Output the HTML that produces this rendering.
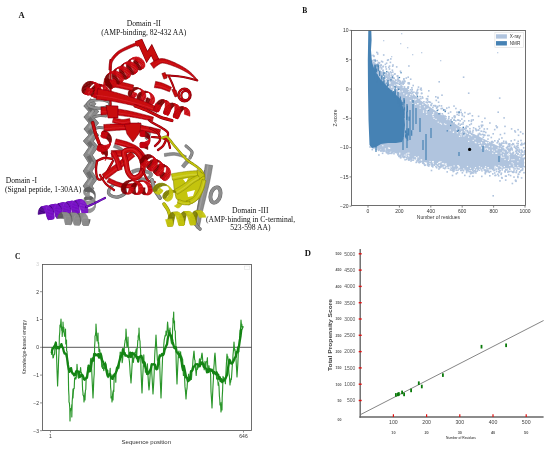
<!DOCTYPE html>
<html><head><meta charset="utf-8"><style>
html,body{margin:0;padding:0;background:#fff;}
svg{display:block;}
</style></head><body>
<svg width="550" height="449" viewBox="0 0 550 449">
<rect width="550" height="449" fill="#fff"/>
<g font-family="Liberation Sans, DejaVu Sans, sans-serif"><polygon points="369.0,58.0 372.0,62.0 380.0,70.0 390.0,78.0 400.0,84.0 410.0,91.0 420.0,100.0 430.0,107.0 440.0,114.0 450.0,120.5 460.0,127.0 470.0,132.0 480.0,137.0 490.0,142.0 500.0,147.0 510.0,153.0 518.0,156.0 524.0,158.0 524.0,167.0 520.0,167.0 510.0,168.0 500.0,169.0 490.0,169.5 480.0,170.0 470.0,170.0 460.0,169.5 450.0,168.0 440.0,166.0 428.0,163.0 415.0,159.5 404.0,156.0 392.0,152.0 380.0,149.5 370.0,146.0" fill="#b0c4de"/><rect x="382.5" y="65.5" width="1.6" height="1.6" fill="#b0c4de"/><rect x="459.4" y="124.4" width="1.6" height="1.6" fill="#b0c4de"/><rect x="443.5" y="109.0" width="1.6" height="1.6" fill="#b0c4de"/><rect x="386.8" y="59.5" width="1.6" height="1.6" fill="#b0c4de"/><rect x="435.9" y="107.5" width="1.6" height="1.6" fill="#b0c4de"/><rect x="517.4" y="140.5" width="1.6" height="1.6" fill="#b0c4de"/><rect x="477.1" y="135.1" width="1.6" height="1.6" fill="#b0c4de"/><rect x="520.1" y="144.0" width="1.6" height="1.6" fill="#b0c4de"/><rect x="507.4" y="145.5" width="1.6" height="1.6" fill="#b0c4de"/><rect x="489.1" y="122.2" width="1.6" height="1.6" fill="#b0c4de"/><rect x="427.2" y="95.6" width="1.6" height="1.6" fill="#b0c4de"/><rect x="513.6" y="146.3" width="1.6" height="1.6" fill="#b0c4de"/><rect x="415.4" y="161.6" width="1.6" height="1.6" fill="#b0c4de"/><rect x="403.1" y="156.6" width="1.6" height="1.6" fill="#b0c4de"/><rect x="475.0" y="170.3" width="1.6" height="1.6" fill="#b0c4de"/><rect x="486.8" y="169.5" width="1.6" height="1.6" fill="#b0c4de"/><rect x="500.9" y="142.4" width="1.6" height="1.6" fill="#b0c4de"/><rect x="391.9" y="151.6" width="1.6" height="1.6" fill="#b0c4de"/><rect x="504.2" y="125.6" width="1.6" height="1.6" fill="#b0c4de"/><rect x="431.1" y="163.4" width="1.6" height="1.6" fill="#b0c4de"/><rect x="397.1" y="153.7" width="1.6" height="1.6" fill="#b0c4de"/><rect x="457.1" y="169.3" width="1.6" height="1.6" fill="#b0c4de"/><rect x="501.1" y="137.2" width="1.6" height="1.6" fill="#b0c4de"/><rect x="465.9" y="170.8" width="1.6" height="1.6" fill="#b0c4de"/><rect x="377.6" y="67.0" width="1.6" height="1.6" fill="#b0c4de"/><rect x="399.2" y="81.4" width="1.6" height="1.6" fill="#b0c4de"/><rect x="388.8" y="65.3" width="1.6" height="1.6" fill="#b0c4de"/><rect x="500.9" y="176.8" width="1.6" height="1.6" fill="#b0c4de"/><rect x="402.3" y="80.3" width="1.6" height="1.6" fill="#b0c4de"/><rect x="377.2" y="148.2" width="1.6" height="1.6" fill="#b0c4de"/><rect x="460.6" y="169.6" width="1.6" height="1.6" fill="#b0c4de"/><rect x="450.3" y="119.1" width="1.6" height="1.6" fill="#b0c4de"/><rect x="446.0" y="107.3" width="1.6" height="1.6" fill="#b0c4de"/><rect x="452.3" y="169.1" width="1.6" height="1.6" fill="#b0c4de"/><rect x="372.2" y="59.7" width="1.6" height="1.6" fill="#b0c4de"/><rect x="484.1" y="117.5" width="1.6" height="1.6" fill="#b0c4de"/><rect x="510.2" y="148.2" width="1.6" height="1.6" fill="#b0c4de"/><rect x="423.1" y="101.0" width="1.6" height="1.6" fill="#b0c4de"/><rect x="453.9" y="168.1" width="1.6" height="1.6" fill="#b0c4de"/><rect x="484.5" y="172.0" width="1.6" height="1.6" fill="#b0c4de"/><rect x="484.5" y="172.9" width="1.6" height="1.6" fill="#b0c4de"/><rect x="408.5" y="83.0" width="1.6" height="1.6" fill="#b0c4de"/><rect x="409.8" y="89.0" width="1.6" height="1.6" fill="#b0c4de"/><rect x="465.1" y="126.6" width="1.6" height="1.6" fill="#b0c4de"/><rect x="437.8" y="101.4" width="1.6" height="1.6" fill="#b0c4de"/><rect x="382.9" y="54.2" width="1.6" height="1.6" fill="#b0c4de"/><rect x="431.9" y="164.3" width="1.6" height="1.6" fill="#b0c4de"/><rect x="399.8" y="154.4" width="1.6" height="1.6" fill="#b0c4de"/><rect x="392.0" y="71.3" width="1.6" height="1.6" fill="#b0c4de"/><rect x="404.1" y="80.8" width="1.6" height="1.6" fill="#b0c4de"/><rect x="388.7" y="68.2" width="1.6" height="1.6" fill="#b0c4de"/><rect x="506.3" y="169.1" width="1.6" height="1.6" fill="#b0c4de"/><rect x="452.5" y="168.1" width="1.6" height="1.6" fill="#b0c4de"/><rect x="460.4" y="111.6" width="1.6" height="1.6" fill="#b0c4de"/><rect x="514.5" y="153.7" width="1.6" height="1.6" fill="#b0c4de"/><rect x="379.2" y="64.6" width="1.6" height="1.6" fill="#b0c4de"/><rect x="405.9" y="158.6" width="1.6" height="1.6" fill="#b0c4de"/><rect x="410.3" y="157.9" width="1.6" height="1.6" fill="#b0c4de"/><rect x="426.8" y="163.2" width="1.6" height="1.6" fill="#b0c4de"/><rect x="490.7" y="141.1" width="1.6" height="1.6" fill="#b0c4de"/><rect x="438.0" y="165.7" width="1.6" height="1.6" fill="#b0c4de"/><rect x="518.7" y="151.3" width="1.6" height="1.6" fill="#b0c4de"/><rect x="488.4" y="171.5" width="1.6" height="1.6" fill="#b0c4de"/><rect x="472.1" y="175.5" width="1.6" height="1.6" fill="#b0c4de"/><rect x="454.0" y="115.2" width="1.6" height="1.6" fill="#b0c4de"/><rect x="419.4" y="161.1" width="1.6" height="1.6" fill="#b0c4de"/><rect x="491.0" y="141.4" width="1.6" height="1.6" fill="#b0c4de"/><rect x="452.4" y="170.7" width="1.6" height="1.6" fill="#b0c4de"/><rect x="468.9" y="124.0" width="1.6" height="1.6" fill="#b0c4de"/><rect x="480.6" y="124.5" width="1.6" height="1.6" fill="#b0c4de"/><rect x="505.0" y="168.9" width="1.6" height="1.6" fill="#b0c4de"/><rect x="387.1" y="151.6" width="1.6" height="1.6" fill="#b0c4de"/><rect x="411.1" y="87.0" width="1.6" height="1.6" fill="#b0c4de"/><rect x="394.2" y="73.1" width="1.6" height="1.6" fill="#b0c4de"/><rect x="480.9" y="125.9" width="1.6" height="1.6" fill="#b0c4de"/><rect x="436.5" y="106.4" width="1.6" height="1.6" fill="#b0c4de"/><rect x="412.6" y="159.3" width="1.6" height="1.6" fill="#b0c4de"/><rect x="453.3" y="115.4" width="1.6" height="1.6" fill="#b0c4de"/><rect x="509.0" y="168.4" width="1.6" height="1.6" fill="#b0c4de"/><rect x="466.1" y="169.7" width="1.6" height="1.6" fill="#b0c4de"/><rect x="433.5" y="164.4" width="1.6" height="1.6" fill="#b0c4de"/><rect x="439.1" y="165.8" width="1.6" height="1.6" fill="#b0c4de"/><rect x="423.9" y="164.5" width="1.6" height="1.6" fill="#b0c4de"/><rect x="477.3" y="129.4" width="1.6" height="1.6" fill="#b0c4de"/><rect x="436.5" y="164.9" width="1.6" height="1.6" fill="#b0c4de"/><rect x="392.2" y="64.2" width="1.6" height="1.6" fill="#b0c4de"/><rect x="522.4" y="154.1" width="1.6" height="1.6" fill="#b0c4de"/><rect x="399.9" y="155.3" width="1.6" height="1.6" fill="#b0c4de"/><rect x="496.4" y="142.0" width="1.6" height="1.6" fill="#b0c4de"/><rect x="441.1" y="165.9" width="1.6" height="1.6" fill="#b0c4de"/><rect x="510.4" y="140.1" width="1.6" height="1.6" fill="#b0c4de"/><rect x="456.2" y="111.4" width="1.6" height="1.6" fill="#b0c4de"/><rect x="512.8" y="167.1" width="1.6" height="1.6" fill="#b0c4de"/><rect x="472.0" y="131.2" width="1.6" height="1.6" fill="#b0c4de"/><rect x="390.8" y="152.6" width="1.6" height="1.6" fill="#b0c4de"/><rect x="449.8" y="111.2" width="1.6" height="1.6" fill="#b0c4de"/><rect x="497.7" y="168.3" width="1.6" height="1.6" fill="#b0c4de"/><rect x="402.1" y="156.0" width="1.6" height="1.6" fill="#b0c4de"/><rect x="471.1" y="172.4" width="1.6" height="1.6" fill="#b0c4de"/><rect x="483.0" y="134.1" width="1.6" height="1.6" fill="#b0c4de"/><rect x="398.2" y="153.6" width="1.6" height="1.6" fill="#b0c4de"/><rect x="476.3" y="170.3" width="1.6" height="1.6" fill="#b0c4de"/><rect x="376.7" y="63.2" width="1.6" height="1.6" fill="#b0c4de"/><rect x="440.7" y="105.1" width="1.6" height="1.6" fill="#b0c4de"/><rect x="387.7" y="150.6" width="1.6" height="1.6" fill="#b0c4de"/><rect x="514.6" y="131.2" width="1.6" height="1.6" fill="#b0c4de"/><rect x="369.7" y="54.7" width="1.6" height="1.6" fill="#b0c4de"/><rect x="466.6" y="169.2" width="1.6" height="1.6" fill="#b0c4de"/><rect x="431.4" y="163.3" width="1.6" height="1.6" fill="#b0c4de"/><rect x="498.7" y="142.7" width="1.6" height="1.6" fill="#b0c4de"/><rect x="403.7" y="155.5" width="1.6" height="1.6" fill="#b0c4de"/><rect x="407.1" y="86.6" width="1.6" height="1.6" fill="#b0c4de"/><rect x="482.4" y="130.7" width="1.6" height="1.6" fill="#b0c4de"/><rect x="477.9" y="129.4" width="1.6" height="1.6" fill="#b0c4de"/><rect x="388.3" y="73.8" width="1.6" height="1.6" fill="#b0c4de"/><rect x="482.5" y="136.4" width="1.6" height="1.6" fill="#b0c4de"/><rect x="493.6" y="168.7" width="1.6" height="1.6" fill="#b0c4de"/><rect x="380.2" y="150.0" width="1.6" height="1.6" fill="#b0c4de"/><rect x="435.1" y="165.8" width="1.6" height="1.6" fill="#b0c4de"/><rect x="380.0" y="150.1" width="1.6" height="1.6" fill="#b0c4de"/><rect x="411.4" y="88.8" width="1.6" height="1.6" fill="#b0c4de"/><rect x="452.1" y="168.5" width="1.6" height="1.6" fill="#b0c4de"/><rect x="497.4" y="111.4" width="1.6" height="1.6" fill="#b0c4de"/><rect x="388.3" y="72.4" width="1.6" height="1.6" fill="#b0c4de"/><rect x="416.0" y="93.9" width="1.6" height="1.6" fill="#b0c4de"/><rect x="492.2" y="141.4" width="1.6" height="1.6" fill="#b0c4de"/><rect x="515.8" y="169.8" width="1.6" height="1.6" fill="#b0c4de"/><rect x="399.0" y="155.5" width="1.6" height="1.6" fill="#b0c4de"/><rect x="472.8" y="127.0" width="1.6" height="1.6" fill="#b0c4de"/><rect x="520.8" y="156.1" width="1.6" height="1.6" fill="#b0c4de"/><rect x="380.8" y="67.2" width="1.6" height="1.6" fill="#b0c4de"/><rect x="466.6" y="169.7" width="1.6" height="1.6" fill="#b0c4de"/><rect x="426.7" y="98.1" width="1.6" height="1.6" fill="#b0c4de"/><rect x="410.5" y="158.0" width="1.6" height="1.6" fill="#b0c4de"/><rect x="401.4" y="155.1" width="1.6" height="1.6" fill="#b0c4de"/><rect x="422.1" y="162.3" width="1.6" height="1.6" fill="#b0c4de"/><rect x="403.1" y="82.4" width="1.6" height="1.6" fill="#b0c4de"/><rect x="458.2" y="112.3" width="1.6" height="1.6" fill="#b0c4de"/><rect x="474.3" y="171.0" width="1.6" height="1.6" fill="#b0c4de"/><rect x="469.2" y="130.2" width="1.6" height="1.6" fill="#b0c4de"/><rect x="377.8" y="61.9" width="1.6" height="1.6" fill="#b0c4de"/><rect x="426.7" y="99.4" width="1.6" height="1.6" fill="#b0c4de"/><rect x="401.3" y="82.0" width="1.6" height="1.6" fill="#b0c4de"/><rect x="502.2" y="142.3" width="1.6" height="1.6" fill="#b0c4de"/><rect x="410.2" y="160.2" width="1.6" height="1.6" fill="#b0c4de"/><rect x="428.7" y="101.3" width="1.6" height="1.6" fill="#b0c4de"/><rect x="458.1" y="114.4" width="1.6" height="1.6" fill="#b0c4de"/><rect x="508.9" y="167.4" width="1.6" height="1.6" fill="#b0c4de"/><rect x="428.1" y="101.0" width="1.6" height="1.6" fill="#b0c4de"/><rect x="493.7" y="169.3" width="1.6" height="1.6" fill="#b0c4de"/><rect x="382.6" y="150.5" width="1.6" height="1.6" fill="#b0c4de"/><rect x="416.1" y="159.4" width="1.6" height="1.6" fill="#b0c4de"/><rect x="398.3" y="153.6" width="1.6" height="1.6" fill="#b0c4de"/><rect x="389.7" y="71.1" width="1.6" height="1.6" fill="#b0c4de"/><rect x="460.5" y="123.4" width="1.6" height="1.6" fill="#b0c4de"/><rect x="478.7" y="132.6" width="1.6" height="1.6" fill="#b0c4de"/><rect x="369.6" y="54.6" width="1.6" height="1.6" fill="#b0c4de"/><rect x="376.9" y="53.2" width="1.6" height="1.6" fill="#b0c4de"/><rect x="477.8" y="115.5" width="1.6" height="1.6" fill="#b0c4de"/><rect x="387.7" y="74.3" width="1.6" height="1.6" fill="#b0c4de"/><rect x="504.9" y="179.3" width="1.6" height="1.6" fill="#b0c4de"/><rect x="427.4" y="163.4" width="1.6" height="1.6" fill="#b0c4de"/><rect x="426.5" y="101.5" width="1.6" height="1.6" fill="#b0c4de"/><rect x="386.0" y="150.4" width="1.6" height="1.6" fill="#b0c4de"/><rect x="462.4" y="121.8" width="1.6" height="1.6" fill="#b0c4de"/><rect x="486.0" y="170.1" width="1.6" height="1.6" fill="#b0c4de"/><rect x="429.6" y="101.6" width="1.6" height="1.6" fill="#b0c4de"/><rect x="491.3" y="140.7" width="1.6" height="1.6" fill="#b0c4de"/><rect x="377.8" y="61.8" width="1.6" height="1.6" fill="#b0c4de"/><rect x="514.4" y="167.8" width="1.6" height="1.6" fill="#b0c4de"/><rect x="431.5" y="164.5" width="1.6" height="1.6" fill="#b0c4de"/><rect x="423.4" y="163.2" width="1.6" height="1.6" fill="#b0c4de"/><rect x="391.8" y="76.5" width="1.6" height="1.6" fill="#b0c4de"/><rect x="397.1" y="79.2" width="1.6" height="1.6" fill="#b0c4de"/><rect x="494.0" y="140.0" width="1.6" height="1.6" fill="#b0c4de"/><rect x="466.7" y="129.8" width="1.6" height="1.6" fill="#b0c4de"/><rect x="397.8" y="79.9" width="1.6" height="1.6" fill="#b0c4de"/><rect x="369.8" y="145.8" width="1.6" height="1.6" fill="#b0c4de"/><rect x="375.3" y="148.6" width="1.6" height="1.6" fill="#b0c4de"/><rect x="513.2" y="169.3" width="1.6" height="1.6" fill="#b0c4de"/><rect x="373.8" y="147.0" width="1.6" height="1.6" fill="#b0c4de"/><rect x="370.9" y="146.0" width="1.6" height="1.6" fill="#b0c4de"/><rect x="485.0" y="131.7" width="1.6" height="1.6" fill="#b0c4de"/><rect x="468.4" y="170.9" width="1.6" height="1.6" fill="#b0c4de"/><rect x="501.4" y="169.1" width="1.6" height="1.6" fill="#b0c4de"/><rect x="447.7" y="112.5" width="1.6" height="1.6" fill="#b0c4de"/><rect x="399.6" y="80.5" width="1.6" height="1.6" fill="#b0c4de"/><rect x="416.8" y="96.4" width="1.6" height="1.6" fill="#b0c4de"/><rect x="493.9" y="172.2" width="1.6" height="1.6" fill="#b0c4de"/><rect x="478.7" y="169.3" width="1.6" height="1.6" fill="#b0c4de"/><rect x="505.7" y="147.0" width="1.6" height="1.6" fill="#b0c4de"/><rect x="388.0" y="150.9" width="1.6" height="1.6" fill="#b0c4de"/><rect x="517.8" y="173.4" width="1.6" height="1.6" fill="#b0c4de"/><rect x="470.5" y="123.1" width="1.6" height="1.6" fill="#b0c4de"/><rect x="382.5" y="71.1" width="1.6" height="1.6" fill="#b0c4de"/><rect x="394.8" y="79.3" width="1.6" height="1.6" fill="#b0c4de"/><rect x="373.2" y="55.6" width="1.6" height="1.6" fill="#b0c4de"/><rect x="481.9" y="124.5" width="1.6" height="1.6" fill="#b0c4de"/><rect x="388.0" y="66.5" width="1.6" height="1.6" fill="#b0c4de"/><rect x="497.2" y="140.1" width="1.6" height="1.6" fill="#b0c4de"/><rect x="495.0" y="174.5" width="1.6" height="1.6" fill="#b0c4de"/><rect x="441.6" y="107.6" width="1.6" height="1.6" fill="#b0c4de"/><rect x="375.8" y="64.3" width="1.6" height="1.6" fill="#b0c4de"/><rect x="443.2" y="115.8" width="1.6" height="1.6" fill="#b0c4de"/><rect x="434.6" y="105.2" width="1.6" height="1.6" fill="#b0c4de"/><rect x="388.5" y="73.2" width="1.6" height="1.6" fill="#b0c4de"/><rect x="381.8" y="61.1" width="1.6" height="1.6" fill="#b0c4de"/><rect x="416.1" y="160.2" width="1.6" height="1.6" fill="#b0c4de"/><rect x="371.4" y="60.2" width="1.6" height="1.6" fill="#b0c4de"/><rect x="461.0" y="118.3" width="1.6" height="1.6" fill="#b0c4de"/><rect x="380.6" y="68.1" width="1.6" height="1.6" fill="#b0c4de"/><rect x="484.8" y="170.5" width="1.6" height="1.6" fill="#b0c4de"/><rect x="505.0" y="149.6" width="1.6" height="1.6" fill="#b0c4de"/><rect x="427.1" y="164.7" width="1.6" height="1.6" fill="#b0c4de"/><rect x="448.0" y="117.9" width="1.6" height="1.6" fill="#b0c4de"/><rect x="371.8" y="146.5" width="1.6" height="1.6" fill="#b0c4de"/><rect x="385.0" y="66.1" width="1.6" height="1.6" fill="#b0c4de"/><rect x="509.7" y="148.8" width="1.6" height="1.6" fill="#b0c4de"/><rect x="377.1" y="64.1" width="1.6" height="1.6" fill="#b0c4de"/><rect x="401.1" y="83.0" width="1.6" height="1.6" fill="#b0c4de"/><rect x="505.2" y="140.7" width="1.6" height="1.6" fill="#b0c4de"/><rect x="438.8" y="166.6" width="1.6" height="1.6" fill="#b0c4de"/><rect x="515.7" y="150.9" width="1.6" height="1.6" fill="#b0c4de"/><rect x="448.0" y="115.9" width="1.6" height="1.6" fill="#b0c4de"/><rect x="416.5" y="89.7" width="1.6" height="1.6" fill="#b0c4de"/><rect x="497.9" y="170.6" width="1.6" height="1.6" fill="#b0c4de"/><rect x="521.0" y="169.4" width="1.6" height="1.6" fill="#b0c4de"/><rect x="387.3" y="152.1" width="1.6" height="1.6" fill="#b0c4de"/><rect x="469.8" y="170.4" width="1.6" height="1.6" fill="#b0c4de"/><rect x="450.4" y="119.0" width="1.6" height="1.6" fill="#b0c4de"/><rect x="512.5" y="151.9" width="1.6" height="1.6" fill="#b0c4de"/><rect x="374.3" y="59.3" width="1.6" height="1.6" fill="#b0c4de"/><rect x="451.7" y="174.7" width="1.6" height="1.6" fill="#b0c4de"/><rect x="467.9" y="170.1" width="1.6" height="1.6" fill="#b0c4de"/><rect x="380.8" y="60.5" width="1.6" height="1.6" fill="#b0c4de"/><rect x="402.0" y="81.4" width="1.6" height="1.6" fill="#b0c4de"/><rect x="462.2" y="123.3" width="1.6" height="1.6" fill="#b0c4de"/><rect x="391.0" y="152.0" width="1.6" height="1.6" fill="#b0c4de"/><rect x="389.7" y="77.1" width="1.6" height="1.6" fill="#b0c4de"/><rect x="464.1" y="111.8" width="1.6" height="1.6" fill="#b0c4de"/><rect x="410.5" y="157.8" width="1.6" height="1.6" fill="#b0c4de"/><rect x="515.2" y="180.5" width="1.6" height="1.6" fill="#b0c4de"/><rect x="459.8" y="109.2" width="1.6" height="1.6" fill="#b0c4de"/><rect x="484.0" y="134.4" width="1.6" height="1.6" fill="#b0c4de"/><rect x="387.4" y="151.0" width="1.6" height="1.6" fill="#b0c4de"/><rect x="515.8" y="149.5" width="1.6" height="1.6" fill="#b0c4de"/><rect x="488.2" y="134.7" width="1.6" height="1.6" fill="#b0c4de"/><rect x="421.0" y="92.5" width="1.6" height="1.6" fill="#b0c4de"/><rect x="505.1" y="169.0" width="1.6" height="1.6" fill="#b0c4de"/><rect x="472.8" y="172.2" width="1.6" height="1.6" fill="#b0c4de"/><rect x="377.8" y="66.6" width="1.6" height="1.6" fill="#b0c4de"/><rect x="489.9" y="170.7" width="1.6" height="1.6" fill="#b0c4de"/><rect x="381.3" y="150.2" width="1.6" height="1.6" fill="#b0c4de"/><rect x="406.2" y="156.1" width="1.6" height="1.6" fill="#b0c4de"/><rect x="503.3" y="117.1" width="1.6" height="1.6" fill="#b0c4de"/><rect x="492.4" y="133.0" width="1.6" height="1.6" fill="#b0c4de"/><rect x="385.5" y="68.2" width="1.6" height="1.6" fill="#b0c4de"/><rect x="408.5" y="157.2" width="1.6" height="1.6" fill="#b0c4de"/><rect x="465.8" y="171.7" width="1.6" height="1.6" fill="#b0c4de"/><rect x="431.1" y="102.8" width="1.6" height="1.6" fill="#b0c4de"/><rect x="470.2" y="171.4" width="1.6" height="1.6" fill="#b0c4de"/><rect x="437.2" y="109.1" width="1.6" height="1.6" fill="#b0c4de"/><rect x="468.0" y="120.0" width="1.6" height="1.6" fill="#b0c4de"/><rect x="395.1" y="79.7" width="1.6" height="1.6" fill="#b0c4de"/><rect x="393.8" y="73.3" width="1.6" height="1.6" fill="#b0c4de"/><rect x="422.1" y="161.2" width="1.6" height="1.6" fill="#b0c4de"/><rect x="378.1" y="154.2" width="1.6" height="1.6" fill="#b0c4de"/><rect x="485.7" y="171.0" width="1.6" height="1.6" fill="#b0c4de"/><rect x="495.8" y="170.6" width="1.6" height="1.6" fill="#b0c4de"/><rect x="447.2" y="167.0" width="1.6" height="1.6" fill="#b0c4de"/><rect x="435.0" y="96.0" width="1.6" height="1.6" fill="#b0c4de"/><rect x="378.7" y="148.6" width="1.6" height="1.6" fill="#b0c4de"/><rect x="428.0" y="90.0" width="1.6" height="1.6" fill="#b0c4de"/><rect x="457.8" y="168.5" width="1.6" height="1.6" fill="#b0c4de"/><rect x="420.1" y="160.9" width="1.6" height="1.6" fill="#b0c4de"/><rect x="497.3" y="140.9" width="1.6" height="1.6" fill="#b0c4de"/><rect x="474.1" y="169.2" width="1.6" height="1.6" fill="#b0c4de"/><rect x="387.6" y="73.9" width="1.6" height="1.6" fill="#b0c4de"/><rect x="372.4" y="146.7" width="1.6" height="1.6" fill="#b0c4de"/><rect x="442.7" y="167.3" width="1.6" height="1.6" fill="#b0c4de"/><rect x="407.5" y="82.8" width="1.6" height="1.6" fill="#b0c4de"/><rect x="416.9" y="91.9" width="1.6" height="1.6" fill="#b0c4de"/><rect x="381.8" y="152.5" width="1.6" height="1.6" fill="#b0c4de"/><rect x="456.4" y="113.7" width="1.6" height="1.6" fill="#b0c4de"/><rect x="425.4" y="101.4" width="1.6" height="1.6" fill="#b0c4de"/><rect x="513.2" y="171.2" width="1.6" height="1.6" fill="#b0c4de"/><rect x="426.5" y="101.9" width="1.6" height="1.6" fill="#b0c4de"/><rect x="473.4" y="169.4" width="1.6" height="1.6" fill="#b0c4de"/><rect x="500.6" y="172.4" width="1.6" height="1.6" fill="#b0c4de"/><rect x="520.8" y="177.1" width="1.6" height="1.6" fill="#b0c4de"/><rect x="385.8" y="62.4" width="1.6" height="1.6" fill="#b0c4de"/><rect x="455.1" y="107.7" width="1.6" height="1.6" fill="#b0c4de"/><rect x="432.8" y="104.9" width="1.6" height="1.6" fill="#b0c4de"/><rect x="385.3" y="73.9" width="1.6" height="1.6" fill="#b0c4de"/><rect x="390.4" y="72.0" width="1.6" height="1.6" fill="#b0c4de"/><rect x="440.4" y="107.8" width="1.6" height="1.6" fill="#b0c4de"/><rect x="398.2" y="153.7" width="1.6" height="1.6" fill="#b0c4de"/><rect x="521.5" y="154.9" width="1.6" height="1.6" fill="#b0c4de"/><rect x="498.4" y="138.4" width="1.6" height="1.6" fill="#b0c4de"/><rect x="505.7" y="142.6" width="1.6" height="1.6" fill="#b0c4de"/><rect x="456.6" y="171.9" width="1.6" height="1.6" fill="#b0c4de"/><rect x="444.6" y="109.5" width="1.6" height="1.6" fill="#b0c4de"/><rect x="393.2" y="152.9" width="1.6" height="1.6" fill="#b0c4de"/><rect x="405.4" y="156.3" width="1.6" height="1.6" fill="#b0c4de"/><rect x="469.6" y="131.0" width="1.6" height="1.6" fill="#b0c4de"/><rect x="403.8" y="80.1" width="1.6" height="1.6" fill="#b0c4de"/><rect x="483.5" y="134.7" width="1.6" height="1.6" fill="#b0c4de"/><rect x="445.2" y="116.0" width="1.6" height="1.6" fill="#b0c4de"/><rect x="517.0" y="175.6" width="1.6" height="1.6" fill="#b0c4de"/><rect x="514.1" y="146.6" width="1.6" height="1.6" fill="#b0c4de"/><rect x="444.7" y="166.3" width="1.6" height="1.6" fill="#b0c4de"/><rect x="471.4" y="171.7" width="1.6" height="1.6" fill="#b0c4de"/><rect x="388.7" y="150.7" width="1.6" height="1.6" fill="#b0c4de"/><rect x="421.5" y="96.1" width="1.6" height="1.6" fill="#b0c4de"/><rect x="407.9" y="159.1" width="1.6" height="1.6" fill="#b0c4de"/><rect x="478.9" y="127.6" width="1.6" height="1.6" fill="#b0c4de"/><rect x="471.6" y="115.0" width="1.6" height="1.6" fill="#b0c4de"/><rect x="519.8" y="131.2" width="1.6" height="1.6" fill="#b0c4de"/><rect x="465.8" y="125.3" width="1.6" height="1.6" fill="#b0c4de"/><rect x="470.8" y="119.3" width="1.6" height="1.6" fill="#b0c4de"/><rect x="429.0" y="163.9" width="1.6" height="1.6" fill="#b0c4de"/><rect x="497.8" y="175.0" width="1.6" height="1.6" fill="#b0c4de"/><rect x="486.5" y="128.1" width="1.6" height="1.6" fill="#b0c4de"/><rect x="508.5" y="149.8" width="1.6" height="1.6" fill="#b0c4de"/><rect x="417.7" y="86.3" width="1.6" height="1.6" fill="#b0c4de"/><rect x="451.4" y="169.3" width="1.6" height="1.6" fill="#b0c4de"/><rect x="402.9" y="156.5" width="1.6" height="1.6" fill="#b0c4de"/><rect x="388.4" y="152.6" width="1.6" height="1.6" fill="#b0c4de"/><rect x="397.0" y="75.2" width="1.6" height="1.6" fill="#b0c4de"/><rect x="398.2" y="153.8" width="1.6" height="1.6" fill="#b0c4de"/><rect x="451.5" y="117.2" width="1.6" height="1.6" fill="#b0c4de"/><rect x="453.0" y="170.4" width="1.6" height="1.6" fill="#b0c4de"/><rect x="418.8" y="161.0" width="1.6" height="1.6" fill="#b0c4de"/><rect x="512.2" y="152.7" width="1.6" height="1.6" fill="#b0c4de"/><rect x="441.2" y="94.4" width="1.6" height="1.6" fill="#b0c4de"/><rect x="416.9" y="159.5" width="1.6" height="1.6" fill="#b0c4de"/><rect x="390.0" y="58.1" width="1.6" height="1.6" fill="#b0c4de"/><rect x="462.5" y="126.8" width="1.6" height="1.6" fill="#b0c4de"/><rect x="499.6" y="133.8" width="1.6" height="1.6" fill="#b0c4de"/><rect x="427.0" y="162.5" width="1.6" height="1.6" fill="#b0c4de"/><rect x="435.8" y="106.6" width="1.6" height="1.6" fill="#b0c4de"/><rect x="407.4" y="76.4" width="1.6" height="1.6" fill="#b0c4de"/><rect x="469.1" y="112.7" width="1.6" height="1.6" fill="#b0c4de"/><rect x="514.8" y="179.4" width="1.6" height="1.6" fill="#b0c4de"/><rect x="417.7" y="159.7" width="1.6" height="1.6" fill="#b0c4de"/><rect x="372.3" y="54.6" width="1.6" height="1.6" fill="#b0c4de"/><rect x="481.9" y="133.6" width="1.6" height="1.6" fill="#b0c4de"/><rect x="461.6" y="172.0" width="1.6" height="1.6" fill="#b0c4de"/><rect x="407.3" y="86.7" width="1.6" height="1.6" fill="#b0c4de"/><rect x="494.2" y="174.7" width="1.6" height="1.6" fill="#b0c4de"/><rect x="397.1" y="81.1" width="1.6" height="1.6" fill="#b0c4de"/><rect x="411.0" y="90.4" width="1.6" height="1.6" fill="#b0c4de"/><rect x="465.3" y="127.5" width="1.6" height="1.6" fill="#b0c4de"/><rect x="451.4" y="169.4" width="1.6" height="1.6" fill="#b0c4de"/><rect x="457.5" y="168.5" width="1.6" height="1.6" fill="#b0c4de"/><rect x="513.8" y="139.2" width="1.6" height="1.6" fill="#b0c4de"/><rect x="445.1" y="166.9" width="1.6" height="1.6" fill="#b0c4de"/><rect x="465.5" y="169.2" width="1.6" height="1.6" fill="#b0c4de"/><rect x="480.4" y="130.4" width="1.6" height="1.6" fill="#b0c4de"/><rect x="424.7" y="164.3" width="1.6" height="1.6" fill="#b0c4de"/><rect x="489.0" y="175.0" width="1.6" height="1.6" fill="#b0c4de"/><rect x="444.3" y="115.3" width="1.6" height="1.6" fill="#b0c4de"/><rect x="437.2" y="97.2" width="1.6" height="1.6" fill="#b0c4de"/><rect x="464.0" y="174.6" width="1.6" height="1.6" fill="#b0c4de"/><rect x="408.1" y="65.2" width="1.6" height="1.6" fill="#b0c4de"/><rect x="452.4" y="168.1" width="1.6" height="1.6" fill="#b0c4de"/><rect x="419.7" y="88.5" width="1.6" height="1.6" fill="#b0c4de"/><rect x="382.4" y="69.6" width="1.6" height="1.6" fill="#b0c4de"/><rect x="511.5" y="149.2" width="1.6" height="1.6" fill="#b0c4de"/><rect x="420.6" y="89.3" width="1.6" height="1.6" fill="#b0c4de"/><rect x="469.8" y="173.0" width="1.6" height="1.6" fill="#b0c4de"/><rect x="390.5" y="74.3" width="1.6" height="1.6" fill="#b0c4de"/><rect x="520.2" y="139.7" width="1.6" height="1.6" fill="#b0c4de"/><rect x="412.4" y="84.7" width="1.6" height="1.6" fill="#b0c4de"/><rect x="505.2" y="142.1" width="1.6" height="1.6" fill="#b0c4de"/><rect x="468.8" y="175.6" width="1.6" height="1.6" fill="#b0c4de"/><rect x="475.1" y="172.1" width="1.6" height="1.6" fill="#b0c4de"/><rect x="483.4" y="169.3" width="1.6" height="1.6" fill="#b0c4de"/><rect x="408.3" y="82.1" width="1.6" height="1.6" fill="#b0c4de"/><rect x="439.8" y="165.4" width="1.6" height="1.6" fill="#b0c4de"/><rect x="416.6" y="92.8" width="1.6" height="1.6" fill="#b0c4de"/><rect x="461.5" y="114.7" width="1.6" height="1.6" fill="#b0c4de"/><rect x="486.9" y="134.7" width="1.6" height="1.6" fill="#b0c4de"/><rect x="388.2" y="74.9" width="1.6" height="1.6" fill="#b0c4de"/><rect x="395.9" y="66.1" width="1.6" height="1.6" fill="#b0c4de"/><rect x="382.2" y="65.9" width="1.6" height="1.6" fill="#b0c4de"/><rect x="517.3" y="128.9" width="1.6" height="1.6" fill="#b0c4de"/><rect x="453.2" y="105.3" width="1.6" height="1.6" fill="#b0c4de"/><rect x="399.5" y="82.8" width="1.6" height="1.6" fill="#b0c4de"/><rect x="450.4" y="167.5" width="1.6" height="1.6" fill="#b0c4de"/><rect x="384.6" y="63.6" width="1.6" height="1.6" fill="#b0c4de"/><rect x="455.4" y="169.3" width="1.6" height="1.6" fill="#b0c4de"/><rect x="522.9" y="147.0" width="1.6" height="1.6" fill="#b0c4de"/><rect x="421.2" y="160.6" width="1.6" height="1.6" fill="#b0c4de"/><rect x="417.6" y="161.3" width="1.6" height="1.6" fill="#b0c4de"/><rect x="444.4" y="109.9" width="1.6" height="1.6" fill="#b0c4de"/><rect x="399.5" y="82.5" width="1.6" height="1.6" fill="#b0c4de"/><rect x="473.0" y="170.8" width="1.6" height="1.6" fill="#b0c4de"/><rect x="487.5" y="170.8" width="1.6" height="1.6" fill="#b0c4de"/><rect x="449.9" y="119.8" width="1.6" height="1.6" fill="#b0c4de"/><rect x="515.7" y="152.3" width="1.6" height="1.6" fill="#b0c4de"/><rect x="478.2" y="125.7" width="1.6" height="1.6" fill="#b0c4de"/><rect x="469.1" y="127.9" width="1.6" height="1.6" fill="#b0c4de"/><rect x="520.9" y="154.0" width="1.6" height="1.6" fill="#b0c4de"/><rect x="506.7" y="145.9" width="1.6" height="1.6" fill="#b0c4de"/><rect x="502.7" y="145.5" width="1.6" height="1.6" fill="#b0c4de"/><rect x="444.0" y="167.8" width="1.6" height="1.6" fill="#b0c4de"/><rect x="400.1" y="82.8" width="1.6" height="1.6" fill="#b0c4de"/><rect x="416.4" y="159.7" width="1.6" height="1.6" fill="#b0c4de"/><rect x="433.6" y="164.0" width="1.6" height="1.6" fill="#b0c4de"/><rect x="462.6" y="169.7" width="1.6" height="1.6" fill="#b0c4de"/><rect x="374.1" y="62.6" width="1.6" height="1.6" fill="#b0c4de"/><rect x="495.3" y="168.6" width="1.6" height="1.6" fill="#b0c4de"/><rect x="409.0" y="158.7" width="1.6" height="1.6" fill="#b0c4de"/><rect x="435.9" y="166.9" width="1.6" height="1.6" fill="#b0c4de"/><rect x="408.0" y="157.4" width="1.6" height="1.6" fill="#b0c4de"/><rect x="501.3" y="177.3" width="1.6" height="1.6" fill="#b0c4de"/><rect x="379.7" y="66.2" width="1.6" height="1.6" fill="#b0c4de"/><rect x="467.9" y="92.4" width="1.6" height="1.6" fill="#b0c4de"/><rect x="406.2" y="87.9" width="1.6" height="1.6" fill="#b0c4de"/><rect x="400.1" y="156.8" width="1.6" height="1.6" fill="#b0c4de"/><rect x="407.6" y="86.1" width="1.6" height="1.6" fill="#b0c4de"/><rect x="420.7" y="92.7" width="1.6" height="1.6" fill="#b0c4de"/><rect x="459.3" y="120.0" width="1.6" height="1.6" fill="#b0c4de"/><rect x="391.6" y="69.4" width="1.6" height="1.6" fill="#b0c4de"/><rect x="462.8" y="76.4" width="1.6" height="1.6" fill="#b0c4de"/><rect x="408.4" y="158.5" width="1.6" height="1.6" fill="#b0c4de"/><rect x="467.1" y="125.9" width="1.6" height="1.6" fill="#b0c4de"/><rect x="500.3" y="173.6" width="1.6" height="1.6" fill="#b0c4de"/><rect x="404.3" y="159.0" width="1.6" height="1.6" fill="#b0c4de"/><rect x="392.2" y="74.5" width="1.6" height="1.6" fill="#b0c4de"/><rect x="439.4" y="166.5" width="1.6" height="1.6" fill="#b0c4de"/><rect x="499.2" y="180.1" width="1.6" height="1.6" fill="#b0c4de"/><rect x="504.2" y="170.9" width="1.6" height="1.6" fill="#b0c4de"/><rect x="393.0" y="77.6" width="1.6" height="1.6" fill="#b0c4de"/><rect x="474.8" y="127.9" width="1.6" height="1.6" fill="#b0c4de"/><rect x="413.1" y="91.4" width="1.6" height="1.6" fill="#b0c4de"/><rect x="511.6" y="182.7" width="1.6" height="1.6" fill="#b0c4de"/><rect x="403.0" y="78.3" width="1.6" height="1.6" fill="#b0c4de"/><rect x="505.6" y="142.1" width="1.6" height="1.6" fill="#b0c4de"/><rect x="377.9" y="149.6" width="1.6" height="1.6" fill="#b0c4de"/><rect x="514.8" y="180.0" width="1.6" height="1.6" fill="#b0c4de"/><rect x="427.6" y="163.1" width="1.6" height="1.6" fill="#b0c4de"/><rect x="518.1" y="150.3" width="1.6" height="1.6" fill="#b0c4de"/><rect x="520.4" y="149.5" width="1.6" height="1.6" fill="#b0c4de"/><rect x="381.1" y="149.3" width="1.6" height="1.6" fill="#b0c4de"/><rect x="438.1" y="168.2" width="1.6" height="1.6" fill="#b0c4de"/><rect x="401.5" y="81.2" width="1.6" height="1.6" fill="#b0c4de"/><rect x="517.5" y="146.8" width="1.6" height="1.6" fill="#b0c4de"/><rect x="372.2" y="61.4" width="1.6" height="1.6" fill="#b0c4de"/><rect x="389.6" y="61.6" width="1.6" height="1.6" fill="#b0c4de"/><rect x="458.3" y="111.0" width="1.6" height="1.6" fill="#b0c4de"/><rect x="382.1" y="69.7" width="1.6" height="1.6" fill="#b0c4de"/><rect x="447.9" y="167.5" width="1.6" height="1.6" fill="#b0c4de"/><rect x="508.8" y="145.9" width="1.6" height="1.6" fill="#b0c4de"/><rect x="408.5" y="156.9" width="1.6" height="1.6" fill="#b0c4de"/><rect x="435.5" y="99.6" width="1.6" height="1.6" fill="#b0c4de"/><rect x="430.3" y="104.7" width="1.6" height="1.6" fill="#b0c4de"/><rect x="518.3" y="148.6" width="1.6" height="1.6" fill="#b0c4de"/><rect x="517.1" y="176.6" width="1.6" height="1.6" fill="#b0c4de"/><rect x="434.3" y="104.8" width="1.6" height="1.6" fill="#b0c4de"/><rect x="420.1" y="97.9" width="1.6" height="1.6" fill="#b0c4de"/><rect x="432.0" y="166.0" width="1.6" height="1.6" fill="#b0c4de"/><rect x="481.2" y="170.0" width="1.6" height="1.6" fill="#b0c4de"/><rect x="409.9" y="78.4" width="1.6" height="1.6" fill="#b0c4de"/><rect x="373.0" y="62.0" width="1.6" height="1.6" fill="#b0c4de"/><rect x="384.1" y="72.5" width="1.6" height="1.6" fill="#b0c4de"/><rect x="415.2" y="92.3" width="1.6" height="1.6" fill="#b0c4de"/><rect x="493.9" y="128.8" width="1.6" height="1.6" fill="#b0c4de"/><rect x="503.8" y="132.6" width="1.6" height="1.6" fill="#b0c4de"/><rect x="387.5" y="59.0" width="1.6" height="1.6" fill="#b0c4de"/><rect x="472.4" y="119.1" width="1.6" height="1.6" fill="#b0c4de"/><rect x="517.4" y="142.8" width="1.6" height="1.6" fill="#b0c4de"/><rect x="369.3" y="146.2" width="1.6" height="1.6" fill="#b0c4de"/><rect x="385.6" y="72.6" width="1.6" height="1.6" fill="#b0c4de"/><rect x="516.0" y="152.3" width="1.6" height="1.6" fill="#b0c4de"/><rect x="508.5" y="148.8" width="1.6" height="1.6" fill="#b0c4de"/><rect x="378.8" y="62.0" width="1.6" height="1.6" fill="#b0c4de"/><rect x="408.1" y="159.1" width="1.6" height="1.6" fill="#b0c4de"/><rect x="391.9" y="65.4" width="1.6" height="1.6" fill="#b0c4de"/><rect x="472.0" y="169.9" width="1.6" height="1.6" fill="#b0c4de"/><rect x="477.5" y="133.5" width="1.6" height="1.6" fill="#b0c4de"/><rect x="428.0" y="165.2" width="1.6" height="1.6" fill="#b0c4de"/><rect x="499.3" y="145.0" width="1.6" height="1.6" fill="#b0c4de"/><rect x="396.5" y="75.2" width="1.6" height="1.6" fill="#b0c4de"/><rect x="385.8" y="152.0" width="1.6" height="1.6" fill="#b0c4de"/><rect x="437.1" y="96.6" width="1.6" height="1.6" fill="#b0c4de"/><rect x="481.0" y="175.6" width="1.6" height="1.6" fill="#b0c4de"/><rect x="377.8" y="149.3" width="1.6" height="1.6" fill="#b0c4de"/><rect x="421.9" y="97.2" width="1.6" height="1.6" fill="#b0c4de"/><rect x="455.0" y="119.9" width="1.6" height="1.6" fill="#b0c4de"/><rect x="430.7" y="169.7" width="1.6" height="1.6" fill="#b0c4de"/><rect x="371.5" y="148.8" width="1.6" height="1.6" fill="#b0c4de"/><rect x="372.9" y="55.0" width="1.6" height="1.6" fill="#b0c4de"/><rect x="475.2" y="128.9" width="1.6" height="1.6" fill="#b0c4de"/><rect x="374.2" y="58.9" width="1.6" height="1.6" fill="#b0c4de"/><rect x="497.1" y="173.4" width="1.6" height="1.6" fill="#b0c4de"/><rect x="407.4" y="87.4" width="1.6" height="1.6" fill="#b0c4de"/><rect x="420.3" y="87.4" width="1.6" height="1.6" fill="#b0c4de"/><rect x="490.5" y="136.7" width="1.6" height="1.6" fill="#b0c4de"/><rect x="455.5" y="173.0" width="1.6" height="1.6" fill="#b0c4de"/><rect x="432.1" y="106.7" width="1.6" height="1.6" fill="#b0c4de"/><rect x="480.2" y="133.9" width="1.6" height="1.6" fill="#b0c4de"/><rect x="511.3" y="148.2" width="1.6" height="1.6" fill="#b0c4de"/><rect x="389.6" y="152.5" width="1.6" height="1.6" fill="#b0c4de"/><rect x="460.0" y="169.6" width="1.6" height="1.6" fill="#b0c4de"/><rect x="461.5" y="113.2" width="1.6" height="1.6" fill="#b0c4de"/><rect x="422.5" y="162.5" width="1.6" height="1.6" fill="#b0c4de"/><rect x="393.3" y="77.5" width="1.6" height="1.6" fill="#b0c4de"/><rect x="470.6" y="120.6" width="1.6" height="1.6" fill="#b0c4de"/><rect x="509.3" y="152.2" width="1.6" height="1.6" fill="#b0c4de"/><rect x="496.2" y="126.8" width="1.6" height="1.6" fill="#b0c4de"/><rect x="419.3" y="95.8" width="1.6" height="1.6" fill="#b0c4de"/><rect x="387.3" y="74.4" width="1.6" height="1.6" fill="#b0c4de"/><rect x="453.3" y="122.2" width="1.6" height="1.6" fill="#b0c4de"/><rect x="487.2" y="138.3" width="1.6" height="1.6" fill="#b0c4de"/><rect x="409.3" y="157.8" width="1.6" height="1.6" fill="#b0c4de"/><rect x="390.6" y="77.1" width="1.6" height="1.6" fill="#b0c4de"/><rect x="516.0" y="145.5" width="1.6" height="1.6" fill="#b0c4de"/><rect x="378.3" y="62.3" width="1.6" height="1.6" fill="#b0c4de"/><rect x="500.0" y="143.8" width="1.6" height="1.6" fill="#b0c4de"/><rect x="517.7" y="134.5" width="1.6" height="1.6" fill="#b0c4de"/><rect x="391.3" y="76.2" width="1.6" height="1.6" fill="#b0c4de"/><rect x="449.7" y="169.1" width="1.6" height="1.6" fill="#b0c4de"/><rect x="475.6" y="129.8" width="1.6" height="1.6" fill="#b0c4de"/><rect x="417.0" y="88.6" width="1.6" height="1.6" fill="#b0c4de"/><rect x="402.9" y="82.1" width="1.6" height="1.6" fill="#b0c4de"/><rect x="506.4" y="147.1" width="1.6" height="1.6" fill="#b0c4de"/><rect x="479.2" y="133.5" width="1.6" height="1.6" fill="#b0c4de"/><rect x="521.1" y="143.8" width="1.6" height="1.6" fill="#b0c4de"/><rect x="372.5" y="147.0" width="1.6" height="1.6" fill="#b0c4de"/><rect x="463.7" y="120.1" width="1.6" height="1.6" fill="#b0c4de"/><rect x="446.4" y="171.1" width="1.6" height="1.6" fill="#b0c4de"/><rect x="457.6" y="123.7" width="1.6" height="1.6" fill="#b0c4de"/><rect x="453.3" y="169.1" width="1.6" height="1.6" fill="#b0c4de"/><rect x="505.4" y="175.4" width="1.6" height="1.6" fill="#b0c4de"/><rect x="457.9" y="119.4" width="1.6" height="1.6" fill="#b0c4de"/><rect x="427.3" y="104.2" width="1.6" height="1.6" fill="#b0c4de"/><rect x="383.6" y="150.2" width="1.6" height="1.6" fill="#b0c4de"/><rect x="403.7" y="155.4" width="1.6" height="1.6" fill="#b0c4de"/><rect x="514.7" y="166.7" width="1.6" height="1.6" fill="#b0c4de"/><rect x="504.7" y="175.3" width="1.6" height="1.6" fill="#b0c4de"/><rect x="475.5" y="170.1" width="1.6" height="1.6" fill="#b0c4de"/><rect x="415.3" y="92.6" width="1.6" height="1.6" fill="#b0c4de"/><rect x="388.8" y="75.8" width="1.6" height="1.6" fill="#b0c4de"/><rect x="498.9" y="97.3" width="1.6" height="1.6" fill="#b0c4de"/><rect x="374.7" y="64.0" width="1.6" height="1.6" fill="#b0c4de"/><rect x="397.3" y="77.1" width="1.6" height="1.6" fill="#b0c4de"/><rect x="403.1" y="78.1" width="1.6" height="1.6" fill="#b0c4de"/><rect x="462.7" y="127.6" width="1.6" height="1.6" fill="#b0c4de"/><rect x="463.8" y="128.2" width="1.6" height="1.6" fill="#b0c4de"/><rect x="385.0" y="72.3" width="1.6" height="1.6" fill="#b0c4de"/><rect x="442.2" y="114.6" width="1.6" height="1.6" fill="#b0c4de"/><rect x="416.2" y="159.3" width="1.6" height="1.6" fill="#b0c4de"/><rect x="380.4" y="64.2" width="1.6" height="1.6" fill="#b0c4de"/><rect x="373.2" y="59.2" width="1.6" height="1.6" fill="#b0c4de"/><rect x="434.8" y="105.0" width="1.6" height="1.6" fill="#b0c4de"/><rect x="415.9" y="91.3" width="1.6" height="1.6" fill="#b0c4de"/><rect x="403.7" y="86.1" width="1.6" height="1.6" fill="#b0c4de"/><rect x="517.7" y="173.5" width="1.6" height="1.6" fill="#b0c4de"/><rect x="383.1" y="149.7" width="1.6" height="1.6" fill="#b0c4de"/><rect x="476.9" y="169.5" width="1.6" height="1.6" fill="#b0c4de"/><rect x="398.5" y="153.7" width="1.6" height="1.6" fill="#b0c4de"/><rect x="411.2" y="159.4" width="1.6" height="1.6" fill="#b0c4de"/><rect x="398.6" y="79.8" width="1.6" height="1.6" fill="#b0c4de"/><rect x="520.8" y="166.5" width="1.6" height="1.6" fill="#b0c4de"/><rect x="501.6" y="145.5" width="1.6" height="1.6" fill="#b0c4de"/><rect x="437.0" y="105.7" width="1.6" height="1.6" fill="#b0c4de"/><rect x="477.7" y="135.1" width="1.6" height="1.6" fill="#b0c4de"/><rect x="484.5" y="169.8" width="1.6" height="1.6" fill="#b0c4de"/><rect x="521.7" y="150.4" width="1.6" height="1.6" fill="#b0c4de"/><rect x="487.8" y="170.3" width="1.6" height="1.6" fill="#b0c4de"/><rect x="458.0" y="122.7" width="1.6" height="1.6" fill="#b0c4de"/><rect x="399.7" y="70.5" width="1.6" height="1.6" fill="#b0c4de"/><rect x="492.4" y="195.0" width="1.6" height="1.6" fill="#b0c4de"/><rect x="462.3" y="169.0" width="1.6" height="1.6" fill="#b0c4de"/><rect x="376.0" y="51.6" width="1.6" height="1.6" fill="#b0c4de"/><rect x="522.1" y="132.9" width="1.6" height="1.6" fill="#b0c4de"/><rect x="496.5" y="126.3" width="1.6" height="1.6" fill="#b0c4de"/><rect x="409.9" y="157.5" width="1.6" height="1.6" fill="#b0c4de"/><rect x="430.3" y="104.1" width="1.6" height="1.6" fill="#b0c4de"/><rect x="492.0" y="168.7" width="1.6" height="1.6" fill="#b0c4de"/><rect x="457.0" y="119.2" width="1.6" height="1.6" fill="#b0c4de"/><rect x="517.1" y="144.7" width="1.6" height="1.6" fill="#b0c4de"/><rect x="465.2" y="127.9" width="1.6" height="1.6" fill="#b0c4de"/><rect x="507.9" y="173.9" width="1.6" height="1.6" fill="#b0c4de"/><rect x="518.2" y="150.7" width="1.6" height="1.6" fill="#b0c4de"/><rect x="374.4" y="59.5" width="1.6" height="1.6" fill="#b0c4de"/><rect x="502.9" y="140.4" width="1.6" height="1.6" fill="#b0c4de"/><rect x="402.4" y="83.5" width="1.6" height="1.6" fill="#b0c4de"/><rect x="384.2" y="72.9" width="1.6" height="1.6" fill="#b0c4de"/><rect x="380.3" y="64.6" width="1.6" height="1.6" fill="#b0c4de"/><rect x="415.9" y="159.4" width="1.6" height="1.6" fill="#b0c4de"/><rect x="514.3" y="167.6" width="1.6" height="1.6" fill="#b0c4de"/><rect x="405.5" y="77.3" width="1.6" height="1.6" fill="#b0c4de"/><rect x="406.3" y="157.3" width="1.6" height="1.6" fill="#b0c4de"/><rect x="495.4" y="125.1" width="1.6" height="1.6" fill="#b0c4de"/><rect x="382.0" y="149.3" width="1.6" height="1.6" fill="#b0c4de"/><rect x="516.4" y="148.5" width="1.6" height="1.6" fill="#b0c4de"/><rect x="439.3" y="112.8" width="1.6" height="1.6" fill="#b0c4de"/><rect x="425.7" y="97.9" width="1.6" height="1.6" fill="#b0c4de"/><rect x="483.5" y="128.2" width="1.6" height="1.6" fill="#b0c4de"/><rect x="407.5" y="82.0" width="1.6" height="1.6" fill="#b0c4de"/><rect x="514.0" y="130.1" width="1.6" height="1.6" fill="#b0c4de"/><rect x="431.0" y="165.2" width="1.6" height="1.6" fill="#b0c4de"/><rect x="385.2" y="150.8" width="1.6" height="1.6" fill="#b0c4de"/><rect x="387.3" y="153.0" width="1.6" height="1.6" fill="#b0c4de"/><rect x="397.2" y="78.4" width="1.6" height="1.6" fill="#b0c4de"/><rect x="513.2" y="176.3" width="1.6" height="1.6" fill="#b0c4de"/><rect x="397.3" y="154.0" width="1.6" height="1.6" fill="#b0c4de"/><rect x="448.2" y="106.6" width="1.6" height="1.6" fill="#b0c4de"/><rect x="422.7" y="161.2" width="1.6" height="1.6" fill="#b0c4de"/><rect x="399.6" y="156.8" width="1.6" height="1.6" fill="#b0c4de"/><rect x="463.4" y="115.7" width="1.6" height="1.6" fill="#b0c4de"/><rect x="509.8" y="174.8" width="1.6" height="1.6" fill="#b0c4de"/><rect x="438.6" y="104.9" width="1.6" height="1.6" fill="#b0c4de"/><rect x="412.0" y="91.8" width="1.6" height="1.6" fill="#b0c4de"/><rect x="438.4" y="81.0" width="1.6" height="1.6" fill="#b0c4de"/><rect x="509.5" y="148.0" width="1.6" height="1.6" fill="#b0c4de"/><rect x="493.2" y="169.8" width="1.6" height="1.6" fill="#b0c4de"/><rect x="403.8" y="156.6" width="1.6" height="1.6" fill="#b0c4de"/><rect x="442.9" y="115.3" width="1.6" height="1.6" fill="#b0c4de"/><rect x="510.8" y="128.1" width="1.6" height="1.6" fill="#b0c4de"/><rect x="467.4" y="113.3" width="1.6" height="1.6" fill="#b0c4de"/><rect x="481.3" y="121.0" width="1.6" height="1.6" fill="#b0c4de"/><rect x="448.0" y="116.0" width="1.6" height="1.6" fill="#b0c4de"/><rect x="378.0" y="67.3" width="1.6" height="1.6" fill="#b0c4de"/><rect x="492.0" y="173.1" width="1.6" height="1.6" fill="#b0c4de"/><rect x="398.1" y="155.6" width="1.6" height="1.6" fill="#b0c4de"/><rect x="440.6" y="165.8" width="1.6" height="1.6" fill="#b0c4de"/><rect x="483.6" y="130.8" width="1.6" height="1.6" fill="#b0c4de"/><rect x="472.3" y="129.6" width="1.6" height="1.6" fill="#b0c4de"/><rect x="508.4" y="170.7" width="1.6" height="1.6" fill="#b0c4de"/><rect x="438.9" y="167.0" width="1.6" height="1.6" fill="#b0c4de"/><rect x="521.9" y="167.7" width="1.6" height="1.6" fill="#b0c4de"/><rect x="453.7" y="116.9" width="1.6" height="1.6" fill="#b0c4de"/><rect x="387.4" y="71.6" width="1.6" height="1.6" fill="#b0c4de"/><rect x="373.4" y="62.7" width="1.6" height="1.6" fill="#b0c4de"/><rect x="418.5" y="98.5" width="1.6" height="1.6" fill="#b0c4de"/><rect x="418.5" y="161.9" width="1.6" height="1.6" fill="#b0c4de"/><rect x="388.2" y="76.2" width="1.6" height="1.6" fill="#b0c4de"/><rect x="391.6" y="77.3" width="1.6" height="1.6" fill="#b0c4de"/><rect x="454.3" y="116.2" width="1.6" height="1.6" fill="#b0c4de"/><rect x="498.6" y="171.6" width="1.6" height="1.6" fill="#b0c4de"/><rect x="462.6" y="169.8" width="1.6" height="1.6" fill="#b0c4de"/><rect x="376.3" y="59.9" width="1.6" height="1.6" fill="#b0c4de"/><rect x="441.5" y="113.0" width="1.6" height="1.6" fill="#b0c4de"/><rect x="512.2" y="165.1" width="1.6" height="1.6" fill="#b0c4de"/><rect x="512.5" y="143.5" width="1.6" height="1.6" fill="#b0c4de"/><rect x="506.8" y="154.1" width="1.6" height="1.6" fill="#b0c4de"/><rect x="500.4" y="143.3" width="1.6" height="1.6" fill="#b0c4de"/><rect x="516.2" y="142.6" width="1.6" height="1.6" fill="#b0c4de"/><rect x="504.9" y="160.5" width="1.6" height="1.6" fill="#b0c4de"/><rect x="518.5" y="150.2" width="1.6" height="1.6" fill="#b0c4de"/><rect x="499.2" y="169.8" width="1.6" height="1.6" fill="#b0c4de"/><rect x="515.3" y="165.1" width="1.6" height="1.6" fill="#b0c4de"/><rect x="515.4" y="163.3" width="1.6" height="1.6" fill="#b0c4de"/><rect x="499.1" y="146.1" width="1.6" height="1.6" fill="#b0c4de"/><rect x="521.2" y="151.1" width="1.6" height="1.6" fill="#b0c4de"/><rect x="513.8" y="163.5" width="1.6" height="1.6" fill="#b0c4de"/><rect x="511.2" y="144.0" width="1.6" height="1.6" fill="#b0c4de"/><rect x="512.8" y="156.3" width="1.6" height="1.6" fill="#b0c4de"/><rect x="505.2" y="155.7" width="1.6" height="1.6" fill="#b0c4de"/><rect x="512.7" y="143.3" width="1.6" height="1.6" fill="#b0c4de"/><rect x="507.6" y="148.3" width="1.6" height="1.6" fill="#b0c4de"/><rect x="510.8" y="147.5" width="1.6" height="1.6" fill="#b0c4de"/><rect x="508.8" y="156.1" width="1.6" height="1.6" fill="#b0c4de"/><rect x="501.5" y="149.5" width="1.6" height="1.6" fill="#b0c4de"/><rect x="512.6" y="160.8" width="1.6" height="1.6" fill="#b0c4de"/><rect x="522.1" y="161.0" width="1.6" height="1.6" fill="#b0c4de"/><rect x="512.4" y="171.6" width="1.6" height="1.6" fill="#b0c4de"/><rect x="523.6" y="157.8" width="1.6" height="1.6" fill="#b0c4de"/><rect x="510.2" y="170.5" width="1.6" height="1.6" fill="#b0c4de"/><rect x="506.9" y="166.9" width="1.6" height="1.6" fill="#b0c4de"/><rect x="502.2" y="147.5" width="1.6" height="1.6" fill="#b0c4de"/><rect x="505.0" y="157.3" width="1.6" height="1.6" fill="#b0c4de"/><rect x="507.2" y="148.5" width="1.6" height="1.6" fill="#b0c4de"/><rect x="499.6" y="144.3" width="1.6" height="1.6" fill="#b0c4de"/><rect x="521.6" y="166.0" width="1.6" height="1.6" fill="#b0c4de"/><rect x="518.5" y="161.2" width="1.6" height="1.6" fill="#b0c4de"/><rect x="512.5" y="156.1" width="1.6" height="1.6" fill="#b0c4de"/><rect x="515.8" y="155.1" width="1.6" height="1.6" fill="#b0c4de"/><rect x="520.8" y="149.4" width="1.6" height="1.6" fill="#b0c4de"/><rect x="509.6" y="165.5" width="1.6" height="1.6" fill="#b0c4de"/><rect x="512.7" y="164.8" width="1.6" height="1.6" fill="#b0c4de"/><rect x="517.1" y="153.5" width="1.6" height="1.6" fill="#b0c4de"/><rect x="508.7" y="144.0" width="1.6" height="1.6" fill="#b0c4de"/><rect x="507.6" y="170.6" width="1.6" height="1.6" fill="#b0c4de"/><rect x="499.1" y="169.8" width="1.6" height="1.6" fill="#b0c4de"/><rect x="520.5" y="165.5" width="1.6" height="1.6" fill="#b0c4de"/><rect x="501.6" y="167.5" width="1.6" height="1.6" fill="#b0c4de"/><rect x="523.6" y="152.0" width="1.6" height="1.6" fill="#b0c4de"/><rect x="501.0" y="147.0" width="1.6" height="1.6" fill="#b0c4de"/><rect x="504.4" y="149.9" width="1.6" height="1.6" fill="#b0c4de"/><rect x="499.2" y="148.7" width="1.6" height="1.6" fill="#b0c4de"/><rect x="507.1" y="164.7" width="1.6" height="1.6" fill="#b0c4de"/><rect x="524.0" y="142.4" width="1.6" height="1.6" fill="#b0c4de"/><rect x="521.8" y="169.1" width="1.6" height="1.6" fill="#b0c4de"/><rect x="523.6" y="157.3" width="1.6" height="1.6" fill="#b0c4de"/><rect x="507.6" y="148.8" width="1.6" height="1.6" fill="#b0c4de"/><rect x="505.1" y="149.8" width="1.6" height="1.6" fill="#b0c4de"/><rect x="504.3" y="154.9" width="1.6" height="1.6" fill="#b0c4de"/><rect x="499.0" y="146.2" width="1.6" height="1.6" fill="#b0c4de"/><rect x="508.9" y="143.0" width="1.6" height="1.6" fill="#b0c4de"/><rect x="519.9" y="163.7" width="1.6" height="1.6" fill="#b0c4de"/><rect x="503.9" y="165.3" width="1.6" height="1.6" fill="#b0c4de"/><rect x="523.5" y="165.9" width="1.6" height="1.6" fill="#b0c4de"/><rect x="505.1" y="160.5" width="1.6" height="1.6" fill="#b0c4de"/><rect x="516.6" y="167.5" width="1.6" height="1.6" fill="#b0c4de"/><rect x="508.0" y="150.0" width="1.6" height="1.6" fill="#b0c4de"/><rect x="508.0" y="143.5" width="1.6" height="1.6" fill="#b0c4de"/><rect x="520.5" y="162.3" width="1.6" height="1.6" fill="#b0c4de"/><rect x="511.6" y="158.8" width="1.6" height="1.6" fill="#b0c4de"/><rect x="523.1" y="143.2" width="1.6" height="1.6" fill="#b0c4de"/><rect x="521.8" y="151.1" width="1.6" height="1.6" fill="#b0c4de"/><rect x="510.8" y="155.5" width="1.6" height="1.6" fill="#b0c4de"/><rect x="505.9" y="153.5" width="1.6" height="1.6" fill="#b0c4de"/><rect x="512.6" y="151.6" width="1.6" height="1.6" fill="#b0c4de"/><rect x="503.2" y="142.4" width="1.6" height="1.6" fill="#b0c4de"/><rect x="506.1" y="157.8" width="1.6" height="1.6" fill="#b0c4de"/><rect x="498.6" y="143.7" width="1.6" height="1.6" fill="#b0c4de"/><rect x="520.9" y="142.5" width="1.6" height="1.6" fill="#b0c4de"/><rect x="499.7" y="152.8" width="1.6" height="1.6" fill="#b0c4de"/><rect x="515.5" y="162.2" width="1.6" height="1.6" fill="#b0c4de"/><rect x="512.1" y="154.8" width="1.6" height="1.6" fill="#b0c4de"/><rect x="507.8" y="143.5" width="1.6" height="1.6" fill="#b0c4de"/><rect x="516.7" y="168.0" width="1.6" height="1.6" fill="#b0c4de"/><rect x="524.1" y="150.5" width="1.6" height="1.6" fill="#b0c4de"/><rect x="509.4" y="149.9" width="1.6" height="1.6" fill="#b0c4de"/><rect x="516.6" y="164.0" width="1.6" height="1.6" fill="#b0c4de"/><rect x="502.1" y="148.6" width="1.6" height="1.6" fill="#b0c4de"/><rect x="522.0" y="160.1" width="1.6" height="1.6" fill="#b0c4de"/><rect x="501.9" y="152.9" width="1.6" height="1.6" fill="#b0c4de"/><rect x="508.8" y="163.4" width="1.6" height="1.6" fill="#b0c4de"/><rect x="519.5" y="166.4" width="1.6" height="1.6" fill="#b0c4de"/><rect x="500.5" y="144.6" width="1.6" height="1.6" fill="#b0c4de"/><rect x="514.8" y="163.2" width="1.6" height="1.6" fill="#b0c4de"/><rect x="499.6" y="157.7" width="1.6" height="1.6" fill="#b0c4de"/><rect x="519.2" y="164.8" width="1.6" height="1.6" fill="#b0c4de"/><rect x="520.5" y="158.5" width="1.6" height="1.6" fill="#b0c4de"/><rect x="509.4" y="160.9" width="1.6" height="1.6" fill="#b0c4de"/><rect x="516.4" y="149.7" width="1.6" height="1.6" fill="#b0c4de"/><rect x="517.3" y="153.1" width="1.6" height="1.6" fill="#b0c4de"/><rect x="524.1" y="149.8" width="1.6" height="1.6" fill="#b0c4de"/><rect x="518.2" y="168.2" width="1.6" height="1.6" fill="#b0c4de"/><rect x="518.2" y="161.7" width="1.6" height="1.6" fill="#b0c4de"/><rect x="520.9" y="143.7" width="1.6" height="1.6" fill="#b0c4de"/><rect x="507.0" y="171.3" width="1.6" height="1.6" fill="#b0c4de"/><rect x="511.3" y="152.8" width="1.6" height="1.6" fill="#b0c4de"/><rect x="503.8" y="151.0" width="1.6" height="1.6" fill="#b0c4de"/><rect x="497.7" y="163.4" width="1.6" height="1.6" fill="#b0c4de"/><rect x="498.0" y="164.6" width="1.6" height="1.6" fill="#b0c4de"/><rect x="498.2" y="146.6" width="1.6" height="1.6" fill="#b0c4de"/><rect x="509.0" y="144.6" width="1.6" height="1.6" fill="#b0c4de"/><rect x="498.5" y="171.4" width="1.6" height="1.6" fill="#b0c4de"/><rect x="522.7" y="161.9" width="1.6" height="1.6" fill="#b0c4de"/><rect x="516.5" y="146.6" width="1.6" height="1.6" fill="#b0c4de"/><rect x="498.3" y="149.7" width="1.6" height="1.6" fill="#b0c4de"/><rect x="510.5" y="165.1" width="1.6" height="1.6" fill="#b0c4de"/><rect x="509.5" y="153.2" width="1.6" height="1.6" fill="#b0c4de"/><rect x="499.2" y="147.2" width="1.6" height="1.6" fill="#b0c4de"/><rect x="508.6" y="150.2" width="1.6" height="1.6" fill="#b0c4de"/><rect x="508.6" y="160.7" width="1.6" height="1.6" fill="#b0c4de"/><rect x="504.4" y="170.9" width="1.6" height="1.6" fill="#b0c4de"/><rect x="511.8" y="171.3" width="1.6" height="1.6" fill="#b0c4de"/><rect x="510.0" y="159.6" width="1.6" height="1.6" fill="#b0c4de"/><rect x="523.8" y="153.4" width="1.6" height="1.6" fill="#b0c4de"/><rect x="516.4" y="165.5" width="1.6" height="1.6" fill="#b0c4de"/><rect x="503.5" y="153.4" width="1.6" height="1.6" fill="#b0c4de"/><rect x="507.1" y="145.9" width="1.6" height="1.6" fill="#b0c4de"/><rect x="505.2" y="150.9" width="1.6" height="1.6" fill="#b0c4de"/><rect x="518.7" y="171.4" width="1.6" height="1.6" fill="#b0c4de"/><rect x="497.4" y="161.5" width="1.6" height="1.6" fill="#b0c4de"/><rect x="514.9" y="150.5" width="1.6" height="1.6" fill="#b0c4de"/><rect x="519.3" y="154.2" width="1.6" height="1.6" fill="#b0c4de"/><rect x="499.3" y="143.8" width="1.6" height="1.6" fill="#b0c4de"/><rect x="515.6" y="171.3" width="1.6" height="1.6" fill="#b0c4de"/><rect x="512.3" y="171.0" width="1.6" height="1.6" fill="#b0c4de"/><rect x="503.1" y="148.5" width="1.6" height="1.6" fill="#b0c4de"/><rect x="520.3" y="152.3" width="1.6" height="1.6" fill="#b0c4de"/><rect x="515.5" y="159.9" width="1.6" height="1.6" fill="#b0c4de"/><rect x="508.2" y="163.6" width="1.6" height="1.6" fill="#b0c4de"/><rect x="515.4" y="171.7" width="1.6" height="1.6" fill="#b0c4de"/><rect x="521.2" y="163.5" width="1.6" height="1.6" fill="#b0c4de"/><rect x="506.5" y="160.8" width="1.6" height="1.6" fill="#b0c4de"/><rect x="504.2" y="170.3" width="1.6" height="1.6" fill="#b0c4de"/><rect x="515.0" y="147.4" width="1.6" height="1.6" fill="#b0c4de"/><rect x="519.0" y="165.1" width="1.6" height="1.6" fill="#b0c4de"/><rect x="523.2" y="171.9" width="1.6" height="1.6" fill="#b0c4de"/><rect x="510.5" y="146.5" width="1.6" height="1.6" fill="#b0c4de"/><rect x="501.0" y="142.8" width="1.6" height="1.6" fill="#b0c4de"/><rect x="501.4" y="164.5" width="1.6" height="1.6" fill="#b0c4de"/><rect x="497.2" y="155.8" width="1.6" height="1.6" fill="#b0c4de"/><rect x="515.3" y="147.9" width="1.6" height="1.6" fill="#b0c4de"/><rect x="514.0" y="162.0" width="1.6" height="1.6" fill="#b0c4de"/><rect x="512.0" y="142.9" width="1.6" height="1.6" fill="#b0c4de"/><rect x="513.8" y="145.3" width="1.6" height="1.6" fill="#b0c4de"/><rect x="498.2" y="168.1" width="1.6" height="1.6" fill="#b0c4de"/><rect x="520.0" y="169.8" width="1.6" height="1.6" fill="#b0c4de"/><rect x="499.9" y="151.5" width="1.6" height="1.6" fill="#b0c4de"/><rect x="502.4" y="152.1" width="1.6" height="1.6" fill="#b0c4de"/><rect x="500.8" y="158.4" width="1.6" height="1.6" fill="#b0c4de"/><rect x="519.0" y="171.0" width="1.6" height="1.6" fill="#b0c4de"/><rect x="518.9" y="156.6" width="1.6" height="1.6" fill="#b0c4de"/><rect x="507.0" y="152.1" width="1.6" height="1.6" fill="#b0c4de"/><rect x="514.0" y="162.5" width="1.6" height="1.6" fill="#b0c4de"/><rect x="506.9" y="160.7" width="1.6" height="1.6" fill="#b0c4de"/><rect x="401.0" y="33.0" width="1.3" height="1.3" fill="#b0c4de" opacity="0.8"/><rect x="383.0" y="40.0" width="1.3" height="1.3" fill="#b0c4de" opacity="0.8"/><rect x="412.0" y="54.0" width="1.3" height="1.3" fill="#b0c4de" opacity="0.8"/><rect x="407.0" y="47.0" width="1.3" height="1.3" fill="#b0c4de" opacity="0.8"/><rect x="377.0" y="52.0" width="1.3" height="1.3" fill="#b0c4de" opacity="0.8"/><rect x="421.0" y="52.0" width="1.3" height="1.3" fill="#b0c4de" opacity="0.8"/><rect x="391.0" y="56.0" width="1.3" height="1.3" fill="#b0c4de" opacity="0.8"/><rect x="400.0" y="43.0" width="1.3" height="1.3" fill="#b0c4de" opacity="0.8"/><rect x="440.0" y="60.0" width="1.3" height="1.3" fill="#b0c4de" opacity="0.8"/><rect x="497.0" y="52.0" width="1.3" height="1.3" fill="#b0c4de" opacity="0.8"/><polygon points="368.3,30.5 371.3,30.5 371.6,40.0 371.0,50.0 371.6,58.0 372.2,63.0 374.0,68.0 377.0,74.0 381.0,80.0 387.0,86.0 394.0,93.0 401.5,100.0 404.0,112.0 405.0,125.0 404.0,137.0 402.0,142.0 396.0,143.0 388.0,143.0 381.0,144.0 376.0,147.0 372.0,148.0 369.5,145.0 368.5,120.0 368.0,90.0 367.8,60.0" fill="#4682b4"/><rect x="383.4" y="72.0" width="1.2" height="12.0" fill="#4682b4"/><rect x="387.4" y="80.0" width="1.2" height="10.0" fill="#4682b4"/><rect x="394.4" y="86.0" width="1.2" height="12.0" fill="#4682b4"/><rect x="397.4" y="92.0" width="1.2" height="12.0" fill="#4682b4"/><rect x="403.4" y="98.0" width="1.2" height="20.0" fill="#4682b4"/><rect x="406.4" y="104.0" width="1.2" height="44.0" fill="#4682b4"/><rect x="409.4" y="110.0" width="1.2" height="30.0" fill="#4682b4"/><rect x="412.4" y="100.0" width="1.2" height="30.0" fill="#4682b4"/><rect x="415.4" y="108.0" width="1.2" height="16.0" fill="#4682b4"/><rect x="425.4" y="134.0" width="1.2" height="26.0" fill="#4682b4"/><rect x="402.4" y="138.0" width="1.2" height="12.0" fill="#4682b4"/><rect x="375.4" y="144.0" width="1.2" height="8.0" fill="#4682b4"/><rect x="482.4" y="146.0" width="1.2" height="6.0" fill="#4682b4"/><rect x="458.4" y="152.0" width="1.2" height="4.0" fill="#4682b4"/><rect x="498.4" y="156.0" width="1.2" height="6.0" fill="#4682b4"/><rect x="422.4" y="140.0" width="1.2" height="10.0" fill="#4682b4"/><rect x="430.4" y="128.0" width="1.2" height="10.0" fill="#4682b4"/><rect x="419.4" y="118.0" width="1.2" height="14.0" fill="#4682b4"/><rect x="386.1" y="70.9" width="1.3" height="1.3" fill="#4682b4"/><rect x="450.0" y="124.8" width="1.3" height="1.3" fill="#4682b4"/><rect x="456.9" y="130.6" width="1.3" height="1.3" fill="#4682b4"/><rect x="391.9" y="76.4" width="1.3" height="1.3" fill="#4682b4"/><rect x="427.9" y="109.3" width="1.3" height="1.3" fill="#4682b4"/><rect x="377.8" y="65.7" width="1.3" height="1.3" fill="#4682b4"/><rect x="385.2" y="82.7" width="1.3" height="1.3" fill="#4682b4"/><rect x="390.3" y="79.2" width="1.3" height="1.3" fill="#4682b4"/><rect x="451.4" y="121.1" width="1.3" height="1.3" fill="#4682b4"/><rect x="463.3" y="133.3" width="1.3" height="1.3" fill="#4682b4"/><rect x="436.6" y="109.9" width="1.3" height="1.3" fill="#4682b4"/><rect x="398.8" y="76.9" width="1.3" height="1.3" fill="#4682b4"/><rect x="438.4" y="113.1" width="1.3" height="1.3" fill="#4682b4"/><rect x="458.4" y="111.6" width="1.3" height="1.3" fill="#4682b4"/><rect x="444.6" y="110.9" width="1.3" height="1.3" fill="#4682b4"/><rect x="442.9" y="109.4" width="1.3" height="1.3" fill="#4682b4"/><rect x="398.7" y="84.1" width="1.3" height="1.3" fill="#4682b4"/><rect x="400.4" y="72.1" width="1.3" height="1.3" fill="#4682b4"/><rect x="462.7" y="126.7" width="1.3" height="1.3" fill="#4682b4"/><rect x="374.5" y="60.4" width="1.3" height="1.3" fill="#4682b4"/><rect x="457.8" y="129.7" width="1.3" height="1.3" fill="#4682b4"/><rect x="398.0" y="88.6" width="1.3" height="1.3" fill="#4682b4"/><rect x="446.6" y="130.2" width="1.3" height="1.3" fill="#4682b4"/><rect x="453.4" y="119.4" width="1.3" height="1.3" fill="#4682b4"/><rect x="416.8" y="95.6" width="1.3" height="1.3" fill="#4682b4"/><rect x="406.1" y="111.5" width="1.2" height="6.7" fill="#4682b4"/><rect x="382.5" y="81.1" width="1.2" height="7.2" fill="#4682b4"/><rect x="377.6" y="64.4" width="1.2" height="6.8" fill="#4682b4"/><rect x="403.8" y="99.6" width="1.2" height="3.7" fill="#4682b4"/><rect x="383.5" y="83.4" width="1.2" height="5.0" fill="#4682b4"/><rect x="400.9" y="106.1" width="1.2" height="6.8" fill="#4682b4"/><rect x="402.1" y="111.3" width="1.2" height="3.3" fill="#4682b4"/><rect x="376.8" y="76.2" width="1.2" height="2.3" fill="#4682b4"/><rect x="374.6" y="66.7" width="1.2" height="4.8" fill="#4682b4"/><rect x="405.7" y="133.7" width="1.2" height="5.1" fill="#4682b4"/><rect x="402.2" y="101.8" width="1.2" height="3.2" fill="#4682b4"/><rect x="408.5" y="116.6" width="1.2" height="4.2" fill="#4682b4"/><rect x="376.4" y="64.3" width="1.2" height="2.9" fill="#4682b4"/><rect x="387.1" y="84.3" width="1.2" height="5.1" fill="#4682b4"/><rect x="406.4" y="128.4" width="1.2" height="6.5" fill="#4682b4"/><rect x="379.1" y="71.0" width="1.2" height="5.0" fill="#4682b4"/><rect x="411.1" y="130.2" width="1.2" height="5.6" fill="#4682b4"/><rect x="375.9" y="68.5" width="1.2" height="3.9" fill="#4682b4"/><rect x="381.2" y="75.4" width="1.2" height="4.3" fill="#4682b4"/><rect x="403.2" y="108.8" width="1.2" height="5.8" fill="#4682b4"/><rect x="406.1" y="115.4" width="1.2" height="4.6" fill="#4682b4"/><rect x="384.2" y="82.2" width="1.2" height="2.6" fill="#4682b4"/><rect x="380.9" y="80.3" width="1.2" height="3.8" fill="#4682b4"/><rect x="404.9" y="130.4" width="1.2" height="2.8" fill="#4682b4"/><rect x="408.0" y="128.2" width="1.2" height="7.4" fill="#4682b4"/><rect x="403.9" y="107.3" width="1.2" height="3.2" fill="#4682b4"/><rect x="404.9" y="134.5" width="1.2" height="3.1" fill="#4682b4"/><rect x="405.5" y="131.2" width="1.2" height="5.4" fill="#4682b4"/><rect x="394.0" y="92.6" width="1.2" height="3.4" fill="#4682b4"/><rect x="375.0" y="66.9" width="1.2" height="4.8" fill="#4682b4"/><rect x="406.8" y="105.6" width="1.2" height="6.5" fill="#4682b4"/><rect x="371.5" y="65.9" width="1.2" height="2.2" fill="#4682b4"/><rect x="373.1" y="73.3" width="1.2" height="5.9" fill="#4682b4"/><rect x="399.7" y="96.5" width="1.2" height="7.2" fill="#4682b4"/><rect x="391.1" y="90.2" width="1.2" height="6.1" fill="#4682b4"/><rect x="393.1" y="91.0" width="1.2" height="6.6" fill="#4682b4"/><rect x="407.1" y="133.1" width="1.2" height="7.6" fill="#4682b4"/><rect x="374.3" y="64.4" width="1.2" height="6.9" fill="#4682b4"/><rect x="376.6" y="74.4" width="1.2" height="6.9" fill="#4682b4"/><rect x="374.7" y="65.1" width="1.2" height="6.8" fill="#4682b4"/><rect x="398.6" y="103.0" width="1.2" height="3.4" fill="#4682b4"/><rect x="376.6" y="79.1" width="1.2" height="3.1" fill="#4682b4"/><rect x="394.7" y="90.3" width="1.2" height="5.4" fill="#4682b4"/><rect x="427.6" y="108.4" width="1.2" height="1.2" fill="#fff" opacity="0.85"/><rect x="513.3" y="159.0" width="1.2" height="1.2" fill="#fff" opacity="0.85"/><rect x="517.3" y="161.1" width="1.2" height="1.2" fill="#fff" opacity="0.85"/><rect x="453.0" y="131.4" width="1.2" height="1.2" fill="#fff" opacity="0.85"/><rect x="484.0" y="145.0" width="1.2" height="1.2" fill="#fff" opacity="0.85"/><rect x="439.7" y="122.7" width="1.2" height="1.2" fill="#fff" opacity="0.85"/><rect x="437.6" y="121.6" width="1.2" height="1.2" fill="#fff" opacity="0.85"/><rect x="389.6" y="82.3" width="1.2" height="1.2" fill="#fff" opacity="0.85"/><rect x="452.7" y="131.8" width="1.2" height="1.2" fill="#fff" opacity="0.85"/><rect x="415.1" y="103.8" width="1.2" height="1.2" fill="#fff" opacity="0.85"/><rect x="474.7" y="141.7" width="1.2" height="1.2" fill="#fff" opacity="0.85"/><rect x="468.1" y="140.8" width="1.2" height="1.2" fill="#fff" opacity="0.85"/><rect x="426.6" y="108.9" width="1.2" height="1.2" fill="#fff" opacity="0.85"/><rect x="408.4" y="90.9" width="1.2" height="1.2" fill="#fff" opacity="0.85"/><rect x="409.8" y="100.1" width="1.2" height="1.2" fill="#fff" opacity="0.85"/><rect x="497.6" y="147.4" width="1.2" height="1.2" fill="#fff" opacity="0.85"/><rect x="464.5" y="134.3" width="1.2" height="1.2" fill="#fff" opacity="0.85"/><rect x="463.3" y="135.4" width="1.2" height="1.2" fill="#fff" opacity="0.85"/><rect x="422.9" y="111.7" width="1.2" height="1.2" fill="#fff" opacity="0.85"/><rect x="445.2" y="123.9" width="1.2" height="1.2" fill="#fff" opacity="0.85"/><rect x="468.9" y="133.7" width="1.2" height="1.2" fill="#fff" opacity="0.85"/><rect x="388.7" y="81.3" width="1.2" height="1.2" fill="#fff" opacity="0.85"/><rect x="487.0" y="148.7" width="1.2" height="1.2" fill="#fff" opacity="0.85"/><rect x="482.2" y="139.7" width="1.2" height="1.2" fill="#fff" opacity="0.85"/><rect x="507.9" y="159.8" width="1.2" height="1.2" fill="#fff" opacity="0.85"/><rect x="502.9" y="154.2" width="1.2" height="1.2" fill="#fff" opacity="0.85"/><rect x="508.2" y="152.9" width="1.2" height="1.2" fill="#fff" opacity="0.85"/><rect x="384.2" y="74.1" width="1.2" height="1.2" fill="#fff" opacity="0.85"/><rect x="415.4" y="98.7" width="1.2" height="1.2" fill="#fff" opacity="0.85"/><rect x="406.3" y="94.3" width="1.2" height="1.2" fill="#fff" opacity="0.85"/><rect x="385.5" y="80.5" width="1.2" height="1.2" fill="#fff" opacity="0.85"/><rect x="403.2" y="93.2" width="1.2" height="1.2" fill="#fff" opacity="0.85"/><rect x="383.0" y="75.8" width="1.2" height="1.2" fill="#fff" opacity="0.85"/><rect x="511.4" y="159.1" width="1.2" height="1.2" fill="#fff" opacity="0.85"/><rect x="493.6" y="150.6" width="1.2" height="1.2" fill="#fff" opacity="0.85"/><rect x="465.5" y="132.1" width="1.2" height="1.2" fill="#fff" opacity="0.85"/><rect x="460.4" y="128.1" width="1.2" height="1.2" fill="#fff" opacity="0.85"/><rect x="492.2" y="152.7" width="1.2" height="1.2" fill="#fff" opacity="0.85"/><rect x="499.6" y="147.8" width="1.2" height="1.2" fill="#fff" opacity="0.85"/><rect x="427.4" y="108.7" width="1.2" height="1.2" fill="#fff" opacity="0.85"/><rect x="395.8" y="87.9" width="1.2" height="1.2" fill="#fff" opacity="0.85"/><rect x="491.6" y="146.3" width="1.2" height="1.2" fill="#fff" opacity="0.85"/><rect x="500.8" y="155.5" width="1.2" height="1.2" fill="#fff" opacity="0.85"/><rect x="398.1" y="90.6" width="1.2" height="1.2" fill="#fff" opacity="0.85"/><rect x="503.6" y="151.5" width="1.2" height="1.2" fill="#fff" opacity="0.85"/><rect x="460.3" y="133.7" width="1.2" height="1.2" fill="#fff" opacity="0.85"/><rect x="465.3" y="131.1" width="1.2" height="1.2" fill="#fff" opacity="0.85"/><rect x="472.6" y="139.8" width="1.2" height="1.2" fill="#fff" opacity="0.85"/><rect x="495.3" y="152.8" width="1.2" height="1.2" fill="#fff" opacity="0.85"/><rect x="425.8" y="111.4" width="1.2" height="1.2" fill="#fff" opacity="0.85"/><rect x="501.4" y="156.8" width="1.2" height="1.2" fill="#fff" opacity="0.85"/><rect x="402.6" y="86.6" width="1.2" height="1.2" fill="#fff" opacity="0.85"/><rect x="471.1" y="135.1" width="1.2" height="1.2" fill="#fff" opacity="0.85"/><rect x="458.9" y="135.8" width="1.2" height="1.2" fill="#fff" opacity="0.85"/><rect x="433.1" y="112.1" width="1.2" height="1.2" fill="#fff" opacity="0.85"/><rect x="443.9" y="123.3" width="1.2" height="1.2" fill="#fff" opacity="0.85"/><rect x="394.2" y="84.6" width="1.2" height="1.2" fill="#fff" opacity="0.85"/><rect x="398.7" y="90.0" width="1.2" height="1.2" fill="#fff" opacity="0.85"/><rect x="496.3" y="149.2" width="1.2" height="1.2" fill="#fff" opacity="0.85"/><rect x="432.0" y="114.1" width="1.2" height="1.2" fill="#fff" opacity="0.85"/><rect x="410.1" y="93.9" width="1.2" height="1.2" fill="#fff" opacity="0.85"/><rect x="426.2" y="109.2" width="1.2" height="1.2" fill="#fff" opacity="0.85"/><rect x="391.4" y="86.5" width="1.2" height="1.2" fill="#fff" opacity="0.85"/><rect x="461.1" y="130.9" width="1.2" height="1.2" fill="#fff" opacity="0.85"/><rect x="390.9" y="86.3" width="1.2" height="1.2" fill="#fff" opacity="0.85"/><rect x="398.4" y="84.8" width="1.2" height="1.2" fill="#fff" opacity="0.85"/><rect x="398.3" y="84.2" width="1.2" height="1.2" fill="#fff" opacity="0.85"/><rect x="506.9" y="154.2" width="1.2" height="1.2" fill="#fff" opacity="0.85"/><rect x="422.9" y="110.4" width="1.2" height="1.2" fill="#fff" opacity="0.85"/><rect x="466.8" y="132.7" width="1.2" height="1.2" fill="#fff" opacity="0.85"/><rect x="440.9" y="123.5" width="1.2" height="1.2" fill="#fff" opacity="0.85"/><rect x="432.6" y="116.0" width="1.2" height="1.2" fill="#fff" opacity="0.85"/><rect x="393.6" y="87.5" width="1.2" height="1.2" fill="#fff" opacity="0.85"/><rect x="488.7" y="149.7" width="1.2" height="1.2" fill="#fff" opacity="0.85"/><rect x="474.4" y="138.2" width="1.2" height="1.2" fill="#fff" opacity="0.85"/><rect x="389.0" y="82.6" width="1.2" height="1.2" fill="#fff" opacity="0.85"/><rect x="486.0" y="142.3" width="1.2" height="1.2" fill="#fff" opacity="0.85"/><rect x="417.3" y="103.1" width="1.2" height="1.2" fill="#fff" opacity="0.85"/><rect x="484.8" y="148.4" width="1.2" height="1.2" fill="#fff" opacity="0.85"/><rect x="397.6" y="84.8" width="1.2" height="1.2" fill="#fff" opacity="0.85"/><rect x="491.9" y="149.6" width="1.2" height="1.2" fill="#fff" opacity="0.85"/><rect x="480.9" y="147.4" width="1.2" height="1.2" fill="#fff" opacity="0.85"/><rect x="511.5" y="162.1" width="1.2" height="1.2" fill="#fff" opacity="0.85"/><rect x="488.8" y="145.7" width="1.2" height="1.2" fill="#fff" opacity="0.85"/><rect x="469.8" y="134.1" width="1.2" height="1.2" fill="#fff" opacity="0.85"/><rect x="486.3" y="147.9" width="1.2" height="1.2" fill="#fff" opacity="0.85"/><rect x="481.0" y="142.2" width="1.2" height="1.2" fill="#fff" opacity="0.85"/><rect x="432.9" y="113.5" width="1.2" height="1.2" fill="#fff" opacity="0.85"/><rect x="384.7" y="82.3" width="1.2" height="1.2" fill="#fff" opacity="0.85"/><rect x="455.9" y="128.5" width="1.2" height="1.2" fill="#fff" opacity="0.85"/><rect x="456.7" y="132.2" width="1.2" height="1.2" fill="#fff" opacity="0.85"/><rect x="433.4" y="117.8" width="1.2" height="1.2" fill="#fff" opacity="0.85"/><rect x="508.7" y="156.4" width="1.2" height="1.2" fill="#fff" opacity="0.85"/><rect x="399.3" y="91.3" width="1.2" height="1.2" fill="#fff" opacity="0.85"/><rect x="519.0" y="158.2" width="1.2" height="1.2" fill="#fff" opacity="0.85"/><rect x="479.8" y="145.2" width="1.2" height="1.2" fill="#fff" opacity="0.85"/><rect x="508.9" y="154.0" width="1.2" height="1.2" fill="#fff" opacity="0.85"/><rect x="392.9" y="89.6" width="1.2" height="1.2" fill="#fff" opacity="0.85"/><rect x="396.3" y="84.0" width="1.2" height="1.2" fill="#fff" opacity="0.85"/><rect x="460.5" y="132.0" width="1.2" height="1.2" fill="#fff" opacity="0.85"/><rect x="485.1" y="141.8" width="1.2" height="1.2" fill="#fff" opacity="0.85"/><rect x="508.0" y="154.4" width="1.2" height="1.2" fill="#fff" opacity="0.85"/><rect x="487.7" y="142.0" width="1.2" height="1.2" fill="#fff" opacity="0.85"/><rect x="446.3" y="118.9" width="1.2" height="1.2" fill="#fff" opacity="0.85"/><rect x="423.9" y="106.2" width="1.2" height="1.2" fill="#fff" opacity="0.85"/><rect x="480.8" y="142.2" width="1.2" height="1.2" fill="#fff" opacity="0.85"/><rect x="387.9" y="86.3" width="1.2" height="1.2" fill="#fff" opacity="0.85"/><rect x="504.4" y="158.9" width="1.2" height="1.2" fill="#fff" opacity="0.85"/><rect x="414.5" y="99.3" width="1.2" height="1.2" fill="#fff" opacity="0.85"/><rect x="411.8" y="94.3" width="1.2" height="1.2" fill="#fff" opacity="0.85"/><rect x="384.6" y="79.0" width="1.2" height="1.2" fill="#fff" opacity="0.85"/><rect x="397.2" y="84.5" width="1.2" height="1.2" fill="#fff" opacity="0.85"/><rect x="500.5" y="152.4" width="1.2" height="1.2" fill="#fff" opacity="0.85"/><rect x="405.7" y="94.9" width="1.2" height="1.2" fill="#fff" opacity="0.85"/><rect x="417.2" y="103.0" width="1.2" height="1.2" fill="#fff" opacity="0.85"/><rect x="419.6" y="105.1" width="1.2" height="1.2" fill="#fff" opacity="0.85"/><rect x="468.0" y="136.6" width="1.2" height="1.2" fill="#fff" opacity="0.85"/><rect x="435.4" y="118.8" width="1.2" height="1.2" fill="#fff" opacity="0.85"/><rect x="502.3" y="150.6" width="1.2" height="1.2" fill="#fff" opacity="0.85"/><rect x="399.1" y="85.0" width="1.2" height="1.2" fill="#fff" opacity="0.85"/><rect x="517.1" y="165.1" width="1.2" height="1.2" fill="#fff" opacity="0.85"/><rect x="412.3" y="102.8" width="1.2" height="1.2" fill="#fff" opacity="0.85"/><rect x="409.1" y="95.7" width="1.2" height="1.2" fill="#fff" opacity="0.85"/><rect x="449.6" y="129.5" width="1.2" height="1.2" fill="#fff" opacity="0.85"/><rect x="385.7" y="78.0" width="1.2" height="1.2" fill="#fff" opacity="0.85"/><rect x="464.0" y="130.1" width="1.2" height="1.2" fill="#fff" opacity="0.85"/><rect x="413.1" y="98.7" width="1.2" height="1.2" fill="#fff" opacity="0.85"/><rect x="503.3" y="156.7" width="1.2" height="1.2" fill="#fff" opacity="0.85"/><rect x="496.1" y="152.8" width="1.2" height="1.2" fill="#fff" opacity="0.85"/><rect x="479.1" y="145.1" width="1.2" height="1.2" fill="#fff" opacity="0.85"/><rect x="475.4" y="142.2" width="1.2" height="1.2" fill="#fff" opacity="0.85"/><rect x="422.2" y="103.7" width="1.2" height="1.2" fill="#fff" opacity="0.85"/><rect x="485.9" y="142.0" width="1.2" height="1.2" fill="#fff" opacity="0.85"/><rect x="508.7" y="158.4" width="1.2" height="1.2" fill="#fff" opacity="0.85"/><rect x="426.1" y="113.7" width="1.2" height="1.2" fill="#fff" opacity="0.85"/><rect x="401.7" y="90.6" width="1.2" height="1.2" fill="#fff" opacity="0.85"/><rect x="392.8" y="89.4" width="1.2" height="1.2" fill="#fff" opacity="0.85"/><rect x="460.6" y="135.4" width="1.2" height="1.2" fill="#fff" opacity="0.85"/><rect x="419.5" y="107.6" width="1.2" height="1.2" fill="#fff" opacity="0.85"/><rect x="478.4" y="142.8" width="1.2" height="1.2" fill="#fff" opacity="0.85"/><rect x="513.1" y="165.4" width="1.2" height="1.2" fill="#fff" opacity="0.85"/><rect x="438.1" y="162.0" width="1.2" height="1.2" fill="#fff" opacity="0.85"/><rect x="496.9" y="167.3" width="1.2" height="1.2" fill="#fff" opacity="0.85"/><rect x="473.8" y="168.7" width="1.2" height="1.2" fill="#fff" opacity="0.85"/><rect x="457.2" y="165.2" width="1.2" height="1.2" fill="#fff" opacity="0.85"/><rect x="389.1" y="147.7" width="1.2" height="1.2" fill="#fff" opacity="0.85"/><rect x="382.2" y="145.1" width="1.2" height="1.2" fill="#fff" opacity="0.85"/><rect x="445.6" y="164.9" width="1.2" height="1.2" fill="#fff" opacity="0.85"/><rect x="480.9" y="167.2" width="1.2" height="1.2" fill="#fff" opacity="0.85"/><rect x="482.3" y="169.2" width="1.2" height="1.2" fill="#fff" opacity="0.85"/><rect x="458.8" y="166.4" width="1.2" height="1.2" fill="#fff" opacity="0.85"/><rect x="510.5" y="167.5" width="1.2" height="1.2" fill="#fff" opacity="0.85"/><rect x="443.4" y="163.4" width="1.2" height="1.2" fill="#fff" opacity="0.85"/><rect x="457.1" y="168.4" width="1.2" height="1.2" fill="#fff" opacity="0.85"/><rect x="463.1" y="168.3" width="1.2" height="1.2" fill="#fff" opacity="0.85"/><rect x="407.4" y="152.6" width="1.2" height="1.2" fill="#fff" opacity="0.85"/><rect x="407.7" y="154.7" width="1.2" height="1.2" fill="#fff" opacity="0.85"/><rect x="485.0" y="166.1" width="1.2" height="1.2" fill="#fff" opacity="0.85"/><rect x="457.5" y="165.0" width="1.2" height="1.2" fill="#fff" opacity="0.85"/><rect x="445.2" y="163.8" width="1.2" height="1.2" fill="#fff" opacity="0.85"/><rect x="494.6" y="165.8" width="1.2" height="1.2" fill="#fff" opacity="0.85"/><rect x="469.9" y="167.8" width="1.2" height="1.2" fill="#fff" opacity="0.85"/><rect x="458.2" y="167.1" width="1.2" height="1.2" fill="#fff" opacity="0.85"/><rect x="484.2" y="167.7" width="1.2" height="1.2" fill="#fff" opacity="0.85"/><rect x="445.3" y="163.2" width="1.2" height="1.2" fill="#fff" opacity="0.85"/><rect x="450.5" y="166.2" width="1.2" height="1.2" fill="#fff" opacity="0.85"/><rect x="495.8" y="167.1" width="1.2" height="1.2" fill="#fff" opacity="0.85"/><rect x="498.3" y="165.1" width="1.2" height="1.2" fill="#fff" opacity="0.85"/><rect x="442.6" y="162.9" width="1.2" height="1.2" fill="#fff" opacity="0.85"/><rect x="384.8" y="148.4" width="1.2" height="1.2" fill="#fff" opacity="0.85"/><rect x="500.4" y="165.9" width="1.2" height="1.2" fill="#fff" opacity="0.85"/><rect x="458.1" y="165.8" width="1.2" height="1.2" fill="#fff" opacity="0.85"/><rect x="474.9" y="167.0" width="1.2" height="1.2" fill="#fff" opacity="0.85"/><rect x="438.9" y="164.6" width="1.2" height="1.2" fill="#fff" opacity="0.85"/><rect x="421.0" y="159.4" width="1.2" height="1.2" fill="#fff" opacity="0.85"/><rect x="440.3" y="161.1" width="1.2" height="1.2" fill="#fff" opacity="0.85"/><rect x="429.4" y="160.9" width="1.2" height="1.2" fill="#fff" opacity="0.85"/><rect x="432.0" y="161.0" width="1.2" height="1.2" fill="#fff" opacity="0.85"/><rect x="512.7" y="163.3" width="1.2" height="1.2" fill="#fff" opacity="0.85"/><rect x="432.8" y="162.6" width="1.2" height="1.2" fill="#fff" opacity="0.85"/><rect x="503.8" y="166.0" width="1.2" height="1.2" fill="#fff" opacity="0.85"/><rect x="476.0" y="169.4" width="1.2" height="1.2" fill="#fff" opacity="0.85"/><rect x="501.3" y="167.1" width="1.2" height="1.2" fill="#fff" opacity="0.85"/><rect x="449.2" y="166.6" width="1.2" height="1.2" fill="#fff" opacity="0.85"/><rect x="438.8" y="161.5" width="1.2" height="1.2" fill="#fff" opacity="0.85"/><rect x="495.9" y="166.7" width="1.2" height="1.2" fill="#fff" opacity="0.85"/><rect x="487.5" y="167.2" width="1.2" height="1.2" fill="#fff" opacity="0.85"/><rect x="432.3" y="161.2" width="1.2" height="1.2" fill="#fff" opacity="0.85"/><rect x="408.2" y="155.5" width="1.2" height="1.2" fill="#fff" opacity="0.85"/><rect x="478.9" y="166.1" width="1.2" height="1.2" fill="#fff" opacity="0.85"/><rect x="387.9" y="147.4" width="1.2" height="1.2" fill="#fff" opacity="0.85"/><rect x="494.4" y="166.9" width="1.2" height="1.2" fill="#fff" opacity="0.85"/><rect x="388.7" y="147.8" width="1.2" height="1.2" fill="#fff" opacity="0.85"/><rect x="414.5" y="156.0" width="1.2" height="1.2" fill="#fff" opacity="0.85"/><rect x="432.7" y="160.9" width="1.2" height="1.2" fill="#fff" opacity="0.85"/><rect x="416.1" y="157.3" width="1.2" height="1.2" fill="#fff" opacity="0.85"/><rect x="453.5" y="165.3" width="1.2" height="1.2" fill="#fff" opacity="0.85"/><rect x="408.4" y="152.6" width="1.2" height="1.2" fill="#fff" opacity="0.85"/><rect x="420.5" y="159.2" width="1.2" height="1.2" fill="#fff" opacity="0.85"/><rect x="415.9" y="159.1" width="1.2" height="1.2" fill="#fff" opacity="0.85"/><rect x="439.2" y="161.9" width="1.2" height="1.2" fill="#fff" opacity="0.85"/><rect x="479.3" y="168.8" width="1.2" height="1.2" fill="#fff" opacity="0.85"/><rect x="399.2" y="152.6" width="1.2" height="1.2" fill="#fff" opacity="0.85"/><rect x="487.6" y="167.0" width="1.2" height="1.2" fill="#fff" opacity="0.85"/><rect x="509.2" y="164.7" width="1.2" height="1.2" fill="#fff" opacity="0.85"/><rect x="466.9" y="165.9" width="1.2" height="1.2" fill="#fff" opacity="0.85"/><rect x="485.0" y="167.8" width="1.2" height="1.2" fill="#fff" opacity="0.85"/><rect x="416.0" y="157.4" width="1.2" height="1.2" fill="#fff" opacity="0.85"/><rect x="448.5" y="166.7" width="1.2" height="1.2" fill="#fff" opacity="0.85"/><rect x="441.8" y="163.1" width="1.2" height="1.2" fill="#fff" opacity="0.85"/><rect x="399.0" y="153.4" width="1.2" height="1.2" fill="#fff" opacity="0.85"/><rect x="404.3" y="154.5" width="1.2" height="1.2" fill="#fff" opacity="0.85"/><rect x="514.6" y="167.1" width="1.2" height="1.2" fill="#fff" opacity="0.85"/><rect x="405.7" y="155.5" width="1.2" height="1.2" fill="#fff" opacity="0.85"/><rect x="446.4" y="166.9" width="1.2" height="1.2" fill="#fff" opacity="0.85"/><rect x="444.1" y="165.8" width="1.2" height="1.2" fill="#fff" opacity="0.85"/><rect x="417.7" y="156.2" width="1.2" height="1.2" fill="#fff" opacity="0.85"/><rect x="405.8" y="153.4" width="1.2" height="1.2" fill="#fff" opacity="0.85"/><rect x="436.9" y="163.0" width="1.2" height="1.2" fill="#fff" opacity="0.85"/><rect x="494.4" y="168.2" width="1.2" height="1.2" fill="#fff" opacity="0.85"/><circle cx="469.6" cy="149.4" r="1.6" fill="#000"/><rect x="351.5" y="30.5" width="174" height="175" fill="none" stroke="#555" stroke-width="0.85"/><line x1="349.5" y1="30.4" x2="351.5" y2="30.4" stroke="#666" stroke-width="0.8"/><text x="348.5" y="32.2" font-size="5" text-anchor="end" fill="#333">10</text><line x1="349.5" y1="59.7" x2="351.5" y2="59.7" stroke="#666" stroke-width="0.8"/><text x="348.5" y="61.5" font-size="5" text-anchor="end" fill="#333">5</text><line x1="349.5" y1="89.0" x2="351.5" y2="89.0" stroke="#666" stroke-width="0.8"/><text x="348.5" y="90.8" font-size="5" text-anchor="end" fill="#333">0</text><line x1="349.5" y1="118.3" x2="351.5" y2="118.3" stroke="#666" stroke-width="0.8"/><text x="348.5" y="120.1" font-size="5" text-anchor="end" fill="#333">−5</text><line x1="349.5" y1="147.6" x2="351.5" y2="147.6" stroke="#666" stroke-width="0.8"/><text x="348.5" y="149.4" font-size="5" text-anchor="end" fill="#333">−10</text><line x1="349.5" y1="176.9" x2="351.5" y2="176.9" stroke="#666" stroke-width="0.8"/><text x="348.5" y="178.7" font-size="5" text-anchor="end" fill="#333">−15</text><line x1="349.5" y1="206.2" x2="351.5" y2="206.2" stroke="#666" stroke-width="0.8"/><text x="348.5" y="208.0" font-size="5" text-anchor="end" fill="#333">−20</text><line x1="368.0" y1="205.6" x2="368.0" y2="207.6" stroke="#666" stroke-width="0.8"/><text x="368.0" y="212.5" font-size="5" text-anchor="middle" fill="#333">0</text><line x1="399.4" y1="205.6" x2="399.4" y2="207.6" stroke="#666" stroke-width="0.8"/><text x="399.4" y="212.5" font-size="5" text-anchor="middle" fill="#333">200</text><line x1="430.8" y1="205.6" x2="430.8" y2="207.6" stroke="#666" stroke-width="0.8"/><text x="430.8" y="212.5" font-size="5" text-anchor="middle" fill="#333">400</text><line x1="462.2" y1="205.6" x2="462.2" y2="207.6" stroke="#666" stroke-width="0.8"/><text x="462.2" y="212.5" font-size="5" text-anchor="middle" fill="#333">600</text><line x1="493.6" y1="205.6" x2="493.6" y2="207.6" stroke="#666" stroke-width="0.8"/><text x="493.6" y="212.5" font-size="5" text-anchor="middle" fill="#333">800</text><line x1="525.0" y1="205.6" x2="525.0" y2="207.6" stroke="#666" stroke-width="0.8"/><text x="525.0" y="212.5" font-size="5" text-anchor="middle" fill="#333">1000</text><text x="438.4" y="219.1" font-size="4.95" text-anchor="middle" fill="#333">Number of residues</text><text transform="translate(336.5,118) rotate(-90)" font-size="5" text-anchor="middle" fill="#333">Z-score</text><rect x="494.9" y="32.4" width="28.5" height="15" fill="#fff" stroke="#ddd" stroke-width="0.6"/><rect x="496" y="34.3" width="10.9" height="4.3" fill="#b0c4de"/><rect x="496" y="41.1" width="10.9" height="4.4" fill="#4682b4"/><text x="509.8" y="38.4" font-size="4.6" fill="#333">X-ray</text><text x="509.8" y="45.2" font-size="4.6" fill="#333">NMR</text></g>
<g font-family="Liberation Sans, DejaVu Sans, sans-serif"><rect x="42.5" y="264.5" width="209" height="166" fill="none" stroke="#555" stroke-width="0.85"/><line x1="40" y1="291.7" x2="42" y2="291.7" stroke="#777" stroke-width="0.8"/><text x="39" y="293.5" font-size="5" text-anchor="end" fill="#333">2</text><line x1="40" y1="319.5" x2="42" y2="319.5" stroke="#777" stroke-width="0.8"/><text x="39" y="321.3" font-size="5" text-anchor="end" fill="#333">1</text><line x1="40" y1="347.3" x2="42" y2="347.3" stroke="#777" stroke-width="0.8"/><text x="39" y="349.1" font-size="5" text-anchor="end" fill="#333">0</text><line x1="40" y1="375.1" x2="42" y2="375.1" stroke="#777" stroke-width="0.8"/><text x="39" y="376.9" font-size="5" text-anchor="end" fill="#333">−1</text><line x1="40" y1="402.9" x2="42" y2="402.9" stroke="#777" stroke-width="0.8"/><text x="39" y="404.7" font-size="5" text-anchor="end" fill="#333">−2</text><line x1="40" y1="430.7" x2="42" y2="430.7" stroke="#777" stroke-width="0.8"/><text x="39" y="432.5" font-size="5" text-anchor="end" fill="#333">−3</text><text x="39" y="265.6" font-size="5" text-anchor="end" fill="#ccc">3</text><line x1="50.5" y1="430.6" x2="50.5" y2="432.6" stroke="#777" stroke-width="0.8"/><text x="50.5" y="437.6" font-size="5" text-anchor="middle" fill="#333">1</text><line x1="243.5" y1="430.6" x2="243.5" y2="432.6" stroke="#777" stroke-width="0.8"/><text x="243.5" y="437.6" font-size="5" text-anchor="middle" fill="#333">646</text><text x="146.3" y="444.1" font-size="6" text-anchor="middle" fill="#333">Sequence position</text><text transform="translate(26,347.3) rotate(-90)" font-size="4.8" text-anchor="middle" fill="#333">Knowledge-based energy</text><rect x="244.6" y="266" width="5.2" height="3.6" fill="none" stroke="#ddd" stroke-width="0.5"/><line x1="42" y1="347.3" x2="251.5" y2="347.3" stroke="#444" stroke-width="0.9"/><polyline points="51.0,354.6 51.4,354.4 51.8,352.2 52.2,353.8 52.6,351.7 53.0,358.0 53.4,357.5 53.8,355.0 54.2,354.7 54.6,354.1 55.0,346.2 55.4,348.5 55.8,341.9 56.2,346.4 56.6,356.9 57.0,370.0 57.4,380.6 57.6,386.0 57.8,380.8 58.2,372.1 58.6,360.1 59.0,352.2 59.4,336.2 59.8,331.8 60.0,325.0 60.2,327.5 60.6,324.9 61.0,319.0 61.0,319.0 61.4,326.9 61.8,330.8 62.0,327.0 62.2,336.4 62.6,329.2 63.0,332.0 63.0,322.0 63.4,329.3 63.8,327.2 64.0,330.0 64.2,332.9 64.6,336.1 64.6,333.0 65.0,335.0 65.4,336.8 65.5,329.0 65.8,343.9 66.2,342.3 66.5,340.0 66.6,350.8 67.0,351.1 67.4,359.3 67.8,362.3 68.2,363.5 68.6,389.7 69.0,396.5 69.0,402.0 69.4,402.9 69.8,408.2 70.0,421.0 70.2,412.7 70.6,408.5 71.0,410.0 71.0,410.0 71.4,409.9 71.8,404.5 71.8,417.0 72.2,401.3 72.6,396.3 73.0,389.1 73.0,398.0 73.4,391.5 73.8,388.3 74.2,388.5 74.6,378.2 75.0,378.7 75.4,377.2 75.8,379.2 76.2,377.9 76.6,374.6 77.0,364.4 77.4,369.4 77.8,373.2 78.2,377.5 78.6,378.2 79.0,373.8 79.4,371.2 79.8,371.6 80.2,372.6 80.6,367.6 81.0,372.1 81.4,372.4 81.8,375.9 82.2,379.3 82.6,389.6 83.0,392.9 83.0,395.0 83.4,395.3 83.8,397.4 84.0,402.0 84.2,399.0 84.6,396.2 85.0,392.9 85.0,400.0 85.4,390.7 85.8,389.4 86.2,376.5 86.6,376.0 87.0,376.6 87.4,372.6 87.8,367.7 88.2,368.0 88.6,369.2 89.0,365.4 89.4,371.3 89.8,366.9 90.2,365.2 90.6,359.0 91.0,358.4 91.4,364.0 91.8,372.3 92.2,381.8 92.6,389.6 93.0,398.0 93.0,398.0 93.4,389.6 93.8,379.3 94.2,373.9 94.6,346.5 95.0,340.4 95.0,336.0 95.4,335.4 95.8,331.9 96.0,324.0 96.2,327.4 96.6,335.4 97.0,340.9 97.0,338.0 97.4,338.7 97.8,338.1 98.0,333.0 98.2,343.2 98.6,342.4 99.0,351.7 99.4,349.0 99.8,349.9 100.2,358.2 100.6,355.8 101.0,359.6 101.4,360.9 101.8,367.0 102.2,364.0 102.6,368.5 103.0,365.5 103.4,368.3 103.8,370.7 104.2,368.1 104.6,365.1 105.0,368.4 105.4,362.1 105.8,366.9 106.2,367.5 106.6,369.5 107.0,374.3 107.4,375.7 107.8,370.2 108.2,377.6 108.6,376.6 109.0,375.3 109.4,374.1 109.8,372.6 110.2,368.3 110.6,387.0 111.0,391.1 111.0,398.0 111.4,396.6 111.8,398.3 112.0,402.0 112.2,398.5 112.6,394.4 113.0,391.7 113.0,400.0 113.4,390.1 113.8,391.8 114.2,373.5 114.6,374.4 115.0,376.6 115.4,373.1 115.8,382.2 116.2,368.6 116.6,367.2 117.0,369.3 117.4,369.7 117.8,367.0 118.2,368.8 118.6,365.5 119.0,368.1 119.4,363.0 119.8,359.0 120.2,352.1 120.6,352.8 121.0,357.4 121.4,352.5 121.8,356.2 122.2,362.7 122.6,359.6 123.0,353.5 123.4,354.7 123.8,353.3 124.2,349.6 124.6,344.0 125.0,342.1 125.0,341.0 125.4,339.6 125.8,336.8 126.0,329.0 126.2,332.1 126.6,341.8 127.0,346.6 127.0,343.0 127.4,342.8 127.8,344.1 128.0,337.0 128.2,347.6 128.6,347.4 129.0,358.5 129.4,361.4 129.8,366.6 130.2,373.6 130.6,377.7 131.0,383.0 131.0,383.0 131.4,377.3 131.8,369.8 132.2,363.3 132.6,353.9 133.0,360.6 133.4,362.4 133.8,358.1 134.2,358.2 134.6,353.2 135.0,352.3 135.4,353.0 135.8,351.3 136.2,348.8 136.6,358.7 137.0,349.9 137.4,347.4 137.5,346.0 137.8,340.2 138.2,340.1 138.2,336.0 138.6,335.1 139.0,332.0 139.0,328.0 139.4,337.3 139.8,340.8 140.0,341.0 140.2,346.3 140.6,350.0 141.0,370.1 141.4,380.1 141.8,389.3 142.0,393.0 142.2,389.2 142.6,379.1 143.0,371.5 143.4,363.2 143.8,354.9 144.2,366.1 144.6,363.2 145.0,363.0 145.4,372.1 145.8,370.5 146.2,370.2 146.6,374.4 147.0,370.0 147.4,363.8 147.8,372.3 148.2,378.9 148.6,385.5 149.0,390.0 149.0,390.0 149.4,386.0 149.8,380.4 150.2,374.1 150.6,368.4 151.0,367.2 151.4,363.6 151.8,373.5 152.2,379.4 152.6,387.1 153.0,394.0 153.0,394.0 153.4,387.6 153.8,381.2 154.2,372.7 154.6,357.9 155.0,350.4 155.4,346.8 155.8,338.7 156.0,335.0 156.2,338.7 156.6,346.2 157.0,353.5 157.4,360.1 157.8,359.8 158.2,362.9 158.6,364.8 159.0,356.1 159.4,354.6 159.8,366.8 160.2,378.9 160.6,387.7 161.0,398.0 161.0,398.0 161.4,389.0 161.8,376.9 162.2,367.3 162.6,357.0 163.0,354.5 163.4,353.8 163.8,344.6 164.2,340.2 164.6,338.1 165.0,336.0 165.0,336.0 165.4,335.1 165.8,335.9 166.0,331.0 166.2,335.4 166.6,334.0 167.0,332.9 167.4,324.5 167.6,322.0 167.8,324.5 168.2,329.0 168.6,334.1 169.0,335.2 169.0,336.0 169.4,330.2 169.8,331.9 170.0,328.0 170.2,333.9 170.6,336.9 171.0,341.0 171.0,340.0 171.4,343.1 171.8,342.0 172.2,344.4 172.6,329.1 173.0,324.0 173.0,318.0 173.4,318.7 173.7,312.0 173.8,318.7 174.2,322.9 174.5,321.0 174.6,329.3 175.0,330.9 175.3,331.0 175.4,337.6 175.8,343.0 176.2,362.7 176.6,374.4 177.0,384.0 177.0,384.0 177.4,374.2 177.8,365.4 178.2,357.9 178.6,352.2 179.0,351.0 179.4,357.8 179.8,353.8 180.2,355.3 180.6,351.9 181.0,359.8 181.4,361.6 181.8,356.7 182.2,358.5 182.6,359.1 183.0,365.6 183.4,375.4 183.8,368.8 184.2,372.3 184.6,378.0 185.0,386.9 185.4,390.4 185.8,396.0 186.0,399.0 186.2,396.2 186.6,390.6 187.0,388.7 187.4,382.6 187.8,381.7 188.2,377.6 188.6,374.2 189.0,380.1 189.4,378.6 189.8,377.5 190.2,376.5 190.6,379.9 191.0,374.8 191.4,379.4 191.8,374.2 192.2,367.8 192.6,366.5 193.0,359.6 193.4,356.6 193.8,352.2 194.0,351.0 194.2,353.0 194.6,359.5 195.0,360.3 195.4,367.7 195.8,370.8 196.2,375.4 196.6,370.3 197.0,366.6 197.4,369.4 197.8,365.6 198.2,368.0 198.6,366.1 199.0,363.9 199.4,359.7 199.8,358.7 200.2,364.5 200.6,359.7 201.0,359.7 201.4,357.1 201.8,354.2 202.0,353.0 202.2,354.1 202.6,359.0 203.0,363.9 203.4,366.8 203.8,363.9 204.2,369.8 204.6,367.6 205.0,361.3 205.4,365.8 205.8,367.5 206.2,362.6 206.6,361.4 207.0,361.4 207.4,357.7 207.8,369.7 208.2,369.7 208.6,369.9 209.0,365.7 209.4,371.3 209.8,369.3 210.2,371.0 210.6,374.3 211.0,391.6 211.4,397.3 211.8,404.0 212.0,408.0 212.2,404.0 212.6,394.4 213.0,386.0 213.4,379.1 213.8,367.9 214.2,363.6 214.6,356.1 215.0,353.0 215.0,353.0 215.4,358.0 215.8,365.4 216.2,371.3 216.6,378.9 217.0,374.6 217.4,379.0 217.8,380.3 218.2,385.3 218.6,382.7 219.0,386.3 219.4,396.0 219.8,400.0 220.0,405.0 220.2,402.4 220.6,405.0 221.0,412.0 221.0,412.0 221.4,406.5 221.8,402.0 222.0,410.0 222.2,397.4 222.6,390.4 223.0,376.4 223.4,377.9 223.8,377.5 224.2,379.7 224.6,381.2 225.0,380.4 225.4,383.7 225.8,375.3 226.2,367.6 226.6,360.5 227.0,354.0 227.0,354.0 227.4,356.9 227.8,356.6 228.2,361.4 228.6,367.1 229.0,373.6 229.4,375.8 229.8,382.3 230.0,385.0 230.2,382.6 230.6,382.1 231.0,378.7 231.4,379.5 231.8,373.3 232.2,367.0 232.6,362.3 233.0,355.1 233.4,351.0 233.8,345.0 234.0,342.0 234.2,345.0 234.6,350.1 235.0,349.5 235.4,355.2 235.8,354.7 236.2,362.8 236.6,369.4 237.0,377.0 237.0,377.0 237.4,370.6 237.8,364.4 238.2,355.4 238.6,345.8 239.0,351.8 239.4,341.0 239.8,334.8 240.0,330.0 240.2,331.3 240.6,327.2 241.0,320.0 241.0,320.0 241.4,324.2 241.8,327.1 241.8,324.0 242.2,327.2 242.5,329.0 242.6,327.5 243.0,327.5 243.0,326.0" fill="none" stroke="#2a962a" stroke-width="1.15" stroke-linejoin="round"/><polyline points="51.0,351.6 51.8,352.1 52.6,348.1 53.4,348.3 54.2,346.5 55.0,345.4 55.8,342.8 56.6,348.5 57.4,347.3 58.2,347.1 59.0,348.4 59.8,346.7 60.6,346.7 61.4,344.2 62.2,346.9 63.0,348.0 63.8,351.4 64.6,353.5 65.4,353.4 66.2,354.3 67.0,357.7 67.8,364.2 68.6,368.6 69.4,371.8 70.2,369.7 71.0,368.1 71.8,371.8 72.6,373.6 73.4,373.7 74.2,375.4 75.0,375.2 75.8,372.4 76.6,370.9 77.4,371.4 78.2,371.5 79.0,372.2 79.8,377.0 80.6,375.4 81.4,375.8 82.2,374.8 83.0,376.1 83.8,378.9 84.6,379.8 85.4,378.4 86.2,378.4 87.0,377.6 87.8,372.1 88.6,365.7 89.4,371.4 90.2,370.9 91.0,367.7 91.8,361.9 92.6,358.4 93.4,360.6 94.2,353.8 95.0,353.8 95.8,355.2 96.6,354.7 97.4,355.5 98.2,354.1 99.0,357.6 99.8,355.0 100.6,353.6 101.4,356.4 102.2,360.7 103.0,361.5 103.8,364.7 104.6,364.5 105.4,364.0 106.2,369.3 107.0,373.3 107.8,376.3 108.6,375.2 109.4,374.2 110.2,374.4 111.0,377.1 111.8,378.5 112.6,378.9 113.4,375.3 114.2,375.7 115.0,374.3 115.8,372.7 116.6,370.9 117.4,368.0 118.2,366.0 119.0,362.7 119.8,359.6 120.6,356.2 121.4,355.9 122.2,354.3 123.0,349.2 123.8,352.3 124.6,352.9 125.4,355.6 126.2,355.4 127.0,355.6 127.8,356.6 128.6,356.9 129.4,356.0 130.2,352.6 131.0,357.0 131.8,353.0 132.6,352.8 133.4,354.3 134.2,354.3 135.0,354.5 135.8,355.7 136.6,357.5 137.4,357.0 138.2,361.6 139.0,357.1 139.8,357.0 140.6,356.0 141.4,355.9 142.2,358.4 143.0,362.6 143.8,361.8 144.6,362.6 145.4,366.9 146.2,369.5 147.0,373.3 147.8,374.0 148.6,373.3 149.4,371.3 150.2,370.1 151.0,368.2 151.8,364.4 152.6,364.3 153.4,364.2 154.2,364.6 155.0,364.7 155.8,368.7 156.6,369.3 157.4,368.7 158.2,363.6 159.0,358.8 159.8,356.3 160.6,356.1 161.4,354.7 162.2,353.9 163.0,355.1 163.8,353.8 164.6,349.9 165.4,348.0 166.2,345.8 167.0,344.4 167.8,338.4 168.6,335.0 169.4,332.8 170.2,334.5 171.0,335.6 171.8,338.2 172.6,341.8 173.4,344.7 174.2,347.8 175.0,348.4 175.8,347.3 176.6,351.8 177.4,352.7 178.2,353.8 179.0,354.8 179.8,354.1 180.6,355.9 181.4,360.0 182.2,366.4 183.0,370.1 183.8,365.8 184.6,369.5 185.4,373.5 186.2,377.6 187.0,377.9 187.8,381.1 188.6,380.8 189.4,379.8 190.2,377.4 191.0,371.1 191.8,371.0 192.6,370.0 193.4,366.8 194.2,366.5 195.0,365.4 195.8,364.2 196.6,364.3 197.4,364.2 198.2,365.1 199.0,364.6 199.8,366.2 200.6,362.7 201.4,364.0 202.2,362.3 203.0,363.8 203.8,366.6 204.6,367.4 205.4,367.9 206.2,368.8 207.0,372.3 207.8,369.6 208.6,372.0 209.4,369.1 210.2,369.4 211.0,370.7 211.8,369.7 212.6,371.2 213.4,373.4 214.2,371.9 215.0,373.5 215.8,374.2 216.6,372.3 217.4,374.6 218.2,374.7 219.0,378.8 219.8,377.3 220.6,381.2 221.4,379.2 222.2,382.1 223.0,381.0 223.8,380.1 224.6,380.0 225.4,378.7 226.2,376.9 227.0,375.1 227.8,369.1 228.6,364.7 229.4,359.7 230.2,360.9 231.0,363.4 231.8,363.5 232.6,362.8 233.4,361.2 234.2,359.2 235.0,357.4 235.8,356.8 236.6,351.8 237.4,352.4 238.2,347.5 239.0,346.1 239.8,340.6 240.6,335.7 241.4,328.5" fill="none" stroke="#148414" stroke-width="2.3" stroke-linejoin="round"/></g>
<g font-family="Liberation Sans, DejaVu Sans, sans-serif"><line x1="360.2" y1="249" x2="360.2" y2="417.8" stroke="#666" stroke-width="1.4"/><line x1="359.4" y1="417" x2="543.6" y2="417" stroke="#666" stroke-width="1.5"/><line x1="360.7" y1="414.5" x2="543.6" y2="320.5" stroke="#666" stroke-width="0.8"/><line x1="358.7" y1="400.5" x2="361.7" y2="400.5" stroke="#e01010" stroke-width="1.4"/><text x="355.3" y="402.3" font-size="5" text-anchor="end" fill="#555">500</text><text x="341.4" y="401.8" font-size="3.6" font-weight="bold" text-anchor="end" fill="#555">50</text><line x1="358.7" y1="384.2" x2="361.7" y2="384.2" stroke="#e01010" stroke-width="1.4"/><text x="355.3" y="386.0" font-size="5" text-anchor="end" fill="#555">1000</text><text x="341.4" y="385.5" font-size="3.6" font-weight="bold" text-anchor="end" fill="#555">100</text><line x1="358.7" y1="367.9" x2="361.7" y2="367.9" stroke="#e01010" stroke-width="1.4"/><text x="355.3" y="369.7" font-size="5" text-anchor="end" fill="#555">1500</text><text x="341.4" y="369.2" font-size="3.6" font-weight="bold" text-anchor="end" fill="#555">150</text><line x1="358.7" y1="351.6" x2="361.7" y2="351.6" stroke="#e01010" stroke-width="1.4"/><text x="355.3" y="353.4" font-size="5" text-anchor="end" fill="#555">2000</text><text x="341.4" y="352.9" font-size="3.6" font-weight="bold" text-anchor="end" fill="#555">200</text><line x1="358.7" y1="335.3" x2="361.7" y2="335.3" stroke="#e01010" stroke-width="1.4"/><text x="355.3" y="337.1" font-size="5" text-anchor="end" fill="#555">2500</text><text x="341.4" y="336.6" font-size="3.6" font-weight="bold" text-anchor="end" fill="#555">250</text><line x1="358.7" y1="319.0" x2="361.7" y2="319.0" stroke="#e01010" stroke-width="1.4"/><text x="355.3" y="320.8" font-size="5" text-anchor="end" fill="#555">3000</text><text x="341.4" y="320.3" font-size="3.6" font-weight="bold" text-anchor="end" fill="#555">300</text><line x1="358.7" y1="302.7" x2="361.7" y2="302.7" stroke="#e01010" stroke-width="1.4"/><text x="355.3" y="304.5" font-size="5" text-anchor="end" fill="#555">3500</text><text x="341.4" y="304.0" font-size="3.6" font-weight="bold" text-anchor="end" fill="#555">350</text><line x1="358.7" y1="286.4" x2="361.7" y2="286.4" stroke="#e01010" stroke-width="1.4"/><text x="355.3" y="288.2" font-size="5" text-anchor="end" fill="#555">4000</text><text x="341.4" y="287.7" font-size="3.6" font-weight="bold" text-anchor="end" fill="#555">400</text><line x1="358.7" y1="270.1" x2="361.7" y2="270.1" stroke="#e01010" stroke-width="1.4"/><text x="355.3" y="271.9" font-size="5" text-anchor="end" fill="#555">4500</text><text x="341.4" y="271.4" font-size="3.6" font-weight="bold" text-anchor="end" fill="#555">450</text><line x1="358.7" y1="253.8" x2="361.7" y2="253.8" stroke="#e01010" stroke-width="1.4"/><text x="355.3" y="255.6" font-size="5" text-anchor="end" fill="#555">5000</text><text x="341.4" y="255.1" font-size="3.6" font-weight="bold" text-anchor="end" fill="#555">500</text><text x="341.4" y="421.3" font-size="3.6" font-weight="bold" text-anchor="end" fill="#555">00</text><line x1="393.4" y1="414.2" x2="393.4" y2="417" stroke="#e01010" stroke-width="1.2"/><text x="393.4" y="423.5" font-size="5.2" text-anchor="middle" fill="#444">100</text><text x="393.4" y="434" font-size="3.8" font-weight="bold" text-anchor="middle" fill="#555">10</text><line x1="426.6" y1="414.2" x2="426.6" y2="417" stroke="#e01010" stroke-width="1.2"/><text x="426.6" y="423.5" font-size="5.2" text-anchor="middle" fill="#444">200</text><text x="426.6" y="434" font-size="3.8" font-weight="bold" text-anchor="middle" fill="#555">20</text><line x1="459.8" y1="414.2" x2="459.8" y2="417" stroke="#e01010" stroke-width="1.2"/><text x="459.8" y="423.5" font-size="5.2" text-anchor="middle" fill="#444">300</text><text x="459.8" y="434" font-size="3.8" font-weight="bold" text-anchor="middle" fill="#555">30</text><line x1="493.0" y1="414.2" x2="493.0" y2="417" stroke="#e01010" stroke-width="1.2"/><text x="493.0" y="423.5" font-size="5.2" text-anchor="middle" fill="#444">400</text><text x="493.0" y="434" font-size="3.8" font-weight="bold" text-anchor="middle" fill="#555">40</text><line x1="526.2" y1="414.2" x2="526.2" y2="417" stroke="#e01010" stroke-width="1.2"/><text x="526.2" y="423.5" font-size="5.2" text-anchor="middle" fill="#444">500</text><text x="526.2" y="434" font-size="3.8" font-weight="bold" text-anchor="middle" fill="#555">50</text><text x="461" y="439.2" font-size="4.4" text-anchor="middle" fill="#222" textLength="30" lengthAdjust="spacingAndGlyphs">Number of Residues</text><text transform="translate(332.2,335) rotate(-90)" font-size="5.2" font-weight="bold" text-anchor="middle" fill="#444" textLength="72" lengthAdjust="spacingAndGlyphs">Total Propensity Score</text><rect x="395.0" y="393.1" width="1.8" height="3.6" fill="#0a7a0a"/><rect x="397.0" y="392.6" width="1.8" height="3.6" fill="#0a7a0a"/><rect x="398.0" y="392.2" width="1.8" height="3.6" fill="#0a7a0a"/><rect x="401.2" y="390.6" width="1.8" height="3.6" fill="#0a7a0a"/><rect x="403.2" y="392.6" width="1.8" height="3.6" fill="#0a7a0a"/><rect x="410.2" y="388.6" width="1.8" height="3.6" fill="#0a7a0a"/><rect x="417.9" y="381.4" width="1.8" height="3.6" fill="#0a7a0a"/><rect x="420.9" y="384.7" width="1.8" height="3.6" fill="#0a7a0a"/><rect x="442.0" y="373.3" width="1.8" height="3.6" fill="#0a7a0a"/><rect x="480.6" y="344.9" width="1.8" height="3.6" fill="#0a7a0a"/><rect x="505.2" y="343.5" width="1.8" height="3.6" fill="#0a7a0a"/></g>
<g font-family="Liberation Serif, DejaVu Serif, serif" fill="#111"><text x="18.5" y="17.8" font-size="8.5" font-weight="bold">A</text><text x="302.3" y="12.7" font-size="7.5" font-weight="bold">B</text><text x="15" y="259" font-size="7.5" font-weight="bold">C</text><text x="304.8" y="256.2" font-size="8.6" font-weight="bold">D</text><text x="143.8" y="25.6" font-size="7.6" text-anchor="middle" fill="#111">Domain -II</text><text x="143.8" y="35" font-size="7.6" text-anchor="middle" fill="#111">(AMP-binding, 82-432 AA)</text><text x="5.7" y="182.6" font-size="7.6" fill="#111">Domain -I</text><text x="4.9" y="191.9" font-size="7.6" fill="#111" textLength="76.4" lengthAdjust="spacingAndGlyphs">(Signal peptide, 1-30AA)</text><text x="250.2" y="213.1" font-size="7.6" text-anchor="middle" fill="#111">Domain -III</text><text x="250.5" y="221.6" font-size="7.6" text-anchor="middle" fill="#111">(AMP-binding in C-terminal,</text><text x="250.4" y="230.3" font-size="7.6" text-anchor="middle" fill="#111">523-598 AA)</text></g>
<defs><filter id="pb" x="-5%" y="-5%" width="110%" height="110%"><feGaussianBlur stdDeviation="0.3"/></filter></defs><g filter="url(#pb)"><path d="M109.00,190.00 C109.83,188.17 112.67,184.67 115.00,184.00 C117.33,183.33 121.33,184.50 123.00,186.00 C124.67,187.50 125.83,191.17 125.00,193.00 C124.17,194.83 120.50,196.67 118.00,197.00 C115.50,197.33 111.50,196.17 110.00,195.00 C108.50,193.83 108.17,191.83 109.00,190.00Z" fill="none" stroke="#5e5e5e" stroke-width="3.30" stroke-linecap="round" stroke-linejoin="round"/><path d="M109.00,190.00 C109.83,188.17 112.67,184.67 115.00,184.00 C117.33,183.33 121.33,184.50 123.00,186.00 C124.67,187.50 125.83,191.17 125.00,193.00 C124.17,194.83 120.50,196.67 118.00,197.00 C115.50,197.33 111.50,196.17 110.00,195.00 C108.50,193.83 108.17,191.83 109.00,190.00Z" fill="none" stroke="#8e8e8e" stroke-width="2.40" stroke-linecap="round" stroke-linejoin="round"/><polygon points="132.50,173.68 132.84,173.57 133.25,173.41 133.68,173.23 134.12,173.05 134.59,172.85 135.09,172.64 135.60,172.44 136.13,172.25 136.67,172.07 137.22,171.91 137.76,171.78 138.30,171.68 138.83,171.62 139.34,171.60 139.84,171.62 140.43,171.69 141.13,171.80 141.91,171.96 142.74,172.15 143.61,172.38 144.49,172.63 145.37,172.90 146.23,173.18 147.04,173.48 147.79,173.78 148.46,174.08 149.03,174.37 149.45,174.62 149.71,174.80 149.75,174.83 149.70,174.69 149.69,174.58 149.69,174.60 149.64,174.75 149.50,174.98 149.29,175.27 149.00,175.59 148.66,175.92 148.27,176.25 147.84,176.57 147.39,176.86 146.93,177.13 146.48,177.35 146.04,177.54 145.66,177.67 145.27,177.75 144.77,177.80 144.18,177.82 143.52,177.80 142.80,177.75 142.05,177.67 141.28,177.57 140.51,177.46 139.75,177.34 139.01,177.21 138.32,177.09 137.67,176.98 137.09,176.88 136.57,176.81 136.16,176.76 135.84,179.24 136.20,179.29 136.66,179.38 137.21,179.49 137.84,179.61 138.54,179.75 139.29,179.90 140.08,180.04 140.89,180.18 141.71,180.30 142.54,180.40 143.35,180.48 144.14,180.52 144.91,180.52 145.64,180.46 146.34,180.33 146.98,180.14 147.60,179.90 148.22,179.61 148.83,179.28 149.42,178.92 149.99,178.52 150.53,178.09 151.03,177.64 151.49,177.16 151.90,176.64 152.25,176.09 152.52,175.46 152.65,174.74 152.58,173.94 152.25,173.17 151.74,172.58 151.17,172.12 150.53,171.71 149.81,171.33 149.02,170.96 148.18,170.60 147.28,170.25 146.36,169.92 145.41,169.61 144.46,169.33 143.53,169.07 142.62,168.84 141.75,168.65 140.93,168.49 140.16,168.38 139.39,168.33 138.61,168.34 137.86,168.41 137.12,168.53 136.41,168.68 135.73,168.86 135.08,169.05 134.45,169.26 133.87,169.47 133.33,169.67 132.84,169.86 132.40,170.03 132.03,170.16 131.75,170.26 131.50,170.32" fill="#8e8e8e" stroke="#5e5e5e" stroke-width="0.55" stroke-linejoin="round"/><polygon points="136.04,125.47 136.22,125.57 136.44,125.70 136.67,125.83 136.92,125.98 137.19,126.13 137.47,126.29 137.77,126.47 138.08,126.65 138.41,126.84 138.74,127.04 139.07,127.24 139.41,127.45 139.75,127.66 140.10,127.88 140.43,128.10 140.76,128.32 141.09,128.55 141.40,128.77 141.70,129.00 142.00,129.22 142.31,129.48 142.66,129.74 143.01,130.02 143.37,130.30 143.74,130.58 144.11,130.87 144.49,131.17 144.85,131.46 145.21,131.76 145.56,132.05 145.90,132.35 146.21,132.64 146.51,132.92 146.77,133.19 147.01,133.45 147.21,133.70 147.38,133.92 147.50,134.11 147.59,134.27 147.63,134.36 147.65,134.41 147.65,134.46 147.65,134.56 147.62,134.70 147.56,134.88 147.46,135.08 147.34,135.30 147.20,135.54 147.03,135.78 146.84,136.03 146.64,136.28 146.44,136.53 146.22,136.77 146.01,137.01 145.81,137.24 145.61,137.46 145.42,137.68 145.25,137.89 145.09,138.11 144.97,138.29 147.03,139.71 147.10,139.62 147.19,139.52 147.32,139.38 147.49,139.21 147.69,139.01 147.91,138.79 148.15,138.55 148.40,138.29 148.65,138.01 148.91,137.72 149.16,137.41 149.41,137.08 149.65,136.74 149.87,136.38 150.07,136.00 150.24,135.58 150.37,135.14 150.45,134.66 150.45,134.15 150.37,133.64 150.22,133.17 150.03,132.75 149.80,132.35 149.54,131.97 149.26,131.59 148.95,131.23 148.63,130.87 148.28,130.51 147.93,130.17 147.56,129.82 147.19,129.48 146.81,129.15 146.43,128.82 146.05,128.50 145.68,128.18 145.31,127.88 144.96,127.59 144.62,127.30 144.31,127.04 144.00,126.78 143.68,126.50 143.34,126.23 143.00,125.96 142.64,125.69 142.29,125.43 141.93,125.17 141.57,124.92 141.21,124.68 140.86,124.44 140.51,124.21 140.18,123.99 139.85,123.78 139.54,123.58 139.24,123.39 138.97,123.21 138.71,123.05 138.48,122.90 138.28,122.76 138.10,122.64 137.96,122.53" fill="#8e8e8e" stroke="#5e5e5e" stroke-width="0.55" stroke-linejoin="round"/><polygon points="113.45,147.40 113.55,147.43 113.66,147.48 113.79,147.52 113.91,147.57 114.05,147.62 114.19,147.67 114.34,147.72 114.50,147.78 114.66,147.84 114.83,147.90 115.00,147.96 115.18,148.02 115.36,148.08 115.54,148.15 115.73,148.22 115.92,148.29 116.10,148.36 116.29,148.43 116.48,148.50 116.66,148.58 116.85,148.65 117.03,148.73 117.21,148.80 117.38,148.88 117.55,148.95 117.71,149.03 117.86,149.10 118.01,149.17 118.14,149.24 118.27,149.31 118.40,149.38 118.52,149.46 118.66,149.54 118.79,149.63 118.93,149.72 119.08,149.82 119.22,149.92 119.36,150.02 119.51,150.13 119.66,150.24 119.80,150.35 119.95,150.46 120.09,150.57 120.23,150.68 120.38,150.80 120.51,150.91 120.65,151.02 120.79,151.13 120.92,151.24 121.04,151.34 121.17,151.44 121.29,151.54 121.41,151.64 121.52,151.73 121.62,151.82 121.73,151.91 121.83,151.99 121.92,152.06 122.01,152.13 122.09,152.19 123.91,149.81 123.85,149.76 123.78,149.71 123.71,149.65 123.62,149.58 123.53,149.50 123.43,149.42 123.32,149.33 123.20,149.23 123.08,149.13 122.96,149.03 122.82,148.92 122.69,148.81 122.54,148.69 122.40,148.57 122.25,148.45 122.10,148.33 121.94,148.21 121.78,148.09 121.62,147.96 121.46,147.84 121.29,147.71 121.12,147.59 120.95,147.47 120.78,147.35 120.61,147.23 120.43,147.12 120.26,147.00 120.08,146.90 119.91,146.79 119.73,146.69 119.55,146.59 119.36,146.50 119.17,146.40 118.98,146.31 118.79,146.22 118.59,146.13 118.39,146.04 118.19,145.96 117.98,145.87 117.78,145.79 117.58,145.71 117.37,145.63 117.17,145.56 116.97,145.48 116.77,145.41 116.57,145.33 116.38,145.26 116.19,145.20 116.01,145.13 115.84,145.07 115.66,145.01 115.50,144.95 115.34,144.89 115.20,144.84 115.06,144.79 114.93,144.75 114.82,144.71 114.72,144.67 114.63,144.64 114.55,144.60" fill="#8e8e8e" stroke="#5e5e5e" stroke-width="0.55" stroke-linejoin="round"/><polygon points="130.03,151.75 130.17,151.82 130.34,151.90 130.52,151.98 130.71,152.07 130.90,152.16 131.11,152.26 131.33,152.36 131.56,152.46 131.79,152.57 132.03,152.68 132.28,152.79 132.53,152.91 132.79,153.03 133.05,153.16 133.32,153.29 133.58,153.42 133.85,153.55 134.12,153.69 134.38,153.82 134.65,153.96 134.90,154.10 135.16,154.24 135.41,154.38 135.65,154.53 135.88,154.67 136.11,154.81 136.32,154.95 136.52,155.08 136.71,155.22 136.88,155.34 137.05,155.48 137.22,155.62 137.40,155.78 137.59,155.95 137.77,156.13 137.96,156.32 138.15,156.52 138.34,156.72 138.53,156.93 138.72,157.14 138.91,157.36 139.10,157.58 139.28,157.80 139.47,158.02 139.65,158.24 139.83,158.46 140.00,158.68 140.17,158.89 140.34,159.10 140.50,159.31 140.66,159.51 140.81,159.70 140.96,159.89 141.10,160.07 141.24,160.24 141.37,160.40 141.50,160.56 141.62,160.70 141.73,160.83 141.84,160.95 144.16,159.05 144.09,158.95 144.01,158.84 143.93,158.71 143.83,158.57 143.72,158.41 143.60,158.23 143.47,158.05 143.34,157.85 143.20,157.65 143.05,157.43 142.90,157.21 142.74,156.98 142.57,156.74 142.40,156.50 142.23,156.26 142.05,156.01 141.86,155.76 141.67,155.51 141.48,155.26 141.28,155.01 141.08,154.76 140.88,154.51 140.67,154.26 140.46,154.01 140.24,153.77 140.03,153.54 139.80,153.31 139.58,153.08 139.35,152.87 139.12,152.66 138.88,152.45 138.63,152.25 138.38,152.06 138.12,151.86 137.85,151.68 137.58,151.49 137.31,151.31 137.03,151.13 136.75,150.95 136.47,150.78 136.18,150.61 135.90,150.44 135.62,150.28 135.33,150.12 135.06,149.96 134.78,149.81 134.51,149.66 134.25,149.52 133.99,149.38 133.75,149.25 133.51,149.12 133.28,149.00 133.06,148.88 132.86,148.77 132.67,148.66 132.49,148.57 132.33,148.48 132.20,148.39 132.08,148.32 131.97,148.25" fill="#8e8e8e" stroke="#5e5e5e" stroke-width="0.55" stroke-linejoin="round"/><polyline points="93.5,101.0 88.8,106.0 93.8,111.5 88.8,117.0 93.8,123.0 88.8,129.0 93.8,135.0 88.3,141.0 93.5,147.0 88.0,155.0 93.0,163.0 87.6,171.0 92.6,179.0 87.6,186.0 91.0,191.0" fill="none" stroke="#5a5a5a" stroke-width="8.0" stroke-linejoin="miter" stroke-miterlimit="2.5"/><polyline points="93.5,101.0 88.8,106.0 93.8,111.5 88.8,117.0 93.8,123.0 88.8,129.0 93.8,135.0 88.3,141.0 93.5,147.0 88.0,155.0 93.0,163.0 87.6,171.0 92.6,179.0 87.6,186.0 91.0,191.0" fill="none" stroke="#8a8a8a" stroke-width="7.2" stroke-linejoin="miter" stroke-miterlimit="2.5"/><line x1="89.1" y1="107.0" x2="93.5" y2="112.5" stroke="#6c6c6c" stroke-width="4.2"/><line x1="89.1" y1="118.0" x2="93.5" y2="124.0" stroke="#6c6c6c" stroke-width="4.2"/><line x1="89.1" y1="130.0" x2="93.5" y2="136.0" stroke="#6c6c6c" stroke-width="4.2"/><line x1="88.6" y1="142.0" x2="93.2" y2="148.0" stroke="#6c6c6c" stroke-width="4.2"/><line x1="88.3" y1="156.0" x2="92.7" y2="164.0" stroke="#6c6c6c" stroke-width="4.2"/><line x1="87.9" y1="172.0" x2="92.3" y2="180.0" stroke="#6c6c6c" stroke-width="4.2"/><line x1="87.9" y1="187.0" x2="90.7" y2="192.0" stroke="#6c6c6c" stroke-width="4.2"/><line x1="93.2" y1="99.8" x2="89.1" y2="104.8" stroke="#a8a8a8" stroke-width="2.0" opacity="0.8"/><line x1="93.5" y1="110.3" x2="89.1" y2="115.8" stroke="#a8a8a8" stroke-width="2.0" opacity="0.8"/><line x1="93.5" y1="121.8" x2="89.1" y2="127.8" stroke="#a8a8a8" stroke-width="2.0" opacity="0.8"/><line x1="93.5" y1="133.8" x2="88.6" y2="139.8" stroke="#a8a8a8" stroke-width="2.0" opacity="0.8"/><line x1="93.2" y1="145.8" x2="88.3" y2="153.8" stroke="#a8a8a8" stroke-width="2.0" opacity="0.8"/><line x1="92.7" y1="161.8" x2="87.9" y2="169.8" stroke="#a8a8a8" stroke-width="2.0" opacity="0.8"/><line x1="92.3" y1="177.8" x2="87.9" y2="184.8" stroke="#a8a8a8" stroke-width="2.0" opacity="0.8"/><ellipse cx="99.00" cy="104.00" rx="11.00" ry="4.20" fill="none" stroke="#5e5e5e" stroke-width="3.10" transform="rotate(0.0 99.00 104.00)"/><ellipse cx="99.00" cy="104.00" rx="11.00" ry="4.20" fill="none" stroke="#8e8e8e" stroke-width="2.20" transform="rotate(0.0 99.00 104.00)"/><path d="M94.00,117.00 C95.00,116.75 98.00,115.67 100.00,115.50 C102.00,115.33 105.00,115.92 106.00,116.00" fill="none" stroke="#5e5e5e" stroke-width="2.90" stroke-linecap="round" stroke-linejoin="round"/><path d="M94.00,117.00 C95.00,116.75 98.00,115.67 100.00,115.50 C102.00,115.33 105.00,115.92 106.00,116.00" fill="none" stroke="#8e8e8e" stroke-width="2.00" stroke-linecap="round" stroke-linejoin="round"/><path d="M94.00,129.00 C94.83,128.75 97.33,127.67 99.00,127.50 C100.67,127.33 103.17,127.92 104.00,128.00" fill="none" stroke="#5e5e5e" stroke-width="2.90" stroke-linecap="round" stroke-linejoin="round"/><path d="M94.00,129.00 C94.83,128.75 97.33,127.67 99.00,127.50 C100.67,127.33 103.17,127.92 104.00,128.00" fill="none" stroke="#8e8e8e" stroke-width="2.00" stroke-linecap="round" stroke-linejoin="round"/><polygon points="84.10,193.66 84.18,193.06 84.10,190.19 84.03,190.96" fill="#5e5e5e" stroke="#5e5e5e" stroke-width="0.5"/><polygon points="84.18,193.06 84.51,192.54 84.42,189.43 84.10,190.19" fill="#5e5e5e" stroke="#5e5e5e" stroke-width="0.5"/><polygon points="84.51,192.54 85.09,192.08 85.00,188.75 84.42,189.43" fill="#5e5e5e" stroke="#5e5e5e" stroke-width="0.5"/><polygon points="85.09,192.08 85.89,191.72 85.79,188.21 85.00,188.75" fill="#5e5e5e" stroke="#5e5e5e" stroke-width="0.5"/><polygon points="85.89,191.72 86.86,191.49 86.76,187.83 85.79,188.21" fill="#5e5e5e" stroke="#5e5e5e" stroke-width="0.5"/><polygon points="86.86,191.49 87.97,191.42 87.87,187.67 86.76,187.83" fill="#5e5e5e" stroke="#5e5e5e" stroke-width="0.5"/><polygon points="87.97,191.42 89.16,191.52 89.05,187.73 87.87,187.67" fill="#5e5e5e" stroke="#5e5e5e" stroke-width="0.5"/><polygon points="89.16,191.52 90.37,191.81 90.27,188.02 89.05,187.73" fill="#5e5e5e" stroke="#5e5e5e" stroke-width="0.5"/><polygon points="90.37,191.81 91.55,192.28 91.44,188.55 90.27,188.02" fill="#5e5e5e" stroke="#5e5e5e" stroke-width="0.5"/><polygon points="91.55,192.28 92.63,192.92 92.53,189.31 91.44,188.55" fill="#5e5e5e" stroke="#5e5e5e" stroke-width="0.5"/><polygon points="92.63,192.92 93.58,193.72 93.48,190.27 92.53,189.31" fill="#5e5e5e" stroke="#5e5e5e" stroke-width="0.5"/><polygon points="93.58,193.72 94.34,194.65 94.25,191.40 93.48,190.27" fill="#5e5e5e" stroke="#5e5e5e" stroke-width="0.5"/><polygon points="94.34,194.65 94.87,195.68 94.79,192.66 94.25,191.40" fill="#5e5e5e" stroke="#5e5e5e" stroke-width="0.5"/><polygon points="94.87,195.68 95.16,196.78 95.08,194.00 94.79,192.66" fill="#5e5e5e" stroke="#5e5e5e" stroke-width="0.5"/><polygon points="84.33,201.60 84.50,201.05 84.41,198.09 84.25,198.89" fill="#5e5e5e" stroke="#5e5e5e" stroke-width="0.5"/><polygon points="84.50,201.05 84.92,200.54 84.83,197.35 84.41,198.09" fill="#5e5e5e" stroke="#5e5e5e" stroke-width="0.5"/><polygon points="84.92,200.54 85.58,200.11 85.49,196.72 84.83,197.35" fill="#5e5e5e" stroke="#5e5e5e" stroke-width="0.5"/><polygon points="85.58,200.11 86.45,199.80 86.35,196.23 85.49,196.72" fill="#5e5e5e" stroke="#5e5e5e" stroke-width="0.5"/><polygon points="86.45,199.80 87.48,199.63 87.38,195.93 86.35,196.23" fill="#5e5e5e" stroke="#5e5e5e" stroke-width="0.5"/><polygon points="87.48,199.63 88.62,199.62 88.52,195.84 87.38,195.93" fill="#5e5e5e" stroke="#5e5e5e" stroke-width="0.5"/><polygon points="88.62,199.62 89.83,199.79 89.72,195.99 88.52,195.84" fill="#5e5e5e" stroke="#5e5e5e" stroke-width="0.5"/><polygon points="89.83,199.79 91.03,200.14 90.93,196.37 89.72,195.99" fill="#5e5e5e" stroke="#5e5e5e" stroke-width="0.5"/><polygon points="91.03,200.14 92.18,200.67 92.08,196.99 90.93,196.37" fill="#5e5e5e" stroke="#5e5e5e" stroke-width="0.5"/><polygon points="92.18,200.67 93.22,201.37 93.13,197.82 92.08,196.99" fill="#5e5e5e" stroke="#5e5e5e" stroke-width="0.5"/><polygon points="93.22,201.37 94.11,202.22 94.01,198.84 93.13,197.82" fill="#5e5e5e" stroke="#5e5e5e" stroke-width="0.5"/><polygon points="94.11,202.22 94.79,203.19 94.70,200.03 94.01,198.84" fill="#5e5e5e" stroke="#5e5e5e" stroke-width="0.5"/><polygon points="94.79,203.19 95.23,204.26 95.15,201.32 94.70,200.03" fill="#5e5e5e" stroke="#5e5e5e" stroke-width="0.5"/><polygon points="95.23,204.26 95.43,205.37 95.35,202.68 95.15,201.32" fill="#5e5e5e" stroke="#5e5e5e" stroke-width="0.5"/><polygon points="89.67,196.30 88.48,196.50 88.38,192.73 89.57,192.50" fill="#8e8e8e" stroke="#8e8e8e" stroke-width="0.45"/><polygon points="88.48,196.50 87.34,196.46 87.24,192.77 88.38,192.73" fill="#8e8e8e" stroke="#8e8e8e" stroke-width="0.45"/><polygon points="87.34,196.46 86.31,196.21 86.21,192.65 87.24,192.77" fill="#8e8e8e" stroke="#8e8e8e" stroke-width="0.45"/><polygon points="86.31,196.21 85.43,195.76 85.33,192.38 86.21,192.65" fill="#8e8e8e" stroke="#8e8e8e" stroke-width="0.45"/><polygon points="85.43,195.76 84.75,195.16 84.66,191.98 85.33,192.38" fill="#8e8e8e" stroke="#8e8e8e" stroke-width="0.45"/><polygon points="84.75,195.16 84.30,194.44 84.22,191.50 84.66,191.98" fill="#8e8e8e" stroke="#8e8e8e" stroke-width="0.45"/><polygon points="84.30,194.44 84.10,193.66 84.03,190.96 84.22,191.50" fill="#8e8e8e" stroke="#8e8e8e" stroke-width="0.45"/><polygon points="95.16,196.78 95.19,198.03 95.11,195.24 95.08,194.00" fill="#8e8e8e" stroke="#8e8e8e" stroke-width="0.45"/><polygon points="95.19,198.03 94.96,199.39 94.87,196.35 95.11,195.24" fill="#8e8e8e" stroke="#8e8e8e" stroke-width="0.45"/><polygon points="94.96,199.39 94.48,200.67 94.39,197.41 94.87,196.35" fill="#8e8e8e" stroke="#8e8e8e" stroke-width="0.45"/><polygon points="94.48,200.67 93.77,201.83 93.67,198.38 94.39,197.41" fill="#8e8e8e" stroke="#8e8e8e" stroke-width="0.45"/><polygon points="93.77,201.83 92.86,202.83 92.76,199.22 93.67,198.38" fill="#8e8e8e" stroke="#8e8e8e" stroke-width="0.45"/><polygon points="92.86,202.83 91.81,203.64 91.71,199.92 92.76,199.22" fill="#8e8e8e" stroke="#8e8e8e" stroke-width="0.45"/><polygon points="91.81,203.64 90.66,204.23 90.56,200.44 91.71,199.92" fill="#8e8e8e" stroke="#8e8e8e" stroke-width="0.45"/><polygon points="90.66,204.23 89.47,204.58 89.36,200.78 90.56,200.44" fill="#8e8e8e" stroke="#8e8e8e" stroke-width="0.45"/><polygon points="89.47,204.58 88.29,204.69 88.18,200.95 89.36,200.78" fill="#8e8e8e" stroke="#8e8e8e" stroke-width="0.45"/><polygon points="88.29,204.69 87.18,204.58 87.08,200.93 88.18,200.95" fill="#8e8e8e" stroke="#8e8e8e" stroke-width="0.45"/><polygon points="87.18,204.58 86.19,204.25 86.10,200.75 87.08,200.93" fill="#8e8e8e" stroke="#8e8e8e" stroke-width="0.45"/><polygon points="86.19,204.25 85.38,203.74 85.29,200.43 86.10,200.75" fill="#8e8e8e" stroke="#8e8e8e" stroke-width="0.45"/><polygon points="85.38,203.74 84.78,203.09 84.70,200.00 85.29,200.43" fill="#8e8e8e" stroke="#8e8e8e" stroke-width="0.45"/><polygon points="84.78,203.09 84.42,202.34 84.34,199.49 84.70,200.00" fill="#8e8e8e" stroke="#8e8e8e" stroke-width="0.45"/><polygon points="84.42,202.34 84.33,201.60 84.25,198.89 84.34,199.49" fill="#8e8e8e" stroke="#8e8e8e" stroke-width="0.45"/><polygon points="95.43,205.37 95.36,206.71 95.28,203.83 95.35,202.68" fill="#8e8e8e" stroke="#8e8e8e" stroke-width="0.45"/><polygon points="95.36,206.71 95.04,208.04 94.95,204.93 95.28,203.83" fill="#8e8e8e" stroke="#8e8e8e" stroke-width="0.45"/><polygon points="95.04,208.04 94.47,209.29 94.38,205.96 94.95,204.93" fill="#8e8e8e" stroke="#8e8e8e" stroke-width="0.45"/><polygon points="94.47,209.29 93.69,210.40 93.59,206.88 94.38,205.96" fill="#8e8e8e" stroke="#8e8e8e" stroke-width="0.45"/><polygon points="93.69,210.40 92.72,211.33 92.62,207.67 93.59,206.88" fill="#8e8e8e" stroke="#8e8e8e" stroke-width="0.45"/><polygon points="92.72,211.33 91.63,212.06 91.53,208.31 92.62,207.67" fill="#8e8e8e" stroke="#8e8e8e" stroke-width="0.45"/><polygon points="91.63,212.06 90.46,212.57 90.35,208.77 91.53,208.31" fill="#8e8e8e" stroke="#8e8e8e" stroke-width="0.45"/><polygon points="90.46,212.57 89.26,212.83 89.15,209.05 90.35,208.77" fill="#8e8e8e" stroke="#8e8e8e" stroke-width="0.45"/><polygon points="89.26,212.83 88.10,212.86 88.00,209.14 89.15,209.05" fill="#8e8e8e" stroke="#8e8e8e" stroke-width="0.45"/><polygon points="88.10,212.86 87.03,212.66 86.93,209.06 88.00,209.14" fill="#8e8e8e" stroke="#8e8e8e" stroke-width="0.45"/><polygon points="87.03,212.66 86.10,212.27 86.01,208.83 86.93,209.06" fill="#8e8e8e" stroke="#8e8e8e" stroke-width="0.45"/><polygon points="86.10,212.27 85.37,211.70 85.28,208.46 86.01,208.83" fill="#8e8e8e" stroke="#8e8e8e" stroke-width="0.45"/><polygon points="85.37,211.70 84.85,211.01 84.77,208.00 85.28,208.46" fill="#8e8e8e" stroke="#8e8e8e" stroke-width="0.45"/><polygon points="164.66,156.49 164.86,156.47 165.09,156.43 165.33,156.40 165.59,156.35 165.87,156.31 166.15,156.26 166.45,156.20 166.77,156.15 167.10,156.09 167.43,156.03 167.78,155.97 168.14,155.91 168.51,155.85 168.88,155.79 169.26,155.74 169.64,155.68 170.03,155.63 170.42,155.58 170.82,155.53 171.21,155.48 171.60,155.45 171.99,155.41 172.38,155.38 172.76,155.36 173.13,155.34 173.50,155.33 173.86,155.33 174.21,155.33 174.55,155.35 174.87,155.37 175.20,155.40 175.54,155.44 175.90,155.49 176.27,155.56 176.66,155.63 177.05,155.71 177.45,155.80 177.86,155.89 178.27,155.99 178.69,156.10 179.10,156.21 179.52,156.33 179.94,156.45 180.35,156.57 180.77,156.69 181.17,156.81 181.57,156.94 181.97,157.06 182.35,157.18 182.72,157.30 183.09,157.42 183.44,157.53 183.77,157.64 184.10,157.74 184.40,157.83 184.69,157.92 184.96,158.01 185.22,158.08 185.45,158.15 185.66,158.20 186.34,155.80 186.16,155.74 185.95,155.68 185.72,155.60 185.47,155.51 185.19,155.42 184.90,155.32 184.58,155.21 184.25,155.09 183.90,154.97 183.54,154.85 183.16,154.72 182.77,154.59 182.37,154.45 181.96,154.32 181.55,154.18 181.12,154.05 180.69,153.92 180.26,153.78 179.83,153.65 179.39,153.53 178.95,153.41 178.51,153.29 178.07,153.18 177.64,153.07 177.21,152.98 176.78,152.89 176.36,152.81 175.94,152.74 175.53,152.68 175.13,152.63 174.73,152.60 174.32,152.57 173.90,152.56 173.49,152.55 173.07,152.55 172.64,152.56 172.22,152.58 171.79,152.60 171.36,152.63 170.94,152.66 170.52,152.70 170.10,152.74 169.68,152.79 169.27,152.84 168.87,152.89 168.47,152.94 168.08,152.99 167.70,153.05 167.33,153.10 166.97,153.15 166.63,153.20 166.30,153.25 165.98,153.30 165.69,153.34 165.41,153.38 165.15,153.42 164.91,153.45 164.70,153.48 164.51,153.49 164.34,153.51" fill="#8e8e8e" stroke="#5e5e5e" stroke-width="0.55" stroke-linejoin="round"/><polygon points="187.59,158.58 187.55,158.63 187.50,158.68 187.44,158.75 187.38,158.81 187.31,158.89 187.23,158.96 187.15,159.05 187.06,159.14 186.97,159.23 186.88,159.32 186.78,159.42 186.68,159.53 186.57,159.64 186.46,159.75 186.35,159.86 186.24,159.98 186.12,160.09 186.01,160.21 185.89,160.34 185.77,160.46 185.65,160.59 185.53,160.71 185.41,160.84 185.29,160.97 185.17,161.10 185.06,161.23 184.94,161.36 184.82,161.49 184.71,161.62 184.60,161.76 184.48,161.89 184.37,162.03 184.25,162.17 184.13,162.32 184.01,162.47 183.89,162.63 183.77,162.78 183.65,162.94 183.52,163.10 183.40,163.26 183.27,163.42 183.15,163.59 183.03,163.75 182.91,163.91 182.79,164.07 182.67,164.23 182.55,164.38 182.44,164.53 182.33,164.68 182.22,164.83 182.12,164.97 182.02,165.10 181.93,165.23 181.84,165.35 181.75,165.47 181.67,165.57 181.60,165.67 181.54,165.76 181.48,165.84 181.43,165.91 184.17,168.09 184.23,168.02 184.30,167.93 184.38,167.84 184.46,167.75 184.55,167.64 184.64,167.53 184.74,167.41 184.84,167.29 184.94,167.16 185.05,167.02 185.16,166.89 185.28,166.75 185.40,166.60 185.52,166.45 185.64,166.31 185.76,166.16 185.89,166.00 186.01,165.85 186.14,165.70 186.26,165.55 186.39,165.40 186.51,165.26 186.63,165.11 186.75,164.97 186.87,164.84 186.98,164.71 187.09,164.58 187.20,164.46 187.31,164.35 187.40,164.24 187.50,164.14 187.60,164.04 187.70,163.93 187.81,163.82 187.92,163.72 188.03,163.61 188.14,163.50 188.25,163.39 188.37,163.28 188.48,163.17 188.60,163.06 188.71,162.95 188.82,162.85 188.94,162.74 189.05,162.64 189.16,162.54 189.27,162.44 189.38,162.34 189.48,162.25 189.58,162.16 189.68,162.07 189.78,161.98 189.87,161.90 189.96,161.82 190.04,161.74 190.13,161.67 190.20,161.60 190.28,161.54 190.35,161.47 190.41,161.42" fill="#8e8e8e" stroke="#5e5e5e" stroke-width="0.55" stroke-linejoin="round"/><path d="M186.00,146.00 C187.00,147.00 191.33,150.00 192.00,152.00 C192.67,154.00 190.33,157.00 190.00,158.00" fill="none" stroke="#5e5e5e" stroke-width="3.10" stroke-linecap="round" stroke-linejoin="round"/><path d="M186.00,146.00 C187.00,147.00 191.33,150.00 192.00,152.00 C192.67,154.00 190.33,157.00 190.00,158.00" fill="none" stroke="#8e8e8e" stroke-width="2.20" stroke-linecap="round" stroke-linejoin="round"/><polygon points="97.14,93.08 97.25,93.12 97.38,93.17 97.51,93.22 97.66,93.27 97.81,93.33 97.97,93.39 98.14,93.45 98.32,93.52 98.51,93.59 98.70,93.66 98.90,93.74 99.10,93.81 99.31,93.89 99.52,93.97 99.74,94.06 99.96,94.14 100.19,94.23 100.41,94.32 100.64,94.41 100.87,94.50 101.10,94.59 101.33,94.68 101.56,94.78 101.79,94.87 102.02,94.96 102.24,95.06 102.47,95.15 102.68,95.25 102.90,95.34 103.11,95.43 103.32,95.52 103.55,95.62 103.78,95.73 104.02,95.84 104.27,95.96 104.52,96.08 104.78,96.20 105.05,96.33 105.32,96.46 105.59,96.59 105.86,96.72 106.13,96.85 106.40,96.98 106.67,97.11 106.94,97.25 107.21,97.38 107.47,97.50 107.72,97.63 107.97,97.75 108.22,97.87 108.45,97.99 108.68,98.10 108.90,98.21 109.11,98.31 109.31,98.41 109.49,98.50 109.67,98.58 109.83,98.66 109.97,98.73 110.10,98.79 111.90,95.21 111.78,95.15 111.64,95.07 111.49,94.99 111.33,94.90 111.15,94.81 110.95,94.71 110.75,94.60 110.54,94.48 110.31,94.36 110.08,94.24 109.84,94.11 109.59,93.98 109.33,93.84 109.07,93.71 108.81,93.57 108.54,93.43 108.27,93.28 108.00,93.14 107.72,93.00 107.45,92.86 107.18,92.72 106.91,92.58 106.64,92.44 106.37,92.31 106.11,92.17 105.85,92.04 105.60,91.92 105.36,91.80 105.12,91.68 104.89,91.57 104.66,91.46 104.43,91.35 104.20,91.24 103.96,91.14 103.73,91.03 103.49,90.92 103.25,90.81 103.01,90.71 102.77,90.60 102.54,90.50 102.30,90.40 102.07,90.30 101.84,90.20 101.61,90.10 101.38,90.00 101.16,89.91 100.95,89.82 100.74,89.73 100.54,89.64 100.34,89.56 100.15,89.48 99.97,89.40 99.79,89.33 99.63,89.26 99.47,89.19 99.33,89.13 99.19,89.07 99.07,89.02 98.96,88.97 98.86,88.92" fill="#8e8e8e" stroke="#5e5e5e" stroke-width="0.55" stroke-linejoin="round"/><path d="M110.50,60.00 C110.50,64.17 110.50,76.50 110.50,85.00 C110.50,93.50 110.50,106.67 110.50,111.00" fill="none" stroke="#7c0006" stroke-width="2.10" stroke-linecap="round" stroke-linejoin="round"/><path d="M110.50,60.00 C110.50,64.17 110.50,76.50 110.50,85.00 C110.50,93.50 110.50,106.67 110.50,111.00" fill="none" stroke="#c8080f" stroke-width="1.20" stroke-linecap="round" stroke-linejoin="round"/><polygon points="111.19,70.14 111.24,69.78 111.27,69.34 111.30,68.85 111.32,68.32 111.35,67.75 111.39,67.15 111.43,66.53 111.48,65.89 111.55,65.24 111.64,64.60 111.75,63.96 111.88,63.35 112.04,62.77 112.22,62.22 112.44,61.72 112.69,61.21 112.99,60.68 113.31,60.14 113.67,59.60 114.04,59.06 114.45,58.51 114.87,57.97 115.32,57.44 115.78,56.91 116.26,56.39 116.75,55.88 117.26,55.39 117.77,54.91 118.30,54.45 118.82,54.01 119.35,53.59 119.91,53.19 120.49,52.81 121.09,52.43 121.71,52.07 122.35,51.71 123.00,51.37 123.67,51.03 124.36,50.69 125.05,50.36 125.75,50.03 126.45,49.71 127.16,49.38 127.87,49.05 128.57,48.72 129.29,48.39 130.05,48.06 130.85,47.71 131.67,47.37 132.52,47.02 133.37,46.68 134.21,46.35 135.04,46.02 135.85,45.71 136.61,45.42 137.33,45.14 137.99,44.89 138.58,44.66 139.10,44.47 139.52,44.30 138.48,41.70 138.07,41.87 137.57,42.07 136.98,42.30 136.33,42.56 135.61,42.84 134.84,43.14 134.03,43.46 133.20,43.80 132.34,44.14 131.48,44.49 130.62,44.85 129.78,45.21 128.95,45.57 128.17,45.93 127.43,46.28 126.72,46.61 126.02,46.95 125.32,47.28 124.61,47.62 123.89,47.96 123.18,48.30 122.48,48.66 121.77,49.02 121.08,49.40 120.39,49.79 119.72,50.19 119.06,50.61 118.41,51.05 117.78,51.51 117.18,51.99 116.60,52.49 116.03,53.00 115.47,53.53 114.92,54.07 114.39,54.63 113.87,55.21 113.37,55.79 112.88,56.38 112.42,56.98 111.98,57.59 111.56,58.20 111.17,58.81 110.81,59.43 110.47,60.05 110.16,60.68 109.89,61.35 109.65,62.06 109.47,62.78 109.32,63.50 109.20,64.23 109.11,64.96 109.04,65.67 108.99,66.36 108.95,67.02 108.92,67.64 108.90,68.22 108.88,68.74 108.86,69.19 108.84,69.56 108.81,69.86" fill="#c8080f" stroke="#7c0006" stroke-width="0.55" stroke-linejoin="round"/><polyline points="136.0,44.0 140.5,42.5 147.0,57.0 151.5,50.0 158.0,63.5" fill="none" stroke="#7c0006" stroke-width="6.0" stroke-linejoin="miter" stroke-miterlimit="4"/><polyline points="136.0,44.0 140.5,42.5 147.0,57.0 151.5,50.0 158.0,63.5" fill="none" stroke="#c8080f" stroke-width="5.0" stroke-linejoin="miter" stroke-miterlimit="4"/><polygon points="153.73,68.45 154.09,68.14 154.56,67.74 155.08,67.30 155.65,66.82 156.26,66.33 156.87,65.84 157.49,65.38 158.07,64.96 158.58,64.63 159.06,64.36 159.57,64.10 160.07,63.84 160.49,63.62 160.85,63.45 161.19,63.31 161.53,63.21 161.91,63.13 162.37,63.08 162.94,63.08 163.63,63.13 164.46,63.26 165.43,63.47 166.51,63.74 167.67,64.07 168.88,64.45 170.12,64.86 171.37,65.29 172.59,65.74 173.78,66.18 174.91,66.61 175.99,67.04 177.08,67.49 178.17,67.97 179.25,68.47 180.32,68.97 181.36,69.48 182.37,69.99 183.33,70.49 184.25,70.97 185.10,71.44 185.89,71.88 186.61,72.30 187.29,72.72 187.92,73.12 188.52,73.53 189.09,73.93 189.66,74.35 190.23,74.78 190.80,75.22 191.39,75.68 191.99,76.18 192.62,76.73 193.26,77.32 193.90,77.92 194.52,78.53 195.11,79.11 195.67,79.65 196.16,80.13 196.59,80.54 196.94,80.84 197.66,80.16 197.39,79.80 197.02,79.35 196.59,78.81 196.10,78.21 195.56,77.56 194.98,76.89 194.39,76.21 193.79,75.54 193.19,74.91 192.61,74.32 192.07,73.78 191.53,73.26 191.00,72.75 190.46,72.25 189.90,71.75 189.31,71.25 188.68,70.74 188.01,70.23 187.28,69.70 186.50,69.16 185.65,68.61 184.74,68.03 183.79,67.44 182.79,66.84 181.76,66.24 180.69,65.64 179.60,65.05 178.50,64.48 177.40,63.92 176.29,63.39 175.16,62.87 173.97,62.34 172.73,61.80 171.46,61.27 170.20,60.76 168.94,60.28 167.72,59.84 166.54,59.45 165.42,59.12 164.37,58.87 163.41,58.69 162.52,58.58 161.67,58.55 160.87,58.59 160.11,58.69 159.41,58.84 158.76,59.02 158.15,59.22 157.58,59.42 156.94,59.64 156.16,59.97 155.34,60.38 154.54,60.83 153.75,61.31 152.99,61.80 152.28,62.27 151.63,62.70 151.07,63.07 150.62,63.35 150.27,63.55" fill="#c8080f" stroke="#7c0006" stroke-width="0.55" stroke-linejoin="round"/><polyline points="152.43,66.61 152.79,66.35 153.25,65.99 153.79,65.57 154.39,65.11 155.03,64.63 155.70,64.14 156.38,63.67 157.04,63.25 157.68,62.88 158.26,62.59 158.82,62.34 159.35,62.11 159.84,61.90 160.31,61.72 160.78,61.58 161.28,61.47 161.82,61.41 162.42,61.39 163.11,61.43 163.91,61.53 164.82,61.71 165.85,61.96 166.96,62.28 168.14,62.65 169.37,63.07 170.62,63.52 171.88,63.98 173.11,64.46 174.30,64.94 175.43,65.40 176.52,65.87 177.62,66.36 178.71,66.88 179.79,67.41 180.86,67.95 181.90,68.49 182.90,69.03 183.86,69.56 184.77,70.08 185.63,70.58 186.41,71.06 187.14,71.52 187.81,71.98 188.44,72.42 189.03,72.86 189.61,73.30 190.16,73.75 190.72,74.21 191.28,74.68 191.85,75.17 192.44,75.70 193.06,76.28 193.68,76.90 194.30,77.54 194.91,78.16 195.48,78.77 196.01,79.33 196.49,79.84 196.89,80.26 197.21,80.59" fill="none" stroke="#ec4a4a" stroke-width="0.60" opacity="0.35" stroke-linecap="round"/><path d="M197.30,80.50 C195.75,80.08 191.22,78.70 188.00,78.00 C184.78,77.30 181.00,76.70 178.00,76.30 C175.00,75.90 172.08,75.75 170.00,75.60 C167.92,75.45 166.25,75.43 165.50,75.40" fill="none" stroke="#7c0006" stroke-width="2.00" stroke-linecap="round" stroke-linejoin="round"/><path d="M197.30,80.50 C195.75,80.08 191.22,78.70 188.00,78.00 C184.78,77.30 181.00,76.70 178.00,76.30 C175.00,75.90 172.08,75.75 170.00,75.60 C167.92,75.45 166.25,75.43 165.50,75.40" fill="none" stroke="#c8080f" stroke-width="1.10" stroke-linecap="round" stroke-linejoin="round"/><polygon points="161.86,73.60 161.87,73.65 161.89,73.70 161.91,73.76 161.93,73.82 161.96,73.88 161.98,73.95 162.01,74.02 162.04,74.10 162.07,74.18 162.10,74.26 162.13,74.35 162.16,74.43 162.19,74.53 162.23,74.62 162.26,74.72 162.30,74.81 162.33,74.91 162.37,75.02 162.41,75.12 162.45,75.23 162.49,75.34 162.53,75.44 162.57,75.55 162.61,75.67 162.65,75.78 162.69,75.89 162.73,76.00 162.77,76.12 162.81,76.23 162.86,76.35 162.90,76.46 162.94,76.58 162.98,76.69 163.02,76.80 163.06,76.92 163.10,77.03 163.14,77.14 163.18,77.25 163.22,77.36 163.26,77.47 163.30,77.57 163.34,77.68 163.38,77.78 163.41,77.88 163.45,77.98 163.48,78.08 163.52,78.17 163.55,78.26 163.58,78.35 163.61,78.44 163.64,78.52 163.67,78.60 163.70,78.67 163.73,78.75 163.75,78.81 163.78,78.88 163.80,78.94 163.82,79.00 163.84,79.05 163.86,79.10 167.14,77.90 167.13,77.85 167.11,77.80 167.09,77.74 167.07,77.68 167.04,77.62 167.02,77.55 166.99,77.48 166.96,77.40 166.93,77.32 166.90,77.24 166.87,77.15 166.84,77.07 166.81,76.97 166.77,76.88 166.74,76.78 166.70,76.69 166.67,76.59 166.63,76.48 166.59,76.38 166.55,76.27 166.51,76.16 166.47,76.06 166.43,75.95 166.39,75.83 166.35,75.72 166.31,75.61 166.27,75.50 166.23,75.38 166.19,75.27 166.14,75.15 166.10,75.04 166.06,74.92 166.02,74.81 165.98,74.70 165.94,74.58 165.90,74.47 165.86,74.36 165.82,74.25 165.78,74.14 165.74,74.03 165.70,73.93 165.66,73.82 165.62,73.72 165.59,73.62 165.55,73.52 165.52,73.42 165.48,73.33 165.45,73.24 165.42,73.15 165.39,73.06 165.36,72.98 165.33,72.90 165.30,72.83 165.27,72.75 165.25,72.69 165.22,72.62 165.20,72.56 165.18,72.50 165.16,72.45 165.14,72.40" fill="#c8080f" stroke="#7c0006" stroke-width="0.55" stroke-linejoin="round"/><path d="M169.00,76.60 C169.50,77.67 171.10,80.87 172.00,83.00 C172.90,85.13 174.00,88.33 174.40,89.40" fill="none" stroke="#7c0006" stroke-width="2.00" stroke-linecap="round" stroke-linejoin="round"/><path d="M169.00,76.60 C169.50,77.67 171.10,80.87 172.00,83.00 C172.90,85.13 174.00,88.33 174.40,89.40" fill="none" stroke="#c8080f" stroke-width="1.10" stroke-linecap="round" stroke-linejoin="round"/><polygon points="154.34,87.68 154.49,87.70 154.66,87.72 154.83,87.74 155.01,87.76 155.19,87.78 155.39,87.80 155.59,87.82 155.79,87.85 156.01,87.87 156.23,87.89 156.45,87.92 156.68,87.95 156.92,87.98 157.16,88.01 157.41,88.04 157.65,88.08 157.90,88.11 158.16,88.15 158.41,88.19 158.67,88.23 158.92,88.27 159.18,88.32 159.43,88.36 159.68,88.41 159.93,88.46 160.18,88.51 160.42,88.57 160.66,88.62 160.89,88.68 161.12,88.74 161.35,88.80 161.60,88.87 161.86,88.95 162.14,89.04 162.43,89.14 162.73,89.24 163.03,89.35 163.35,89.46 163.67,89.57 163.99,89.69 164.32,89.81 164.64,89.94 164.97,90.06 165.30,90.19 165.63,90.31 165.95,90.44 166.27,90.56 166.58,90.69 166.89,90.81 167.19,90.92 167.48,91.04 167.76,91.15 168.03,91.25 168.29,91.35 168.53,91.44 168.76,91.53 168.98,91.61 169.19,91.69 169.37,91.75 169.54,91.81 171.46,87.19 171.32,87.12 171.17,87.04 170.99,86.95 170.80,86.85 170.58,86.75 170.35,86.63 170.11,86.51 169.85,86.38 169.58,86.25 169.29,86.11 169.00,85.97 168.70,85.83 168.39,85.68 168.07,85.53 167.75,85.37 167.42,85.22 167.09,85.07 166.76,84.91 166.42,84.76 166.08,84.61 165.75,84.45 165.41,84.31 165.08,84.16 164.75,84.02 164.43,83.88 164.11,83.75 163.79,83.62 163.48,83.49 163.18,83.38 162.88,83.26 162.59,83.16 162.29,83.06 161.99,82.96 161.69,82.86 161.40,82.77 161.10,82.68 160.80,82.60 160.51,82.52 160.22,82.44 159.93,82.36 159.64,82.29 159.35,82.22 159.08,82.15 158.80,82.08 158.53,82.02 158.27,81.96 158.01,81.90 157.76,81.84 157.52,81.79 157.29,81.74 157.07,81.68 156.86,81.64 156.66,81.59 156.47,81.54 156.29,81.50 156.13,81.46 155.99,81.42 155.87,81.38 155.76,81.35 155.66,81.32" fill="#c8080f" stroke="#7c0006" stroke-width="0.55" stroke-linejoin="round"/><polyline points="154.84,85.30 154.96,85.32 155.11,85.34 155.26,85.37 155.43,85.40 155.61,85.42 155.79,85.45 155.99,85.48 156.19,85.52 156.41,85.55 156.63,85.58 156.85,85.62 157.09,85.66 157.33,85.70 157.58,85.74 157.83,85.78 158.08,85.83 158.34,85.88 158.61,85.93 158.87,85.98 159.14,86.03 159.41,86.08 159.68,86.14 159.95,86.20 160.22,86.26 160.48,86.33 160.75,86.39 161.01,86.46 161.27,86.53 161.53,86.61 161.78,86.68 162.04,86.77 162.31,86.85 162.59,86.95 162.88,87.06 163.18,87.17 163.49,87.28 163.80,87.40 164.12,87.53 164.45,87.65 164.78,87.78 165.11,87.92 165.44,88.05 165.77,88.19 166.10,88.32 166.42,88.46 166.75,88.60 167.06,88.73 167.38,88.86 167.68,88.99 167.98,89.12 168.27,89.24 168.54,89.36 168.81,89.47 169.06,89.58 169.30,89.68 169.53,89.78 169.74,89.87 169.93,89.94 170.10,90.02 170.26,90.08" fill="none" stroke="#ec4a4a" stroke-width="1.25" opacity="0.35" stroke-linecap="round"/><polygon points="171.80,89.40 176.00,90.00 178.00,96.00 175.00,97.00" fill="#c8080f" stroke="#7c0006" stroke-width="0.55" stroke-linejoin="round"/><ellipse cx="184.50" cy="95.00" rx="6.00" ry="6.20" fill="none" stroke="#7c0006" stroke-width="2.40" transform="rotate(0.0 184.50 95.00)"/><ellipse cx="184.50" cy="95.00" rx="6.00" ry="6.20" fill="none" stroke="#c8080f" stroke-width="1.50" transform="rotate(0.0 184.50 95.00)"/><ellipse cx="185.50" cy="95.50" rx="4.20" ry="4.60" fill="none" stroke="#7c0006" stroke-width="2.20" transform="rotate(0.0 185.50 95.50)"/><ellipse cx="185.50" cy="95.50" rx="4.20" ry="4.60" fill="none" stroke="#c8080f" stroke-width="1.30" transform="rotate(0.0 185.50 95.50)"/><polygon points="132.62,97.60 132.15,97.32 129.22,96.13 129.85,96.47" fill="#7c0006" stroke="#7c0006" stroke-width="0.5"/><polygon points="132.15,97.32 131.85,96.84 128.68,95.54 129.22,96.13" fill="#7c0006" stroke="#7c0006" stroke-width="0.5"/><polygon points="131.85,96.84 131.71,96.16 128.32,94.77 128.68,95.54" fill="#7c0006" stroke="#7c0006" stroke-width="0.5"/><polygon points="131.71,96.16 131.74,95.32 128.16,93.85 128.32,94.77" fill="#7c0006" stroke="#7c0006" stroke-width="0.5"/><polygon points="131.74,95.32 131.96,94.37 128.23,92.84 128.16,93.85" fill="#7c0006" stroke="#7c0006" stroke-width="0.5"/><polygon points="131.96,94.37 132.38,93.35 128.55,91.78 128.23,92.84" fill="#7c0006" stroke="#7c0006" stroke-width="0.5"/><polygon points="132.38,93.35 132.98,92.33 129.10,90.74 128.55,91.78" fill="#7c0006" stroke="#7c0006" stroke-width="0.5"/><polygon points="132.98,92.33 133.76,91.35 129.88,89.77 129.10,90.74" fill="#7c0006" stroke="#7c0006" stroke-width="0.5"/><polygon points="133.76,91.35 134.68,90.47 130.87,88.91 129.88,89.77" fill="#7c0006" stroke="#7c0006" stroke-width="0.5"/><polygon points="134.68,90.47 135.73,89.74 132.03,88.23 130.87,88.91" fill="#7c0006" stroke="#7c0006" stroke-width="0.5"/><polygon points="135.73,89.74 136.87,89.20 133.32,87.75 132.03,88.23" fill="#7c0006" stroke="#7c0006" stroke-width="0.5"/><polygon points="136.87,89.20 138.05,88.87 134.70,87.50 133.32,87.75" fill="#7c0006" stroke="#7c0006" stroke-width="0.5"/><polygon points="138.05,88.87 139.24,88.78 136.12,87.51 134.70,87.50" fill="#7c0006" stroke="#7c0006" stroke-width="0.5"/><polygon points="139.24,88.78 140.39,88.95 137.51,87.77 136.12,87.51" fill="#7c0006" stroke="#7c0006" stroke-width="0.5"/><polygon points="140.39,88.95 141.56,89.40 138.74,88.25 137.51,87.77" fill="#7c0006" stroke="#7c0006" stroke-width="0.5"/><polygon points="141.28,101.15 140.88,100.84 137.90,99.63 138.56,100.03" fill="#7c0006" stroke="#7c0006" stroke-width="0.5"/><polygon points="140.88,100.84 140.61,100.32 137.40,99.00 137.90,99.63" fill="#7c0006" stroke="#7c0006" stroke-width="0.5"/><polygon points="140.61,100.32 140.50,99.60 137.07,98.20 137.40,99.00" fill="#7c0006" stroke="#7c0006" stroke-width="0.5"/><polygon points="140.50,99.60 140.57,98.74 136.96,97.26 137.07,98.20" fill="#7c0006" stroke="#7c0006" stroke-width="0.5"/><polygon points="140.57,98.74 140.83,97.77 137.08,96.23 136.96,97.26" fill="#7c0006" stroke="#7c0006" stroke-width="0.5"/><polygon points="140.83,97.77 141.28,96.75 137.44,95.17 137.08,96.23" fill="#7c0006" stroke="#7c0006" stroke-width="0.5"/><polygon points="141.28,96.75 141.92,95.73 138.04,94.14 137.44,95.17" fill="#7c0006" stroke="#7c0006" stroke-width="0.5"/><polygon points="141.92,95.73 142.73,94.77 138.86,93.18 138.04,94.14" fill="#7c0006" stroke="#7c0006" stroke-width="0.5"/><polygon points="142.73,94.77 143.68,93.91 139.89,92.36 138.86,93.18" fill="#7c0006" stroke="#7c0006" stroke-width="0.5"/><polygon points="143.68,93.91 144.75,93.22 141.08,91.71 139.89,92.36" fill="#7c0006" stroke="#7c0006" stroke-width="0.5"/><polygon points="144.75,93.22 145.90,92.71 142.39,91.28 141.08,91.71" fill="#7c0006" stroke="#7c0006" stroke-width="0.5"/><polygon points="145.90,92.71 147.09,92.43 143.78,91.08 142.39,91.28" fill="#7c0006" stroke="#7c0006" stroke-width="0.5"/><polygon points="147.09,92.43 148.27,92.40 145.20,91.14 143.78,91.08" fill="#7c0006" stroke="#7c0006" stroke-width="0.5"/><polygon points="148.27,92.40 149.41,92.61 146.59,91.46 145.20,91.14" fill="#7c0006" stroke="#7c0006" stroke-width="0.5"/><polygon points="149.99,104.70 149.61,104.35 146.59,103.12 147.22,103.57" fill="#7c0006" stroke="#7c0006" stroke-width="0.5"/><polygon points="149.61,104.35 149.37,103.79 146.11,102.45 146.59,103.12" fill="#7c0006" stroke="#7c0006" stroke-width="0.5"/><polygon points="149.37,103.79 149.30,103.04 145.83,101.62 146.11,102.45" fill="#7c0006" stroke="#7c0006" stroke-width="0.5"/><polygon points="149.30,103.04 149.41,102.15 145.76,100.66 145.83,101.62" fill="#7c0006" stroke="#7c0006" stroke-width="0.5"/><polygon points="149.41,102.15 149.71,101.16 145.93,99.62 145.76,100.66" fill="#7c0006" stroke="#7c0006" stroke-width="0.5"/><polygon points="149.71,101.16 150.20,100.14 146.34,98.56 145.93,99.62" fill="#7c0006" stroke="#7c0006" stroke-width="0.5"/><polygon points="150.20,100.14 150.87,99.13 146.98,97.54 146.34,98.56" fill="#7c0006" stroke="#7c0006" stroke-width="0.5"/><polygon points="137.02,93.46 136.76,94.64 132.90,93.06 133.13,91.87" fill="#c8080f" stroke="#c8080f" stroke-width="0.45"/><polygon points="136.76,94.64 136.31,95.68 132.53,94.14 132.90,93.06" fill="#c8080f" stroke="#c8080f" stroke-width="0.45"/><polygon points="136.31,95.68 135.70,96.54 132.06,95.05 132.53,94.14" fill="#c8080f" stroke="#c8080f" stroke-width="0.45"/><polygon points="135.70,96.54 134.98,97.18 131.51,95.76 132.06,95.05" fill="#c8080f" stroke="#c8080f" stroke-width="0.45"/><polygon points="134.98,97.18 134.19,97.58 130.93,96.24 131.51,95.76" fill="#c8080f" stroke="#c8080f" stroke-width="0.45"/><polygon points="134.19,97.58 133.39,97.72 130.36,96.48 130.93,96.24" fill="#c8080f" stroke="#c8080f" stroke-width="0.45"/><polygon points="133.39,97.72 132.62,97.60 129.85,96.47 130.36,96.48" fill="#c8080f" stroke="#c8080f" stroke-width="0.45"/><polygon points="141.56,89.40 142.77,90.15 139.70,88.89 138.74,88.25" fill="#c8080f" stroke="#c8080f" stroke-width="0.45"/><polygon points="142.77,90.15 143.83,91.10 140.52,89.75 139.70,88.89" fill="#c8080f" stroke="#c8080f" stroke-width="0.45"/><polygon points="143.83,91.10 144.68,92.22 141.17,90.78 140.52,89.75" fill="#c8080f" stroke="#c8080f" stroke-width="0.45"/><polygon points="144.68,92.22 145.31,93.45 141.64,91.94 141.17,90.78" fill="#c8080f" stroke="#c8080f" stroke-width="0.45"/><polygon points="145.31,93.45 145.71,94.74 141.91,93.19 141.64,91.94" fill="#c8080f" stroke="#c8080f" stroke-width="0.45"/><polygon points="145.71,94.74 145.86,96.05 141.99,94.47 141.91,93.19" fill="#c8080f" stroke="#c8080f" stroke-width="0.45"/><polygon points="145.86,96.05 145.78,97.31 141.90,95.72 141.99,94.47" fill="#c8080f" stroke="#c8080f" stroke-width="0.45"/><polygon points="145.78,97.31 145.49,98.46 141.64,96.89 141.90,95.72" fill="#c8080f" stroke="#c8080f" stroke-width="0.45"/><polygon points="145.49,98.46 145.00,99.47 141.25,97.94 141.64,96.89" fill="#c8080f" stroke="#c8080f" stroke-width="0.45"/><polygon points="145.00,99.47 144.37,100.29 140.75,98.81 141.25,97.94" fill="#c8080f" stroke="#c8080f" stroke-width="0.45"/><polygon points="144.37,100.29 143.63,100.88 140.19,99.48 140.75,98.81" fill="#c8080f" stroke="#c8080f" stroke-width="0.45"/><polygon points="143.63,100.88 142.83,101.23 139.62,99.91 140.19,99.48" fill="#c8080f" stroke="#c8080f" stroke-width="0.45"/><polygon points="142.83,101.23 142.03,101.31 139.06,100.10 139.62,99.91" fill="#c8080f" stroke="#c8080f" stroke-width="0.45"/><polygon points="142.03,101.31 141.28,101.15 138.56,100.03 139.06,100.10" fill="#c8080f" stroke="#c8080f" stroke-width="0.45"/><polygon points="149.41,92.61 150.62,93.13 147.74,91.96 146.59,91.46" fill="#c8080f" stroke="#c8080f" stroke-width="0.45"/><polygon points="150.62,93.13 151.80,93.92 148.68,92.65 147.74,91.96" fill="#c8080f" stroke="#c8080f" stroke-width="0.45"/><polygon points="151.80,93.92 152.81,94.91 149.47,93.54 148.68,92.65" fill="#c8080f" stroke="#c8080f" stroke-width="0.45"/><polygon points="152.81,94.91 153.63,96.05 150.08,94.60 149.47,93.54" fill="#c8080f" stroke="#c8080f" stroke-width="0.45"/><polygon points="153.63,96.05 154.21,97.30 150.51,95.79 150.08,94.60" fill="#c8080f" stroke="#c8080f" stroke-width="0.45"/><polygon points="154.21,97.30 154.56,98.61 150.74,97.04 150.51,95.79" fill="#c8080f" stroke="#c8080f" stroke-width="0.45"/><polygon points="154.56,98.61 154.66,99.91 150.79,98.32 150.74,97.04" fill="#c8080f" stroke="#c8080f" stroke-width="0.45"/><polygon points="154.66,99.91 154.54,101.15 150.66,99.56 150.79,98.32" fill="#c8080f" stroke="#c8080f" stroke-width="0.45"/><polygon points="154.54,101.15 154.20,102.28 150.37,100.71 150.66,99.56" fill="#c8080f" stroke="#c8080f" stroke-width="0.45"/><polygon points="154.20,102.28 153.68,103.25 149.95,101.72 150.37,100.71" fill="#c8080f" stroke="#c8080f" stroke-width="0.45"/><polygon points="153.68,103.25 153.02,104.02 149.44,102.56 149.95,101.72" fill="#c8080f" stroke="#c8080f" stroke-width="0.45"/><polygon points="153.02,104.02 152.27,104.57 148.88,103.18 149.44,102.56" fill="#c8080f" stroke="#c8080f" stroke-width="0.45"/><polygon points="152.27,104.57 151.47,104.86 148.30,103.57 148.88,103.18" fill="#c8080f" stroke="#c8080f" stroke-width="0.45"/><polygon points="151.47,104.86 150.67,104.90 147.75,103.70 148.30,103.57" fill="#c8080f" stroke="#c8080f" stroke-width="0.45"/><polygon points="150.67,104.90 149.99,104.70 147.22,103.57 147.75,103.70" fill="#c8080f" stroke="#c8080f" stroke-width="0.45"/><polygon points="103.39,85.45 103.65,85.48 103.93,85.52 104.24,85.57 104.58,85.62 104.93,85.67 105.31,85.73 105.71,85.78 106.13,85.85 106.57,85.91 107.02,85.98 107.49,86.05 107.98,86.12 108.47,86.20 108.98,86.28 109.49,86.36 110.01,86.44 110.54,86.52 111.08,86.61 111.61,86.69 112.15,86.78 112.70,86.87 113.24,86.96 113.77,87.05 114.31,87.14 114.83,87.23 115.36,87.32 115.87,87.41 116.37,87.50 116.86,87.59 117.34,87.68 117.82,87.77 118.32,87.87 118.84,87.98 119.37,88.08 119.92,88.20 120.47,88.31 121.03,88.43 121.61,88.56 122.18,88.68 122.76,88.81 123.34,88.93 123.92,89.06 124.50,89.19 125.08,89.32 125.65,89.45 126.21,89.57 126.76,89.70 127.31,89.82 127.83,89.94 128.35,90.05 128.85,90.16 129.33,90.27 129.79,90.38 130.23,90.47 130.64,90.56 131.03,90.65 131.40,90.73 131.73,90.80 132.04,90.87 132.31,90.92 133.69,85.08 133.42,85.01 133.13,84.93 132.81,84.85 132.45,84.75 132.07,84.65 131.66,84.54 131.23,84.43 130.77,84.31 130.29,84.19 129.80,84.06 129.29,83.93 128.76,83.79 128.22,83.65 127.66,83.51 127.10,83.37 126.53,83.22 125.95,83.08 125.37,82.93 124.79,82.78 124.20,82.64 123.62,82.49 123.03,82.35 122.45,82.21 121.88,82.07 121.32,81.94 120.76,81.80 120.21,81.67 119.68,81.55 119.16,81.43 118.66,81.32 118.16,81.21 117.65,81.10 117.12,80.98 116.60,80.87 116.06,80.76 115.52,80.65 114.97,80.54 114.42,80.43 113.88,80.33 113.33,80.22 112.78,80.11 112.24,80.01 111.70,79.91 111.16,79.80 110.63,79.71 110.12,79.61 109.61,79.51 109.11,79.42 108.63,79.33 108.16,79.24 107.71,79.16 107.27,79.08 106.86,79.00 106.46,78.92 106.09,78.85 105.74,78.78 105.42,78.72 105.12,78.66 104.85,78.60 104.61,78.55" fill="#c8080f" stroke="#7c0006" stroke-width="0.55" stroke-linejoin="round"/><polyline points="103.85,82.86 104.10,82.90 104.38,82.95 104.68,83.00 105.01,83.05 105.37,83.11 105.74,83.17 106.14,83.24 106.56,83.31 107.00,83.38 107.45,83.45 107.92,83.53 108.40,83.61 108.90,83.69 109.40,83.78 109.92,83.86 110.44,83.95 110.97,84.04 111.51,84.13 112.05,84.23 112.59,84.32 113.14,84.42 113.68,84.51 114.22,84.61 114.76,84.71 115.29,84.81 115.82,84.90 116.34,85.00 116.85,85.10 117.35,85.20 117.84,85.30 118.33,85.40 118.83,85.50 119.36,85.61 119.89,85.73 120.44,85.85 121.00,85.97 121.57,86.10 122.14,86.23 122.72,86.36 123.30,86.49 123.88,86.63 124.47,86.76 125.05,86.90 125.62,87.03 126.19,87.17 126.76,87.30 127.31,87.43 127.85,87.56 128.38,87.68 128.89,87.80 129.39,87.92 129.87,88.04 130.33,88.15 130.76,88.25 131.18,88.35 131.57,88.44 131.93,88.52 132.26,88.60 132.56,88.67 132.83,88.73" fill="none" stroke="#ec4a4a" stroke-width="1.50" opacity="0.35" stroke-linecap="round"/><polygon points="115.18,86.41 114.60,86.61 111.54,88.61 112.35,88.26" fill="#7c0006" stroke="#7c0006" stroke-width="0.5"/><polygon points="114.60,86.61 113.88,86.48 110.56,88.64 111.54,88.61" fill="#7c0006" stroke="#7c0006" stroke-width="0.5"/><polygon points="113.88,86.48 113.05,86.03 109.51,88.35 110.56,88.64" fill="#7c0006" stroke="#7c0006" stroke-width="0.5"/><polygon points="113.05,86.03 112.17,85.29 108.43,87.73 109.51,88.35" fill="#7c0006" stroke="#7c0006" stroke-width="0.5"/><polygon points="112.17,85.29 111.29,84.27 107.40,86.81 108.43,87.73" fill="#7c0006" stroke="#7c0006" stroke-width="0.5"/><polygon points="111.29,84.27 110.47,83.03 106.49,85.62 107.40,86.81" fill="#7c0006" stroke="#7c0006" stroke-width="0.5"/><polygon points="110.47,83.03 109.76,81.60 105.74,84.22 106.49,85.62" fill="#7c0006" stroke="#7c0006" stroke-width="0.5"/><polygon points="109.76,81.60 109.20,80.06 105.20,82.67 105.74,84.22" fill="#7c0006" stroke="#7c0006" stroke-width="0.5"/><polygon points="109.20,80.06 108.85,78.48 104.93,81.03 105.20,82.67" fill="#7c0006" stroke="#7c0006" stroke-width="0.5"/><polygon points="108.85,78.48 108.72,76.91 104.93,79.38 104.93,81.03" fill="#7c0006" stroke="#7c0006" stroke-width="0.5"/><polygon points="108.72,76.91 108.83,75.44 105.23,77.79 104.93,79.38" fill="#7c0006" stroke="#7c0006" stroke-width="0.5"/><polygon points="108.83,75.44 109.20,74.13 105.82,76.33 105.23,77.79" fill="#7c0006" stroke="#7c0006" stroke-width="0.5"/><polygon points="109.20,74.13 109.82,73.02 106.69,75.06 105.82,76.33" fill="#7c0006" stroke="#7c0006" stroke-width="0.5"/><polygon points="109.82,73.02 110.67,72.18 107.80,74.05 106.69,75.06" fill="#7c0006" stroke="#7c0006" stroke-width="0.5"/><polygon points="122.54,81.60 121.94,81.92 118.94,83.87 119.64,83.49" fill="#7c0006" stroke="#7c0006" stroke-width="0.5"/><polygon points="121.94,81.92 121.25,81.87 118.00,83.99 118.94,83.87" fill="#7c0006" stroke="#7c0006" stroke-width="0.5"/><polygon points="121.25,81.87 120.45,81.51 116.96,83.78 118.00,83.99" fill="#7c0006" stroke="#7c0006" stroke-width="0.5"/><polygon points="120.45,81.51 119.58,80.84 115.88,83.25 116.96,83.78" fill="#7c0006" stroke="#7c0006" stroke-width="0.5"/><polygon points="119.58,80.84 118.69,79.89 114.84,82.40 115.88,83.25" fill="#7c0006" stroke="#7c0006" stroke-width="0.5"/><polygon points="118.69,79.89 117.85,78.70 113.89,81.28 114.84,82.40" fill="#7c0006" stroke="#7c0006" stroke-width="0.5"/><polygon points="117.85,78.70 117.11,77.31 113.09,79.93 113.89,81.28" fill="#7c0006" stroke="#7c0006" stroke-width="0.5"/><polygon points="117.11,77.31 116.51,75.80 112.49,78.41 113.09,79.93" fill="#7c0006" stroke="#7c0006" stroke-width="0.5"/><polygon points="116.51,75.80 116.09,74.22 112.15,76.79 112.49,78.41" fill="#7c0006" stroke="#7c0006" stroke-width="0.5"/><polygon points="116.09,74.22 115.90,72.64 112.08,75.13 112.15,76.79" fill="#7c0006" stroke="#7c0006" stroke-width="0.5"/><polygon points="115.90,72.64 115.95,71.14 112.30,73.52 112.08,75.13" fill="#7c0006" stroke="#7c0006" stroke-width="0.5"/><polygon points="115.95,71.14 116.26,69.78 112.81,72.02 112.30,73.52" fill="#7c0006" stroke="#7c0006" stroke-width="0.5"/><polygon points="116.26,69.78 116.81,68.61 113.61,70.70 112.81,72.02" fill="#7c0006" stroke="#7c0006" stroke-width="0.5"/><polygon points="116.81,68.61 117.60,67.70 114.66,69.61 113.61,70.70" fill="#7c0006" stroke="#7c0006" stroke-width="0.5"/><polygon points="129.26,77.20 128.62,77.24 125.43,79.32 126.34,79.11" fill="#7c0006" stroke="#7c0006" stroke-width="0.5"/><polygon points="128.62,77.24 127.84,76.96 124.41,79.19 125.43,79.32" fill="#7c0006" stroke="#7c0006" stroke-width="0.5"/><polygon points="127.84,76.96 126.98,76.37 123.34,78.74 124.41,79.19" fill="#7c0006" stroke="#7c0006" stroke-width="0.5"/><polygon points="126.98,76.37 126.10,75.49 122.28,77.98 123.34,78.74" fill="#7c0006" stroke="#7c0006" stroke-width="0.5"/><polygon points="126.10,75.49 125.24,74.36 121.30,76.92 122.28,77.98" fill="#7c0006" stroke="#7c0006" stroke-width="0.5"/><polygon points="125.24,74.36 124.46,73.02 120.45,75.63 121.30,76.92" fill="#7c0006" stroke="#7c0006" stroke-width="0.5"/><polygon points="124.46,73.02 123.82,71.53 119.80,74.15 120.45,75.63" fill="#7c0006" stroke="#7c0006" stroke-width="0.5"/><polygon points="123.82,71.53 123.35,69.96 119.39,72.54 119.80,74.15" fill="#7c0006" stroke="#7c0006" stroke-width="0.5"/><polygon points="123.35,69.96 123.10,68.38 119.24,70.89 119.39,72.54" fill="#7c0006" stroke="#7c0006" stroke-width="0.5"/><polygon points="123.10,68.38 123.09,66.85 119.39,69.26 119.24,70.89" fill="#7c0006" stroke="#7c0006" stroke-width="0.5"/><polygon points="123.09,66.85 123.33,65.44 119.83,67.72 119.39,69.26" fill="#7c0006" stroke="#7c0006" stroke-width="0.5"/><polygon points="123.33,65.44 123.82,64.22 120.55,66.35 119.83,67.72" fill="#7c0006" stroke="#7c0006" stroke-width="0.5"/><polygon points="123.82,64.22 124.55,63.24 121.54,65.19 120.55,66.35" fill="#7c0006" stroke="#7c0006" stroke-width="0.5"/><polygon points="124.55,63.24 125.57,62.48 122.68,64.36 121.54,65.19" fill="#7c0006" stroke="#7c0006" stroke-width="0.5"/><polygon points="136.58,72.47 135.98,72.59 132.86,74.62 133.72,74.33" fill="#7c0006" stroke="#7c0006" stroke-width="0.5"/><polygon points="135.98,72.59 135.23,72.39 131.86,74.58 132.86,74.62" fill="#7c0006" stroke="#7c0006" stroke-width="0.5"/><polygon points="135.23,72.39 134.39,71.88 130.79,74.22 131.86,74.58" fill="#7c0006" stroke="#7c0006" stroke-width="0.5"/><polygon points="134.39,71.88 133.50,71.07 129.72,73.53 130.79,74.22" fill="#7c0006" stroke="#7c0006" stroke-width="0.5"/><polygon points="133.50,71.07 132.63,70.00 128.72,72.55 129.72,73.53" fill="#7c0006" stroke="#7c0006" stroke-width="0.5"/><polygon points="132.63,70.00 131.83,68.71 127.83,71.31 128.72,72.55" fill="#7c0006" stroke="#7c0006" stroke-width="0.5"/><polygon points="131.83,68.71 131.15,67.25 127.12,69.87 127.83,71.31" fill="#7c0006" stroke="#7c0006" stroke-width="0.5"/><polygon points="131.15,67.25 130.63,65.70 126.64,68.30 127.12,69.87" fill="#7c0006" stroke="#7c0006" stroke-width="0.5"/><polygon points="130.63,65.70 130.32,64.11 126.43,66.65 126.64,68.30" fill="#7c0006" stroke="#7c0006" stroke-width="0.5"/><polygon points="130.32,64.11 130.24,62.56 126.49,65.01 126.43,66.65" fill="#7c0006" stroke="#7c0006" stroke-width="0.5"/><polygon points="130.24,62.56 130.41,61.12 126.86,63.44 126.49,65.01" fill="#7c0006" stroke="#7c0006" stroke-width="0.5"/><polygon points="130.41,61.12 130.84,59.84 127.51,62.01 126.86,63.44" fill="#7c0006" stroke="#7c0006" stroke-width="0.5"/><polygon points="130.84,59.84 131.51,58.79 128.43,60.80 127.51,62.01" fill="#7c0006" stroke="#7c0006" stroke-width="0.5"/><polygon points="131.51,58.79 132.41,58.01 129.59,59.84 128.43,60.80" fill="#7c0006" stroke="#7c0006" stroke-width="0.5"/><polygon points="143.91,67.70 143.32,67.91 140.27,69.90 141.06,69.55" fill="#7c0006" stroke="#7c0006" stroke-width="0.5"/><polygon points="143.32,67.91 142.61,67.80 139.30,69.95 140.27,69.90" fill="#7c0006" stroke="#7c0006" stroke-width="0.5"/><polygon points="142.61,67.80 141.79,67.37 138.25,69.67 139.30,69.95" fill="#7c0006" stroke="#7c0006" stroke-width="0.5"/><polygon points="141.79,67.37 140.91,66.63 137.17,69.07 138.25,69.67" fill="#7c0006" stroke="#7c0006" stroke-width="0.5"/><polygon points="140.91,66.63 140.03,65.63 136.14,68.16 137.17,69.07" fill="#7c0006" stroke="#7c0006" stroke-width="0.5"/><polygon points="140.03,65.63 139.20,64.39 135.22,66.98 136.14,68.16" fill="#7c0006" stroke="#7c0006" stroke-width="0.5"/><polygon points="139.20,64.39 138.48,62.97 134.46,65.59 135.22,66.98" fill="#7c0006" stroke="#7c0006" stroke-width="0.5"/><polygon points="138.48,62.97 137.92,61.44 133.92,64.04 134.46,65.59" fill="#7c0006" stroke="#7c0006" stroke-width="0.5"/><polygon points="137.92,61.44 137.55,59.85 133.63,62.41 133.92,64.04" fill="#7c0006" stroke="#7c0006" stroke-width="0.5"/><polygon points="137.55,59.85 137.41,58.29 133.62,60.76 133.63,62.41" fill="#7c0006" stroke="#7c0006" stroke-width="0.5"/><polygon points="113.93,78.64 114.94,79.87 110.95,82.47 109.91,81.26" fill="#c8080f" stroke="#c8080f" stroke-width="0.45"/><polygon points="114.94,79.87 115.69,81.19 111.79,83.73 110.95,82.47" fill="#c8080f" stroke="#c8080f" stroke-width="0.45"/><polygon points="115.69,81.19 116.16,82.50 112.39,84.95 111.79,83.73" fill="#c8080f" stroke="#c8080f" stroke-width="0.45"/><polygon points="116.16,82.50 116.33,83.75 112.75,86.08 112.39,84.95" fill="#c8080f" stroke="#c8080f" stroke-width="0.45"/><polygon points="116.33,83.75 116.21,84.86 112.86,87.04 112.75,86.08" fill="#c8080f" stroke="#c8080f" stroke-width="0.45"/><polygon points="116.21,84.86 115.81,85.76 112.71,87.78 112.86,87.04" fill="#c8080f" stroke="#c8080f" stroke-width="0.45"/><polygon points="115.81,85.76 115.18,86.41 112.35,88.26 112.71,87.78" fill="#c8080f" stroke="#c8080f" stroke-width="0.45"/><polygon points="110.67,72.18 111.93,71.48 108.90,73.46 107.80,74.05" fill="#c8080f" stroke="#c8080f" stroke-width="0.45"/><polygon points="111.93,71.48 113.39,71.07 110.11,73.22 108.90,73.46" fill="#c8080f" stroke="#c8080f" stroke-width="0.45"/><polygon points="113.39,71.07 114.95,71.00 111.43,73.29 110.11,73.22" fill="#c8080f" stroke="#c8080f" stroke-width="0.45"/><polygon points="114.95,71.00 116.53,71.24 112.82,73.66 111.43,73.29" fill="#c8080f" stroke="#c8080f" stroke-width="0.45"/><polygon points="116.53,71.24 118.08,71.79 114.21,74.32 112.82,73.66" fill="#c8080f" stroke="#c8080f" stroke-width="0.45"/><polygon points="118.08,71.79 119.52,72.62 115.55,75.21 114.21,74.32" fill="#c8080f" stroke="#c8080f" stroke-width="0.45"/><polygon points="119.52,72.62 120.80,73.66 116.78,76.28 115.55,75.21" fill="#c8080f" stroke="#c8080f" stroke-width="0.45"/><polygon points="120.80,73.66 121.88,74.87 117.87,77.48 116.78,76.28" fill="#c8080f" stroke="#c8080f" stroke-width="0.45"/><polygon points="121.88,74.87 122.70,76.17 118.76,78.73 117.87,77.48" fill="#c8080f" stroke="#c8080f" stroke-width="0.45"/><polygon points="122.70,76.17 123.24,77.49 119.43,79.97 118.76,78.73" fill="#c8080f" stroke="#c8080f" stroke-width="0.45"/><polygon points="123.24,77.49 123.48,78.76 119.86,81.12 119.43,79.97" fill="#c8080f" stroke="#c8080f" stroke-width="0.45"/><polygon points="123.48,78.76 123.44,79.91 120.03,82.13 119.86,81.12" fill="#c8080f" stroke="#c8080f" stroke-width="0.45"/><polygon points="123.44,79.91 123.11,80.88 119.95,82.94 120.03,82.13" fill="#c8080f" stroke="#c8080f" stroke-width="0.45"/><polygon points="123.11,80.88 122.54,81.60 119.64,83.49 119.95,82.94" fill="#c8080f" stroke="#c8080f" stroke-width="0.45"/><polygon points="117.60,67.70 118.74,66.97 115.78,68.90 114.66,69.61" fill="#c8080f" stroke="#c8080f" stroke-width="0.45"/><polygon points="118.74,66.97 120.17,66.48 116.95,68.57 115.78,68.90" fill="#c8080f" stroke="#c8080f" stroke-width="0.45"/><polygon points="120.17,66.48 121.71,66.31 118.25,68.57 116.95,68.57" fill="#c8080f" stroke="#c8080f" stroke-width="0.45"/><polygon points="121.71,66.31 123.30,66.47 119.63,68.86 118.25,68.57" fill="#c8080f" stroke="#c8080f" stroke-width="0.45"/><polygon points="123.30,66.47 124.86,66.95 121.02,69.45 119.63,68.86" fill="#c8080f" stroke="#c8080f" stroke-width="0.45"/><polygon points="124.86,66.95 126.33,67.70 122.38,70.28 121.02,69.45" fill="#c8080f" stroke="#c8080f" stroke-width="0.45"/><polygon points="126.33,67.70 127.66,68.70 123.65,71.31 122.38,70.28" fill="#c8080f" stroke="#c8080f" stroke-width="0.45"/><polygon points="127.66,68.70 128.79,69.87 124.78,72.48 123.65,71.31" fill="#c8080f" stroke="#c8080f" stroke-width="0.45"/><polygon points="128.79,69.87 129.68,71.15 125.72,73.73 124.78,72.48" fill="#c8080f" stroke="#c8080f" stroke-width="0.45"/><polygon points="129.68,71.15 130.30,72.47 126.45,74.98 125.72,73.73" fill="#c8080f" stroke="#c8080f" stroke-width="0.45"/><polygon points="130.30,72.47 130.62,73.76 126.94,76.16 126.45,74.98" fill="#c8080f" stroke="#c8080f" stroke-width="0.45"/><polygon points="130.62,73.76 130.65,74.95 127.18,77.21 126.94,76.16" fill="#c8080f" stroke="#c8080f" stroke-width="0.45"/><polygon points="130.65,74.95 130.40,75.97 127.17,78.08 127.18,77.21" fill="#c8080f" stroke="#c8080f" stroke-width="0.45"/><polygon points="130.40,75.97 129.89,76.76 126.91,78.70 127.17,78.08" fill="#c8080f" stroke="#c8080f" stroke-width="0.45"/><polygon points="129.89,76.76 129.26,77.20 126.34,79.11 126.91,78.70" fill="#c8080f" stroke="#c8080f" stroke-width="0.45"/><polygon points="125.57,62.48 126.96,61.90 123.81,63.95 122.68,64.36" fill="#c8080f" stroke="#c8080f" stroke-width="0.45"/><polygon points="126.96,61.90 128.48,61.65 125.08,63.86 123.81,63.95" fill="#c8080f" stroke="#c8080f" stroke-width="0.45"/><polygon points="128.48,61.65 130.06,61.73 126.44,64.08 125.08,63.86" fill="#c8080f" stroke="#c8080f" stroke-width="0.45"/><polygon points="130.06,61.73 131.63,62.12 127.83,64.60 126.44,64.08" fill="#c8080f" stroke="#c8080f" stroke-width="0.45"/><polygon points="131.63,62.12 133.13,62.81 129.21,65.37 127.83,64.60" fill="#c8080f" stroke="#c8080f" stroke-width="0.45"/><polygon points="133.13,62.81 134.51,63.74 130.50,66.35 129.21,65.37" fill="#c8080f" stroke="#c8080f" stroke-width="0.45"/><polygon points="134.51,63.74 135.69,64.87 131.67,67.49 130.50,66.35" fill="#c8080f" stroke="#c8080f" stroke-width="0.45"/><polygon points="135.69,64.87 136.65,66.13 132.67,68.72 131.67,67.49" fill="#c8080f" stroke="#c8080f" stroke-width="0.45"/><polygon points="136.65,66.13 137.34,67.45 133.46,69.98 132.67,68.72" fill="#c8080f" stroke="#c8080f" stroke-width="0.45"/><polygon points="137.34,67.45 137.74,68.76 134.01,71.19 133.46,69.98" fill="#c8080f" stroke="#c8080f" stroke-width="0.45"/><polygon points="137.74,68.76 137.85,69.98 134.32,72.28 134.01,71.19" fill="#c8080f" stroke="#c8080f" stroke-width="0.45"/><polygon points="137.85,69.98 137.66,71.05 134.37,73.20 134.32,72.28" fill="#c8080f" stroke="#c8080f" stroke-width="0.45"/><polygon points="137.66,71.05 137.22,71.91 134.17,73.89 134.37,73.20" fill="#c8080f" stroke="#c8080f" stroke-width="0.45"/><polygon points="137.22,71.91 136.58,72.47 133.72,74.33 134.17,73.89" fill="#c8080f" stroke="#c8080f" stroke-width="0.45"/><polygon points="132.41,58.01 133.76,57.35 130.67,59.36 129.59,59.84" fill="#c8080f" stroke="#c8080f" stroke-width="0.45"/><polygon points="133.76,57.35 135.25,57.01 131.91,59.18 130.67,59.36" fill="#c8080f" stroke="#c8080f" stroke-width="0.45"/><polygon points="135.25,57.01 136.82,57.00 133.25,59.32 131.91,59.18" fill="#c8080f" stroke="#c8080f" stroke-width="0.45"/><polygon points="136.82,57.00 138.40,57.31 134.64,59.76 133.25,59.32" fill="#c8080f" stroke="#c8080f" stroke-width="0.45"/><polygon points="138.40,57.31 139.93,57.93 136.03,60.47 134.64,59.76" fill="#c8080f" stroke="#c8080f" stroke-width="0.45"/><polygon points="139.93,57.93 141.34,58.80 137.35,61.40 136.03,60.47" fill="#c8080f" stroke="#c8080f" stroke-width="0.45"/><polygon points="141.34,58.80 142.58,59.89 138.56,62.51 137.35,61.40" fill="#c8080f" stroke="#c8080f" stroke-width="0.45"/><polygon points="142.58,59.89 143.60,61.12 139.60,63.72 138.56,62.51" fill="#c8080f" stroke="#c8080f" stroke-width="0.45"/><polygon points="143.60,61.12 144.36,62.43 140.45,64.98 139.60,63.72" fill="#c8080f" stroke="#c8080f" stroke-width="0.45"/><polygon points="144.36,62.43 144.84,63.75 141.07,66.21 140.45,64.98" fill="#c8080f" stroke="#c8080f" stroke-width="0.45"/><polygon points="144.84,63.75 145.02,65.00 141.44,67.34 141.07,66.21" fill="#c8080f" stroke="#c8080f" stroke-width="0.45"/><polygon points="145.02,65.00 144.91,66.12 141.55,68.31 141.44,67.34" fill="#c8080f" stroke="#c8080f" stroke-width="0.45"/><polygon points="144.91,66.12 144.53,67.03 141.42,69.06 141.55,68.31" fill="#c8080f" stroke="#c8080f" stroke-width="0.45"/><polygon points="144.53,67.03 143.91,67.70 141.06,69.55 141.42,69.06" fill="#c8080f" stroke="#c8080f" stroke-width="0.45"/><polygon points="88.12,95.08 87.71,94.82 83.05,93.27 83.74,93.62" fill="#7c0006" stroke="#7c0006" stroke-width="0.5"/><polygon points="87.71,94.82 87.49,94.28 82.45,92.60 83.05,93.27" fill="#7c0006" stroke="#7c0006" stroke-width="0.5"/><polygon points="87.49,94.28 87.43,93.47 82.04,91.67 82.45,92.60" fill="#7c0006" stroke="#7c0006" stroke-width="0.5"/><polygon points="87.43,93.47 87.54,92.42 81.85,90.53 82.04,91.67" fill="#7c0006" stroke="#7c0006" stroke-width="0.5"/><polygon points="87.54,92.42 87.84,91.21 81.90,89.23 81.85,90.53" fill="#7c0006" stroke="#7c0006" stroke-width="0.5"/><polygon points="87.84,91.21 88.31,89.87 82.22,87.84 81.90,89.23" fill="#7c0006" stroke="#7c0006" stroke-width="0.5"/><polygon points="88.31,89.87 88.95,88.50 82.79,86.44 82.22,87.84" fill="#7c0006" stroke="#7c0006" stroke-width="0.5"/><polygon points="88.95,88.50 89.75,87.15 83.60,85.10 82.79,86.44" fill="#7c0006" stroke="#7c0006" stroke-width="0.5"/><polygon points="89.75,87.15 90.67,85.90 84.63,83.88 83.60,85.10" fill="#7c0006" stroke="#7c0006" stroke-width="0.5"/><polygon points="90.67,85.90 91.70,84.80 85.84,82.85 84.63,83.88" fill="#7c0006" stroke="#7c0006" stroke-width="0.5"/><polygon points="91.70,84.80 92.79,83.93 87.19,82.06 85.84,82.85" fill="#7c0006" stroke="#7c0006" stroke-width="0.5"/><polygon points="92.79,83.93 93.90,83.32 88.63,81.56 87.19,82.06" fill="#7c0006" stroke="#7c0006" stroke-width="0.5"/><polygon points="93.90,83.32 95.00,83.00 90.09,81.37 88.63,81.56" fill="#7c0006" stroke="#7c0006" stroke-width="0.5"/><polygon points="95.00,83.00 96.04,83.01 91.53,81.51 90.09,81.37" fill="#7c0006" stroke="#7c0006" stroke-width="0.5"/><polygon points="96.10,97.74 95.79,97.39 90.99,95.79 91.70,96.27" fill="#7c0006" stroke="#7c0006" stroke-width="0.5"/><polygon points="95.79,97.39 95.63,96.74 90.46,95.02 90.99,95.79" fill="#7c0006" stroke="#7c0006" stroke-width="0.5"/><polygon points="95.63,96.74 95.63,95.84 90.12,94.00 90.46,95.02" fill="#7c0006" stroke="#7c0006" stroke-width="0.5"/><polygon points="95.63,95.84 95.81,94.73 90.02,92.80 90.12,94.00" fill="#7c0006" stroke="#7c0006" stroke-width="0.5"/><polygon points="95.81,94.73 96.17,93.46 90.17,91.46 90.02,92.80" fill="#7c0006" stroke="#7c0006" stroke-width="0.5"/><polygon points="96.17,93.46 96.71,92.10 90.58,90.06 90.17,91.46" fill="#7c0006" stroke="#7c0006" stroke-width="0.5"/><polygon points="96.71,92.10 97.41,90.73 91.24,88.67 90.58,90.06" fill="#7c0006" stroke="#7c0006" stroke-width="0.5"/><polygon points="97.41,90.73 98.25,89.41 92.14,87.37 91.24,88.67" fill="#7c0006" stroke="#7c0006" stroke-width="0.5"/><polygon points="98.25,89.41 99.22,88.20 93.24,86.21 92.14,87.37" fill="#7c0006" stroke="#7c0006" stroke-width="0.5"/><polygon points="99.22,88.20 100.27,87.19 94.50,85.26 93.24,86.21" fill="#7c0006" stroke="#7c0006" stroke-width="0.5"/><polygon points="100.27,87.19 101.37,86.40 95.89,84.57 94.50,85.26" fill="#7c0006" stroke="#7c0006" stroke-width="0.5"/><polygon points="101.37,86.40 102.48,85.90 97.34,84.18 95.89,84.57" fill="#7c0006" stroke="#7c0006" stroke-width="0.5"/><polygon points="102.48,85.90 103.57,85.70 98.80,84.11 97.34,84.18" fill="#7c0006" stroke="#7c0006" stroke-width="0.5"/><polygon points="103.57,85.70 104.58,85.82 100.22,84.36 98.80,84.11" fill="#7c0006" stroke="#7c0006" stroke-width="0.5"/><polygon points="93.07,89.36 92.75,90.86 86.63,88.82 86.90,87.30" fill="#c8080f" stroke="#c8080f" stroke-width="0.45"/><polygon points="92.75,90.86 92.23,92.21 86.24,90.22 86.63,88.82" fill="#c8080f" stroke="#c8080f" stroke-width="0.45"/><polygon points="92.23,92.21 91.55,93.36 85.77,91.44 86.24,90.22" fill="#c8080f" stroke="#c8080f" stroke-width="0.45"/><polygon points="91.55,93.36 90.74,94.25 85.24,92.42 85.77,91.44" fill="#c8080f" stroke="#c8080f" stroke-width="0.45"/><polygon points="90.74,94.25 89.86,94.85 84.70,93.13 85.24,92.42" fill="#c8080f" stroke="#c8080f" stroke-width="0.45"/><polygon points="89.86,94.85 88.97,95.13 84.18,93.54 84.70,93.13" fill="#c8080f" stroke="#c8080f" stroke-width="0.45"/><polygon points="88.97,95.13 88.12,95.08 83.74,93.62 84.18,93.54" fill="#c8080f" stroke="#c8080f" stroke-width="0.45"/><polygon points="96.04,83.01 97.20,83.40 92.68,81.90 91.53,81.51" fill="#c8080f" stroke="#c8080f" stroke-width="0.45"/><polygon points="97.20,83.40 98.43,84.17 93.51,82.53 92.68,81.90" fill="#c8080f" stroke="#c8080f" stroke-width="0.45"/><polygon points="98.43,84.17 99.48,85.22 94.19,83.45 93.51,82.53" fill="#c8080f" stroke="#c8080f" stroke-width="0.45"/><polygon points="99.48,85.22 100.31,86.49 94.71,84.62 94.19,83.45" fill="#c8080f" stroke="#c8080f" stroke-width="0.45"/><polygon points="100.31,86.49 100.91,87.94 95.04,85.98 94.71,84.62" fill="#c8080f" stroke="#c8080f" stroke-width="0.45"/><polygon points="100.91,87.94 101.25,89.49 95.20,87.47 95.04,85.98" fill="#c8080f" stroke="#c8080f" stroke-width="0.45"/><polygon points="101.25,89.49 101.33,91.08 95.18,89.03 95.20,87.47" fill="#c8080f" stroke="#c8080f" stroke-width="0.45"/><polygon points="101.33,91.08 101.16,92.64 95.00,90.59 95.18,89.03" fill="#c8080f" stroke="#c8080f" stroke-width="0.45"/><polygon points="101.16,92.64 100.77,94.10 94.68,92.07 95.00,90.59" fill="#c8080f" stroke="#c8080f" stroke-width="0.45"/><polygon points="100.77,94.10 100.18,95.38 94.26,93.41 94.68,92.07" fill="#c8080f" stroke="#c8080f" stroke-width="0.45"/><polygon points="100.18,95.38 99.44,96.45 93.76,94.55 94.26,93.41" fill="#c8080f" stroke="#c8080f" stroke-width="0.45"/><polygon points="99.44,96.45 98.60,97.23 93.22,95.44 93.76,94.55" fill="#c8080f" stroke="#c8080f" stroke-width="0.45"/><polygon points="98.60,97.23 97.71,97.72 92.69,96.04 93.22,95.44" fill="#c8080f" stroke="#c8080f" stroke-width="0.45"/><polygon points="97.71,97.72 96.83,97.88 92.19,96.33 92.69,96.04" fill="#c8080f" stroke="#c8080f" stroke-width="0.45"/><polygon points="96.83,97.88 96.10,97.74 91.70,96.27 92.19,96.33" fill="#c8080f" stroke="#c8080f" stroke-width="0.45"/><polygon points="104.58,85.82 105.85,86.38 101.18,84.82 100.22,84.36" fill="#c8080f" stroke="#c8080f" stroke-width="0.45"/><polygon points="105.85,86.38 107.02,87.25 101.96,85.56 101.18,84.82" fill="#c8080f" stroke="#c8080f" stroke-width="0.45"/><polygon points="107.02,87.25 107.99,88.38 102.58,86.58 101.96,85.56" fill="#c8080f" stroke="#c8080f" stroke-width="0.45"/><polygon points="107.99,88.38 108.74,89.73 103.03,87.82 102.58,86.58" fill="#c8080f" stroke="#c8080f" stroke-width="0.45"/><polygon points="108.74,89.73 109.24,91.22 103.30,89.24 103.03,87.82" fill="#c8080f" stroke="#c8080f" stroke-width="0.45"/><polygon points="109.24,91.22 109.49,92.80 103.39,90.76 103.30,89.24" fill="#c8080f" stroke="#c8080f" stroke-width="0.45"/><polygon points="109.49,92.80 109.48,94.38 103.31,92.33 103.39,90.76" fill="#c8080f" stroke="#c8080f" stroke-width="0.45"/><polygon points="109.48,94.38 109.23,95.91 103.08,93.87 103.31,92.33" fill="#c8080f" stroke="#c8080f" stroke-width="0.45"/><polygon points="109.23,95.91 108.76,97.32 102.72,95.30 103.08,93.87" fill="#c8080f" stroke="#c8080f" stroke-width="0.45"/><polygon points="108.76,97.32 108.11,98.53 102.27,96.58 102.72,95.30" fill="#c8080f" stroke="#c8080f" stroke-width="0.45"/><polygon points="108.11,98.53 107.33,99.49 101.75,97.63 102.27,96.58" fill="#c8080f" stroke="#c8080f" stroke-width="0.45"/><polygon points="107.33,99.49 106.46,100.17 101.21,98.42 101.75,97.63" fill="#c8080f" stroke="#c8080f" stroke-width="0.45"/><polygon points="106.46,100.17 105.57,100.54 100.68,98.91 101.21,98.42" fill="#c8080f" stroke="#c8080f" stroke-width="0.45"/><polygon points="96.20,99.44 96.85,99.48 97.65,99.54 98.56,99.61 99.57,99.70 100.67,99.79 101.83,99.90 103.03,100.02 104.27,100.16 105.51,100.30 106.73,100.44 107.93,100.60 109.07,100.76 110.21,100.93 111.39,101.13 112.60,101.33 113.82,101.55 115.07,101.79 116.33,102.03 117.60,102.28 118.88,102.53 120.16,102.79 121.44,103.05 122.71,103.31 123.98,103.57 125.25,103.84 126.55,104.11 127.87,104.39 129.19,104.67 130.51,104.96 131.82,105.25 133.12,105.53 134.38,105.82 135.61,106.10 136.79,106.38 137.92,106.64 138.98,106.90 139.98,107.15 140.93,107.39 141.84,107.63 142.71,107.86 143.54,108.09 144.35,108.32 145.14,108.55 145.91,108.77 146.67,109.00 147.43,109.23 148.19,109.47 148.94,109.70 149.69,109.94 150.47,110.20 151.25,110.47 152.04,110.75 152.81,111.04 153.57,111.32 154.29,111.59 154.98,111.84 155.61,112.07 156.18,112.27 156.68,112.43 157.09,112.56 158.91,108.44 158.56,108.23 158.13,107.97 157.61,107.68 157.02,107.35 156.38,106.99 155.68,106.62 154.95,106.23 154.19,105.84 153.41,105.44 152.62,105.05 151.83,104.66 151.06,104.30 150.32,103.95 149.58,103.61 148.84,103.27 148.09,102.93 147.32,102.59 146.52,102.24 145.70,101.90 144.85,101.55 143.96,101.19 143.03,100.83 142.05,100.47 141.02,100.10 139.93,99.72 138.79,99.34 137.59,98.95 136.36,98.55 135.09,98.15 133.80,97.75 132.49,97.35 131.18,96.96 129.87,96.56 128.56,96.18 127.28,95.80 126.02,95.43 124.77,95.06 123.52,94.69 122.25,94.32 120.97,93.95 119.70,93.58 118.42,93.22 117.15,92.87 115.88,92.52 114.62,92.18 113.38,91.85 112.15,91.54 110.93,91.24 109.68,90.95 108.40,90.67 107.10,90.40 105.81,90.14 104.53,89.89 103.30,89.66 102.12,89.44 101.02,89.23 100.02,89.04 99.14,88.86 98.40,88.70 97.80,88.56" fill="#c8080f" stroke="#7c0006" stroke-width="0.55" stroke-linejoin="round"/><polyline points="96.80,95.36 97.43,95.44 98.21,95.54 99.11,95.65 100.12,95.77 101.21,95.91 102.38,96.06 103.60,96.23 104.84,96.40 106.10,96.58 107.36,96.78 108.59,96.98 109.77,97.19 110.94,97.41 112.14,97.65 113.36,97.90 114.59,98.17 115.85,98.44 117.11,98.73 118.39,99.02 119.66,99.31 120.94,99.61 122.22,99.92 123.49,100.22 124.75,100.52 126.01,100.82 127.31,101.14 128.62,101.45 129.94,101.78 131.26,102.11 132.57,102.44 133.86,102.77 135.12,103.09 136.35,103.42 137.54,103.74 138.67,104.05 139.75,104.35 140.76,104.64 141.72,104.93 142.63,105.21 143.51,105.49 144.35,105.77 145.17,106.04 145.96,106.31 146.73,106.58 147.49,106.85 148.24,107.12 148.99,107.40 149.73,107.67 150.50,107.96 151.27,108.27 152.06,108.59 152.84,108.91 153.61,109.24 154.36,109.56 155.07,109.86 155.74,110.15 156.36,110.42 156.91,110.66 157.38,110.86 157.77,111.01" fill="none" stroke="#ec4a4a" stroke-width="1.12" opacity="0.35" stroke-linecap="round"/><path d="M135.00,106.00 C137.17,106.83 143.83,109.17 148.00,111.00 C152.17,112.83 156.67,115.60 160.00,117.00 C163.33,118.40 166.00,118.80 168.00,119.40 C170.00,120.00 171.33,120.40 172.00,120.60" fill="none" stroke="#7c0006" stroke-width="3.10" stroke-linecap="round" stroke-linejoin="round"/><path d="M135.00,106.00 C137.17,106.83 143.83,109.17 148.00,111.00 C152.17,112.83 156.67,115.60 160.00,117.00 C163.33,118.40 166.00,118.80 168.00,119.40 C170.00,120.00 171.33,120.40 172.00,120.60" fill="none" stroke="#c8080f" stroke-width="2.20" stroke-linecap="round" stroke-linejoin="round"/><polygon points="158.23,111.72 158.26,111.62 154.00,110.08 154.22,110.26" fill="#7c0006" stroke="#7c0006" stroke-width="0.5"/><polygon points="158.26,111.62 158.47,111.26 153.86,109.59 154.00,110.08" fill="#7c0006" stroke="#7c0006" stroke-width="0.5"/><polygon points="158.47,111.26 158.79,110.63 153.86,108.85 153.86,109.59" fill="#7c0006" stroke="#7c0006" stroke-width="0.5"/><polygon points="158.79,110.63 159.24,109.79 154.03,107.90 153.86,108.85" fill="#7c0006" stroke="#7c0006" stroke-width="0.5"/><polygon points="159.24,109.79 159.81,108.76 154.39,106.80 154.03,107.90" fill="#7c0006" stroke="#7c0006" stroke-width="0.5"/><polygon points="159.81,108.76 160.48,107.61 154.91,105.60 154.39,106.80" fill="#7c0006" stroke="#7c0006" stroke-width="0.5"/><polygon points="160.48,107.61 161.24,106.40 155.61,104.36 154.91,105.60" fill="#7c0006" stroke="#7c0006" stroke-width="0.5"/><polygon points="161.24,106.40 162.08,105.19 156.45,103.16 155.61,104.36" fill="#7c0006" stroke="#7c0006" stroke-width="0.5"/><polygon points="162.08,105.19 162.95,104.05 157.42,102.05 156.45,103.16" fill="#7c0006" stroke="#7c0006" stroke-width="0.5"/><polygon points="162.95,104.05 163.85,103.03 158.49,101.09 157.42,102.05" fill="#7c0006" stroke="#7c0006" stroke-width="0.5"/><polygon points="163.85,103.03 164.74,102.19 159.62,100.33 158.49,101.09" fill="#7c0006" stroke="#7c0006" stroke-width="0.5"/><polygon points="164.74,102.19 165.60,101.57 160.77,99.82 159.62,100.33" fill="#7c0006" stroke="#7c0006" stroke-width="0.5"/><polygon points="165.60,101.57 166.40,101.22 161.90,99.59 160.77,99.82" fill="#7c0006" stroke="#7c0006" stroke-width="0.5"/><polygon points="166.40,101.22 167.11,101.15 162.98,99.66 161.90,99.59" fill="#7c0006" stroke="#7c0006" stroke-width="0.5"/><polygon points="167.11,101.15 167.92,101.44 163.79,99.95 162.98,99.66" fill="#7c0006" stroke="#7c0006" stroke-width="0.5"/><polygon points="167.86,115.20 167.98,115.03 163.61,113.44 163.84,113.75" fill="#7c0006" stroke="#7c0006" stroke-width="0.5"/><polygon points="167.98,115.03 168.23,114.58 163.51,112.87 163.61,113.44" fill="#7c0006" stroke="#7c0006" stroke-width="0.5"/><polygon points="168.23,114.58 168.60,113.87 163.57,112.05 163.51,112.87" fill="#7c0006" stroke="#7c0006" stroke-width="0.5"/><polygon points="168.60,113.87 169.09,112.96 163.80,111.05 163.57,112.05" fill="#7c0006" stroke="#7c0006" stroke-width="0.5"/><polygon points="169.09,112.96 169.69,111.89 164.21,109.91 163.80,111.05" fill="#7c0006" stroke="#7c0006" stroke-width="0.5"/><polygon points="169.69,111.89 170.39,110.71 164.79,108.69 164.21,109.91" fill="#7c0006" stroke="#7c0006" stroke-width="0.5"/><polygon points="170.39,110.71 171.18,109.50 165.54,107.45 164.79,108.69" fill="#7c0006" stroke="#7c0006" stroke-width="0.5"/><polygon points="171.18,109.50 172.03,108.30 166.43,106.27 165.54,107.45" fill="#7c0006" stroke="#7c0006" stroke-width="0.5"/><polygon points="172.03,108.30 172.92,107.19 167.44,105.21 166.43,106.27" fill="#7c0006" stroke="#7c0006" stroke-width="0.5"/><polygon points="172.92,107.19 173.82,106.23 168.53,104.31 167.44,105.21" fill="#7c0006" stroke="#7c0006" stroke-width="0.5"/><polygon points="173.82,106.23 174.70,105.46 169.67,103.63 168.53,104.31" fill="#7c0006" stroke="#7c0006" stroke-width="0.5"/><polygon points="174.70,105.46 175.54,104.93 170.81,103.22 169.67,103.63" fill="#7c0006" stroke="#7c0006" stroke-width="0.5"/><polygon points="175.54,104.93 176.31,104.67 171.93,103.08 170.81,103.22" fill="#7c0006" stroke="#7c0006" stroke-width="0.5"/><polygon points="176.31,104.67 177.00,104.69 172.99,103.24 171.93,103.08" fill="#7c0006" stroke="#7c0006" stroke-width="0.5"/><polygon points="177.55,118.67 177.72,118.41 173.22,116.78 173.42,117.18" fill="#7c0006" stroke="#7c0006" stroke-width="0.5"/><polygon points="177.72,118.41 178.01,117.87 173.17,116.12 173.22,116.78" fill="#7c0006" stroke="#7c0006" stroke-width="0.5"/><polygon points="178.01,117.87 178.41,117.09 173.29,115.24 173.17,116.12" fill="#7c0006" stroke="#7c0006" stroke-width="0.5"/><polygon points="178.41,117.09 178.94,116.12 173.58,114.18 173.29,115.24" fill="#7c0006" stroke="#7c0006" stroke-width="0.5"/><polygon points="178.94,116.12 179.58,115.01 174.05,113.01 173.58,114.18" fill="#7c0006" stroke="#7c0006" stroke-width="0.5"/><polygon points="179.58,115.01 180.32,113.81 174.69,111.77 174.05,113.01" fill="#7c0006" stroke="#7c0006" stroke-width="0.5"/><polygon points="180.32,113.81 181.13,112.59 175.49,110.55 174.69,111.77" fill="#7c0006" stroke="#7c0006" stroke-width="0.5"/><polygon points="181.13,112.59 181.99,111.42 176.42,109.40 175.49,110.55" fill="#7c0006" stroke="#7c0006" stroke-width="0.5"/><polygon points="181.99,111.42 182.88,110.35 177.46,108.39 176.42,109.40" fill="#7c0006" stroke="#7c0006" stroke-width="0.5"/><polygon points="182.88,110.35 183.78,109.44 178.57,107.56 177.46,108.39" fill="#7c0006" stroke="#7c0006" stroke-width="0.5"/><polygon points="183.78,109.44 184.65,108.75 179.72,106.96 178.57,107.56" fill="#7c0006" stroke="#7c0006" stroke-width="0.5"/><polygon points="184.65,108.75 185.47,108.31 180.86,106.64 179.72,106.96" fill="#7c0006" stroke="#7c0006" stroke-width="0.5"/><polygon points="185.47,108.31 186.22,108.14 181.96,106.60 180.86,106.64" fill="#7c0006" stroke="#7c0006" stroke-width="0.5"/><polygon points="186.22,108.14 186.93,108.29 182.92,106.84 181.96,106.60" fill="#7c0006" stroke="#7c0006" stroke-width="0.5"/><polygon points="160.96,105.80 160.74,107.22 155.14,105.19 155.32,103.75" fill="#c8080f" stroke="#c8080f" stroke-width="0.45"/><polygon points="160.74,107.22 160.41,108.53 154.93,106.55 155.14,105.19" fill="#c8080f" stroke="#c8080f" stroke-width="0.45"/><polygon points="160.41,108.53 160.00,109.67 154.71,107.76 154.93,106.55" fill="#c8080f" stroke="#c8080f" stroke-width="0.45"/><polygon points="160.00,109.67 159.53,110.59 154.50,108.77 154.71,107.76" fill="#c8080f" stroke="#c8080f" stroke-width="0.45"/><polygon points="159.53,110.59 159.06,111.26 154.33,109.54 154.50,108.77" fill="#c8080f" stroke="#c8080f" stroke-width="0.45"/><polygon points="159.06,111.26 158.61,111.63 154.23,110.05 154.33,109.54" fill="#c8080f" stroke="#c8080f" stroke-width="0.45"/><polygon points="158.61,111.63 158.23,111.72 154.22,110.26 154.23,110.05" fill="#c8080f" stroke="#c8080f" stroke-width="0.45"/><polygon points="167.92,101.44 168.79,102.09 164.29,100.46 163.79,99.95" fill="#c8080f" stroke="#c8080f" stroke-width="0.45"/><polygon points="168.79,102.09 169.51,102.99 164.68,101.24 164.29,100.46" fill="#c8080f" stroke="#c8080f" stroke-width="0.45"/><polygon points="169.51,102.99 170.07,104.12 164.95,102.26 164.68,101.24" fill="#c8080f" stroke="#c8080f" stroke-width="0.45"/><polygon points="170.07,104.12 170.45,105.42 165.09,103.48 164.95,102.26" fill="#c8080f" stroke="#c8080f" stroke-width="0.45"/><polygon points="170.45,105.42 170.66,106.84 165.13,104.84 165.09,103.48" fill="#c8080f" stroke="#c8080f" stroke-width="0.45"/><polygon points="170.66,106.84 170.69,108.31 165.07,106.28 165.13,104.84" fill="#c8080f" stroke="#c8080f" stroke-width="0.45"/><polygon points="170.69,108.31 170.57,109.78 164.93,107.74 165.07,106.28" fill="#c8080f" stroke="#c8080f" stroke-width="0.45"/><polygon points="170.57,109.78 170.31,111.17 164.74,109.16 164.93,107.74" fill="#c8080f" stroke="#c8080f" stroke-width="0.45"/><polygon points="170.31,111.17 169.95,112.43 164.52,110.47 164.74,109.16" fill="#c8080f" stroke="#c8080f" stroke-width="0.45"/><polygon points="169.95,112.43 169.51,113.51 164.30,111.62 164.52,110.47" fill="#c8080f" stroke="#c8080f" stroke-width="0.45"/><polygon points="169.51,113.51 169.04,114.34 164.11,112.56 164.30,111.62" fill="#c8080f" stroke="#c8080f" stroke-width="0.45"/><polygon points="169.04,114.34 168.57,114.91 163.96,113.24 164.11,112.56" fill="#c8080f" stroke="#c8080f" stroke-width="0.45"/><polygon points="168.57,114.91 168.14,115.19 163.89,113.65 163.96,113.24" fill="#c8080f" stroke="#c8080f" stroke-width="0.45"/><polygon points="168.14,115.19 167.86,115.20 163.84,113.75 163.89,113.65" fill="#c8080f" stroke="#c8080f" stroke-width="0.45"/><polygon points="177.00,104.69 177.89,105.13 173.63,103.59 172.99,103.24" fill="#c8080f" stroke="#c8080f" stroke-width="0.45"/><polygon points="177.89,105.13 178.71,105.86 174.10,104.19 173.63,103.59" fill="#c8080f" stroke="#c8080f" stroke-width="0.45"/><polygon points="178.71,105.86 179.38,106.84 174.45,105.06 174.10,104.19" fill="#c8080f" stroke="#c8080f" stroke-width="0.45"/><polygon points="179.38,106.84 179.88,108.03 174.67,106.15 174.45,105.06" fill="#c8080f" stroke="#c8080f" stroke-width="0.45"/><polygon points="179.88,108.03 180.21,109.38 174.78,107.42 174.67,106.15" fill="#c8080f" stroke="#c8080f" stroke-width="0.45"/><polygon points="180.21,109.38 180.35,110.83 174.78,108.81 174.78,107.42" fill="#c8080f" stroke="#c8080f" stroke-width="0.45"/><polygon points="180.35,110.83 180.33,112.31 174.70,110.27 174.78,108.81" fill="#c8080f" stroke="#c8080f" stroke-width="0.45"/><polygon points="180.33,112.31 180.16,113.76 174.54,111.72 174.70,110.27" fill="#c8080f" stroke="#c8080f" stroke-width="0.45"/><polygon points="180.16,113.76 179.87,115.11 174.34,113.11 174.54,111.72" fill="#c8080f" stroke="#c8080f" stroke-width="0.45"/><polygon points="179.87,115.11 179.48,116.31 174.12,114.37 174.34,113.11" fill="#c8080f" stroke="#c8080f" stroke-width="0.45"/><polygon points="179.48,116.31 179.02,117.31 173.90,115.46 174.12,114.37" fill="#c8080f" stroke="#c8080f" stroke-width="0.45"/><polygon points="179.02,117.31 178.55,118.06 173.72,116.32 173.90,115.46" fill="#c8080f" stroke="#c8080f" stroke-width="0.45"/><polygon points="178.55,118.06 178.09,118.54 173.59,116.91 173.72,116.32" fill="#c8080f" stroke="#c8080f" stroke-width="0.45"/><polygon points="178.09,118.54 177.68,118.72 173.55,117.23 173.59,116.91" fill="#c8080f" stroke="#c8080f" stroke-width="0.45"/><polygon points="177.68,118.72 177.55,118.67 173.42,117.18 173.55,117.23" fill="#c8080f" stroke="#c8080f" stroke-width="0.45"/><polygon points="186.93,108.29 187.85,108.84 183.47,107.26 182.92,106.84" fill="#c8080f" stroke="#c8080f" stroke-width="0.45"/><polygon points="187.85,108.84 188.62,109.66 183.90,107.95 183.47,107.26" fill="#c8080f" stroke="#c8080f" stroke-width="0.45"/><polygon points="188.62,109.66 189.24,110.72 184.20,108.90 183.90,107.95" fill="#c8080f" stroke="#c8080f" stroke-width="0.45"/><polygon points="189.24,110.72 189.68,111.97 184.39,110.05 184.20,108.90" fill="#c8080f" stroke="#c8080f" stroke-width="0.45"/><polygon points="189.68,111.97 189.94,113.36 184.46,111.37 184.39,110.05" fill="#c8080f" stroke="#c8080f" stroke-width="0.45"/><polygon points="189.94,113.36 190.03,114.82 184.43,112.79 184.46,111.37" fill="#c8080f" stroke="#c8080f" stroke-width="0.45"/><polygon points="190.03,114.82 189.96,116.30 184.32,114.25 184.43,112.79" fill="#c8080f" stroke="#c8080f" stroke-width="0.45"/><polygon points="101.04,115.00 101.39,114.96 101.83,114.92 102.31,114.88 102.84,114.83 103.40,114.78 104.00,114.74 104.62,114.70 105.26,114.66 105.90,114.63 106.54,114.61 107.17,114.60 107.79,114.59 108.41,114.60 109.05,114.62 109.70,114.64 110.36,114.67 111.04,114.71 111.74,114.75 112.46,114.80 113.22,114.86 114.00,114.93 114.82,115.00 115.67,115.08 116.57,115.17 117.51,115.27 118.51,115.37 119.55,115.49 120.63,115.61 121.74,115.74 122.86,115.87 124.00,116.01 125.13,116.16 126.26,116.30 127.37,116.45 128.45,116.60 129.50,116.76 130.53,116.91 131.55,117.07 132.56,117.24 133.57,117.41 134.58,117.58 135.58,117.76 136.58,117.94 137.57,118.12 138.56,118.31 139.54,118.49 140.52,118.67 141.49,118.84 142.48,119.03 143.51,119.22 144.57,119.43 145.65,119.64 146.71,119.85 147.76,120.05 148.76,120.25 149.71,120.43 150.57,120.60 151.35,120.74 152.02,120.86 152.55,120.95 153.45,117.05 152.93,116.90 152.28,116.71 151.52,116.50 150.66,116.27 149.73,116.02 148.74,115.76 147.71,115.49 146.65,115.22 145.58,114.94 144.53,114.67 143.50,114.41 142.51,114.16 141.56,113.91 140.60,113.67 139.63,113.42 138.65,113.17 137.66,112.92 136.67,112.68 135.66,112.43 134.65,112.18 133.62,111.94 132.59,111.70 131.55,111.47 130.50,111.24 129.42,111.02 128.32,110.80 127.19,110.58 126.05,110.36 124.91,110.15 123.76,109.94 122.63,109.74 121.52,109.54 120.43,109.35 119.38,109.17 118.38,108.99 117.43,108.83 116.53,108.67 115.67,108.53 114.84,108.38 114.04,108.25 113.27,108.12 112.51,108.00 111.77,107.88 111.05,107.77 110.33,107.67 109.63,107.58 108.93,107.49 108.21,107.41 107.48,107.33 106.73,107.28 105.99,107.23 105.26,107.19 104.55,107.16 103.88,107.14 103.24,107.12 102.65,107.10 102.11,107.08 101.65,107.06 101.27,107.03 100.96,107.00" fill="#c8080f" stroke="#7c0006" stroke-width="0.55" stroke-linejoin="round"/><polyline points="101.01,112.00 101.35,111.99 101.76,111.97 102.24,111.95 102.76,111.93 103.34,111.91 103.95,111.89 104.60,111.87 105.26,111.86 105.93,111.85 106.61,111.86 107.29,111.87 107.95,111.90 108.60,111.93 109.27,111.98 109.94,112.03 110.62,112.08 111.31,112.15 112.03,112.22 112.76,112.30 113.53,112.38 114.32,112.47 115.14,112.57 116.00,112.68 116.89,112.79 117.84,112.91 118.84,113.05 119.88,113.19 120.96,113.33 122.07,113.49 123.20,113.65 124.34,113.81 125.48,113.98 126.61,114.16 127.73,114.33 128.82,114.51 129.88,114.69 130.91,114.87 131.94,115.06 132.96,115.25 133.98,115.45 134.99,115.65 135.99,115.85 136.99,116.06 137.98,116.27 138.96,116.47 139.94,116.68 140.91,116.88 141.87,117.09 142.86,117.29 143.89,117.51 144.95,117.74 146.02,117.98 147.09,118.21 148.13,118.44 149.13,118.66 150.07,118.87 150.93,119.06 151.70,119.23 152.36,119.37 152.89,119.49" fill="none" stroke="#ec4a4a" stroke-width="1.00" opacity="0.35" stroke-linecap="round"/><polygon points="106.00,105.50 118.00,106.00 118.00,118.00 108.00,118.00" fill="#c8080f" stroke="#7c0006" stroke-width="0.55" stroke-linejoin="round"/><path d="M92.70,122.70 C93.25,124.75 94.28,129.95 96.00,135.00 C97.72,140.05 101.83,150.00 103.00,153.00" fill="none" stroke="#7c0006" stroke-width="3.30" stroke-linecap="round" stroke-linejoin="round"/><path d="M92.70,122.70 C93.25,124.75 94.28,129.95 96.00,135.00 C97.72,140.05 101.83,150.00 103.00,153.00" fill="none" stroke="#c8080f" stroke-width="2.40" stroke-linecap="round" stroke-linejoin="round"/><polygon points="104.26,131.49 104.80,131.43 105.45,131.36 106.19,131.29 107.02,131.20 107.91,131.11 108.87,131.01 109.88,130.91 110.92,130.81 111.98,130.72 113.05,130.62 114.12,130.53 115.18,130.45 116.20,130.37 117.19,130.30 118.12,130.25 119.05,130.20 119.97,130.15 120.90,130.10 121.82,130.06 122.74,130.02 123.66,129.98 124.57,129.95 125.48,129.93 126.39,129.91 127.30,129.90 128.20,129.90 129.10,129.90 130.00,129.92 130.89,129.95 131.79,129.99 132.68,130.05 133.58,130.11 134.48,130.19 135.38,130.28 136.29,130.37 137.20,130.48 138.11,130.59 139.03,130.72 139.95,130.85 140.87,130.98 141.79,131.12 142.72,131.26 143.65,131.41 144.58,131.56 145.51,131.71 146.45,131.86 147.45,132.04 148.48,132.23 149.55,132.43 150.63,132.64 151.71,132.86 152.78,133.08 153.83,133.29 154.84,133.50 155.80,133.70 156.70,133.89 157.53,134.06 158.28,134.21 158.93,134.34 159.47,134.44 160.53,129.56 160.02,129.43 159.39,129.27 158.66,129.09 157.84,128.89 156.94,128.67 155.98,128.43 154.97,128.19 153.91,127.94 152.84,127.68 151.74,127.43 150.65,127.18 149.56,126.94 148.50,126.71 147.47,126.49 146.49,126.29 145.55,126.11 144.62,125.93 143.68,125.75 142.74,125.57 141.80,125.39 140.85,125.22 139.91,125.05 138.96,124.89 138.00,124.74 137.04,124.59 136.09,124.45 135.12,124.32 134.16,124.21 133.19,124.10 132.21,124.01 131.24,123.93 130.27,123.86 129.30,123.81 128.33,123.76 127.37,123.73 126.41,123.71 125.45,123.69 124.50,123.68 123.54,123.68 122.59,123.69 121.64,123.69 120.70,123.71 119.76,123.72 118.82,123.74 117.88,123.75 116.89,123.78 115.85,123.81 114.77,123.86 113.68,123.91 112.58,123.97 111.48,124.04 110.39,124.10 109.33,124.17 108.31,124.24 107.35,124.30 106.44,124.36 105.62,124.41 104.88,124.45 104.26,124.49 103.74,124.51" fill="#c8080f" stroke="#7c0006" stroke-width="0.55" stroke-linejoin="round"/><polyline points="104.07,128.87 104.59,128.83 105.24,128.77 105.98,128.71 106.80,128.63 107.70,128.55 108.66,128.47 109.67,128.38 110.72,128.30 111.79,128.21 112.87,128.13 113.96,128.05 115.03,127.98 116.07,127.91 117.08,127.86 118.03,127.81 118.96,127.77 119.89,127.74 120.83,127.70 121.76,127.67 122.69,127.64 123.61,127.62 124.54,127.60 125.47,127.59 126.40,127.58 127.32,127.59 128.25,127.60 129.17,127.62 130.10,127.65 131.02,127.69 131.95,127.75 132.87,127.82 133.79,127.90 134.72,127.99 135.65,128.09 136.57,128.20 137.50,128.33 138.43,128.46 139.36,128.59 140.29,128.74 141.22,128.88 142.15,129.04 143.08,129.19 144.01,129.35 144.95,129.51 145.88,129.68 146.84,129.85 147.84,130.04 148.89,130.25 149.96,130.46 151.05,130.69 152.13,130.92 153.20,131.15 154.25,131.38 155.27,131.60 156.23,131.82 157.13,132.01 157.96,132.20 158.70,132.36 159.34,132.50 159.87,132.61" fill="none" stroke="#ec4a4a" stroke-width="1.25" opacity="0.35" stroke-linecap="round"/><polygon points="124.00,123.00 141.00,123.00 140.00,132.00 133.00,142.00 127.00,134.00" fill="#c8080f" stroke="#7c0006" stroke-width="0.55" stroke-linejoin="round"/><polygon points="112.44,122.44 112.58,122.47 112.73,122.51 112.91,122.55 113.11,122.61 113.34,122.67 113.58,122.73 113.84,122.80 114.12,122.88 114.41,122.96 114.71,123.04 115.03,123.13 115.35,123.21 115.69,123.30 116.03,123.39 116.38,123.48 116.74,123.57 117.10,123.66 117.46,123.75 117.83,123.84 118.20,123.92 118.57,124.00 118.94,124.08 119.31,124.15 119.68,124.22 120.05,124.28 120.42,124.34 120.78,124.39 121.14,124.43 121.50,124.47 121.85,124.50 122.21,124.51 122.56,124.52 122.91,124.52 123.27,124.51 123.62,124.49 123.97,124.47 124.32,124.44 124.66,124.41 125.01,124.37 125.35,124.33 125.68,124.29 126.02,124.24 126.34,124.19 126.66,124.14 126.98,124.09 127.29,124.04 127.59,123.98 127.88,123.93 128.16,123.88 128.43,123.83 128.69,123.78 128.94,123.73 129.18,123.68 129.40,123.64 129.60,123.60 129.79,123.57 129.96,123.54 130.10,123.51 130.22,123.49 130.34,123.48 129.66,118.52 129.50,118.55 129.30,118.58 129.10,118.61 128.89,118.65 128.68,118.69 128.46,118.73 128.23,118.77 127.99,118.82 127.75,118.87 127.49,118.91 127.23,118.96 126.97,119.01 126.70,119.06 126.42,119.11 126.15,119.16 125.86,119.21 125.58,119.25 125.30,119.29 125.01,119.33 124.73,119.37 124.44,119.40 124.16,119.43 123.89,119.46 123.62,119.48 123.35,119.50 123.09,119.51 122.84,119.52 122.60,119.52 122.37,119.51 122.15,119.50 121.92,119.49 121.68,119.46 121.42,119.43 121.15,119.39 120.86,119.35 120.56,119.30 120.25,119.24 119.93,119.18 119.61,119.11 119.28,119.04 118.95,118.97 118.62,118.89 118.28,118.81 117.95,118.72 117.62,118.64 117.29,118.56 116.97,118.47 116.65,118.39 116.33,118.30 116.03,118.22 115.73,118.14 115.44,118.06 115.16,117.98 114.90,117.91 114.64,117.84 114.40,117.77 114.17,117.71 113.95,117.66 113.74,117.61 113.56,117.56" fill="#c8080f" stroke="#7c0006" stroke-width="0.55" stroke-linejoin="round"/><polyline points="112.86,120.61 113.02,120.64 113.19,120.69 113.38,120.74 113.60,120.79 113.83,120.86 114.08,120.92 114.34,120.99 114.62,121.07 114.90,121.15 115.21,121.23 115.52,121.32 115.84,121.40 116.17,121.49 116.50,121.58 116.85,121.67 117.19,121.76 117.54,121.84 117.90,121.93 118.25,122.01 118.61,122.09 118.96,122.17 119.31,122.24 119.66,122.31 120.01,122.38 120.35,122.43 120.69,122.49 121.02,122.53 121.34,122.57 121.66,122.60 121.96,122.62 122.27,122.64 122.57,122.64 122.89,122.64 123.20,122.63 123.52,122.62 123.84,122.60 124.16,122.57 124.48,122.54 124.80,122.51 125.11,122.47 125.43,122.43 125.75,122.39 126.06,122.34 126.36,122.29 126.67,122.24 126.96,122.19 127.25,122.14 127.54,122.09 127.81,122.04 128.08,121.98 128.34,121.93 128.59,121.89 128.82,121.84 129.05,121.80 129.26,121.76 129.45,121.72 129.64,121.69 129.80,121.66 129.95,121.64 130.08,121.62" fill="none" stroke="#ec4a4a" stroke-width="1.25" opacity="0.35" stroke-linecap="round"/><polygon points="100.99,136.05 101.10,135.95 102.47,131.26 102.29,131.59" fill="#7c0006" stroke="#7c0006" stroke-width="0.5"/><polygon points="101.10,135.95 101.42,136.02 102.90,130.95 102.47,131.26" fill="#7c0006" stroke="#7c0006" stroke-width="0.5"/><polygon points="101.42,136.02 101.97,136.21 103.56,130.78 102.90,130.95" fill="#7c0006" stroke="#7c0006" stroke-width="0.5"/><polygon points="101.97,136.21 102.71,136.52 104.38,130.78 103.56,130.78" fill="#7c0006" stroke="#7c0006" stroke-width="0.5"/><polygon points="102.71,136.52 103.60,136.95 105.34,130.97 104.38,130.78" fill="#7c0006" stroke="#7c0006" stroke-width="0.5"/><polygon points="103.60,136.95 104.59,137.52 106.38,131.37 105.34,130.97" fill="#7c0006" stroke="#7c0006" stroke-width="0.5"/><polygon points="104.59,137.52 105.62,138.22 107.44,131.98 106.38,131.37" fill="#7c0006" stroke="#7c0006" stroke-width="0.5"/><polygon points="105.62,138.22 106.65,139.02 108.47,132.80 107.44,131.98" fill="#7c0006" stroke="#7c0006" stroke-width="0.5"/><polygon points="106.65,139.02 107.62,139.93 109.41,133.80 108.47,132.80" fill="#7c0006" stroke="#7c0006" stroke-width="0.5"/><polygon points="107.62,139.93 108.48,140.91 110.22,134.95 109.41,133.80" fill="#7c0006" stroke="#7c0006" stroke-width="0.5"/><polygon points="108.48,140.91 109.17,141.95 110.84,136.24 110.22,134.95" fill="#7c0006" stroke="#7c0006" stroke-width="0.5"/><polygon points="109.17,141.95 109.67,143.01 111.24,137.62 110.84,136.24" fill="#7c0006" stroke="#7c0006" stroke-width="0.5"/><polygon points="109.67,143.01 109.93,144.07 111.40,139.04 111.24,137.62" fill="#7c0006" stroke="#7c0006" stroke-width="0.5"/><polygon points="109.93,144.07 109.95,145.10 111.31,140.46 111.40,139.04" fill="#7c0006" stroke="#7c0006" stroke-width="0.5"/><polygon points="109.95,145.10 109.68,146.20 110.99,141.70 111.31,140.46" fill="#7c0006" stroke="#7c0006" stroke-width="0.5"/><polygon points="97.11,149.33 97.23,149.28 98.61,144.55 98.40,144.92" fill="#7c0006" stroke="#7c0006" stroke-width="0.5"/><polygon points="97.23,149.28 97.59,149.37 99.08,144.25 98.61,144.55" fill="#7c0006" stroke="#7c0006" stroke-width="0.5"/><polygon points="97.59,149.37 98.16,149.57 99.75,144.10 99.08,144.25" fill="#7c0006" stroke="#7c0006" stroke-width="0.5"/><polygon points="98.16,149.57 98.91,149.89 100.60,144.12 99.75,144.10" fill="#7c0006" stroke="#7c0006" stroke-width="0.5"/><polygon points="98.91,149.89 99.81,150.34 101.57,144.34 100.60,144.12" fill="#7c0006" stroke="#7c0006" stroke-width="0.5"/><polygon points="99.81,150.34 100.81,150.93 102.61,144.76 101.57,144.34" fill="#7c0006" stroke="#7c0006" stroke-width="0.5"/><polygon points="100.81,150.93 101.85,151.63 103.67,145.40 102.61,144.76" fill="#7c0006" stroke="#7c0006" stroke-width="0.5"/><polygon points="101.85,151.63 102.88,152.45 104.69,146.23 103.67,145.40" fill="#7c0006" stroke="#7c0006" stroke-width="0.5"/><polygon points="102.88,152.45 103.84,153.37 105.62,147.25 104.69,146.23" fill="#7c0006" stroke="#7c0006" stroke-width="0.5"/><polygon points="103.84,153.37 104.68,154.36 106.41,148.42 105.62,147.25" fill="#7c0006" stroke="#7c0006" stroke-width="0.5"/><polygon points="104.68,154.36 105.35,155.40 107.00,149.72 106.41,148.42" fill="#7c0006" stroke="#7c0006" stroke-width="0.5"/><polygon points="105.35,155.40 105.82,156.46 107.38,151.11 107.00,149.72" fill="#7c0006" stroke="#7c0006" stroke-width="0.5"/><polygon points="105.82,156.46 106.06,157.52 107.51,152.53 107.38,151.11" fill="#7c0006" stroke="#7c0006" stroke-width="0.5"/><polygon points="106.06,157.52 106.05,158.54 107.39,153.95 107.51,152.53" fill="#7c0006" stroke="#7c0006" stroke-width="0.5"/><polygon points="106.05,158.54 105.73,159.68 107.06,155.14 107.39,153.95" fill="#7c0006" stroke="#7c0006" stroke-width="0.5"/><polygon points="106.15,138.35 104.88,138.37 106.69,132.17 107.97,132.11" fill="#c8080f" stroke="#c8080f" stroke-width="0.45"/><polygon points="104.88,138.37 103.73,138.22 105.50,132.15 106.69,132.17" fill="#c8080f" stroke="#c8080f" stroke-width="0.45"/><polygon points="103.73,138.22 102.73,137.92 104.44,132.07 105.50,132.15" fill="#c8080f" stroke="#c8080f" stroke-width="0.45"/><polygon points="102.73,137.92 101.93,137.52 103.56,131.94 104.44,132.07" fill="#c8080f" stroke="#c8080f" stroke-width="0.45"/><polygon points="101.93,137.52 101.37,137.04 102.89,131.80 103.56,131.94" fill="#c8080f" stroke="#c8080f" stroke-width="0.45"/><polygon points="101.37,137.04 101.05,136.53 102.47,131.67 102.89,131.80" fill="#c8080f" stroke="#c8080f" stroke-width="0.45"/><polygon points="101.05,136.53 100.99,136.05 102.29,131.59 102.47,131.67" fill="#c8080f" stroke="#c8080f" stroke-width="0.45"/><polygon points="109.68,146.20 109.07,147.49 110.50,142.59 110.99,141.70" fill="#c8080f" stroke="#c8080f" stroke-width="0.45"/><polygon points="109.07,147.49 108.24,148.65 109.78,143.38 110.50,142.59" fill="#c8080f" stroke="#c8080f" stroke-width="0.45"/><polygon points="108.24,148.65 107.22,149.66 108.85,144.05 109.78,143.38" fill="#c8080f" stroke="#c8080f" stroke-width="0.45"/><polygon points="107.22,149.66 106.04,150.47 107.76,144.59 108.85,144.05" fill="#c8080f" stroke="#c8080f" stroke-width="0.45"/><polygon points="106.04,150.47 104.76,151.09 106.54,145.00 107.76,144.59" fill="#c8080f" stroke="#c8080f" stroke-width="0.45"/><polygon points="104.76,151.09 103.44,151.49 105.25,145.29 106.54,145.00" fill="#c8080f" stroke="#c8080f" stroke-width="0.45"/><polygon points="103.44,151.49 102.12,151.69 103.94,145.45 105.25,145.29" fill="#c8080f" stroke="#c8080f" stroke-width="0.45"/><polygon points="102.12,151.69 100.86,151.70 102.66,145.51 103.94,145.45" fill="#c8080f" stroke="#c8080f" stroke-width="0.45"/><polygon points="100.86,151.70 99.72,151.53 101.48,145.48 102.66,145.51" fill="#c8080f" stroke="#c8080f" stroke-width="0.45"/><polygon points="99.72,151.53 98.74,151.22 100.44,145.39 101.48,145.48" fill="#c8080f" stroke="#c8080f" stroke-width="0.45"/><polygon points="98.74,151.22 97.97,150.80 99.58,145.26 100.44,145.39" fill="#c8080f" stroke="#c8080f" stroke-width="0.45"/><polygon points="97.97,150.80 97.43,150.32 98.94,145.12 99.58,145.26" fill="#c8080f" stroke="#c8080f" stroke-width="0.45"/><polygon points="97.43,150.32 97.14,149.81 98.55,145.00 98.94,145.12" fill="#c8080f" stroke="#c8080f" stroke-width="0.45"/><polygon points="97.14,149.81 97.11,149.33 98.40,144.92 98.55,145.00" fill="#c8080f" stroke="#c8080f" stroke-width="0.45"/><polygon points="105.73,159.68 105.10,160.96 106.54,156.01 107.06,155.14" fill="#c8080f" stroke="#c8080f" stroke-width="0.45"/><polygon points="114.69,144.16 115.05,144.25 115.49,144.36 115.98,144.47 116.51,144.60 117.08,144.73 117.69,144.88 118.34,145.03 119.01,145.19 119.70,145.36 120.41,145.53 121.12,145.71 121.85,145.90 122.57,146.09 123.28,146.28 123.98,146.48 124.65,146.68 125.30,146.88 125.92,147.08 126.49,147.28 127.03,147.48 127.57,147.69 128.11,147.91 128.64,148.12 129.16,148.34 129.67,148.55 130.17,148.77 130.66,148.99 131.14,149.21 131.61,149.43 132.07,149.66 132.53,149.90 132.97,150.14 133.41,150.40 133.84,150.65 134.26,150.92 134.68,151.20 135.09,151.50 135.50,151.80 135.91,152.12 136.30,152.44 136.68,152.79 137.08,153.17 137.50,153.61 137.93,154.08 138.37,154.59 138.81,155.12 139.26,155.67 139.70,156.24 140.14,156.82 140.58,157.40 141.00,157.97 141.41,158.54 141.81,159.09 142.19,159.62 142.55,160.13 142.89,160.60 143.21,161.05 143.50,161.45 143.78,161.82 144.02,162.12 147.98,159.08 147.79,158.81 147.56,158.50 147.30,158.13 147.00,157.70 146.67,157.23 146.32,156.71 145.94,156.17 145.53,155.59 145.11,155.00 144.67,154.39 144.22,153.77 143.75,153.15 143.28,152.52 142.79,151.90 142.29,151.29 141.79,150.70 141.27,150.12 140.76,149.57 140.23,149.04 139.70,148.56 139.19,148.12 138.68,147.71 138.17,147.32 137.66,146.94 137.14,146.59 136.62,146.24 136.10,145.92 135.57,145.60 135.04,145.30 134.50,145.01 133.96,144.73 133.42,144.46 132.88,144.20 132.34,143.95 131.79,143.70 131.23,143.46 130.68,143.22 130.12,142.99 129.55,142.75 128.97,142.52 128.34,142.27 127.66,142.02 126.96,141.79 126.24,141.55 125.50,141.33 124.75,141.10 124.00,140.89 123.24,140.68 122.49,140.48 121.74,140.28 121.01,140.09 120.31,139.91 119.63,139.74 118.98,139.58 118.37,139.43 117.80,139.29 117.29,139.16 116.83,139.04 116.44,138.94 116.11,138.84" fill="#c8080f" stroke="#7c0006" stroke-width="0.55" stroke-linejoin="round"/><polyline points="115.22,142.16 115.58,142.26 115.99,142.36 116.47,142.48 116.99,142.61 117.56,142.75 118.18,142.89 118.82,143.05 119.50,143.21 120.19,143.38 120.91,143.56 121.64,143.75 122.37,143.94 123.10,144.14 123.83,144.34 124.55,144.55 125.25,144.76 125.92,144.97 126.57,145.19 127.18,145.40 127.76,145.62 128.31,145.84 128.86,146.06 129.41,146.29 129.94,146.51 130.47,146.73 130.98,146.96 131.49,147.19 132.00,147.43 132.49,147.67 132.98,147.92 133.47,148.18 133.94,148.44 134.42,148.72 134.88,149.00 135.34,149.30 135.80,149.61 136.25,149.93 136.69,150.27 137.14,150.62 137.57,150.99 138.01,151.38 138.46,151.82 138.91,152.30 139.37,152.81 139.84,153.35 140.30,153.91 140.76,154.49 141.22,155.08 141.67,155.68 142.11,156.27 142.54,156.86 142.96,157.43 143.35,157.99 143.73,158.53 144.09,159.04 144.43,159.52 144.74,159.95 145.03,160.35 145.28,160.69 145.50,160.98" fill="none" stroke="#ec4a4a" stroke-width="1.25" opacity="0.35" stroke-linecap="round"/><polygon points="140.20,135.80 140.28,135.78 140.28,131.64 140.20,131.88" fill="#7c0006" stroke="#7c0006" stroke-width="0.5"/><polygon points="140.28,135.78 140.57,135.84 140.57,131.35 140.28,131.64" fill="#7c0006" stroke="#7c0006" stroke-width="0.5"/><polygon points="140.57,135.84 141.08,135.93 141.08,131.13 140.57,131.35" fill="#7c0006" stroke="#7c0006" stroke-width="0.5"/><polygon points="141.08,135.93 141.77,136.06 141.77,130.99 141.08,131.13" fill="#7c0006" stroke="#7c0006" stroke-width="0.5"/><polygon points="141.77,136.06 142.62,136.25 142.62,130.97 141.77,130.99" fill="#7c0006" stroke="#7c0006" stroke-width="0.5"/><polygon points="142.62,136.25 143.58,136.51 143.58,131.08 142.62,130.97" fill="#7c0006" stroke="#7c0006" stroke-width="0.5"/><polygon points="143.58,136.51 144.61,136.83 144.61,131.34 143.58,131.08" fill="#7c0006" stroke="#7c0006" stroke-width="0.5"/><polygon points="144.61,136.83 145.65,137.23 145.65,131.75 144.61,131.34" fill="#7c0006" stroke="#7c0006" stroke-width="0.5"/><polygon points="145.65,137.23 146.67,137.71 146.67,132.31 145.65,131.75" fill="#7c0006" stroke="#7c0006" stroke-width="0.5"/><polygon points="146.67,137.71 147.61,138.25 147.61,133.02 146.67,132.31" fill="#7c0006" stroke="#7c0006" stroke-width="0.5"/><polygon points="147.61,138.25 148.42,138.86 148.42,133.85 147.61,133.02" fill="#7c0006" stroke="#7c0006" stroke-width="0.5"/><polygon points="148.42,138.86 149.07,139.52 149.07,134.80 148.42,133.85" fill="#7c0006" stroke="#7c0006" stroke-width="0.5"/><polygon points="149.07,139.52 149.52,140.22 149.52,135.82 149.07,134.80" fill="#7c0006" stroke="#7c0006" stroke-width="0.5"/><polygon points="149.52,140.22 149.76,140.95 149.76,136.90 149.52,135.82" fill="#7c0006" stroke="#7c0006" stroke-width="0.5"/><polygon points="149.76,140.95 149.78,141.84 149.78,137.83 149.76,136.90" fill="#7c0006" stroke="#7c0006" stroke-width="0.5"/><polygon points="140.20,146.99 140.33,147.04 140.33,142.81 140.20,143.12" fill="#7c0006" stroke="#7c0006" stroke-width="0.5"/><polygon points="140.33,147.04 140.68,147.11 140.68,142.54 140.33,142.81" fill="#7c0006" stroke="#7c0006" stroke-width="0.5"/><polygon points="140.68,147.11 141.24,147.21 141.24,142.33 140.68,142.54" fill="#7c0006" stroke="#7c0006" stroke-width="0.5"/><polygon points="141.24,147.21 141.97,147.36 141.97,142.23 141.24,142.33" fill="#7c0006" stroke="#7c0006" stroke-width="0.5"/><polygon points="141.97,147.36 142.85,147.56 142.85,142.24 141.97,142.23" fill="#7c0006" stroke="#7c0006" stroke-width="0.5"/><polygon points="142.85,147.56 143.83,147.83 143.83,142.38 142.85,142.24" fill="#7c0006" stroke="#7c0006" stroke-width="0.5"/><polygon points="143.83,147.83 144.87,148.18 144.87,142.68 143.83,142.38" fill="#7c0006" stroke="#7c0006" stroke-width="0.5"/><polygon points="144.87,148.18 145.91,148.60 145.91,143.13 144.87,142.68" fill="#7c0006" stroke="#7c0006" stroke-width="0.5"/><polygon points="145.91,148.60 146.91,149.09 146.91,143.73 145.91,143.13" fill="#7c0006" stroke="#7c0006" stroke-width="0.5"/><polygon points="146.91,149.09 147.82,149.65 147.82,144.47 146.91,143.73" fill="#7c0006" stroke="#7c0006" stroke-width="0.5"/><polygon points="145.00,136.15 143.96,136.46 143.96,131.00 145.00,130.65" fill="#c8080f" stroke="#c8080f" stroke-width="0.45"/><polygon points="143.96,136.46 142.97,136.63 142.97,131.28 143.96,131.00" fill="#c8080f" stroke="#c8080f" stroke-width="0.45"/><polygon points="142.97,136.63 142.07,136.66 142.07,131.50 142.97,131.28" fill="#c8080f" stroke="#c8080f" stroke-width="0.45"/><polygon points="142.07,136.66 141.32,136.56 141.32,131.65 142.07,131.50" fill="#c8080f" stroke="#c8080f" stroke-width="0.45"/><polygon points="141.32,136.56 140.74,136.37 140.74,131.76 141.32,131.65" fill="#c8080f" stroke="#c8080f" stroke-width="0.45"/><polygon points="140.74,136.37 140.36,136.10 140.36,131.83 140.74,131.76" fill="#c8080f" stroke="#c8080f" stroke-width="0.45"/><polygon points="140.36,136.10 140.20,135.80 140.20,131.88 140.36,131.83" fill="#c8080f" stroke="#c8080f" stroke-width="0.45"/><polygon points="149.78,141.84 149.57,142.92 149.57,138.56 149.78,137.83" fill="#c8080f" stroke="#c8080f" stroke-width="0.45"/><polygon points="149.57,142.92 149.13,143.95 149.13,139.27 149.57,138.56" fill="#c8080f" stroke="#c8080f" stroke-width="0.45"/><polygon points="149.13,143.95 148.51,144.91 148.51,139.93 149.13,139.27" fill="#c8080f" stroke="#c8080f" stroke-width="0.45"/><polygon points="148.51,144.91 147.71,145.76 147.71,140.55 148.51,139.93" fill="#c8080f" stroke="#c8080f" stroke-width="0.45"/><polygon points="147.71,145.76 146.79,146.48 146.79,141.10 147.71,140.55" fill="#c8080f" stroke="#c8080f" stroke-width="0.45"/><polygon points="146.79,146.48 145.78,147.06 145.78,141.59 146.79,141.10" fill="#c8080f" stroke="#c8080f" stroke-width="0.45"/><polygon points="145.78,147.06 144.74,147.49 144.74,142.00 145.78,141.59" fill="#c8080f" stroke="#c8080f" stroke-width="0.45"/><polygon points="144.74,147.49 143.70,147.77 143.70,142.33 144.74,142.00" fill="#c8080f" stroke="#c8080f" stroke-width="0.45"/><polygon points="143.70,147.77 142.73,147.90 142.73,142.59 143.70,142.33" fill="#c8080f" stroke="#c8080f" stroke-width="0.45"/><polygon points="142.73,147.90 141.87,147.89 141.87,142.79 142.73,142.59" fill="#c8080f" stroke="#c8080f" stroke-width="0.45"/><polygon points="141.87,147.89 141.16,147.77 141.16,142.93 141.87,142.79" fill="#c8080f" stroke="#c8080f" stroke-width="0.45"/><polygon points="141.16,147.77 140.62,147.55 140.62,143.03 141.16,142.93" fill="#c8080f" stroke="#c8080f" stroke-width="0.45"/><polygon points="140.62,147.55 140.30,147.28 140.30,143.09 140.62,143.03" fill="#c8080f" stroke="#c8080f" stroke-width="0.45"/><polygon points="140.30,147.28 140.20,146.99 140.20,143.12 140.30,143.09" fill="#c8080f" stroke="#c8080f" stroke-width="0.45"/><polygon points="111.73,157.49 111.87,157.48 112.01,157.46 112.18,157.44 112.35,157.42 112.54,157.40 112.75,157.37 112.96,157.35 113.18,157.33 113.42,157.30 113.66,157.28 113.91,157.25 114.17,157.23 114.44,157.20 114.71,157.18 114.99,157.15 115.27,157.12 115.55,157.09 115.84,157.07 116.13,157.04 116.42,157.01 116.71,156.98 117.00,156.96 117.29,156.93 117.58,156.90 117.86,156.87 118.14,156.85 118.42,156.82 118.69,156.79 118.95,156.77 119.21,156.74 119.47,156.72 119.74,156.69 120.01,156.67 120.29,156.64 120.58,156.61 120.87,156.59 121.17,156.56 121.47,156.53 121.77,156.50 122.07,156.47 122.37,156.45 122.67,156.42 122.97,156.39 123.27,156.36 123.57,156.34 123.86,156.31 124.14,156.28 124.42,156.26 124.70,156.23 124.96,156.21 125.22,156.18 125.47,156.16 125.70,156.13 125.93,156.11 126.14,156.09 126.34,156.07 126.53,156.05 126.70,156.03 126.85,156.01 126.99,155.99 126.61,150.01 126.47,150.01 126.31,150.01 126.14,150.01 125.96,150.01 125.75,150.02 125.54,150.02 125.31,150.03 125.08,150.04 124.83,150.04 124.57,150.05 124.30,150.06 124.03,150.07 123.75,150.08 123.46,150.09 123.17,150.10 122.87,150.11 122.57,150.12 122.27,150.13 121.97,150.14 121.66,150.15 121.36,150.17 121.06,150.18 120.76,150.19 120.46,150.20 120.17,150.21 119.88,150.22 119.59,150.23 119.32,150.24 119.05,150.25 118.79,150.26 118.53,150.27 118.26,150.27 117.99,150.28 117.71,150.29 117.43,150.30 117.14,150.32 116.85,150.33 116.56,150.34 116.27,150.35 115.98,150.36 115.69,150.37 115.40,150.38 115.11,150.39 114.82,150.40 114.54,150.41 114.26,150.42 113.99,150.43 113.72,150.44 113.46,150.45 113.20,150.46 112.96,150.47 112.72,150.48 112.50,150.48 112.28,150.49 112.08,150.50 111.89,150.50 111.71,150.50 111.55,150.51 111.40,150.51 111.27,150.51" fill="#c8080f" stroke="#7c0006" stroke-width="0.55" stroke-linejoin="round"/><polyline points="111.56,154.87 111.69,154.86 111.84,154.85 112.00,154.84 112.18,154.82 112.37,154.81 112.57,154.79 112.79,154.78 113.01,154.76 113.25,154.74 113.49,154.72 113.74,154.70 114.00,154.68 114.27,154.66 114.54,154.64 114.82,154.62 115.10,154.60 115.39,154.58 115.67,154.56 115.96,154.54 116.26,154.52 116.55,154.50 116.84,154.47 117.13,154.45 117.42,154.43 117.70,154.41 117.98,154.39 118.26,154.37 118.53,154.35 118.79,154.33 119.05,154.31 119.31,154.29 119.58,154.27 119.86,154.25 120.14,154.23 120.42,154.21 120.72,154.19 121.01,154.17 121.31,154.15 121.61,154.13 121.92,154.10 122.22,154.08 122.52,154.06 122.82,154.04 123.12,154.02 123.42,154.00 123.71,153.98 124.00,153.96 124.28,153.94 124.55,153.92 124.82,153.90 125.07,153.88 125.32,153.86 125.56,153.85 125.78,153.83 126.00,153.81 126.20,153.80 126.38,153.78 126.55,153.77 126.71,153.76 126.85,153.75" fill="none" stroke="#ec4a4a" stroke-width="1.50" opacity="0.35" stroke-linecap="round"/><path d="M149.00,120.00 C149.67,120.50 150.83,121.67 153.00,123.00 C155.17,124.33 159.50,126.33 162.00,128.00 C164.50,129.67 167.33,131.00 168.00,133.00 C168.67,135.00 166.83,137.83 166.00,140.00 C165.17,142.17 164.33,144.33 163.00,146.00 C161.67,147.67 158.83,149.33 158.00,150.00" fill="none" stroke="#7c0006" stroke-width="2.30" stroke-linecap="round" stroke-linejoin="round"/><path d="M149.00,120.00 C149.67,120.50 150.83,121.67 153.00,123.00 C155.17,124.33 159.50,126.33 162.00,128.00 C164.50,129.67 167.33,131.00 168.00,133.00 C168.67,135.00 166.83,137.83 166.00,140.00 C165.17,142.17 164.33,144.33 163.00,146.00 C161.67,147.67 158.83,149.33 158.00,150.00" fill="none" stroke="#c8080f" stroke-width="1.40" stroke-linecap="round" stroke-linejoin="round"/><path d="M150.00,128.00 C151.17,128.67 155.33,130.00 157.00,132.00 C158.67,134.00 160.33,137.67 160.00,140.00 C159.67,142.33 155.83,145.00 155.00,146.00" fill="none" stroke="#7c0006" stroke-width="2.30" stroke-linecap="round" stroke-linejoin="round"/><path d="M150.00,128.00 C151.17,128.67 155.33,130.00 157.00,132.00 C158.67,134.00 160.33,137.67 160.00,140.00 C159.67,142.33 155.83,145.00 155.00,146.00" fill="none" stroke="#c8080f" stroke-width="1.40" stroke-linecap="round" stroke-linejoin="round"/><path d="M152.00,137.00 C153.67,137.17 159.33,137.33 162.00,138.00 C164.67,138.67 166.67,139.33 168.00,141.00 C169.33,142.67 169.67,146.83 170.00,148.00" fill="none" stroke="#7c0006" stroke-width="2.20" stroke-linecap="round" stroke-linejoin="round"/><path d="M152.00,137.00 C153.67,137.17 159.33,137.33 162.00,138.00 C164.67,138.67 166.67,139.33 168.00,141.00 C169.33,142.67 169.67,146.83 170.00,148.00" fill="none" stroke="#c8080f" stroke-width="1.30" stroke-linecap="round" stroke-linejoin="round"/><path d="M97.00,161.00 C98.17,160.50 101.43,158.37 104.00,158.00 C106.57,157.63 111.00,158.67 112.40,158.80" fill="none" stroke="#7c0006" stroke-width="2.30" stroke-linecap="round" stroke-linejoin="round"/><path d="M97.00,161.00 C98.17,160.50 101.43,158.37 104.00,158.00 C106.57,157.63 111.00,158.67 112.40,158.80" fill="none" stroke="#c8080f" stroke-width="1.40" stroke-linecap="round" stroke-linejoin="round"/><path d="M97.00,161.00 C96.83,162.50 95.83,167.00 96.00,170.00 C96.17,173.00 96.83,177.67 98.00,179.00 C99.17,180.33 101.33,179.50 103.00,178.00 C104.67,176.50 106.33,172.83 108.00,170.00 C109.67,167.17 112.17,162.50 113.00,161.00" fill="none" stroke="#7c0006" stroke-width="2.30" stroke-linecap="round" stroke-linejoin="round"/><path d="M97.00,161.00 C96.83,162.50 95.83,167.00 96.00,170.00 C96.17,173.00 96.83,177.67 98.00,179.00 C99.17,180.33 101.33,179.50 103.00,178.00 C104.67,176.50 106.33,172.83 108.00,170.00 C109.67,167.17 112.17,162.50 113.00,161.00" fill="none" stroke="#c8080f" stroke-width="1.40" stroke-linecap="round" stroke-linejoin="round"/><polygon points="105.95,179.60 106.25,179.37 106.61,179.09 107.03,178.77 107.50,178.42 108.01,178.03 108.56,177.61 109.13,177.17 109.73,176.72 110.34,176.26 110.96,175.79 111.58,175.32 112.19,174.86 112.79,174.40 113.37,173.97 113.91,173.55 114.43,173.16 114.95,172.77 115.48,172.38 116.00,171.99 116.53,171.60 117.07,171.20 117.60,170.81 118.14,170.41 118.68,170.00 119.22,169.59 119.77,169.17 120.31,168.75 120.86,168.32 121.42,167.88 121.97,167.42 122.54,166.96 123.11,166.47 123.68,165.97 124.26,165.47 124.83,164.96 125.40,164.45 125.97,163.93 126.53,163.43 127.08,162.93 127.61,162.45 128.13,161.98 128.63,161.53 129.11,161.10 129.56,160.70 129.98,160.34 130.39,159.99 130.80,159.64 131.20,159.31 131.59,158.98 131.97,158.67 132.34,158.37 132.70,158.08 133.04,157.81 133.36,157.55 133.67,157.31 133.95,157.08 134.22,156.87 134.46,156.68 134.68,156.50 134.86,156.35 131.14,151.65 130.96,151.78 130.75,151.94 130.52,152.12 130.25,152.32 129.96,152.54 129.64,152.78 129.30,153.04 128.94,153.32 128.57,153.61 128.17,153.92 127.77,154.24 127.34,154.58 126.91,154.93 126.47,155.29 126.02,155.66 125.55,156.06 125.06,156.48 124.55,156.92 124.03,157.38 123.50,157.85 122.95,158.33 122.40,158.82 121.84,159.32 121.28,159.81 120.72,160.30 120.17,160.79 119.62,161.26 119.07,161.72 118.54,162.16 118.03,162.58 117.52,162.98 117.00,163.38 116.49,163.78 115.97,164.17 115.45,164.56 114.92,164.94 114.40,165.33 113.87,165.71 113.33,166.09 112.80,166.48 112.26,166.87 111.72,167.25 111.18,167.65 110.64,168.05 110.09,168.45 109.54,168.86 108.95,169.29 108.35,169.74 107.74,170.19 107.11,170.66 106.49,171.12 105.87,171.58 105.27,172.02 104.69,172.45 104.14,172.86 103.62,173.24 103.15,173.59 102.72,173.91 102.35,174.18 102.05,174.40" fill="#c8080f" stroke="#7c0006" stroke-width="0.55" stroke-linejoin="round"/><polyline points="104.49,177.65 104.79,177.42 105.15,177.15 105.57,176.83 106.04,176.48 106.56,176.09 107.11,175.68 107.69,175.24 108.28,174.79 108.90,174.33 109.52,173.86 110.14,173.40 110.75,172.94 111.35,172.49 111.93,172.05 112.48,171.64 113.01,171.24 113.54,170.85 114.07,170.46 114.60,170.07 115.13,169.68 115.67,169.29 116.20,168.89 116.73,168.50 117.27,168.10 117.81,167.70 118.34,167.30 118.88,166.89 119.42,166.47 119.95,166.04 120.49,165.61 121.04,165.16 121.59,164.69 122.16,164.21 122.72,163.71 123.29,163.21 123.86,162.71 124.42,162.20 124.98,161.70 125.53,161.21 126.07,160.72 126.59,160.25 127.10,159.80 127.59,159.37 128.05,158.96 128.50,158.58 128.92,158.22 129.34,157.87 129.75,157.53 130.16,157.21 130.55,156.89 130.93,156.59 131.29,156.30 131.64,156.02 131.97,155.76 132.28,155.52 132.57,155.30 132.83,155.09 133.07,154.90 133.28,154.73 133.47,154.59" fill="none" stroke="#ec4a4a" stroke-width="1.50" opacity="0.35" stroke-linecap="round"/><path d="M124.00,152.00 C125.17,150.00 130.33,149.33 133.00,150.00 C135.67,150.67 138.33,153.50 140.00,156.00 C141.67,158.50 142.83,162.00 143.00,165.00 C143.17,168.00 142.50,171.83 141.00,174.00 C139.50,176.17 136.17,178.33 134.00,178.00 C131.83,177.67 129.33,174.67 128.00,172.00 C126.67,169.33 126.67,165.33 126.00,162.00 C125.33,158.67 122.83,154.00 124.00,152.00Z" fill="none" stroke="#7c0006" stroke-width="5.40" stroke-linecap="round" stroke-linejoin="round"/><path d="M124.00,152.00 C125.17,150.00 130.33,149.33 133.00,150.00 C135.67,150.67 138.33,153.50 140.00,156.00 C141.67,158.50 142.83,162.00 143.00,165.00 C143.17,168.00 142.50,171.83 141.00,174.00 C139.50,176.17 136.17,178.33 134.00,178.00 C131.83,177.67 129.33,174.67 128.00,172.00 C126.67,169.33 126.67,165.33 126.00,162.00 C125.33,158.67 122.83,154.00 124.00,152.00Z" fill="none" stroke="#c8080f" stroke-width="4.50" stroke-linecap="round" stroke-linejoin="round"/><path d="M124.00,152.00 C125.17,150.00 130.33,149.33 133.00,150.00 C135.67,150.67 138.33,153.50 140.00,156.00 C141.67,158.50 142.83,162.00 143.00,165.00 C143.17,168.00 142.50,171.83 141.00,174.00 C139.50,176.17 136.17,178.33 134.00,178.00 C131.83,177.67 129.33,174.67 128.00,172.00 C126.67,169.33 126.67,165.33 126.00,162.00 C125.33,158.67 122.83,154.00 124.00,152.00Z" fill="none" stroke="#ec4a4a" stroke-width="1.35" stroke-linecap="round" stroke-linejoin="round" opacity="0.45" transform="translate(-0.4,-0.6)"/><polygon points="110.77,153.13 110.85,153.28 110.95,153.45 111.05,153.64 111.15,153.83 111.27,154.03 111.39,154.24 111.51,154.46 111.64,154.69 111.77,154.93 111.91,155.17 112.06,155.43 112.20,155.69 112.35,155.96 112.50,156.23 112.66,156.51 112.81,156.80 112.97,157.09 113.12,157.38 113.28,157.67 113.43,157.97 113.58,158.27 113.73,158.56 113.88,158.86 114.02,159.16 114.16,159.45 114.30,159.74 114.43,160.03 114.56,160.31 114.67,160.59 114.79,160.86 114.90,161.14 115.01,161.43 115.12,161.74 115.24,162.07 115.36,162.41 115.48,162.75 115.59,163.11 115.71,163.48 115.83,163.85 115.95,164.23 116.07,164.61 116.18,164.99 116.30,165.37 116.41,165.75 116.52,166.13 116.63,166.50 116.74,166.87 116.85,167.24 116.95,167.59 117.05,167.94 117.15,168.28 117.24,168.60 117.33,168.91 117.41,169.21 117.50,169.49 117.57,169.76 117.65,170.01 117.72,170.24 117.78,170.45 117.84,170.64 122.16,169.36 122.11,169.19 122.06,169.00 122.00,168.78 121.94,168.55 121.87,168.29 121.80,168.01 121.72,167.71 121.64,167.40 121.56,167.07 121.47,166.73 121.38,166.37 121.28,166.01 121.18,165.64 121.08,165.26 120.98,164.87 120.87,164.48 120.76,164.08 120.65,163.68 120.53,163.28 120.42,162.88 120.30,162.49 120.19,162.09 120.07,161.70 119.95,161.31 119.83,160.93 119.71,160.55 119.58,160.18 119.46,159.83 119.34,159.48 119.21,159.14 119.09,158.81 118.95,158.47 118.81,158.14 118.67,157.80 118.53,157.46 118.38,157.13 118.22,156.80 118.07,156.46 117.91,156.14 117.75,155.81 117.60,155.48 117.44,155.17 117.28,154.85 117.12,154.54 116.97,154.24 116.81,153.94 116.66,153.65 116.52,153.37 116.37,153.09 116.23,152.83 116.10,152.57 115.97,152.33 115.85,152.09 115.73,151.87 115.63,151.67 115.53,151.48 115.44,151.30 115.36,151.14 115.29,151.00 115.23,150.87" fill="#c8080f" stroke="#7c0006" stroke-width="0.55" stroke-linejoin="round"/><polyline points="112.44,152.28 112.52,152.43 112.60,152.59 112.69,152.76 112.79,152.94 112.90,153.14 113.02,153.35 113.14,153.57 113.26,153.80 113.40,154.04 113.53,154.29 113.68,154.55 113.82,154.82 113.97,155.09 114.12,155.37 114.27,155.66 114.43,155.95 114.58,156.25 114.74,156.55 114.90,156.85 115.05,157.16 115.21,157.47 115.36,157.78 115.51,158.09 115.66,158.40 115.80,158.71 115.94,159.01 116.07,159.32 116.20,159.62 116.33,159.92 116.45,160.22 116.56,160.52 116.68,160.83 116.80,161.16 116.91,161.50 117.03,161.85 117.15,162.21 117.27,162.58 117.39,162.96 117.51,163.34 117.63,163.72 117.74,164.11 117.86,164.50 117.97,164.89 118.08,165.27 118.19,165.66 118.30,166.04 118.41,166.41 118.51,166.78 118.61,167.14 118.71,167.48 118.80,167.82 118.89,168.15 118.98,168.46 119.06,168.76 119.14,169.04 119.21,169.30 119.28,169.55 119.35,169.77 119.41,169.98 119.46,170.16" fill="none" stroke="#ec4a4a" stroke-width="1.12" opacity="0.35" stroke-linecap="round"/><polygon points="144.05,166.15 143.75,165.80 140.37,163.39 140.87,163.89" fill="#7c0006" stroke="#7c0006" stroke-width="0.5"/><polygon points="143.75,165.80 143.70,165.25 140.03,162.64 140.37,163.39" fill="#7c0006" stroke="#7c0006" stroke-width="0.5"/><polygon points="143.70,165.25 143.87,164.50 139.94,161.71 140.03,162.64" fill="#7c0006" stroke="#7c0006" stroke-width="0.5"/><polygon points="143.87,164.50 144.25,163.60 140.10,160.65 139.94,161.71" fill="#7c0006" stroke="#7c0006" stroke-width="0.5"/><polygon points="144.25,163.60 144.84,162.59 140.53,159.52 140.10,160.65" fill="#7c0006" stroke="#7c0006" stroke-width="0.5"/><polygon points="144.84,162.59 145.63,161.53 141.20,158.38 140.53,159.52" fill="#7c0006" stroke="#7c0006" stroke-width="0.5"/><polygon points="145.63,161.53 146.58,160.48 142.10,157.29 141.20,158.38" fill="#7c0006" stroke="#7c0006" stroke-width="0.5"/><polygon points="146.58,160.48 147.66,159.50 143.20,156.33 142.10,157.29" fill="#7c0006" stroke="#7c0006" stroke-width="0.5"/><polygon points="147.66,159.50 148.84,158.65 144.45,155.53 143.20,156.33" fill="#7c0006" stroke="#7c0006" stroke-width="0.5"/><polygon points="148.84,158.65 150.06,157.97 145.81,154.95 144.45,155.53" fill="#7c0006" stroke="#7c0006" stroke-width="0.5"/><polygon points="150.06,157.97 151.28,157.50 147.22,154.62 145.81,154.95" fill="#7c0006" stroke="#7c0006" stroke-width="0.5"/><polygon points="151.28,157.50 152.44,157.28 148.62,154.57 147.22,154.62" fill="#7c0006" stroke="#7c0006" stroke-width="0.5"/><polygon points="152.44,157.28 153.52,157.33 149.96,154.80 148.62,154.57" fill="#7c0006" stroke="#7c0006" stroke-width="0.5"/><polygon points="153.52,157.33 154.46,157.64 151.19,155.32 149.96,154.80" fill="#7c0006" stroke="#7c0006" stroke-width="0.5"/><polygon points="150.50,170.73 150.34,170.31 146.82,167.81 147.28,168.44" fill="#7c0006" stroke="#7c0006" stroke-width="0.5"/><polygon points="150.34,170.31 150.38,169.67 146.59,166.98 146.82,167.81" fill="#7c0006" stroke="#7c0006" stroke-width="0.5"/><polygon points="150.38,169.67 150.63,168.85 146.61,165.98 146.59,166.98" fill="#7c0006" stroke="#7c0006" stroke-width="0.5"/><polygon points="150.63,168.85 151.11,167.89 146.88,164.88 146.61,165.98" fill="#7c0006" stroke="#7c0006" stroke-width="0.5"/><polygon points="151.11,167.89 151.78,166.85 147.41,163.74 146.88,164.88" fill="#7c0006" stroke="#7c0006" stroke-width="0.5"/><polygon points="151.78,166.85 152.65,165.79 148.19,162.62 147.41,163.74" fill="#7c0006" stroke="#7c0006" stroke-width="0.5"/><polygon points="152.65,165.79 153.66,164.76 149.18,161.58 148.19,162.62" fill="#7c0006" stroke="#7c0006" stroke-width="0.5"/><polygon points="153.66,164.76 154.79,163.83 150.35,160.67 149.18,161.58" fill="#7c0006" stroke="#7c0006" stroke-width="0.5"/><polygon points="154.79,163.83 155.99,163.05 151.65,159.96 150.35,160.67" fill="#7c0006" stroke="#7c0006" stroke-width="0.5"/><polygon points="155.99,163.05 157.21,162.46 153.04,159.49 151.65,159.96" fill="#7c0006" stroke="#7c0006" stroke-width="0.5"/><polygon points="157.21,162.46 158.41,162.09 154.45,159.28 153.04,159.49" fill="#7c0006" stroke="#7c0006" stroke-width="0.5"/><polygon points="158.41,162.09 159.55,161.98 155.84,159.35 154.45,159.28" fill="#7c0006" stroke="#7c0006" stroke-width="0.5"/><polygon points="159.55,161.98 160.57,162.14 157.14,159.70 155.84,159.35" fill="#7c0006" stroke="#7c0006" stroke-width="0.5"/><polygon points="160.57,162.14 161.44,162.57 158.30,160.34 157.14,159.70" fill="#7c0006" stroke="#7c0006" stroke-width="0.5"/><polygon points="157.40,175.63 157.04,175.29 153.69,172.91 154.18,173.34" fill="#7c0006" stroke="#7c0006" stroke-width="0.5"/><polygon points="157.04,175.29 156.96,174.77 153.32,172.19 153.69,172.91" fill="#7c0006" stroke="#7c0006" stroke-width="0.5"/><polygon points="156.96,174.77 157.09,174.05 153.20,171.28 153.32,172.19" fill="#7c0006" stroke="#7c0006" stroke-width="0.5"/><polygon points="157.09,174.05 157.44,173.16 153.32,170.23 153.20,171.28" fill="#7c0006" stroke="#7c0006" stroke-width="0.5"/><polygon points="157.44,173.16 158.00,172.16 153.71,169.11 153.32,170.23" fill="#7c0006" stroke="#7c0006" stroke-width="0.5"/><polygon points="158.00,172.16 158.76,171.11 154.35,167.97 153.71,169.11" fill="#7c0006" stroke="#7c0006" stroke-width="0.5"/><polygon points="158.76,171.11 159.69,170.05 155.22,166.87 154.35,167.97" fill="#7c0006" stroke="#7c0006" stroke-width="0.5"/><polygon points="159.69,170.05 160.76,169.06 156.29,165.88 155.22,166.87" fill="#7c0006" stroke="#7c0006" stroke-width="0.5"/><polygon points="160.76,169.06 161.92,168.19 157.52,165.06 156.29,165.88" fill="#7c0006" stroke="#7c0006" stroke-width="0.5"/><polygon points="161.92,168.19 163.14,167.48 158.87,164.44 157.52,165.06" fill="#7c0006" stroke="#7c0006" stroke-width="0.5"/><polygon points="163.14,167.48 164.36,166.98 160.27,164.08 158.87,164.44" fill="#7c0006" stroke="#7c0006" stroke-width="0.5"/><polygon points="164.36,166.98 165.54,166.73 161.68,163.98 160.27,164.08" fill="#7c0006" stroke="#7c0006" stroke-width="0.5"/><polygon points="165.54,166.73 166.63,166.73 163.04,164.18 161.68,163.98" fill="#7c0006" stroke="#7c0006" stroke-width="0.5"/><polygon points="166.63,166.73 167.59,167.01 164.28,164.66 163.04,164.18" fill="#7c0006" stroke="#7c0006" stroke-width="0.5"/><polygon points="167.59,167.01 168.51,167.63 165.25,165.31 164.28,164.66" fill="#7c0006" stroke="#7c0006" stroke-width="0.5"/><polygon points="163.80,180.20 163.60,179.81 160.13,177.34 160.62,177.94" fill="#7c0006" stroke="#7c0006" stroke-width="0.5"/><polygon points="163.60,179.81 163.61,179.20 159.87,176.54 160.13,177.34" fill="#7c0006" stroke="#7c0006" stroke-width="0.5"/><polygon points="163.61,179.20 163.84,178.40 159.85,175.56 159.87,176.54" fill="#7c0006" stroke="#7c0006" stroke-width="0.5"/><polygon points="163.84,178.40 164.28,177.46 160.08,174.47 159.85,175.56" fill="#7c0006" stroke="#7c0006" stroke-width="0.5"/><polygon points="164.28,177.46 164.93,176.43 160.58,173.33 160.08,174.47" fill="#7c0006" stroke="#7c0006" stroke-width="0.5"/><polygon points="164.93,176.43 165.77,175.37 161.32,172.20 160.58,173.33" fill="#7c0006" stroke="#7c0006" stroke-width="0.5"/><polygon points="165.77,175.37 166.76,174.33 162.28,171.15 161.32,172.20" fill="#7c0006" stroke="#7c0006" stroke-width="0.5"/><polygon points="149.92,162.35 149.24,163.61 144.79,160.44 145.44,159.17" fill="#c8080f" stroke="#c8080f" stroke-width="0.45"/><polygon points="149.24,163.61 148.41,164.68 144.06,161.58 144.79,160.44" fill="#c8080f" stroke="#c8080f" stroke-width="0.45"/><polygon points="148.41,164.68 147.50,165.52 143.30,162.53 144.06,161.58" fill="#c8080f" stroke="#c8080f" stroke-width="0.45"/><polygon points="147.50,165.52 146.55,166.10 142.55,163.26 143.30,162.53" fill="#c8080f" stroke="#c8080f" stroke-width="0.45"/><polygon points="146.55,166.10 145.62,166.40 141.87,163.74 142.55,163.26" fill="#c8080f" stroke="#c8080f" stroke-width="0.45"/><polygon points="145.62,166.40 144.77,166.42 141.30,163.95 141.87,163.74" fill="#c8080f" stroke="#c8080f" stroke-width="0.45"/><polygon points="144.77,166.42 144.05,166.15 140.87,163.89 141.30,163.95" fill="#c8080f" stroke="#c8080f" stroke-width="0.45"/><polygon points="154.46,157.64 155.39,158.33 152.09,155.98 151.19,155.32" fill="#c8080f" stroke="#c8080f" stroke-width="0.45"/><polygon points="155.39,158.33 156.25,159.35 152.66,156.80 152.09,155.98" fill="#c8080f" stroke="#c8080f" stroke-width="0.45"/><polygon points="156.25,159.35 156.88,160.57 153.02,157.83 152.66,156.80" fill="#c8080f" stroke="#c8080f" stroke-width="0.45"/><polygon points="156.88,160.57 157.26,161.93 153.17,159.02 153.02,157.83" fill="#c8080f" stroke="#c8080f" stroke-width="0.45"/><polygon points="157.26,161.93 157.37,163.38 153.10,160.34 153.17,159.02" fill="#c8080f" stroke="#c8080f" stroke-width="0.45"/><polygon points="157.37,163.38 157.23,164.85 152.83,161.72 153.10,160.34" fill="#c8080f" stroke="#c8080f" stroke-width="0.45"/><polygon points="157.23,164.85 156.86,166.29 152.39,163.11 152.83,161.72" fill="#c8080f" stroke="#c8080f" stroke-width="0.45"/><polygon points="156.86,166.29 156.28,167.63 151.80,164.44 152.39,163.11" fill="#c8080f" stroke="#c8080f" stroke-width="0.45"/><polygon points="156.28,167.63 155.53,168.81 151.11,165.67 151.80,164.44" fill="#c8080f" stroke="#c8080f" stroke-width="0.45"/><polygon points="155.53,168.81 154.66,169.78 150.36,166.73 151.11,165.67" fill="#c8080f" stroke="#c8080f" stroke-width="0.45"/><polygon points="154.66,169.78 153.72,170.52 149.60,167.59 150.36,166.73" fill="#c8080f" stroke="#c8080f" stroke-width="0.45"/><polygon points="153.72,170.52 152.77,170.98 148.88,168.21 149.60,167.59" fill="#c8080f" stroke="#c8080f" stroke-width="0.45"/><polygon points="152.77,170.98 151.87,171.16 148.24,168.58 148.88,168.21" fill="#c8080f" stroke="#c8080f" stroke-width="0.45"/><polygon points="151.87,171.16 151.07,171.05 147.72,168.67 148.24,168.58" fill="#c8080f" stroke="#c8080f" stroke-width="0.45"/><polygon points="151.07,171.05 150.50,170.73 147.28,168.44 147.72,168.67" fill="#c8080f" stroke="#c8080f" stroke-width="0.45"/><polygon points="161.44,162.57 162.42,163.46 158.99,161.02 158.30,160.34" fill="#c8080f" stroke="#c8080f" stroke-width="0.45"/><polygon points="162.42,163.46 163.18,164.57 159.47,161.93 158.99,161.02" fill="#c8080f" stroke="#c8080f" stroke-width="0.45"/><polygon points="163.18,164.57 163.70,165.85 159.74,163.04 159.47,161.93" fill="#c8080f" stroke="#c8080f" stroke-width="0.45"/><polygon points="163.70,165.85 163.96,167.26 159.79,164.29 159.74,163.04" fill="#c8080f" stroke="#c8080f" stroke-width="0.45"/><polygon points="163.96,167.26 163.97,168.73 159.63,165.64 159.79,164.29" fill="#c8080f" stroke="#c8080f" stroke-width="0.45"/><polygon points="163.97,168.73 163.73,170.19 159.29,167.03 159.63,165.64" fill="#c8080f" stroke="#c8080f" stroke-width="0.45"/><polygon points="163.73,170.19 163.26,171.59 158.78,168.40 159.29,167.03" fill="#c8080f" stroke="#c8080f" stroke-width="0.45"/><polygon points="163.26,171.59 162.60,172.87 158.14,169.70 158.78,168.40" fill="#c8080f" stroke="#c8080f" stroke-width="0.45"/><polygon points="162.60,172.87 161.79,173.97 157.42,170.86 158.14,169.70" fill="#c8080f" stroke="#c8080f" stroke-width="0.45"/><polygon points="161.79,173.97 160.89,174.84 156.66,171.84 157.42,170.86" fill="#c8080f" stroke="#c8080f" stroke-width="0.45"/><polygon points="160.89,174.84 159.94,175.46 155.91,172.60 156.66,171.84" fill="#c8080f" stroke="#c8080f" stroke-width="0.45"/><polygon points="159.94,175.46 159.01,175.81 155.22,173.11 155.91,172.60" fill="#c8080f" stroke="#c8080f" stroke-width="0.45"/><polygon points="159.01,175.81 158.14,175.86 154.63,173.36 155.22,173.11" fill="#c8080f" stroke="#c8080f" stroke-width="0.45"/><polygon points="158.14,175.86 157.40,175.63 154.18,173.34 154.63,173.36" fill="#c8080f" stroke="#c8080f" stroke-width="0.45"/><polygon points="168.51,167.63 169.40,168.62 165.85,166.10 165.25,165.31" fill="#c8080f" stroke="#c8080f" stroke-width="0.45"/><polygon points="169.40,168.62 170.06,169.82 166.24,167.10 165.85,166.10" fill="#c8080f" stroke="#c8080f" stroke-width="0.45"/><polygon points="170.06,169.82 170.47,171.16 166.42,168.27 166.24,167.10" fill="#c8080f" stroke="#c8080f" stroke-width="0.45"/><polygon points="170.47,171.16 170.63,172.60 166.38,169.58 166.42,168.27" fill="#c8080f" stroke="#c8080f" stroke-width="0.45"/><polygon points="170.63,172.60 170.52,174.07 166.14,170.95 166.38,169.58" fill="#c8080f" stroke="#c8080f" stroke-width="0.45"/><polygon points="170.52,174.07 170.18,175.52 165.72,172.34 166.14,170.95" fill="#c8080f" stroke="#c8080f" stroke-width="0.45"/><polygon points="170.18,175.52 169.63,176.87 165.15,173.69 165.72,172.34" fill="#c8080f" stroke="#c8080f" stroke-width="0.45"/><polygon points="169.63,176.87 168.90,178.08 164.47,174.93 165.15,173.69" fill="#c8080f" stroke="#c8080f" stroke-width="0.45"/><polygon points="168.90,178.08 168.04,179.09 163.73,176.02 164.47,174.93" fill="#c8080f" stroke="#c8080f" stroke-width="0.45"/><polygon points="168.04,179.09 167.11,179.86 162.97,176.91 163.73,176.02" fill="#c8080f" stroke="#c8080f" stroke-width="0.45"/><polygon points="167.11,179.86 166.16,180.36 162.24,177.57 162.97,176.91" fill="#c8080f" stroke="#c8080f" stroke-width="0.45"/><polygon points="166.16,180.36 165.25,180.58 161.58,177.97 162.24,177.57" fill="#c8080f" stroke="#c8080f" stroke-width="0.45"/><polygon points="165.25,180.58 164.43,180.51 161.04,178.10 161.58,177.97" fill="#c8080f" stroke="#c8080f" stroke-width="0.45"/><polygon points="164.43,180.51 163.80,180.20 160.62,177.94 161.04,178.10" fill="#c8080f" stroke="#c8080f" stroke-width="0.45"/><path d="M142.00,169.00 C143.00,170.92 145.88,178.33 148.00,180.50 C150.12,182.67 153.58,181.75 154.70,182.00" fill="none" stroke="#7c0006" stroke-width="2.30" stroke-linecap="round" stroke-linejoin="round"/><path d="M142.00,169.00 C143.00,170.92 145.88,178.33 148.00,180.50 C150.12,182.67 153.58,181.75 154.70,182.00" fill="none" stroke="#c8080f" stroke-width="1.40" stroke-linecap="round" stroke-linejoin="round"/><polygon points="107.07,182.05 107.31,182.15 107.58,182.27 107.90,182.42 108.26,182.59 108.65,182.77 109.07,182.97 109.52,183.19 110.00,183.41 110.49,183.64 111.00,183.87 111.52,184.11 112.06,184.35 112.60,184.59 113.14,184.83 113.68,185.06 114.22,185.28 114.76,185.50 115.29,185.70 115.81,185.88 116.30,186.05 116.77,186.20 117.23,186.35 117.69,186.49 118.15,186.63 118.61,186.77 119.07,186.90 119.54,187.03 120.00,187.15 120.47,187.27 120.94,187.38 121.42,187.49 121.90,187.58 122.38,187.68 122.87,187.76 123.36,187.84 123.85,187.91 124.36,187.96 124.86,188.01 125.37,188.05 125.90,188.08 126.45,188.10 127.03,188.09 127.62,188.07 128.22,188.04 128.82,187.99 129.43,187.94 130.04,187.88 130.64,187.80 131.24,187.73 131.83,187.65 132.40,187.57 132.96,187.48 133.49,187.40 134.00,187.32 134.48,187.25 134.92,187.18 135.32,187.12 135.67,187.06 135.97,187.02 136.22,186.99 135.78,183.01 135.48,183.04 135.13,183.08 134.75,183.13 134.33,183.19 133.88,183.25 133.41,183.32 132.91,183.39 132.38,183.46 131.85,183.53 131.30,183.60 130.74,183.67 130.17,183.73 129.61,183.79 129.06,183.84 128.51,183.88 127.98,183.91 127.46,183.93 126.98,183.94 126.52,183.94 126.10,183.92 125.68,183.89 125.26,183.85 124.84,183.80 124.42,183.74 124.00,183.68 123.59,183.61 123.17,183.53 122.76,183.44 122.35,183.35 121.93,183.25 121.52,183.14 121.10,183.03 120.68,182.91 120.27,182.78 119.84,182.66 119.42,182.52 118.99,182.38 118.56,182.24 118.12,182.09 117.70,181.95 117.27,181.80 116.83,181.63 116.37,181.45 115.89,181.25 115.40,181.03 114.89,180.81 114.39,180.58 113.88,180.35 113.37,180.11 112.88,179.88 112.38,179.64 111.91,179.41 111.45,179.18 111.00,178.96 110.59,178.76 110.19,178.56 109.83,178.38 109.49,178.22 109.19,178.07 108.93,177.95" fill="#c8080f" stroke="#7c0006" stroke-width="0.55" stroke-linejoin="round"/><polyline points="107.77,180.51 108.01,180.62 108.30,180.75 108.62,180.91 108.98,181.08 109.38,181.27 109.80,181.47 110.24,181.68 110.71,181.91 111.20,182.14 111.70,182.37 112.22,182.61 112.74,182.85 113.27,183.09 113.80,183.32 114.32,183.55 114.85,183.77 115.36,183.98 115.87,184.17 116.36,184.35 116.83,184.51 117.28,184.66 117.73,184.81 118.18,184.95 118.63,185.09 119.07,185.22 119.52,185.36 119.97,185.48 120.41,185.60 120.86,185.72 121.31,185.83 121.77,185.93 122.22,186.03 122.68,186.12 123.14,186.20 123.60,186.28 124.07,186.34 124.54,186.40 125.01,186.45 125.49,186.49 125.97,186.52 126.48,186.54 127.01,186.54 127.56,186.52 128.13,186.49 128.70,186.45 129.29,186.40 129.88,186.34 130.47,186.28 131.05,186.21 131.63,186.13 132.19,186.05 132.74,185.98 133.27,185.90 133.78,185.82 134.25,185.75 134.70,185.68 135.10,185.62 135.47,185.57 135.79,185.53 136.06,185.50" fill="none" stroke="#ec4a4a" stroke-width="1.00" opacity="0.35" stroke-linecap="round"/><polygon points="128.96,193.96 128.05,193.83 124.60,193.69 125.68,193.83" fill="#7c0006" stroke="#7c0006" stroke-width="0.5"/><polygon points="128.05,193.83 127.27,193.38 123.53,193.23 124.60,193.69" fill="#7c0006" stroke="#7c0006" stroke-width="0.5"/><polygon points="127.27,193.38 126.60,192.64 122.59,192.47 123.53,193.23" fill="#7c0006" stroke="#7c0006" stroke-width="0.5"/><polygon points="126.60,192.64 126.08,191.64 121.85,191.47 122.59,192.47" fill="#7c0006" stroke="#7c0006" stroke-width="0.5"/><polygon points="126.08,191.64 125.77,190.43 121.36,190.25 121.85,191.47" fill="#7c0006" stroke="#7c0006" stroke-width="0.5"/><polygon points="125.77,190.43 125.68,189.08 121.15,188.89 121.36,190.25" fill="#7c0006" stroke="#7c0006" stroke-width="0.5"/><polygon points="125.68,189.08 125.85,187.63 121.26,187.44 121.15,188.89" fill="#7c0006" stroke="#7c0006" stroke-width="0.5"/><polygon points="125.85,187.63 126.27,186.16 121.68,185.97 121.26,187.44" fill="#7c0006" stroke="#7c0006" stroke-width="0.5"/><polygon points="126.27,186.16 126.94,184.75 122.43,184.57 121.68,185.97" fill="#7c0006" stroke="#7c0006" stroke-width="0.5"/><polygon points="126.94,184.75 127.85,183.46 123.47,183.28 122.43,184.57" fill="#7c0006" stroke="#7c0006" stroke-width="0.5"/><polygon points="127.85,183.46 128.97,182.35 124.78,182.18 123.47,183.28" fill="#7c0006" stroke="#7c0006" stroke-width="0.5"/><polygon points="128.97,182.35 130.27,181.48 126.31,181.31 124.78,182.18" fill="#7c0006" stroke="#7c0006" stroke-width="0.5"/><polygon points="130.27,181.48 131.69,180.88 128.00,180.73 126.31,181.31" fill="#7c0006" stroke="#7c0006" stroke-width="0.5"/><polygon points="131.69,180.88 133.18,180.59 129.78,180.45 128.00,180.73" fill="#7c0006" stroke="#7c0006" stroke-width="0.5"/><polygon points="133.18,180.59 134.82,180.63 131.48,180.49 129.78,180.45" fill="#7c0006" stroke="#7c0006" stroke-width="0.5"/><polygon points="138.33,194.36 137.49,194.17 133.98,194.02 135.11,194.23" fill="#7c0006" stroke="#7c0006" stroke-width="0.5"/><polygon points="137.49,194.17 136.73,193.66 132.93,193.50 133.98,194.02" fill="#7c0006" stroke="#7c0006" stroke-width="0.5"/><polygon points="136.73,193.66 136.08,192.86 132.02,192.69 132.93,193.50" fill="#7c0006" stroke="#7c0006" stroke-width="0.5"/><polygon points="136.08,192.86 135.60,191.82 131.33,191.64 132.02,192.69" fill="#7c0006" stroke="#7c0006" stroke-width="0.5"/><polygon points="135.60,191.82 135.33,190.57 130.89,190.39 131.33,191.64" fill="#7c0006" stroke="#7c0006" stroke-width="0.5"/><polygon points="135.33,190.57 135.29,189.19 130.75,189.00 130.89,190.39" fill="#7c0006" stroke="#7c0006" stroke-width="0.5"/><polygon points="135.29,189.19 135.51,187.73 130.91,187.54 130.75,189.00" fill="#7c0006" stroke="#7c0006" stroke-width="0.5"/><polygon points="135.51,187.73 135.98,186.28 131.41,186.09 130.91,187.54" fill="#7c0006" stroke="#7c0006" stroke-width="0.5"/><polygon points="135.98,186.28 136.70,184.88 132.21,184.70 131.41,186.09" fill="#7c0006" stroke="#7c0006" stroke-width="0.5"/><polygon points="136.70,184.88 137.66,183.62 133.31,183.44 132.21,184.70" fill="#7c0006" stroke="#7c0006" stroke-width="0.5"/><polygon points="137.66,183.62 138.82,182.56 134.67,182.39 133.31,183.44" fill="#7c0006" stroke="#7c0006" stroke-width="0.5"/><polygon points="138.82,182.56 140.14,181.74 136.23,181.57 134.67,182.39" fill="#7c0006" stroke="#7c0006" stroke-width="0.5"/><polygon points="140.14,181.74 141.58,181.20 137.95,181.05 136.23,181.57" fill="#7c0006" stroke="#7c0006" stroke-width="0.5"/><polygon points="141.58,181.20 143.08,180.97 139.75,180.83 137.95,181.05" fill="#7c0006" stroke="#7c0006" stroke-width="0.5"/><polygon points="147.76,194.75 146.93,194.49 143.36,194.34 144.48,194.61" fill="#7c0006" stroke="#7c0006" stroke-width="0.5"/><polygon points="146.93,194.49 146.19,193.92 142.33,193.76 143.36,194.34" fill="#7c0006" stroke="#7c0006" stroke-width="0.5"/><polygon points="146.19,193.92 145.57,193.07 141.47,192.90 142.33,193.76" fill="#7c0006" stroke="#7c0006" stroke-width="0.5"/><polygon points="145.57,193.07 145.13,191.98 140.82,191.80 141.47,192.90" fill="#7c0006" stroke="#7c0006" stroke-width="0.5"/><polygon points="145.13,191.98 144.91,190.71 140.44,190.52 140.82,191.80" fill="#7c0006" stroke="#7c0006" stroke-width="0.5"/><polygon points="144.91,190.71 144.92,189.30 140.35,189.11 140.44,190.52" fill="#7c0006" stroke="#7c0006" stroke-width="0.5"/><polygon points="144.92,189.30 145.18,187.84 140.59,187.65 140.35,189.11" fill="#7c0006" stroke="#7c0006" stroke-width="0.5"/><polygon points="133.41,187.35 133.52,188.83 128.96,188.64 128.82,187.16" fill="#c8080f" stroke="#c8080f" stroke-width="0.45"/><polygon points="133.52,188.83 133.32,190.22 128.86,190.04 128.96,188.64" fill="#c8080f" stroke="#c8080f" stroke-width="0.45"/><polygon points="133.32,190.22 132.83,191.47 128.52,191.29 128.86,190.04" fill="#c8080f" stroke="#c8080f" stroke-width="0.45"/><polygon points="132.83,191.47 132.10,192.51 128.00,192.34 128.52,191.29" fill="#c8080f" stroke="#c8080f" stroke-width="0.45"/><polygon points="132.10,192.51 131.17,193.29 127.31,193.13 128.00,192.34" fill="#c8080f" stroke="#c8080f" stroke-width="0.45"/><polygon points="131.17,193.29 130.10,193.79 126.52,193.64 127.31,193.13" fill="#c8080f" stroke="#c8080f" stroke-width="0.45"/><polygon points="130.10,193.79 128.96,193.96 125.68,193.83 126.52,193.64" fill="#c8080f" stroke="#c8080f" stroke-width="0.45"/><polygon points="134.82,180.63 136.59,180.99 132.96,180.84 131.48,180.49" fill="#c8080f" stroke="#c8080f" stroke-width="0.45"/><polygon points="136.59,180.99 138.26,181.66 134.35,181.50 132.96,180.84" fill="#c8080f" stroke="#c8080f" stroke-width="0.45"/><polygon points="138.26,181.66 139.75,182.60 135.60,182.42 134.35,181.50" fill="#c8080f" stroke="#c8080f" stroke-width="0.45"/><polygon points="139.75,182.60 141.01,183.76 136.66,183.58 135.60,182.42" fill="#c8080f" stroke="#c8080f" stroke-width="0.45"/><polygon points="141.01,183.76 142.00,185.10 137.51,184.92 136.66,183.58" fill="#c8080f" stroke="#c8080f" stroke-width="0.45"/><polygon points="142.00,185.10 142.69,186.56 138.12,186.36 137.51,184.92" fill="#c8080f" stroke="#c8080f" stroke-width="0.45"/><polygon points="142.69,186.56 143.06,188.05 138.47,187.86 138.12,186.36" fill="#c8080f" stroke="#c8080f" stroke-width="0.45"/><polygon points="143.06,188.05 143.11,189.52 138.56,189.33 138.47,187.86" fill="#c8080f" stroke="#c8080f" stroke-width="0.45"/><polygon points="143.11,189.52 142.85,190.89 138.41,190.70 138.56,189.33" fill="#c8080f" stroke="#c8080f" stroke-width="0.45"/><polygon points="142.85,190.89 142.31,192.10 138.03,191.92 138.41,190.70" fill="#c8080f" stroke="#c8080f" stroke-width="0.45"/><polygon points="142.31,192.10 141.53,193.09 137.47,192.92 138.03,191.92" fill="#c8080f" stroke="#c8080f" stroke-width="0.45"/><polygon points="141.53,193.09 140.56,193.82 136.76,193.66 137.47,192.92" fill="#c8080f" stroke="#c8080f" stroke-width="0.45"/><polygon points="140.56,193.82 139.47,194.25 135.96,194.10 136.76,193.66" fill="#c8080f" stroke="#c8080f" stroke-width="0.45"/><polygon points="139.47,194.25 138.33,194.36 135.11,194.23 135.96,194.10" fill="#c8080f" stroke="#c8080f" stroke-width="0.45"/><polygon points="143.08,180.97 144.78,181.08 141.38,180.93 139.75,180.83" fill="#c8080f" stroke="#c8080f" stroke-width="0.45"/><polygon points="144.78,181.08 146.54,181.50 142.85,181.35 141.38,180.93" fill="#c8080f" stroke="#c8080f" stroke-width="0.45"/><polygon points="146.54,181.50 148.17,182.23 144.21,182.06 142.85,181.35" fill="#c8080f" stroke="#c8080f" stroke-width="0.45"/><polygon points="148.17,182.23 149.62,183.21 145.43,183.04 144.21,182.06" fill="#c8080f" stroke="#c8080f" stroke-width="0.45"/><polygon points="149.62,183.21 150.83,184.42 146.45,184.24 145.43,183.04" fill="#c8080f" stroke="#c8080f" stroke-width="0.45"/><polygon points="150.83,184.42 151.77,185.79 147.25,185.60 146.45,184.24" fill="#c8080f" stroke="#c8080f" stroke-width="0.45"/><polygon points="151.77,185.79 152.39,187.25 147.81,187.06 147.25,185.60" fill="#c8080f" stroke="#c8080f" stroke-width="0.45"/><polygon points="152.39,187.25 152.70,188.75 148.10,188.56 147.81,187.06" fill="#c8080f" stroke="#c8080f" stroke-width="0.45"/><polygon points="152.70,188.75 152.68,190.20 148.15,190.01 148.10,188.56" fill="#c8080f" stroke="#c8080f" stroke-width="0.45"/><polygon points="152.68,190.20 152.36,191.54 147.95,191.36 148.15,190.01" fill="#c8080f" stroke="#c8080f" stroke-width="0.45"/><polygon points="152.36,191.54 151.77,192.71 147.53,192.54 147.95,191.36" fill="#c8080f" stroke="#c8080f" stroke-width="0.45"/><polygon points="151.77,192.71 150.95,193.66 146.94,193.49 147.53,192.54" fill="#c8080f" stroke="#c8080f" stroke-width="0.45"/><polygon points="150.95,193.66 149.95,194.33 146.21,194.17 146.94,193.49" fill="#c8080f" stroke="#c8080f" stroke-width="0.45"/><polygon points="149.95,194.33 148.84,194.70 145.39,194.55 146.21,194.17" fill="#c8080f" stroke="#c8080f" stroke-width="0.45"/><polygon points="148.84,194.70 147.76,194.75 144.48,194.61 145.39,194.55" fill="#c8080f" stroke="#c8080f" stroke-width="0.45"/><path d="M100.00,175.00 C101.00,176.50 103.67,181.50 106.00,184.00 C108.33,186.50 112.67,189.00 114.00,190.00" fill="none" stroke="#7c0006" stroke-width="2.20" stroke-linecap="round" stroke-linejoin="round"/><path d="M100.00,175.00 C101.00,176.50 103.67,181.50 106.00,184.00 C108.33,186.50 112.67,189.00 114.00,190.00" fill="none" stroke="#c8080f" stroke-width="1.30" stroke-linecap="round" stroke-linejoin="round"/><polygon points="205.30,164.39 205.23,164.97 205.14,165.66 205.03,166.45 204.92,167.33 204.79,168.28 204.65,169.31 204.50,170.38 204.34,171.49 204.18,172.63 204.01,173.79 203.83,174.95 203.66,176.09 203.48,177.22 203.30,178.31 203.12,179.35 202.95,180.37 202.76,181.40 202.56,182.44 202.36,183.49 202.15,184.55 201.94,185.61 201.72,186.68 201.50,187.76 201.28,188.83 201.05,189.92 200.83,191.00 200.61,192.08 200.38,193.17 200.16,194.25 199.95,195.33 199.73,196.40 199.52,197.48 199.30,198.56 199.07,199.65 198.85,200.75 198.62,201.84 198.40,202.93 198.18,204.02 197.96,205.11 197.74,206.19 197.53,207.27 197.32,208.33 197.12,209.38 196.93,210.42 196.74,211.45 196.56,212.49 196.37,213.56 196.19,214.65 196.01,215.75 195.83,216.86 195.66,217.95 195.49,219.02 195.34,220.06 195.18,221.06 195.04,222.01 194.91,222.89 194.80,223.70 194.70,224.42 194.61,225.04 194.54,225.57 199.46,226.43 199.58,225.91 199.71,225.28 199.85,224.56 200.01,223.76 200.18,222.88 200.36,221.95 200.55,220.96 200.75,219.94 200.95,218.88 201.17,217.81 201.38,216.73 201.60,215.65 201.82,214.59 202.04,213.55 202.26,212.55 202.48,211.56 202.71,210.55 202.95,209.53 203.19,208.49 203.44,207.44 203.70,206.38 203.95,205.31 204.22,204.23 204.48,203.15 204.74,202.07 205.01,200.98 205.27,199.90 205.54,198.82 205.80,197.74 206.05,196.67 206.31,195.61 206.56,194.55 206.83,193.48 207.09,192.42 207.35,191.34 207.62,190.27 207.88,189.19 208.15,188.12 208.41,187.04 208.66,185.97 208.92,184.90 209.17,183.83 209.41,182.77 209.65,181.71 209.88,180.65 210.10,179.57 210.33,178.45 210.55,177.30 210.77,176.13 210.99,174.95 211.21,173.78 211.42,172.63 211.62,171.51 211.81,170.44 211.99,169.42 212.16,168.47 212.32,167.60 212.46,166.82 212.59,166.16 212.70,165.61" fill="#8e8e8e" stroke="#5e5e5e" stroke-width="0.55" stroke-linejoin="round"/><polyline points="208.07,164.85 207.99,165.41 207.88,166.10 207.77,166.88 207.63,167.76 207.49,168.71 207.33,169.73 207.17,170.80 206.99,171.92 206.81,173.06 206.63,174.22 206.44,175.39 206.24,176.55 206.05,177.68 205.85,178.78 205.66,179.84 205.46,180.87 205.25,181.91 205.04,182.96 204.82,184.02 204.59,185.08 204.36,186.15 204.13,187.22 203.89,188.30 203.66,189.37 203.42,190.45 203.18,191.53 202.94,192.61 202.70,193.69 202.47,194.76 202.24,195.83 202.01,196.90 201.77,197.98 201.54,199.06 201.30,200.15 201.06,201.24 200.82,202.33 200.58,203.42 200.35,204.51 200.11,205.59 199.88,206.66 199.65,207.72 199.43,208.78 199.22,209.82 199.01,210.85 198.81,211.86 198.61,212.89 198.42,213.95 198.22,215.03 198.03,216.12 197.83,217.21 197.65,218.30 197.47,219.36 197.29,220.40 197.13,221.39 196.97,222.33 196.82,223.21 196.69,224.02 196.57,224.74 196.47,225.37 196.38,225.89" fill="none" stroke="#c4c4c4" stroke-width="1.25" opacity="0.35" stroke-linecap="round"/><polyline points="204.5,170 202,185 199,200 196.5,214" fill="none" stroke="#6a6a6a" stroke-width="1.0"/><ellipse cx="215.50" cy="195.00" rx="4.80" ry="7.80" fill="none" stroke="#5e5e5e" stroke-width="3.90" transform="rotate(15.0 215.50 195.00)"/><ellipse cx="215.50" cy="195.00" rx="4.80" ry="7.80" fill="none" stroke="#8e8e8e" stroke-width="3.00" transform="rotate(15.0 215.50 195.00)"/><path d="M194.00,220.00 C194.50,221.00 196.00,224.50 197.00,226.00 C198.00,227.50 199.50,228.50 200.00,229.00" fill="none" stroke="#5e5e5e" stroke-width="3.50" stroke-linecap="round" stroke-linejoin="round"/><path d="M194.00,220.00 C194.50,221.00 196.00,224.50 197.00,226.00 C198.00,227.50 199.50,228.50 200.00,229.00" fill="none" stroke="#8e8e8e" stroke-width="2.60" stroke-linecap="round" stroke-linejoin="round"/><path d="M152.00,180.00 C152.50,181.67 153.67,187.00 155.00,190.00 C156.33,193.00 159.17,196.67 160.00,198.00" fill="none" stroke="#5e5e5e" stroke-width="3.90" stroke-linecap="round" stroke-linejoin="round"/><path d="M152.00,180.00 C152.50,181.67 153.67,187.00 155.00,190.00 C156.33,193.00 159.17,196.67 160.00,198.00" fill="none" stroke="#8e8e8e" stroke-width="3.00" stroke-linecap="round" stroke-linejoin="round"/><path d="M152.00,180.00 C152.50,181.67 153.67,187.00 155.00,190.00 C156.33,193.00 159.17,196.67 160.00,198.00" fill="none" stroke="#c4c4c4" stroke-width="0.90" stroke-linecap="round" stroke-linejoin="round" opacity="0.45" transform="translate(-0.4,-0.6)"/><path d="M161.80,138.00 C162.67,137.83 165.13,136.00 167.00,137.00 C168.87,138.00 170.67,141.25 173.00,144.00 C175.33,146.75 178.67,150.83 181.00,153.50 C183.33,156.17 184.90,158.17 187.00,160.00 C189.10,161.83 191.27,162.77 193.60,164.50 C195.93,166.23 199.27,168.48 201.00,170.40 C202.73,172.32 203.50,175.07 204.00,176.00" fill="none" stroke="#7e7e00" stroke-width="2.50" stroke-linecap="round" stroke-linejoin="round"/><path d="M161.80,138.00 C162.67,137.83 165.13,136.00 167.00,137.00 C168.87,138.00 170.67,141.25 173.00,144.00 C175.33,146.75 178.67,150.83 181.00,153.50 C183.33,156.17 184.90,158.17 187.00,160.00 C189.10,161.83 191.27,162.77 193.60,164.50 C195.93,166.23 199.27,168.48 201.00,170.40 C202.73,172.32 203.50,175.07 204.00,176.00" fill="none" stroke="#c4c410" stroke-width="1.60" stroke-linecap="round" stroke-linejoin="round"/><polygon points="173.00,176.00 186.00,174.00 198.00,172.00 205.00,177.00 204.00,188.00 200.00,198.00 192.00,203.50 181.00,204.00 176.00,198.00 174.00,188.00" fill="#c4c410" stroke="#7e7e00" stroke-width="0.55" stroke-linejoin="round"/><polygon points="183,179 188,178 186,183" fill="#fff"/><polygon points="187,192 195,190 193,196 188,197" fill="#fff"/><polygon points="157.01,193.99 156.56,193.54 153.79,191.56 154.40,192.13" fill="#7e7e00" stroke="#7e7e00" stroke-width="0.5"/><polygon points="156.56,193.54 156.36,192.89 153.37,190.75 153.79,191.56" fill="#7e7e00" stroke="#7e7e00" stroke-width="0.5"/><polygon points="156.36,192.89 156.40,192.06 153.19,189.77 153.37,190.75" fill="#7e7e00" stroke="#7e7e00" stroke-width="0.5"/><polygon points="156.40,192.06 156.69,191.09 153.30,188.67 153.19,189.77" fill="#7e7e00" stroke="#7e7e00" stroke-width="0.5"/><polygon points="156.69,191.09 157.23,190.05 153.70,187.54 153.30,188.67" fill="#7e7e00" stroke="#7e7e00" stroke-width="0.5"/><polygon points="157.23,190.05 158.01,189.00 154.39,186.42 153.70,187.54" fill="#7e7e00" stroke="#7e7e00" stroke-width="0.5"/><polygon points="158.01,189.00 159.01,187.99 155.35,185.38 154.39,186.42" fill="#7e7e00" stroke="#7e7e00" stroke-width="0.5"/><polygon points="159.01,187.99 160.20,187.10 156.55,184.49 155.35,185.38" fill="#7e7e00" stroke="#7e7e00" stroke-width="0.5"/><polygon points="160.20,187.10 161.54,186.36 157.96,183.80 156.55,184.49" fill="#7e7e00" stroke="#7e7e00" stroke-width="0.5"/><polygon points="161.54,186.36 162.98,185.84 159.51,183.36 157.96,183.80" fill="#7e7e00" stroke="#7e7e00" stroke-width="0.5"/><polygon points="162.98,185.84 164.47,185.56 161.15,183.19 159.51,183.36" fill="#7e7e00" stroke="#7e7e00" stroke-width="0.5"/><polygon points="164.47,185.56 165.94,185.55 162.81,183.32 161.15,183.19" fill="#7e7e00" stroke="#7e7e00" stroke-width="0.5"/><polygon points="165.94,185.55 167.36,185.83 164.44,183.75 162.81,183.32" fill="#7e7e00" stroke="#7e7e00" stroke-width="0.5"/><polygon points="167.36,185.83 168.65,186.38 165.98,184.47 164.44,183.75" fill="#7e7e00" stroke="#7e7e00" stroke-width="0.5"/><polygon points="166.34,200.65 166.01,200.14 163.16,198.11 163.73,198.79" fill="#7e7e00" stroke="#7e7e00" stroke-width="0.5"/><polygon points="166.01,200.14 165.89,199.42 162.82,197.23 163.16,198.11" fill="#7e7e00" stroke="#7e7e00" stroke-width="0.5"/><polygon points="165.89,199.42 166.02,198.54 162.75,196.20 162.82,197.23" fill="#7e7e00" stroke="#7e7e00" stroke-width="0.5"/><polygon points="166.02,198.54 166.40,197.54 162.96,195.08 162.75,196.20" fill="#7e7e00" stroke="#7e7e00" stroke-width="0.5"/><polygon points="166.40,197.54 167.03,196.48 163.47,193.94 162.96,195.08" fill="#7e7e00" stroke="#7e7e00" stroke-width="0.5"/><polygon points="167.03,196.48 167.89,195.44 164.26,192.84 163.47,193.94" fill="#7e7e00" stroke="#7e7e00" stroke-width="0.5"/><polygon points="167.89,195.44 168.97,194.47 165.31,191.86 164.26,192.84" fill="#7e7e00" stroke="#7e7e00" stroke-width="0.5"/><polygon points="168.97,194.47 170.22,193.63 166.59,191.03 165.31,191.86" fill="#7e7e00" stroke="#7e7e00" stroke-width="0.5"/><polygon points="170.22,193.63 171.60,192.97 168.05,190.43 166.59,191.03" fill="#7e7e00" stroke="#7e7e00" stroke-width="0.5"/><polygon points="171.60,192.97 173.07,192.53 169.64,190.08 168.05,190.43" fill="#7e7e00" stroke="#7e7e00" stroke-width="0.5"/><polygon points="173.07,192.53 174.55,192.34 171.30,190.02 169.64,190.08" fill="#7e7e00" stroke="#7e7e00" stroke-width="0.5"/><polygon points="174.55,192.34 176.01,192.44 172.96,190.26 171.30,190.02" fill="#7e7e00" stroke="#7e7e00" stroke-width="0.5"/><polygon points="176.01,192.44 177.39,192.81 174.56,190.79 172.96,190.26" fill="#7e7e00" stroke="#7e7e00" stroke-width="0.5"/><polygon points="177.39,192.81 178.63,193.47 176.04,191.62 174.56,190.79" fill="#7e7e00" stroke="#7e7e00" stroke-width="0.5"/><polygon points="163.06,190.33 162.46,191.64 158.82,189.04 159.40,187.71" fill="#c4c410" stroke="#c4c410" stroke-width="0.45"/><polygon points="162.46,191.64 161.67,192.73 158.11,190.19 158.82,189.04" fill="#c4c410" stroke="#c4c410" stroke-width="0.45"/><polygon points="161.67,192.73 160.75,193.57 157.32,191.12 158.11,190.19" fill="#c4c410" stroke="#c4c410" stroke-width="0.45"/><polygon points="160.75,193.57 159.76,194.12 156.50,191.79 157.32,191.12" fill="#c4c410" stroke="#c4c410" stroke-width="0.45"/><polygon points="159.76,194.12 158.77,194.37 155.70,192.18 156.50,191.79" fill="#c4c410" stroke="#c4c410" stroke-width="0.45"/><polygon points="158.77,194.37 157.83,194.32 154.99,192.29 155.70,192.18" fill="#c4c410" stroke="#c4c410" stroke-width="0.45"/><polygon points="157.83,194.32 157.01,193.99 154.40,192.13 154.99,192.29" fill="#c4c410" stroke="#c4c410" stroke-width="0.45"/><polygon points="168.65,186.38 169.92,187.29 167.23,185.37 165.98,184.47" fill="#c4c410" stroke="#c4c410" stroke-width="0.45"/><polygon points="169.92,187.29 171.09,188.51 168.16,186.43 167.23,185.37" fill="#c4c410" stroke="#c4c410" stroke-width="0.45"/><polygon points="171.09,188.51 172.01,189.93 168.87,187.68 168.16,186.43" fill="#c4c410" stroke="#c4c410" stroke-width="0.45"/><polygon points="172.01,189.93 172.66,191.47 169.33,189.09 168.87,187.68" fill="#c4c410" stroke="#c4c410" stroke-width="0.45"/><polygon points="172.66,191.47 173.02,193.07 169.53,190.59 169.33,189.09" fill="#c4c410" stroke="#c4c410" stroke-width="0.45"/><polygon points="173.02,193.07 173.08,194.68 169.49,192.12 169.53,190.59" fill="#c4c410" stroke="#c4c410" stroke-width="0.45"/><polygon points="173.08,194.68 172.87,196.23 169.22,193.62 169.49,192.12" fill="#c4c410" stroke="#c4c410" stroke-width="0.45"/><polygon points="172.87,196.23 172.41,197.65 168.75,195.03 169.22,193.62" fill="#c4c410" stroke="#c4c410" stroke-width="0.45"/><polygon points="172.41,197.65 171.74,198.88 168.12,196.30 168.75,195.03" fill="#c4c410" stroke="#c4c410" stroke-width="0.45"/><polygon points="171.74,198.88 170.89,199.88 167.38,197.37 168.12,196.30" fill="#c4c410" stroke="#c4c410" stroke-width="0.45"/><polygon points="170.89,199.88 169.94,200.62 166.57,198.21 167.38,197.37" fill="#c4c410" stroke="#c4c410" stroke-width="0.45"/><polygon points="169.94,200.62 168.94,201.06 165.75,198.78 166.57,198.21" fill="#c4c410" stroke="#c4c410" stroke-width="0.45"/><polygon points="168.94,201.06 167.96,201.21 164.98,199.07 165.75,198.78" fill="#c4c410" stroke="#c4c410" stroke-width="0.45"/><polygon points="167.96,201.21 167.06,201.05 164.30,199.08 164.98,199.07" fill="#c4c410" stroke="#c4c410" stroke-width="0.45"/><polygon points="167.06,201.05 166.34,200.65 163.73,198.79 164.30,199.08" fill="#c4c410" stroke="#c4c410" stroke-width="0.45"/><polygon points="178.63,193.47 179.91,194.53 177.14,192.55 176.04,191.62" fill="#c4c410" stroke="#c4c410" stroke-width="0.45"/><polygon points="179.91,194.53 181.00,195.83 177.99,193.68 177.14,192.55" fill="#c4c410" stroke="#c4c410" stroke-width="0.45"/><polygon points="181.00,195.83 181.82,197.29 178.61,195.00 177.99,193.68" fill="#c4c410" stroke="#c4c410" stroke-width="0.45"/><polygon points="181.82,197.29 182.37,198.86 178.98,196.44 178.61,195.00" fill="#c4c410" stroke="#c4c410" stroke-width="0.45"/><polygon points="182.37,198.86 182.62,200.48 179.09,197.96 178.98,196.44" fill="#c4c410" stroke="#c4c410" stroke-width="0.45"/><polygon points="182.62,200.48 182.59,202.07 178.97,199.49 179.09,197.96" fill="#c4c410" stroke="#c4c410" stroke-width="0.45"/><polygon points="182.59,202.07 182.28,203.58 178.62,200.97 178.97,199.49" fill="#c4c410" stroke="#c4c410" stroke-width="0.45"/><polygon points="182.28,203.58 181.73,204.94 178.09,202.33 178.62,200.97" fill="#c4c410" stroke="#c4c410" stroke-width="0.45"/><polygon points="181.73,204.94 180.99,206.09 177.41,203.53 178.09,202.33" fill="#c4c410" stroke="#c4c410" stroke-width="0.45"/><polygon points="180.99,206.09 180.10,207.00 176.63,204.52 177.41,203.53" fill="#c4c410" stroke="#c4c410" stroke-width="0.45"/><polygon points="180.10,207.00 179.13,207.63 175.81,205.27 176.63,204.52" fill="#c4c410" stroke="#c4c410" stroke-width="0.45"/><polygon points="179.13,207.63 178.13,207.97 175.00,205.74 175.81,205.27" fill="#c4c410" stroke="#c4c410" stroke-width="0.45"/><polygon points="178.13,207.97 177.17,208.00 174.26,205.93 175.00,205.74" fill="#c4c410" stroke="#c4c410" stroke-width="0.45"/><polygon points="172.61,180.19 172.83,180.14 173.08,180.09 173.36,180.02 173.67,179.95 174.01,179.88 174.36,179.80 174.74,179.72 175.14,179.63 175.55,179.54 175.97,179.45 176.41,179.36 176.86,179.27 177.31,179.17 177.77,179.08 178.24,178.98 178.70,178.89 179.16,178.80 179.62,178.71 180.07,178.62 180.51,178.54 180.96,178.46 181.43,178.37 181.91,178.28 182.40,178.19 182.90,178.10 183.40,178.01 183.91,177.92 184.43,177.83 184.94,177.74 185.46,177.65 185.97,177.56 186.49,177.48 187.00,177.39 187.50,177.31 188.00,177.23 188.49,177.16 188.97,177.09 189.43,177.02 189.89,176.96 190.32,176.90 190.75,176.85 191.18,176.79 191.63,176.75 192.08,176.70 192.53,176.66 192.99,176.62 193.44,176.58 193.89,176.55 194.33,176.52 194.77,176.49 195.19,176.46 195.60,176.43 195.99,176.40 196.37,176.38 196.73,176.36 197.07,176.33 197.38,176.31 197.67,176.29 197.93,176.27 198.16,176.25 197.84,170.75 197.63,170.76 197.40,170.76 197.13,170.77 196.82,170.77 196.49,170.78 196.13,170.78 195.75,170.79 195.34,170.80 194.92,170.81 194.48,170.83 194.03,170.84 193.57,170.86 193.09,170.88 192.61,170.90 192.12,170.93 191.63,170.95 191.14,170.98 190.65,171.02 190.16,171.06 189.68,171.10 189.20,171.15 188.71,171.20 188.21,171.25 187.70,171.31 187.19,171.37 186.66,171.44 186.14,171.51 185.61,171.58 185.07,171.65 184.54,171.72 184.01,171.80 183.48,171.87 182.95,171.95 182.43,172.02 181.92,172.10 181.41,172.17 180.91,172.25 180.43,172.32 179.95,172.39 179.49,172.46 179.02,172.53 178.55,172.60 178.07,172.68 177.59,172.76 177.11,172.84 176.63,172.92 176.15,173.00 175.68,173.08 175.22,173.16 174.78,173.23 174.34,173.31 173.92,173.38 173.52,173.45 173.13,173.52 172.77,173.58 172.44,173.64 172.13,173.69 171.85,173.74 171.61,173.77 171.39,173.81" fill="#c4c410" stroke="#7e7e00" stroke-width="0.55" stroke-linejoin="round"/><polyline points="172.15,177.80 172.37,177.75 172.62,177.70 172.90,177.65 173.21,177.59 173.54,177.52 173.90,177.45 174.28,177.37 174.68,177.29 175.10,177.21 175.52,177.12 175.97,177.03 176.42,176.95 176.88,176.86 177.34,176.77 177.81,176.68 178.28,176.59 178.75,176.50 179.22,176.42 179.68,176.34 180.13,176.26 180.58,176.18 181.05,176.10 181.54,176.02 182.03,175.94 182.53,175.85 183.04,175.77 183.55,175.68 184.07,175.60 184.59,175.51 185.11,175.43 185.64,175.35 186.16,175.27 186.68,175.19 187.19,175.11 187.70,175.04 188.19,174.97 188.68,174.90 189.16,174.84 189.63,174.78 190.08,174.72 190.53,174.68 190.98,174.63 191.45,174.59 191.91,174.55 192.38,174.51 192.85,174.48 193.31,174.44 193.77,174.42 194.22,174.39 194.66,174.36 195.09,174.34 195.50,174.32 195.90,174.30 196.28,174.28 196.64,174.26 196.97,174.25 197.28,174.23 197.57,174.22 197.82,174.20 198.04,174.19" fill="none" stroke="#e6e670" stroke-width="1.38" opacity="0.35" stroke-linecap="round"/><polygon points="197.00,169.50 205.00,175.00 198.00,180.00" fill="#c4c410" stroke="#7e7e00" stroke-width="0.55" stroke-linejoin="round"/><polygon points="177.45,194.34 177.66,194.20 177.90,194.04 178.18,193.86 178.49,193.66 178.84,193.44 179.21,193.21 179.60,192.96 180.02,192.70 180.45,192.43 180.89,192.15 181.35,191.86 181.81,191.57 182.28,191.26 182.75,190.96 183.22,190.65 183.69,190.35 184.15,190.04 184.60,189.73 185.04,189.43 185.47,189.13 185.89,188.82 186.31,188.51 186.73,188.19 187.15,187.87 187.56,187.54 187.98,187.22 188.39,186.89 188.80,186.56 189.20,186.23 189.61,185.90 190.00,185.58 190.40,185.26 190.79,184.95 191.17,184.64 191.55,184.35 191.92,184.06 192.29,183.78 192.65,183.51 193.00,183.25 193.34,183.01 193.69,182.77 194.05,182.53 194.42,182.29 194.80,182.05 195.19,181.81 195.58,181.58 195.97,181.34 196.36,181.11 196.74,180.89 197.12,180.67 197.49,180.46 197.85,180.25 198.20,180.06 198.53,179.87 198.85,179.69 199.14,179.52 199.42,179.37 199.67,179.22 199.91,179.08 200.10,178.96 197.90,175.04 197.71,175.13 197.50,175.24 197.26,175.36 196.98,175.50 196.68,175.65 196.36,175.82 196.01,175.99 195.65,176.18 195.27,176.37 194.88,176.58 194.47,176.79 194.06,177.01 193.64,177.24 193.21,177.48 192.78,177.72 192.35,177.96 191.92,178.21 191.49,178.47 191.07,178.73 190.66,178.99 190.25,179.26 189.83,179.54 189.42,179.83 189.00,180.12 188.59,180.42 188.17,180.73 187.76,181.03 187.35,181.34 186.93,181.66 186.52,181.97 186.11,182.28 185.70,182.59 185.29,182.90 184.89,183.20 184.48,183.50 184.08,183.79 183.69,184.08 183.30,184.35 182.92,184.62 182.53,184.87 182.14,185.13 181.73,185.39 181.30,185.67 180.86,185.94 180.40,186.22 179.95,186.50 179.48,186.78 179.02,187.06 178.56,187.33 178.11,187.60 177.67,187.86 177.23,188.11 176.82,188.36 176.42,188.59 176.04,188.81 175.68,189.01 175.35,189.20 175.05,189.37 174.78,189.53 174.55,189.66" fill="#c4c410" stroke="#7e7e00" stroke-width="0.55" stroke-linejoin="round"/><polyline points="176.36,192.58 176.58,192.45 176.83,192.29 177.12,192.11 177.44,191.92 177.79,191.70 178.16,191.48 178.56,191.24 178.97,190.98 179.40,190.72 179.85,190.44 180.30,190.16 180.76,189.88 181.23,189.58 181.70,189.29 182.16,188.99 182.63,188.69 183.08,188.40 183.52,188.11 183.95,187.82 184.37,187.53 184.77,187.25 185.18,186.95 185.59,186.65 186.00,186.34 186.41,186.03 186.82,185.71 187.23,185.39 187.64,185.07 188.04,184.75 188.45,184.43 188.85,184.11 189.25,183.79 189.65,183.48 190.05,183.17 190.44,182.87 190.83,182.58 191.21,182.29 191.59,182.02 191.97,181.76 192.34,181.50 192.71,181.26 193.09,181.01 193.48,180.76 193.88,180.52 194.29,180.28 194.69,180.04 195.09,179.81 195.50,179.58 195.89,179.35 196.28,179.14 196.66,178.93 197.03,178.73 197.38,178.53 197.72,178.35 198.04,178.18 198.33,178.01 198.61,177.86 198.86,177.73 199.08,177.60 199.28,177.49" fill="none" stroke="#e6e670" stroke-width="1.12" opacity="0.35" stroke-linecap="round"/><polygon points="187.95,205.04 188.13,204.95 188.34,204.86 188.60,204.75 188.91,204.62 189.27,204.48 189.66,204.33 190.08,204.17 190.53,203.99 191.00,203.80 191.48,203.60 191.98,203.38 192.48,203.15 193.00,202.90 193.51,202.64 194.03,202.35 194.54,202.05 195.04,201.72 195.53,201.37 196.01,200.99 196.46,200.60 196.88,200.19 197.27,199.78 197.65,199.36 198.03,198.92 198.39,198.46 198.75,197.99 199.10,197.51 199.44,197.03 199.77,196.53 200.10,196.03 200.42,195.52 200.73,195.00 201.03,194.49 201.32,193.97 201.60,193.45 201.88,192.93 202.14,192.41 202.40,191.90 202.65,191.39 202.89,190.88 203.13,190.34 203.36,189.76 203.58,189.18 203.79,188.58 203.99,187.98 204.18,187.37 204.36,186.76 204.53,186.15 204.69,185.55 204.85,184.96 204.99,184.38 205.13,183.82 205.26,183.29 205.38,182.78 205.49,182.30 205.60,181.86 205.69,181.46 205.78,181.10 205.85,180.81 205.92,180.55 202.08,179.45 201.99,179.74 201.89,180.09 201.79,180.48 201.68,180.89 201.57,181.34 201.45,181.81 201.32,182.31 201.19,182.83 201.05,183.37 200.90,183.92 200.75,184.47 200.59,185.03 200.42,185.59 200.25,186.15 200.07,186.69 199.89,187.23 199.70,187.74 199.51,188.23 199.31,188.68 199.11,189.12 198.89,189.56 198.66,190.03 198.42,190.49 198.17,190.96 197.91,191.43 197.65,191.89 197.38,192.36 197.10,192.82 196.82,193.28 196.53,193.72 196.23,194.16 195.94,194.59 195.64,195.00 195.34,195.40 195.03,195.79 194.73,196.16 194.42,196.50 194.12,196.83 193.82,197.13 193.54,197.40 193.26,197.64 192.96,197.87 192.62,198.10 192.26,198.32 191.88,198.54 191.48,198.75 191.06,198.96 190.64,199.16 190.20,199.34 189.77,199.53 189.34,199.70 188.91,199.86 188.49,200.02 188.09,200.17 187.70,200.31 187.33,200.45 186.97,200.58 186.63,200.71 186.31,200.84 186.05,200.96" fill="#c4c410" stroke="#7e7e00" stroke-width="0.55" stroke-linejoin="round"/><polyline points="187.24,203.51 187.45,203.41 187.70,203.30 187.99,203.19 188.32,203.06 188.68,202.92 189.07,202.77 189.49,202.61 189.92,202.44 190.37,202.26 190.84,202.07 191.31,201.87 191.79,201.65 192.27,201.42 192.75,201.18 193.22,200.92 193.68,200.65 194.13,200.36 194.57,200.06 194.98,199.74 195.37,199.40 195.73,199.05 196.09,198.68 196.44,198.29 196.79,197.88 197.13,197.46 197.47,197.02 197.80,196.57 198.13,196.11 198.45,195.64 198.76,195.16 199.07,194.68 199.37,194.18 199.66,193.69 199.94,193.19 200.22,192.69 200.49,192.19 200.75,191.69 201.00,191.20 201.24,190.71 201.47,190.22 201.70,189.72 201.92,189.19 202.13,188.64 202.33,188.07 202.52,187.50 202.71,186.91 202.88,186.32 203.05,185.73 203.21,185.15 203.37,184.57 203.51,184.00 203.65,183.45 203.78,182.92 203.91,182.42 204.02,181.94 204.13,181.50 204.23,181.09 204.32,180.73 204.40,180.41 204.48,180.14" fill="none" stroke="#e6e670" stroke-width="1.00" opacity="0.35" stroke-linecap="round"/><polygon points="177.43,202.66 177.53,202.69 177.63,202.72 177.74,202.77 177.88,202.82 178.02,202.87 178.18,202.94 178.35,203.00 178.53,203.07 178.72,203.15 178.92,203.22 179.13,203.30 179.34,203.39 179.56,203.47 179.79,203.56 180.02,203.64 180.25,203.73 180.49,203.81 180.73,203.90 180.98,203.98 181.22,204.07 181.47,204.15 181.72,204.23 181.97,204.30 182.22,204.38 182.47,204.45 182.72,204.51 182.97,204.58 183.22,204.63 183.47,204.68 183.71,204.73 183.96,204.76 184.21,204.80 184.46,204.82 184.71,204.84 184.96,204.86 185.21,204.88 185.47,204.89 185.72,204.89 185.97,204.90 186.22,204.90 186.47,204.90 186.72,204.89 186.96,204.89 187.20,204.88 187.44,204.87 187.67,204.86 187.90,204.85 188.12,204.84 188.33,204.83 188.54,204.82 188.74,204.81 188.93,204.80 189.11,204.79 189.28,204.78 189.44,204.77 189.58,204.76 189.71,204.76 189.83,204.75 189.93,204.75 190.02,204.75 189.98,201.25 189.86,201.25 189.72,201.26 189.57,201.26 189.42,201.27 189.26,201.28 189.09,201.28 188.91,201.29 188.73,201.31 188.54,201.32 188.35,201.33 188.15,201.34 187.94,201.35 187.74,201.36 187.52,201.37 187.31,201.38 187.09,201.38 186.88,201.39 186.66,201.39 186.44,201.40 186.22,201.40 186.01,201.40 185.79,201.39 185.58,201.39 185.38,201.38 185.18,201.37 184.98,201.36 184.80,201.34 184.62,201.32 184.45,201.30 184.29,201.27 184.13,201.24 183.96,201.21 183.78,201.17 183.59,201.12 183.39,201.07 183.19,201.01 182.98,200.95 182.76,200.89 182.55,200.82 182.33,200.75 182.11,200.67 181.89,200.60 181.67,200.52 181.45,200.44 181.23,200.36 181.02,200.28 180.80,200.20 180.59,200.12 180.39,200.04 180.19,199.96 180.00,199.89 179.81,199.81 179.62,199.74 179.45,199.67 179.28,199.61 179.12,199.55 178.97,199.49 178.83,199.44 178.69,199.39 178.57,199.34" fill="#c4c410" stroke="#7e7e00" stroke-width="0.55" stroke-linejoin="round"/><polyline points="177.86,201.41 177.96,201.45 178.08,201.49 178.20,201.54 178.34,201.59 178.50,201.65 178.66,201.71 178.83,201.78 179.01,201.85 179.20,201.92 179.40,202.00 179.60,202.08 179.81,202.16 180.03,202.24 180.25,202.33 180.47,202.41 180.70,202.49 180.93,202.58 181.17,202.66 181.40,202.74 181.64,202.82 181.88,202.90 182.11,202.98 182.35,203.05 182.58,203.12 182.82,203.18 183.05,203.24 183.27,203.30 183.50,203.35 183.71,203.39 183.93,203.43 184.14,203.46 184.36,203.49 184.58,203.52 184.81,203.54 185.04,203.55 185.28,203.57 185.51,203.57 185.75,203.58 185.98,203.58 186.22,203.59 186.46,203.58 186.70,203.58 186.93,203.58 187.16,203.57 187.39,203.56 187.62,203.55 187.84,203.54 188.05,203.53 188.26,203.52 188.47,203.51 188.67,203.50 188.86,203.49 189.04,203.48 189.21,203.47 189.37,203.46 189.52,203.45 189.66,203.45 189.79,203.44 189.90,203.44 190.00,203.44" fill="none" stroke="#e6e670" stroke-width="0.88" opacity="0.35" stroke-linecap="round"/><path d="M164.00,204.00 C164.67,205.00 167.00,208.00 168.00,210.00 C169.00,212.00 169.67,215.00 170.00,216.00" fill="none" stroke="#7e7e00" stroke-width="3.50" stroke-linecap="round" stroke-linejoin="round"/><path d="M164.00,204.00 C164.67,205.00 167.00,208.00 168.00,210.00 C169.00,212.00 169.67,215.00 170.00,216.00" fill="none" stroke="#c4c410" stroke-width="2.60" stroke-linecap="round" stroke-linejoin="round"/><polygon points="172.54,225.98 172.70,225.86 167.80,226.15 167.92,226.25" fill="#7e7e00" stroke="#7e7e00" stroke-width="0.5"/><polygon points="172.70,225.86 172.91,225.42 167.61,225.73 167.80,226.15" fill="#7e7e00" stroke="#7e7e00" stroke-width="0.5"/><polygon points="172.91,225.42 173.13,224.68 167.45,225.01 167.61,225.73" fill="#7e7e00" stroke="#7e7e00" stroke-width="0.5"/><polygon points="173.13,224.68 173.35,223.67 167.36,224.02 167.45,225.01" fill="#7e7e00" stroke="#7e7e00" stroke-width="0.5"/><polygon points="173.35,223.67 173.58,222.45 167.34,222.81 167.36,224.02" fill="#7e7e00" stroke="#7e7e00" stroke-width="0.5"/><polygon points="173.58,222.45 173.83,221.06 167.43,221.44 167.34,222.81" fill="#7e7e00" stroke="#7e7e00" stroke-width="0.5"/><polygon points="173.83,221.06 174.11,219.58 167.63,219.96 167.43,221.44" fill="#7e7e00" stroke="#7e7e00" stroke-width="0.5"/><polygon points="174.11,219.58 174.43,218.07 167.96,218.45 167.63,219.96" fill="#7e7e00" stroke="#7e7e00" stroke-width="0.5"/><polygon points="174.43,218.07 174.78,216.61 168.42,216.98 167.96,218.45" fill="#7e7e00" stroke="#7e7e00" stroke-width="0.5"/><polygon points="174.78,216.61 175.17,215.26 169.00,215.62 168.42,216.98" fill="#7e7e00" stroke="#7e7e00" stroke-width="0.5"/><polygon points="175.17,215.26 175.60,214.09 169.70,214.44 169.00,215.62" fill="#7e7e00" stroke="#7e7e00" stroke-width="0.5"/><polygon points="175.60,214.09 176.06,213.15 170.51,213.48 169.70,214.44" fill="#7e7e00" stroke="#7e7e00" stroke-width="0.5"/><polygon points="176.06,213.15 176.57,212.49 171.40,212.79 170.51,213.48" fill="#7e7e00" stroke="#7e7e00" stroke-width="0.5"/><polygon points="176.57,212.49 177.10,212.14 172.34,212.41 171.40,212.79" fill="#7e7e00" stroke="#7e7e00" stroke-width="0.5"/><polygon points="177.10,212.14 177.86,212.09 173.11,212.37 172.34,212.41" fill="#7e7e00" stroke="#7e7e00" stroke-width="0.5"/><polygon points="183.88,225.31 184.10,225.08 179.07,225.38 179.26,225.59" fill="#7e7e00" stroke="#7e7e00" stroke-width="0.5"/><polygon points="184.10,225.08 184.32,224.54 178.89,224.86 179.07,225.38" fill="#7e7e00" stroke="#7e7e00" stroke-width="0.5"/><polygon points="184.32,224.54 184.53,223.70 178.75,224.04 178.89,224.86" fill="#7e7e00" stroke="#7e7e00" stroke-width="0.5"/><polygon points="184.53,223.70 184.76,222.62 178.67,222.98 178.75,224.04" fill="#7e7e00" stroke="#7e7e00" stroke-width="0.5"/><polygon points="184.76,222.62 184.99,221.33 178.69,221.70 178.67,222.98" fill="#7e7e00" stroke="#7e7e00" stroke-width="0.5"/><polygon points="184.99,221.33 185.26,219.91 178.81,220.29 178.69,221.70" fill="#7e7e00" stroke="#7e7e00" stroke-width="0.5"/><polygon points="185.26,219.91 185.55,218.41 179.06,218.79 178.81,220.29" fill="#7e7e00" stroke="#7e7e00" stroke-width="0.5"/><polygon points="185.55,218.41 185.87,216.91 179.43,217.29 179.06,218.79" fill="#7e7e00" stroke="#7e7e00" stroke-width="0.5"/><polygon points="185.87,216.91 186.24,215.48 179.93,215.85 179.43,217.29" fill="#7e7e00" stroke="#7e7e00" stroke-width="0.5"/><polygon points="186.24,215.48 186.64,214.18 180.56,214.54 179.93,215.85" fill="#7e7e00" stroke="#7e7e00" stroke-width="0.5"/><polygon points="186.64,214.18 187.08,213.08 181.30,213.42 180.56,214.54" fill="#7e7e00" stroke="#7e7e00" stroke-width="0.5"/><polygon points="187.08,213.08 187.56,212.23 182.13,212.55 181.30,213.42" fill="#7e7e00" stroke="#7e7e00" stroke-width="0.5"/><polygon points="187.56,212.23 188.07,211.67 183.04,211.97 182.13,212.55" fill="#7e7e00" stroke="#7e7e00" stroke-width="0.5"/><polygon points="188.07,211.67 188.61,211.42 184.00,211.69 183.04,211.97" fill="#7e7e00" stroke="#7e7e00" stroke-width="0.5"/><polygon points="195.29,224.61 195.51,224.27 190.34,224.57 190.53,224.89" fill="#7e7e00" stroke="#7e7e00" stroke-width="0.5"/><polygon points="195.51,224.27 195.72,223.62 190.17,223.95 190.34,224.57" fill="#7e7e00" stroke="#7e7e00" stroke-width="0.5"/><polygon points="195.72,223.62 195.94,222.70 190.05,223.05 190.17,223.95" fill="#7e7e00" stroke="#7e7e00" stroke-width="0.5"/><polygon points="195.94,222.70 196.17,221.54 190.00,221.91 190.05,223.05" fill="#7e7e00" stroke="#7e7e00" stroke-width="0.5"/><polygon points="196.17,221.54 196.41,220.20 190.05,220.58 190.00,221.91" fill="#7e7e00" stroke="#7e7e00" stroke-width="0.5"/><polygon points="196.41,220.20 196.68,218.75 190.21,219.13 190.05,220.58" fill="#7e7e00" stroke="#7e7e00" stroke-width="0.5"/><polygon points="196.68,218.75 196.99,217.24 190.50,217.62 190.21,219.13" fill="#7e7e00" stroke="#7e7e00" stroke-width="0.5"/><polygon points="196.99,217.24 197.32,215.75 190.92,216.13 190.50,217.62" fill="#7e7e00" stroke="#7e7e00" stroke-width="0.5"/><polygon points="197.32,215.75 197.70,214.36 191.46,214.73 190.92,216.13" fill="#7e7e00" stroke="#7e7e00" stroke-width="0.5"/><polygon points="197.70,214.36 198.12,213.12 192.12,213.48 191.46,214.73" fill="#7e7e00" stroke="#7e7e00" stroke-width="0.5"/><polygon points="198.12,213.12 198.57,212.10 192.90,212.44 192.12,213.48" fill="#7e7e00" stroke="#7e7e00" stroke-width="0.5"/><polygon points="198.57,212.10 199.06,211.34 193.76,211.66 192.90,212.44" fill="#7e7e00" stroke="#7e7e00" stroke-width="0.5"/><polygon points="199.06,211.34 199.58,210.88 194.69,211.17 193.76,211.66" fill="#7e7e00" stroke="#7e7e00" stroke-width="0.5"/><polygon points="199.58,210.88 200.20,210.74 195.59,211.01 194.69,211.17" fill="#7e7e00" stroke="#7e7e00" stroke-width="0.5"/><polygon points="171.94,219.21 172.36,220.67 165.92,221.04 165.45,219.59" fill="#c4c410" stroke="#c4c410" stroke-width="0.45"/><polygon points="172.36,220.67 172.65,222.06 166.34,222.43 165.92,221.04" fill="#c4c410" stroke="#c4c410" stroke-width="0.45"/><polygon points="172.65,222.06 172.81,223.32 166.73,223.68 166.34,222.43" fill="#c4c410" stroke="#c4c410" stroke-width="0.45"/><polygon points="172.81,223.32 172.87,224.39 167.08,224.73 166.73,223.68" fill="#c4c410" stroke="#c4c410" stroke-width="0.45"/><polygon points="172.87,224.39 172.82,225.22 167.39,225.53 167.08,224.73" fill="#c4c410" stroke="#c4c410" stroke-width="0.45"/><polygon points="172.82,225.22 172.70,225.75 167.67,226.05 167.39,225.53" fill="#c4c410" stroke="#c4c410" stroke-width="0.45"/><polygon points="172.70,225.75 172.54,225.98 167.92,226.25 167.67,226.05" fill="#c4c410" stroke="#c4c410" stroke-width="0.45"/><polygon points="177.86,212.09 178.85,212.36 173.68,212.66 173.11,212.37" fill="#c4c410" stroke="#c4c410" stroke-width="0.45"/><polygon points="178.85,212.36 179.81,212.93 174.25,213.26 173.68,212.66" fill="#c4c410" stroke="#c4c410" stroke-width="0.45"/><polygon points="179.81,212.93 180.72,213.79 174.83,214.14 174.25,213.26" fill="#c4c410" stroke="#c4c410" stroke-width="0.45"/><polygon points="180.72,213.79 181.56,214.89 175.39,215.25 174.83,214.14" fill="#c4c410" stroke="#c4c410" stroke-width="0.45"/><polygon points="181.56,214.89 182.30,216.17 175.94,216.54 175.39,215.25" fill="#c4c410" stroke="#c4c410" stroke-width="0.45"/><polygon points="182.30,216.17 182.92,217.57 176.46,217.95 175.94,216.54" fill="#c4c410" stroke="#c4c410" stroke-width="0.45"/><polygon points="182.92,217.57 183.43,219.03 176.95,219.41 176.46,217.95" fill="#c4c410" stroke="#c4c410" stroke-width="0.45"/><polygon points="183.43,219.03 183.80,220.47 177.40,220.85 176.95,219.41" fill="#c4c410" stroke="#c4c410" stroke-width="0.45"/><polygon points="183.80,220.47 184.05,221.83 177.81,222.20 177.40,220.85" fill="#c4c410" stroke="#c4c410" stroke-width="0.45"/><polygon points="184.05,221.83 184.18,223.04 178.19,223.39 177.81,222.20" fill="#c4c410" stroke="#c4c410" stroke-width="0.45"/><polygon points="184.18,223.04 184.20,224.03 178.52,224.36 178.19,223.39" fill="#c4c410" stroke="#c4c410" stroke-width="0.45"/><polygon points="184.20,224.03 184.12,224.76 178.82,225.07 178.52,224.36" fill="#c4c410" stroke="#c4c410" stroke-width="0.45"/><polygon points="184.12,224.76 183.99,225.20 179.09,225.49 178.82,225.07" fill="#c4c410" stroke="#c4c410" stroke-width="0.45"/><polygon points="183.99,225.20 183.88,225.31 179.26,225.59 179.09,225.49" fill="#c4c410" stroke="#c4c410" stroke-width="0.45"/><polygon points="188.61,211.42 189.53,211.48 184.63,211.76 184.00,211.69" fill="#c4c410" stroke="#c4c410" stroke-width="0.45"/><polygon points="189.53,211.48 190.51,211.85 185.20,212.16 184.63,211.76" fill="#c4c410" stroke="#c4c410" stroke-width="0.45"/><polygon points="190.51,211.85 191.45,212.52 185.78,212.86 185.20,212.16" fill="#c4c410" stroke="#c4c410" stroke-width="0.45"/><polygon points="191.45,212.52 192.34,213.46 186.35,213.82 185.78,212.86" fill="#c4c410" stroke="#c4c410" stroke-width="0.45"/><polygon points="192.34,213.46 193.15,214.63 186.91,215.00 186.35,213.82" fill="#c4c410" stroke="#c4c410" stroke-width="0.45"/><polygon points="193.15,214.63 193.85,215.96 187.45,216.33 186.91,215.00" fill="#c4c410" stroke="#c4c410" stroke-width="0.45"/><polygon points="193.85,215.96 194.44,217.39 187.96,217.77 187.45,216.33" fill="#c4c410" stroke="#c4c410" stroke-width="0.45"/><polygon points="194.44,217.39 194.90,218.85 188.43,219.23 187.96,217.77" fill="#c4c410" stroke="#c4c410" stroke-width="0.45"/><polygon points="194.90,218.85 195.23,220.27 188.87,220.65 188.43,219.23" fill="#c4c410" stroke="#c4c410" stroke-width="0.45"/><polygon points="195.23,220.27 195.44,221.59 189.27,221.95 188.87,220.65" fill="#c4c410" stroke="#c4c410" stroke-width="0.45"/><polygon points="195.44,221.59 195.53,222.73 189.64,223.07 189.27,221.95" fill="#c4c410" stroke="#c4c410" stroke-width="0.45"/><polygon points="195.53,222.73 195.51,223.64 189.96,223.96 189.64,223.07" fill="#c4c410" stroke="#c4c410" stroke-width="0.45"/><polygon points="195.51,223.64 195.42,224.28 190.25,224.58 189.96,223.96" fill="#c4c410" stroke="#c4c410" stroke-width="0.45"/><polygon points="195.42,224.28 195.26,224.61 190.51,224.89 190.25,224.58" fill="#c4c410" stroke="#c4c410" stroke-width="0.45"/><polygon points="195.26,224.61 195.29,224.61 190.53,224.89 190.51,224.89" fill="#c4c410" stroke="#c4c410" stroke-width="0.45"/><polygon points="200.20,210.74 201.19,210.90 196.15,211.19 195.59,211.01" fill="#c4c410" stroke="#c4c410" stroke-width="0.45"/><polygon points="201.19,210.90 202.16,211.37 196.73,211.69 196.15,211.19" fill="#c4c410" stroke="#c4c410" stroke-width="0.45"/><polygon points="202.16,211.37 203.09,212.14 197.30,212.48 196.73,211.69" fill="#c4c410" stroke="#c4c410" stroke-width="0.45"/><polygon points="203.09,212.14 203.95,213.16 197.87,213.52 197.30,212.48" fill="#c4c410" stroke="#c4c410" stroke-width="0.45"/><polygon points="203.95,213.16 204.73,214.39 198.42,214.76 197.87,213.52" fill="#c4c410" stroke="#c4c410" stroke-width="0.45"/><polygon points="204.73,214.39 205.40,215.76 198.95,216.14 198.42,214.76" fill="#c4c410" stroke="#c4c410" stroke-width="0.45"/><polygon points="205.40,215.76 205.94,217.21 199.45,217.59 198.95,216.14" fill="#c4c410" stroke="#c4c410" stroke-width="0.45"/><polygon points="45.47,213.15 45.50,211.57 38.18,212.93 38.09,214.51" fill="#4a0088" stroke="#4a0088" stroke-width="0.5"/><polygon points="45.50,211.57 45.58,210.07 38.41,211.40 38.18,212.93" fill="#4a0088" stroke="#4a0088" stroke-width="0.5"/><polygon points="45.58,210.07 45.71,208.71 38.80,209.98 38.41,211.40" fill="#4a0088" stroke="#4a0088" stroke-width="0.5"/><polygon points="45.71,208.71 45.90,207.54 39.33,208.76 38.80,209.98" fill="#4a0088" stroke="#4a0088" stroke-width="0.5"/><polygon points="45.90,207.54 46.16,206.64 40.00,207.78 39.33,208.76" fill="#4a0088" stroke="#4a0088" stroke-width="0.5"/><polygon points="46.16,206.64 46.48,206.04 40.79,207.09 40.00,207.78" fill="#4a0088" stroke="#4a0088" stroke-width="0.5"/><polygon points="46.48,206.04 46.88,205.76 41.67,206.72 40.79,207.09" fill="#4a0088" stroke="#4a0088" stroke-width="0.5"/><polygon points="53.77,218.71 53.79,218.62 48.26,219.64 48.48,219.69" fill="#4a0088" stroke="#4a0088" stroke-width="0.5"/><polygon points="53.79,218.62 53.88,218.17 47.88,219.28 48.26,219.64" fill="#4a0088" stroke="#4a0088" stroke-width="0.5"/><polygon points="53.88,218.17 53.92,217.41 47.50,218.60 47.88,219.28" fill="#4a0088" stroke="#4a0088" stroke-width="0.5"/><polygon points="53.92,217.41 53.93,216.37 47.14,217.63 47.50,218.60" fill="#4a0088" stroke="#4a0088" stroke-width="0.5"/><polygon points="53.93,216.37 53.92,215.10 46.84,216.41 47.14,217.63" fill="#4a0088" stroke="#4a0088" stroke-width="0.5"/><polygon points="53.92,215.10 53.91,213.66 46.63,215.01 46.84,216.41" fill="#4a0088" stroke="#4a0088" stroke-width="0.5"/><polygon points="53.91,213.66 53.90,212.11 46.53,213.48 46.63,215.01" fill="#4a0088" stroke="#4a0088" stroke-width="0.5"/><polygon points="53.90,212.11 53.92,210.53 46.57,211.89 46.53,213.48" fill="#4a0088" stroke="#4a0088" stroke-width="0.5"/><polygon points="53.92,210.53 53.98,209.00 46.76,210.34 46.57,211.89" fill="#4a0088" stroke="#4a0088" stroke-width="0.5"/><polygon points="53.98,209.00 54.09,207.58 47.09,208.88 46.76,210.34" fill="#4a0088" stroke="#4a0088" stroke-width="0.5"/><polygon points="54.09,207.58 54.26,206.34 47.58,207.58 47.09,208.88" fill="#4a0088" stroke="#4a0088" stroke-width="0.5"/><polygon points="54.26,206.34 54.50,205.35 48.20,206.51 47.58,207.58" fill="#4a0088" stroke="#4a0088" stroke-width="0.5"/><polygon points="54.50,205.35 54.80,204.64 48.95,205.72 48.20,206.51" fill="#4a0088" stroke="#4a0088" stroke-width="0.5"/><polygon points="54.80,204.64 55.18,204.25 49.81,205.24 48.95,205.72" fill="#4a0088" stroke="#4a0088" stroke-width="0.5"/><polygon points="62.18,217.13 62.29,216.79 56.45,217.88 56.82,218.12" fill="#4a0088" stroke="#4a0088" stroke-width="0.5"/><polygon points="62.29,216.79 62.35,216.14 56.06,217.30 56.45,217.88" fill="#4a0088" stroke="#4a0088" stroke-width="0.5"/><polygon points="62.35,216.14 62.37,215.18 55.69,216.42 56.06,217.30" fill="#4a0088" stroke="#4a0088" stroke-width="0.5"/><polygon points="62.37,215.18 62.36,213.98 55.37,215.28 55.69,216.42" fill="#4a0088" stroke="#4a0088" stroke-width="0.5"/><polygon points="62.36,213.98 62.35,212.59 55.13,213.93 55.37,215.28" fill="#4a0088" stroke="#4a0088" stroke-width="0.5"/><polygon points="62.35,212.59 62.34,211.07 54.99,212.43 55.13,213.93" fill="#4a0088" stroke="#4a0088" stroke-width="0.5"/><polygon points="62.34,211.07 62.35,209.49 54.98,210.86 54.99,212.43" fill="#4a0088" stroke="#4a0088" stroke-width="0.5"/><polygon points="62.35,209.49 62.40,207.94 55.12,209.29 54.98,210.86" fill="#4a0088" stroke="#4a0088" stroke-width="0.5"/><polygon points="62.40,207.94 62.49,206.47 55.40,207.78 55.12,209.29" fill="#4a0088" stroke="#4a0088" stroke-width="0.5"/><polygon points="62.49,206.47 62.64,205.17 55.84,206.43 55.40,207.78" fill="#4a0088" stroke="#4a0088" stroke-width="0.5"/><polygon points="62.64,205.17 62.85,204.09 56.42,205.28 55.84,206.43" fill="#4a0088" stroke="#4a0088" stroke-width="0.5"/><polygon points="62.85,204.09 63.13,203.28 57.13,204.39 56.42,205.28" fill="#4a0088" stroke="#4a0088" stroke-width="0.5"/><polygon points="63.13,203.28 63.48,202.78 57.95,203.81 57.13,204.39" fill="#4a0088" stroke="#4a0088" stroke-width="0.5"/><polygon points="63.48,202.78 64.02,202.59 58.74,203.57 57.95,203.81" fill="#4a0088" stroke="#4a0088" stroke-width="0.5"/><polygon points="70.57,215.60 70.70,215.38 65.01,216.43 65.37,216.57" fill="#4a0088" stroke="#4a0088" stroke-width="0.5"/><polygon points="70.70,215.38 70.77,214.83 64.63,215.97 65.01,216.43" fill="#4a0088" stroke="#4a0088" stroke-width="0.5"/><polygon points="70.77,214.83 70.80,213.97 64.25,215.18 64.63,215.97" fill="#4a0088" stroke="#4a0088" stroke-width="0.5"/><polygon points="70.80,213.97 70.81,212.85 63.91,214.12 64.25,215.18" fill="#4a0088" stroke="#4a0088" stroke-width="0.5"/><polygon points="70.81,212.85 70.79,211.51 63.63,212.84 63.91,214.12" fill="#4a0088" stroke="#4a0088" stroke-width="0.5"/><polygon points="70.79,211.51 70.78,210.03 63.46,211.38 63.63,212.84" fill="#4a0088" stroke="#4a0088" stroke-width="0.5"/><polygon points="70.78,210.03 70.78,208.46 63.41,209.82 63.46,211.38" fill="#4a0088" stroke="#4a0088" stroke-width="0.5"/><polygon points="70.78,208.46 70.81,206.89 63.49,208.24 63.41,209.82" fill="#4a0088" stroke="#4a0088" stroke-width="0.5"/><polygon points="70.81,206.89 70.89,205.38 63.73,206.71 63.49,208.24" fill="#4a0088" stroke="#4a0088" stroke-width="0.5"/><polygon points="70.89,205.38 71.02,204.02 64.11,205.30 63.73,206.71" fill="#4a0088" stroke="#4a0088" stroke-width="0.5"/><polygon points="71.02,204.02 71.21,202.86 64.65,204.07 64.11,205.30" fill="#4a0088" stroke="#4a0088" stroke-width="0.5"/><polygon points="71.21,202.86 71.47,201.95 65.32,203.09 64.65,204.07" fill="#4a0088" stroke="#4a0088" stroke-width="0.5"/><polygon points="71.47,201.95 71.80,201.35 66.10,202.40 65.32,203.09" fill="#4a0088" stroke="#4a0088" stroke-width="0.5"/><polygon points="71.80,201.35 72.19,201.07 66.98,202.03 66.10,202.40" fill="#4a0088" stroke="#4a0088" stroke-width="0.5"/><polygon points="79.08,214.02 79.10,213.93 73.58,214.95 73.79,215.00" fill="#4a0088" stroke="#4a0088" stroke-width="0.5"/><polygon points="79.10,213.93 79.19,213.48 73.20,214.59 73.58,214.95" fill="#4a0088" stroke="#4a0088" stroke-width="0.5"/><polygon points="79.19,213.48 79.24,212.72 72.81,213.91 73.20,214.59" fill="#4a0088" stroke="#4a0088" stroke-width="0.5"/><polygon points="79.24,212.72 79.25,211.68 72.45,212.94 72.81,213.91" fill="#4a0088" stroke="#4a0088" stroke-width="0.5"/><polygon points="79.25,211.68 79.23,210.41 72.15,211.73 72.45,212.94" fill="#4a0088" stroke="#4a0088" stroke-width="0.5"/><polygon points="79.23,210.41 79.22,208.97 71.94,210.32 72.15,211.73" fill="#4a0088" stroke="#4a0088" stroke-width="0.5"/><polygon points="79.22,208.97 79.22,207.42 71.85,208.79 71.94,210.32" fill="#4a0088" stroke="#4a0088" stroke-width="0.5"/><polygon points="79.22,207.42 79.24,205.84 71.88,207.21 71.85,208.79" fill="#4a0088" stroke="#4a0088" stroke-width="0.5"/><polygon points="79.24,205.84 79.30,204.31 72.07,205.65 71.88,207.21" fill="#4a0088" stroke="#4a0088" stroke-width="0.5"/><polygon points="79.30,204.31 79.41,202.89 72.40,204.19 72.07,205.65" fill="#4a0088" stroke="#4a0088" stroke-width="0.5"/><polygon points="79.41,202.89 79.58,201.66 72.89,202.89 72.40,204.19" fill="#4a0088" stroke="#4a0088" stroke-width="0.5"/><polygon points="79.58,201.66 79.81,200.66 73.52,201.83 72.89,202.89" fill="#4a0088" stroke="#4a0088" stroke-width="0.5"/><polygon points="79.81,200.66 80.12,199.95 74.27,201.04 73.52,201.83" fill="#4a0088" stroke="#4a0088" stroke-width="0.5"/><polygon points="80.12,199.95 80.49,199.56 75.12,200.56 74.27,201.04" fill="#4a0088" stroke="#4a0088" stroke-width="0.5"/><polygon points="87.50,212.44 87.61,212.11 81.76,213.19 82.13,213.44" fill="#4a0088" stroke="#4a0088" stroke-width="0.5"/><polygon points="46.88,205.76 47.78,205.73 42.18,206.77 41.67,206.72" fill="#7a14c8" stroke="#7a14c8" stroke-width="0.45"/><polygon points="47.78,205.73 48.76,206.04 42.69,207.16 42.18,206.77" fill="#7a14c8" stroke="#7a14c8" stroke-width="0.45"/><polygon points="48.76,206.04 49.74,206.66 43.25,207.86 42.69,207.16" fill="#7a14c8" stroke="#7a14c8" stroke-width="0.45"/><polygon points="49.74,206.66 50.69,207.56 43.84,208.83 43.25,207.86" fill="#7a14c8" stroke="#7a14c8" stroke-width="0.45"/><polygon points="50.69,207.56 51.57,208.71 44.45,210.02 43.84,208.83" fill="#7a14c8" stroke="#7a14c8" stroke-width="0.45"/><polygon points="51.57,208.71 52.36,210.03 45.06,211.38 44.45,210.02" fill="#7a14c8" stroke="#7a14c8" stroke-width="0.45"/><polygon points="52.36,210.03 53.03,211.46 45.65,212.83 45.06,211.38" fill="#7a14c8" stroke="#7a14c8" stroke-width="0.45"/><polygon points="53.03,211.46 53.56,212.93 46.22,214.29 45.65,212.83" fill="#7a14c8" stroke="#7a14c8" stroke-width="0.45"/><polygon points="53.56,212.93 53.95,214.37 46.75,215.70 46.22,214.29" fill="#7a14c8" stroke="#7a14c8" stroke-width="0.45"/><polygon points="53.95,214.37 54.18,215.70 47.23,216.99 46.75,215.70" fill="#7a14c8" stroke="#7a14c8" stroke-width="0.45"/><polygon points="54.18,215.70 54.27,216.85 47.64,218.07 47.23,216.99" fill="#7a14c8" stroke="#7a14c8" stroke-width="0.45"/><polygon points="54.27,216.85 54.21,217.76 47.99,218.91 47.64,218.07" fill="#7a14c8" stroke="#7a14c8" stroke-width="0.45"/><polygon points="54.21,217.76 54.04,218.39 48.27,219.46 47.99,218.91" fill="#7a14c8" stroke="#7a14c8" stroke-width="0.45"/><polygon points="54.04,218.39 53.77,218.71 48.48,219.69 48.27,219.46" fill="#7a14c8" stroke="#7a14c8" stroke-width="0.45"/><polygon points="55.18,204.25 55.90,204.14 50.45,205.15 49.81,205.24" fill="#7a14c8" stroke="#7a14c8" stroke-width="0.45"/><polygon points="55.90,204.14 56.87,204.34 50.95,205.43 50.45,205.15" fill="#7a14c8" stroke="#7a14c8" stroke-width="0.45"/><polygon points="56.87,204.34 57.85,204.85 51.50,206.03 50.95,205.43" fill="#7a14c8" stroke="#7a14c8" stroke-width="0.45"/><polygon points="57.85,204.85 58.81,205.67 52.08,206.92 51.50,206.03" fill="#7a14c8" stroke="#7a14c8" stroke-width="0.45"/><polygon points="58.81,205.67 59.72,206.74 52.68,208.04 52.08,206.92" fill="#7a14c8" stroke="#7a14c8" stroke-width="0.45"/><polygon points="59.72,206.74 60.54,208.01 53.29,209.35 52.68,208.04" fill="#7a14c8" stroke="#7a14c8" stroke-width="0.45"/><polygon points="60.54,208.01 61.25,209.41 53.89,210.78 53.29,209.35" fill="#7a14c8" stroke="#7a14c8" stroke-width="0.45"/><polygon points="61.25,209.41 61.84,210.88 54.47,212.24 53.89,210.78" fill="#7a14c8" stroke="#7a14c8" stroke-width="0.45"/><polygon points="61.84,210.88 62.27,212.34 55.02,213.68 54.47,212.24" fill="#7a14c8" stroke="#7a14c8" stroke-width="0.45"/><polygon points="62.27,212.34 62.56,213.71 55.51,215.01 55.02,213.68" fill="#7a14c8" stroke="#7a14c8" stroke-width="0.45"/><polygon points="62.56,213.71 62.69,214.93 55.95,216.17 55.51,215.01" fill="#7a14c8" stroke="#7a14c8" stroke-width="0.45"/><polygon points="62.69,214.93 62.68,215.92 56.32,217.10 55.95,216.17" fill="#7a14c8" stroke="#7a14c8" stroke-width="0.45"/><polygon points="62.68,215.92 62.55,216.65 56.62,217.75 56.32,217.10" fill="#7a14c8" stroke="#7a14c8" stroke-width="0.45"/><polygon points="62.55,216.65 62.31,217.08 56.85,218.08 56.62,217.75" fill="#7a14c8" stroke="#7a14c8" stroke-width="0.45"/><polygon points="62.31,217.08 62.18,217.13 56.82,218.12 56.85,218.08" fill="#7a14c8" stroke="#7a14c8" stroke-width="0.45"/><polygon points="64.02,202.59 64.98,202.67 59.22,203.74 58.74,203.57" fill="#7a14c8" stroke="#7a14c8" stroke-width="0.45"/><polygon points="64.98,202.67 65.96,203.08 59.75,204.23 59.22,203.74" fill="#7a14c8" stroke="#7a14c8" stroke-width="0.45"/><polygon points="65.96,203.08 66.94,203.80 60.32,205.03 59.75,204.23" fill="#7a14c8" stroke="#7a14c8" stroke-width="0.45"/><polygon points="66.94,203.80 67.86,204.79 60.91,206.08 60.32,205.03" fill="#7a14c8" stroke="#7a14c8" stroke-width="0.45"/><polygon points="67.86,204.79 68.72,206.00 61.52,207.34 60.91,206.08" fill="#7a14c8" stroke="#7a14c8" stroke-width="0.45"/><polygon points="68.72,206.00 69.47,207.37 62.13,208.73 61.52,207.34" fill="#7a14c8" stroke="#7a14c8" stroke-width="0.45"/><polygon points="69.47,207.37 70.09,208.83 62.72,210.19 62.13,208.73" fill="#7a14c8" stroke="#7a14c8" stroke-width="0.45"/><polygon points="70.09,208.83 70.58,210.30 63.28,211.65 62.72,210.19" fill="#7a14c8" stroke="#7a14c8" stroke-width="0.45"/><polygon points="70.58,210.30 70.92,211.70 63.79,213.02 63.28,211.65" fill="#7a14c8" stroke="#7a14c8" stroke-width="0.45"/><polygon points="70.92,211.70 71.10,212.98 64.25,214.25 63.79,213.02" fill="#7a14c8" stroke="#7a14c8" stroke-width="0.45"/><polygon points="71.10,212.98 71.14,214.06 64.64,215.26 64.25,214.25" fill="#7a14c8" stroke="#7a14c8" stroke-width="0.45"/><polygon points="71.14,214.06 71.04,214.88 64.97,216.01 64.64,215.26" fill="#7a14c8" stroke="#7a14c8" stroke-width="0.45"/><polygon points="71.04,214.88 70.83,215.41 65.22,216.45 64.97,216.01" fill="#7a14c8" stroke="#7a14c8" stroke-width="0.45"/><polygon points="70.83,215.41 70.57,215.60 65.37,216.57 65.22,216.45" fill="#7a14c8" stroke="#7a14c8" stroke-width="0.45"/><polygon points="72.19,201.07 73.09,201.05 67.49,202.08 66.98,202.03" fill="#7a14c8" stroke="#7a14c8" stroke-width="0.45"/><polygon points="73.09,201.05 74.07,201.35 68.00,202.47 67.49,202.08" fill="#7a14c8" stroke="#7a14c8" stroke-width="0.45"/><polygon points="74.07,201.35 75.05,201.97 68.56,203.17 68.00,202.47" fill="#7a14c8" stroke="#7a14c8" stroke-width="0.45"/><polygon points="75.05,201.97 76.00,202.87 69.15,204.14 68.56,203.17" fill="#7a14c8" stroke="#7a14c8" stroke-width="0.45"/><polygon points="76.00,202.87 76.88,204.02 69.76,205.34 69.15,204.14" fill="#7a14c8" stroke="#7a14c8" stroke-width="0.45"/><polygon points="76.88,204.02 77.67,205.34 70.37,206.69 69.76,205.34" fill="#7a14c8" stroke="#7a14c8" stroke-width="0.45"/><polygon points="77.67,205.34 78.34,206.77 70.97,208.14 70.37,206.69" fill="#7a14c8" stroke="#7a14c8" stroke-width="0.45"/><polygon points="78.34,206.77 78.87,208.25 71.53,209.61 70.97,208.14" fill="#7a14c8" stroke="#7a14c8" stroke-width="0.45"/><polygon points="78.87,208.25 79.26,209.68 72.06,211.02 71.53,209.61" fill="#7a14c8" stroke="#7a14c8" stroke-width="0.45"/><polygon points="79.26,209.68 79.49,211.01 72.54,212.30 72.06,211.02" fill="#7a14c8" stroke="#7a14c8" stroke-width="0.45"/><polygon points="79.49,211.01 79.58,212.16 72.95,213.39 72.54,212.30" fill="#7a14c8" stroke="#7a14c8" stroke-width="0.45"/><polygon points="79.58,212.16 79.53,213.07 73.30,214.23 72.95,213.39" fill="#7a14c8" stroke="#7a14c8" stroke-width="0.45"/><polygon points="79.53,213.07 79.35,213.70 73.58,214.77 73.30,214.23" fill="#7a14c8" stroke="#7a14c8" stroke-width="0.45"/><polygon points="79.35,213.70 79.08,214.02 73.79,215.00 73.58,214.77" fill="#7a14c8" stroke="#7a14c8" stroke-width="0.45"/><polygon points="80.49,199.56 81.21,199.46 75.77,200.46 75.12,200.56" fill="#7a14c8" stroke="#7a14c8" stroke-width="0.45"/><polygon points="81.21,199.46 82.18,199.65 76.26,200.74 75.77,200.46" fill="#7a14c8" stroke="#7a14c8" stroke-width="0.45"/><polygon points="82.18,199.65 83.17,200.17 76.81,201.34 76.26,200.74" fill="#7a14c8" stroke="#7a14c8" stroke-width="0.45"/><polygon points="83.17,200.17 84.13,200.98 77.39,202.23 76.81,201.34" fill="#7a14c8" stroke="#7a14c8" stroke-width="0.45"/><polygon points="84.13,200.98 85.03,202.05 77.99,203.36 77.39,202.23" fill="#7a14c8" stroke="#7a14c8" stroke-width="0.45"/><polygon points="85.03,202.05 85.86,203.32 78.60,204.66 77.99,203.36" fill="#7a14c8" stroke="#7a14c8" stroke-width="0.45"/><polygon points="85.86,203.32 86.57,204.73 79.21,206.09 78.60,204.66" fill="#7a14c8" stroke="#7a14c8" stroke-width="0.45"/><polygon points="86.57,204.73 87.15,206.19 79.79,207.56 79.21,206.09" fill="#7a14c8" stroke="#7a14c8" stroke-width="0.45"/><polygon points="87.15,206.19 87.58,207.65 80.33,208.99 79.79,207.56" fill="#7a14c8" stroke="#7a14c8" stroke-width="0.45"/><polygon points="87.58,207.65 87.87,209.02 80.82,210.33 80.33,208.99" fill="#7a14c8" stroke="#7a14c8" stroke-width="0.45"/><polygon points="87.87,209.02 88.00,210.24 81.26,211.49 80.82,210.33" fill="#7a14c8" stroke="#7a14c8" stroke-width="0.45"/><polygon points="88.00,210.24 88.00,211.24 81.63,212.41 81.26,211.49" fill="#7a14c8" stroke="#7a14c8" stroke-width="0.45"/><polygon points="88.00,211.24 87.86,211.97 81.93,213.06 81.63,212.41" fill="#7a14c8" stroke="#7a14c8" stroke-width="0.45"/><polygon points="87.86,211.97 87.62,212.39 82.17,213.40 81.93,213.06" fill="#7a14c8" stroke="#7a14c8" stroke-width="0.45"/><polygon points="87.62,212.39 87.50,212.44 82.13,213.44 82.17,213.40" fill="#7a14c8" stroke="#7a14c8" stroke-width="0.45"/><path d="M86.00,207.00 C87.17,206.50 90.83,205.00 93.00,204.00 C95.17,203.00 97.00,202.00 99.00,201.00 C101.00,200.00 104.00,198.50 105.00,198.00" fill="none" stroke="#4a0088" stroke-width="2.20" stroke-linecap="round" stroke-linejoin="round"/><path d="M86.00,207.00 C87.17,206.50 90.83,205.00 93.00,204.00 C95.17,203.00 97.00,202.00 99.00,201.00 C101.00,200.00 104.00,198.50 105.00,198.00" fill="none" stroke="#7a14c8" stroke-width="1.30" stroke-linecap="round" stroke-linejoin="round"/><polygon points="64.34,218.60 64.69,217.35 57.75,217.08 57.34,218.33" fill="#5e5e5e" stroke="#5e5e5e" stroke-width="0.5"/><polygon points="64.69,217.35 65.05,216.16 58.25,215.90 57.75,217.08" fill="#5e5e5e" stroke="#5e5e5e" stroke-width="0.5"/><polygon points="65.05,216.16 65.40,215.09 58.84,214.84 58.25,215.90" fill="#5e5e5e" stroke="#5e5e5e" stroke-width="0.5"/><polygon points="65.40,215.09 65.76,214.19 59.52,213.95 58.84,214.84" fill="#5e5e5e" stroke="#5e5e5e" stroke-width="0.5"/><polygon points="65.76,214.19 66.11,213.50 60.25,213.27 59.52,213.95" fill="#5e5e5e" stroke="#5e5e5e" stroke-width="0.5"/><polygon points="66.11,213.50 66.45,213.06 61.02,212.85 60.25,213.27" fill="#5e5e5e" stroke="#5e5e5e" stroke-width="0.5"/><polygon points="66.45,213.06 66.78,212.88 61.81,212.69 61.02,212.85" fill="#5e5e5e" stroke="#5e5e5e" stroke-width="0.5"/><polygon points="70.87,224.61 71.16,224.35 65.58,224.13 65.74,224.41" fill="#5e5e5e" stroke="#5e5e5e" stroke-width="0.5"/><polygon points="71.16,224.35 71.46,223.82 65.47,223.59 65.58,224.13" fill="#5e5e5e" stroke="#5e5e5e" stroke-width="0.5"/><polygon points="71.46,223.82 71.77,223.06 65.42,222.82 65.47,223.59" fill="#5e5e5e" stroke="#5e5e5e" stroke-width="0.5"/><polygon points="71.77,223.06 72.09,222.10 65.45,221.84 65.42,222.82" fill="#5e5e5e" stroke="#5e5e5e" stroke-width="0.5"/><polygon points="72.09,222.10 72.43,220.98 65.57,220.72 65.45,221.84" fill="#5e5e5e" stroke="#5e5e5e" stroke-width="0.5"/><polygon points="72.43,220.98 72.77,219.77 65.80,219.50 65.57,220.72" fill="#5e5e5e" stroke="#5e5e5e" stroke-width="0.5"/><polygon points="72.77,219.77 73.12,218.51 66.13,218.24 65.80,219.50" fill="#5e5e5e" stroke="#5e5e5e" stroke-width="0.5"/><polygon points="73.12,218.51 73.48,217.28 66.57,217.01 66.13,218.24" fill="#5e5e5e" stroke="#5e5e5e" stroke-width="0.5"/><polygon points="73.48,217.28 73.83,216.12 67.11,215.86 66.57,217.01" fill="#5e5e5e" stroke="#5e5e5e" stroke-width="0.5"/><polygon points="73.83,216.12 74.19,215.10 67.73,214.85 67.11,215.86" fill="#5e5e5e" stroke="#5e5e5e" stroke-width="0.5"/><polygon points="74.19,215.10 74.54,214.27 68.42,214.03 67.73,214.85" fill="#5e5e5e" stroke="#5e5e5e" stroke-width="0.5"/><polygon points="74.54,214.27 74.89,213.66 69.17,213.44 68.42,214.03" fill="#5e5e5e" stroke="#5e5e5e" stroke-width="0.5"/><polygon points="74.89,213.66 75.23,213.30 69.95,213.10 69.17,213.44" fill="#5e5e5e" stroke="#5e5e5e" stroke-width="0.5"/><polygon points="75.23,213.30 75.63,213.22 70.66,213.03 69.95,213.10" fill="#5e5e5e" stroke="#5e5e5e" stroke-width="0.5"/><polygon points="79.43,224.97 79.63,224.89 74.35,224.68 74.45,224.78" fill="#5e5e5e" stroke="#5e5e5e" stroke-width="0.5"/><polygon points="79.63,224.89 79.92,224.53 74.21,224.32 74.35,224.68" fill="#5e5e5e" stroke="#5e5e5e" stroke-width="0.5"/><polygon points="79.92,224.53 80.23,223.93 74.11,223.69 74.21,224.32" fill="#5e5e5e" stroke="#5e5e5e" stroke-width="0.5"/><polygon points="80.23,223.93 80.54,223.09 74.09,222.85 74.11,223.69" fill="#5e5e5e" stroke="#5e5e5e" stroke-width="0.5"/><polygon points="80.54,223.09 80.87,222.07 74.15,221.82 74.09,222.85" fill="#5e5e5e" stroke="#5e5e5e" stroke-width="0.5"/><polygon points="80.87,222.07 81.21,220.92 74.30,220.65 74.15,221.82" fill="#5e5e5e" stroke="#5e5e5e" stroke-width="0.5"/><polygon points="81.21,220.92 81.55,219.69 74.57,219.42 74.30,220.65" fill="#5e5e5e" stroke="#5e5e5e" stroke-width="0.5"/><polygon points="81.55,219.69 81.91,218.43 74.93,218.16 74.57,219.42" fill="#5e5e5e" stroke="#5e5e5e" stroke-width="0.5"/><polygon points="81.91,218.43 82.26,217.21 75.40,216.95 74.93,218.16" fill="#5e5e5e" stroke="#5e5e5e" stroke-width="0.5"/><polygon points="82.26,217.21 82.62,216.10 75.97,215.84 75.40,216.95" fill="#5e5e5e" stroke="#5e5e5e" stroke-width="0.5"/><polygon points="82.62,216.10 82.97,215.13 76.62,214.89 75.97,215.84" fill="#5e5e5e" stroke="#5e5e5e" stroke-width="0.5"/><polygon points="82.97,215.13 83.33,214.37 77.33,214.14 76.62,214.89" fill="#5e5e5e" stroke="#5e5e5e" stroke-width="0.5"/><polygon points="83.33,214.37 83.67,213.84 78.09,213.63 77.33,214.14" fill="#5e5e5e" stroke="#5e5e5e" stroke-width="0.5"/><polygon points="83.67,213.84 84.01,213.58 78.88,213.38 78.09,213.63" fill="#5e5e5e" stroke="#5e5e5e" stroke-width="0.5"/><polygon points="84.01,213.58 84.56,213.60 79.44,213.40 78.88,213.38" fill="#5e5e5e" stroke="#5e5e5e" stroke-width="0.5"/><polygon points="88.11,225.30 88.39,225.13 82.97,224.92 83.14,225.11" fill="#5e5e5e" stroke="#5e5e5e" stroke-width="0.5"/><polygon points="88.39,225.13 88.69,224.69 82.84,224.47 82.97,224.92" fill="#5e5e5e" stroke="#5e5e5e" stroke-width="0.5"/><polygon points="88.69,224.69 89.00,224.01 82.76,223.77 82.84,224.47" fill="#5e5e5e" stroke="#5e5e5e" stroke-width="0.5"/><polygon points="89.00,224.01 89.32,223.11 82.76,222.85 82.76,223.77" fill="#5e5e5e" stroke="#5e5e5e" stroke-width="0.5"/><polygon points="89.32,223.11 89.65,222.04 82.85,221.77 82.76,222.85" fill="#5e5e5e" stroke="#5e5e5e" stroke-width="0.5"/><polygon points="89.65,222.04 89.99,220.85 83.05,220.58 82.85,221.77" fill="#5e5e5e" stroke="#5e5e5e" stroke-width="0.5"/><polygon points="89.99,220.85 90.34,219.60 83.34,219.33 83.05,220.58" fill="#5e5e5e" stroke="#5e5e5e" stroke-width="0.5"/><polygon points="66.78,212.88 67.48,213.00 62.21,212.80 61.81,212.69" fill="#8e8e8e" stroke="#8e8e8e" stroke-width="0.45"/><polygon points="67.48,213.00 68.23,213.39 62.52,213.17 62.21,212.80" fill="#8e8e8e" stroke="#8e8e8e" stroke-width="0.45"/><polygon points="68.23,213.39 68.94,214.04 62.82,213.81 62.52,213.17" fill="#8e8e8e" stroke="#8e8e8e" stroke-width="0.45"/><polygon points="68.94,214.04 69.57,214.91 63.11,214.66 62.82,213.81" fill="#8e8e8e" stroke="#8e8e8e" stroke-width="0.45"/><polygon points="69.57,214.91 70.11,215.96 63.38,215.70 63.11,214.66" fill="#8e8e8e" stroke="#8e8e8e" stroke-width="0.45"/><polygon points="70.11,215.96 70.56,217.15 63.65,216.88 63.38,215.70" fill="#8e8e8e" stroke="#8e8e8e" stroke-width="0.45"/><polygon points="70.56,217.15 70.90,218.41 63.91,218.14 63.65,216.88" fill="#8e8e8e" stroke="#8e8e8e" stroke-width="0.45"/><polygon points="70.90,218.41 71.14,219.69 64.16,219.42 63.91,218.14" fill="#8e8e8e" stroke="#8e8e8e" stroke-width="0.45"/><polygon points="71.14,219.69 71.27,220.92 64.41,220.66 64.16,219.42" fill="#8e8e8e" stroke="#8e8e8e" stroke-width="0.45"/><polygon points="71.27,220.92 71.31,222.05 64.66,221.80 64.41,220.66" fill="#8e8e8e" stroke="#8e8e8e" stroke-width="0.45"/><polygon points="71.31,222.05 71.27,223.03 64.91,222.78 64.66,221.80" fill="#8e8e8e" stroke="#8e8e8e" stroke-width="0.45"/><polygon points="71.27,223.03 71.16,223.80 65.16,223.57 64.91,222.78" fill="#8e8e8e" stroke="#8e8e8e" stroke-width="0.45"/><polygon points="71.16,223.80 71.00,224.34 65.42,224.12 65.16,223.57" fill="#8e8e8e" stroke="#8e8e8e" stroke-width="0.45"/><polygon points="71.00,224.34 70.82,224.61 65.69,224.41 65.42,224.12" fill="#8e8e8e" stroke="#8e8e8e" stroke-width="0.45"/><polygon points="70.82,224.61 70.87,224.61 65.74,224.41 65.69,224.41" fill="#8e8e8e" stroke="#8e8e8e" stroke-width="0.45"/><polygon points="75.63,213.22 76.41,213.44 70.98,213.23 70.66,213.03" fill="#8e8e8e" stroke="#8e8e8e" stroke-width="0.45"/><polygon points="76.41,213.44 77.14,213.92 71.29,213.69 70.98,213.23" fill="#8e8e8e" stroke="#8e8e8e" stroke-width="0.45"/><polygon points="77.14,213.92 77.82,214.64 71.58,214.40 71.29,213.69" fill="#8e8e8e" stroke="#8e8e8e" stroke-width="0.45"/><polygon points="77.82,214.64 78.42,215.58 71.87,215.32 71.58,214.40" fill="#8e8e8e" stroke="#8e8e8e" stroke-width="0.45"/><polygon points="78.42,215.58 78.94,216.68 72.14,216.42 71.87,215.32" fill="#8e8e8e" stroke="#8e8e8e" stroke-width="0.45"/><polygon points="78.94,216.68 79.35,217.90 72.41,217.63 72.14,216.42" fill="#8e8e8e" stroke="#8e8e8e" stroke-width="0.45"/><polygon points="79.35,217.90 79.66,219.17 72.66,218.90 72.41,217.63" fill="#8e8e8e" stroke="#8e8e8e" stroke-width="0.45"/><polygon points="79.66,219.17 79.86,220.44 72.91,220.17 72.66,218.90" fill="#8e8e8e" stroke="#8e8e8e" stroke-width="0.45"/><polygon points="79.86,220.44 79.96,221.65 73.16,221.38 72.91,220.17" fill="#8e8e8e" stroke="#8e8e8e" stroke-width="0.45"/><polygon points="79.96,221.65 79.97,222.73 73.41,222.48 73.16,221.38" fill="#8e8e8e" stroke="#8e8e8e" stroke-width="0.45"/><polygon points="79.97,222.73 79.90,223.64 73.66,223.40 73.41,222.48" fill="#8e8e8e" stroke="#8e8e8e" stroke-width="0.45"/><polygon points="79.90,223.64 79.77,224.34 73.92,224.12 73.66,223.40" fill="#8e8e8e" stroke="#8e8e8e" stroke-width="0.45"/><polygon points="79.77,224.34 79.61,224.79 74.18,224.58 73.92,224.12" fill="#8e8e8e" stroke="#8e8e8e" stroke-width="0.45"/><polygon points="79.61,224.79 79.43,224.97 74.45,224.78 74.18,224.58" fill="#8e8e8e" stroke="#8e8e8e" stroke-width="0.45"/><polygon points="84.56,213.60 85.32,213.90 79.75,213.69 79.44,213.40" fill="#8e8e8e" stroke="#8e8e8e" stroke-width="0.45"/><polygon points="85.32,213.90 86.04,214.47 80.06,214.24 79.75,213.69" fill="#8e8e8e" stroke="#8e8e8e" stroke-width="0.45"/><polygon points="86.04,214.47 86.70,215.26 80.35,215.02 80.06,214.24" fill="#8e8e8e" stroke="#8e8e8e" stroke-width="0.45"/><polygon points="86.70,215.26 87.27,216.26 80.63,216.01 80.35,215.02" fill="#8e8e8e" stroke="#8e8e8e" stroke-width="0.45"/><polygon points="87.27,216.26 87.75,217.41 80.90,217.14 80.63,216.01" fill="#8e8e8e" stroke="#8e8e8e" stroke-width="0.45"/><polygon points="87.75,217.41 88.13,218.65 81.16,218.38 80.90,217.14" fill="#8e8e8e" stroke="#8e8e8e" stroke-width="0.45"/><polygon points="88.13,218.65 88.40,219.93 81.41,219.66 81.16,218.38" fill="#8e8e8e" stroke="#8e8e8e" stroke-width="0.45"/><polygon points="88.40,219.93 88.57,221.19 81.66,220.92 81.41,219.66" fill="#8e8e8e" stroke="#8e8e8e" stroke-width="0.45"/><polygon points="88.57,221.19 88.64,222.36 81.91,222.10 81.66,220.92" fill="#8e8e8e" stroke="#8e8e8e" stroke-width="0.45"/><polygon points="88.64,222.36 88.62,223.39 82.16,223.14 81.91,222.10" fill="#8e8e8e" stroke="#8e8e8e" stroke-width="0.45"/><polygon points="88.62,223.39 88.53,224.24 82.41,224.00 82.16,223.14" fill="#8e8e8e" stroke="#8e8e8e" stroke-width="0.45"/><polygon points="88.53,224.24 88.39,224.85 82.67,224.63 82.41,224.00" fill="#8e8e8e" stroke="#8e8e8e" stroke-width="0.45"/><polygon points="88.39,224.85 88.22,225.21 82.93,225.01 82.67,224.63" fill="#8e8e8e" stroke="#8e8e8e" stroke-width="0.45"/><polygon points="88.22,225.21 88.11,225.30 83.14,225.11 82.93,225.01" fill="#8e8e8e" stroke="#8e8e8e" stroke-width="0.45"/></g>
</svg>
</body></html>
